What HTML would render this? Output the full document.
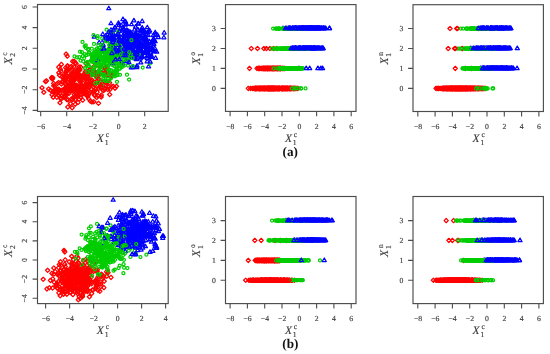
<!DOCTYPE html>
<html><head><meta charset="utf-8"><title>Figure</title>
<style>
html,body{margin:0;padding:0;background:#fff}
svg{display:block}
text{font-family:"Liberation Serif",serif;fill:#3c3c3c;stroke:#3c3c3c;stroke-width:.15px;text-rendering:geometricPrecision}
.t text{font-size:7.7px;text-anchor:middle}
.l{font-size:11.5px;font-style:italic}
.s{font-size:7.6px}
.c{font-size:13.2px;font-weight:bold;text-anchor:middle;fill:#111;stroke:none}
</style></head><body>
<svg width="550" height="354" viewBox="0 0 550 354">
<rect width="550" height="354" fill="#fff"/>
<g fill="none" stroke-linejoin="round" stroke-width="1.25">
<path stroke="#ff0000" d="M81.6 93.4l2.1-2.1 2.1 2.1-2.1 2.1zM91.3 86.9l2.1-2.1 2.1 2.1-2.1 2.1zM85.3 81.5l2.1-2.1 2.1 2.1-2.1 2.1zM60.1 90.1l2.1-2.1 2.1 2.1-2.1 2.1zM104 82.6l2.1-2.1 2.1 2.1-2.1 2.1zM107.6 94.5l2.1-2.1 2.1 2.1-2.1 2.1zM65 66.4l2.1-2.1 2.1 2.1-2.1 2.1zM92.2 74.7l2.1-2.1 2.1 2.1-2.1 2.1zM64.7 81.4l2.1-2.1 2.1 2.1-2.1 2.1zM71.8 66.7l2.1-2.1 2.1 2.1-2.1 2.1zM51.6 85.7l2.1-2.1 2.1 2.1-2.1 2.1zM75 72.4l2.1-2.1 2.1 2.1-2.1 2.1zM78.6 86.4l2.1-2.1 2.1 2.1-2.1 2.1zM84.3 95.4l2.1-2.1 2.1 2.1-2.1 2.1zM73.1 88.8l2.1-2.1 2.1 2.1-2.1 2.1zM56.6 67.1l2.1-2.1 2.1 2.1-2.1 2.1zM62.2 89.2l2.1-2.1 2.1 2.1-2.1 2.1zM82.2 93.1l2.1-2.1 2.1 2.1-2.1 2.1zM67.4 76.6l2.1-2.1 2.1 2.1-2.1 2.1zM51.5 83.4l2.1-2.1 2.1 2.1-2.1 2.1zM69.4 98.9l2.1-2.1 2.1 2.1-2.1 2.1zM49.9 94.8l2.1-2.1 2.1 2.1-2.1 2.1zM74.2 73l2.1-2.1 2.1 2.1-2.1 2.1zM74.2 93.1l2.1-2.1 2.1 2.1-2.1 2.1zM70.1 78.2l2.1-2.1 2.1 2.1-2.1 2.1zM61.5 97l2.1-2.1 2.1 2.1-2.1 2.1zM84.3 87.3l2.1-2.1 2.1 2.1-2.1 2.1zM95.6 95.7l2.1-2.1 2.1 2.1-2.1 2.1zM63.6 67.7l2.1-2.1 2.1 2.1-2.1 2.1zM63.9 93.7l2.1-2.1 2.1 2.1-2.1 2.1zM66.1 99.9l2.1-2.1 2.1 2.1-2.1 2.1zM95 81.4l2.1-2.1 2.1 2.1-2.1 2.1zM70.8 76.7l2.1-2.1 2.1 2.1-2.1 2.1zM75.4 89.9l2.1-2.1 2.1 2.1-2.1 2.1zM75.9 74.8l2.1-2.1 2.1 2.1-2.1 2.1zM90.8 71.3l2.1-2.1 2.1 2.1-2.1 2.1zM62.4 76l2.1-2.1 2.1 2.1-2.1 2.1zM80.5 76.8l2.1-2.1 2.1 2.1-2.1 2.1zM59.9 77l2.1-2.1 2.1 2.1-2.1 2.1zM88.2 101.1l2.1-2.1 2.1 2.1-2.1 2.1zM114.4 86.3l2.1-2.1 2.1 2.1-2.1 2.1zM75.1 91.3l2.1-2.1 2.1 2.1-2.1 2.1zM89 69.9l2.1-2.1 2.1 2.1-2.1 2.1zM64.1 85.2l2.1-2.1 2.1 2.1-2.1 2.1zM43.4 81.5l2.1-2.1 2.1 2.1-2.1 2.1zM72.4 96.9l2.1-2.1 2.1 2.1-2.1 2.1zM92.1 90.8l2.1-2.1 2.1 2.1-2.1 2.1zM82.9 76.2l2.1-2.1 2.1 2.1-2.1 2.1zM99.3 95.1l2.1-2.1 2.1 2.1-2.1 2.1zM99.1 97l2.1-2.1 2.1 2.1-2.1 2.1zM105.6 89.5l2.1-2.1 2.1 2.1-2.1 2.1zM85.6 96.4l2.1-2.1 2.1 2.1-2.1 2.1zM84.8 81.4l2.1-2.1 2.1 2.1-2.1 2.1zM83.6 74.4l2.1-2.1 2.1 2.1-2.1 2.1zM76.6 87.6l2.1-2.1 2.1 2.1-2.1 2.1zM73 99.6l2.1-2.1 2.1 2.1-2.1 2.1zM73.2 88.9l2.1-2.1 2.1 2.1-2.1 2.1zM67.9 89.1l2.1-2.1 2.1 2.1-2.1 2.1zM83.7 85.4l2.1-2.1 2.1 2.1-2.1 2.1zM65.1 69.1l2.1-2.1 2.1 2.1-2.1 2.1zM70.4 77.8l2.1-2.1 2.1 2.1-2.1 2.1zM83.3 74.7l2.1-2.1 2.1 2.1-2.1 2.1zM52.8 86.9l2.1-2.1 2.1 2.1-2.1 2.1zM94 65.6l2.1-2.1 2.1 2.1-2.1 2.1zM79.8 77.7l2.1-2.1 2.1 2.1-2.1 2.1zM69.7 89.3l2.1-2.1 2.1 2.1-2.1 2.1zM107.9 89.4l2.1-2.1 2.1 2.1-2.1 2.1zM75.5 87.5l2.1-2.1 2.1 2.1-2.1 2.1zM64.3 88.7l2.1-2.1 2.1 2.1-2.1 2.1zM76.9 75.7l2.1-2.1 2.1 2.1-2.1 2.1zM74 85.1l2.1-2.1 2.1 2.1-2.1 2.1zM71.6 74.1l2.1-2.1 2.1 2.1-2.1 2.1zM70.6 85.4l2.1-2.1 2.1 2.1-2.1 2.1zM55.7 92.2l2.1-2.1 2.1 2.1-2.1 2.1zM72.4 79l2.1-2.1 2.1 2.1-2.1 2.1zM62.5 78l2.1-2.1 2.1 2.1-2.1 2.1zM101.9 81.3l2.1-2.1 2.1 2.1-2.1 2.1zM80.3 85.9l2.1-2.1 2.1 2.1-2.1 2.1zM77.5 75.9l2.1-2.1 2.1 2.1-2.1 2.1zM74.1 90.2l2.1-2.1 2.1 2.1-2.1 2.1zM56 95l2.1-2.1 2.1 2.1-2.1 2.1zM84.4 73.2l2.1-2.1 2.1 2.1-2.1 2.1zM96.3 88.7l2.1-2.1 2.1 2.1-2.1 2.1zM81.4 90.1l2.1-2.1 2.1 2.1-2.1 2.1zM74.9 86.1l2.1-2.1 2.1 2.1-2.1 2.1zM89.6 71.5l2.1-2.1 2.1 2.1-2.1 2.1zM84.4 89.3l2.1-2.1 2.1 2.1-2.1 2.1z"/>
<path stroke="#ff0000" d="M97.9 74.2l2.1-2.1 2.1 2.1-2.1 2.1zM67.7 88l2.1-2.1 2.1 2.1-2.1 2.1zM104 81.9l2.1-2.1 2.1 2.1-2.1 2.1zM82.5 75l2.1-2.1 2.1 2.1-2.1 2.1zM91.1 72.2l2.1-2.1 2.1 2.1-2.1 2.1zM77.9 79.4l2.1-2.1 2.1 2.1-2.1 2.1zM51.9 92.8l2.1-2.1 2.1 2.1-2.1 2.1zM68.3 90.4l2.1-2.1 2.1 2.1-2.1 2.1zM64.5 71l2.1-2.1 2.1 2.1-2.1 2.1zM74.5 86.7l2.1-2.1 2.1 2.1-2.1 2.1zM50.9 91.4l2.1-2.1 2.1 2.1-2.1 2.1zM71.2 98l2.1-2.1 2.1 2.1-2.1 2.1zM79.2 78.5l2.1-2.1 2.1 2.1-2.1 2.1zM64.6 94.8l2.1-2.1 2.1 2.1-2.1 2.1zM110.4 74.6l2.1-2.1 2.1 2.1-2.1 2.1zM103.7 74l2.1-2.1 2.1 2.1-2.1 2.1zM66.1 79.4l2.1-2.1 2.1 2.1-2.1 2.1zM67.9 84.7l2.1-2.1 2.1 2.1-2.1 2.1zM77.4 69.3l2.1-2.1 2.1 2.1-2.1 2.1zM92.4 95.4l2.1-2.1 2.1 2.1-2.1 2.1zM41.7 92.3l2.1-2.1 2.1 2.1-2.1 2.1zM87.3 83.1l2.1-2.1 2.1 2.1-2.1 2.1zM69.8 70.2l2.1-2.1 2.1 2.1-2.1 2.1zM91.5 66.7l2.1-2.1 2.1 2.1-2.1 2.1zM76.9 75l2.1-2.1 2.1 2.1-2.1 2.1zM73 78l2.1-2.1 2.1 2.1-2.1 2.1zM78.7 67.1l2.1-2.1 2.1 2.1-2.1 2.1zM104.4 82.6l2.1-2.1 2.1 2.1-2.1 2.1zM100.5 89.8l2.1-2.1 2.1 2.1-2.1 2.1zM76.1 71.3l2.1-2.1 2.1 2.1-2.1 2.1zM56.3 90l2.1-2.1 2.1 2.1-2.1 2.1zM72.2 85.1l2.1-2.1 2.1 2.1-2.1 2.1zM75.9 102.5l2.1-2.1 2.1 2.1-2.1 2.1zM109.7 86.8l2.1-2.1 2.1 2.1-2.1 2.1zM101.7 82l2.1-2.1 2.1 2.1-2.1 2.1zM82.2 87.3l2.1-2.1 2.1 2.1-2.1 2.1zM77 99.2l2.1-2.1 2.1 2.1-2.1 2.1zM87.5 74.5l2.1-2.1 2.1 2.1-2.1 2.1zM90.7 92.7l2.1-2.1 2.1 2.1-2.1 2.1zM75.8 69l2.1-2.1 2.1 2.1-2.1 2.1zM64.8 86.4l2.1-2.1 2.1 2.1-2.1 2.1zM64 72.2l2.1-2.1 2.1 2.1-2.1 2.1zM57.4 93.1l2.1-2.1 2.1 2.1-2.1 2.1zM85.7 89.9l2.1-2.1 2.1 2.1-2.1 2.1zM79 84.5l2.1-2.1 2.1 2.1-2.1 2.1zM70.4 76.1l2.1-2.1 2.1 2.1-2.1 2.1zM95.2 77.3l2.1-2.1 2.1 2.1-2.1 2.1zM87 82.8l2.1-2.1 2.1 2.1-2.1 2.1z"/>
<path stroke="#00cd00" d="M105.5 63.5a1.5 1.5 0 1 0 3 0a1.5 1.5 0 1 0-3 0M103.2 55.6a1.5 1.5 0 1 0 3 0a1.5 1.5 0 1 0-3 0"/>
<path stroke="#0000ff" d="M119.5 46.5l2 3.5-4.1 0zM124.1 37.9l2 3.5-4.1 0zM127.6 44.8l2 3.5-4.1 0zM136.8 53l2 3.5-4.1 0zM130.2 37.1l2 3.5-4.1 0zM137.8 53.5l2 3.5-4.1 0zM126.7 39.9l2 3.5-4.1 0zM122.6 61.5l2 3.5-4.1 0zM156.7 49.6l2 3.5-4.1 0zM119 22.9l2 3.5-4.1 0zM145.3 49.5l2 3.5-4.1 0zM146.6 45.8l2 3.5-4.1 0zM131.9 55.4l2 3.5-4.1 0zM123.4 27.3l2 3.5-4.1 0zM140.9 55.2l2 3.5-4.1 0zM123.1 41.7l2 3.5-4.1 0zM152.7 38l2 3.5-4.1 0zM141.2 51.2l2 3.5-4.1 0zM123.4 48.9l2 3.5-4.1 0zM123.6 35.9l2 3.5-4.1 0zM139.2 39.6l2 3.5-4.1 0zM136.9 48.2l2 3.5-4.1 0zM130.4 52.9l2 3.5-4.1 0zM143.8 37.3l2 3.5-4.1 0zM109.5 33.2l2 3.5-4.1 0zM129.9 29.5l2 3.5-4.1 0zM150.9 50.4l2 3.5-4.1 0zM128.1 31.4l2 3.5-4.1 0zM132.5 44.6l2 3.5-4.1 0zM143.7 47.5l2 3.5-4.1 0zM153.4 33l2 3.5-4.1 0zM111 27.7l2 3.5-4.1 0zM133.9 36.6l2 3.5-4.1 0zM133.5 52.4l2 3.5-4.1 0zM94.3 34.6l2 3.5-4.1 0zM131 38.7l2 3.5-4.1 0zM138 27.5l2 3.5-4.1 0z"/>
<path stroke="#ff0000" d="M85.7 76.2l2.1-2.1 2.1 2.1-2.1 2.1zM59.3 64.4l2.1-2.1 2.1 2.1-2.1 2.1zM70.5 61.4l2.1-2.1 2.1 2.1-2.1 2.1zM102.8 89.3l2.1-2.1 2.1 2.1-2.1 2.1zM58.6 98l2.1-2.1 2.1 2.1-2.1 2.1zM72.9 87.2l2.1-2.1 2.1 2.1-2.1 2.1zM83.2 93l2.1-2.1 2.1 2.1-2.1 2.1zM48.4 90.2l2.1-2.1 2.1 2.1-2.1 2.1zM68 75.2l2.1-2.1 2.1 2.1-2.1 2.1zM89.4 79.9l2.1-2.1 2.1 2.1-2.1 2.1zM76.1 74.6l2.1-2.1 2.1 2.1-2.1 2.1zM74 63.4l2.1-2.1 2.1 2.1-2.1 2.1zM44.4 80.9l2.1-2.1 2.1 2.1-2.1 2.1zM61.6 90.7l2.1-2.1 2.1 2.1-2.1 2.1zM57.3 90.2l2.1-2.1 2.1 2.1-2.1 2.1zM73.1 96.1l2.1-2.1 2.1 2.1-2.1 2.1zM75.8 95.2l2.1-2.1 2.1 2.1-2.1 2.1zM54.6 90.4l2.1-2.1 2.1 2.1-2.1 2.1zM55.2 83.5l2.1-2.1 2.1 2.1-2.1 2.1zM56.9 89.3l2.1-2.1 2.1 2.1-2.1 2.1zM89.8 102l2.1-2.1 2.1 2.1-2.1 2.1zM75.2 90.2l2.1-2.1 2.1 2.1-2.1 2.1z"/>
<path stroke="#00cd00" d="M97.6 75.5a1.5 1.5 0 1 0 3 0a1.5 1.5 0 1 0-3 0M108 48.7a1.5 1.5 0 1 0 3 0a1.5 1.5 0 1 0-3 0M104.9 65.9a1.5 1.5 0 1 0 3 0a1.5 1.5 0 1 0-3 0M92 35.2a1.5 1.5 0 1 0 3 0a1.5 1.5 0 1 0-3 0M96.8 55.1a1.5 1.5 0 1 0 3 0a1.5 1.5 0 1 0-3 0M106.7 60.6a1.5 1.5 0 1 0 3 0a1.5 1.5 0 1 0-3 0M93.4 59.9a1.5 1.5 0 1 0 3 0a1.5 1.5 0 1 0-3 0M116.8 40.7a1.5 1.5 0 1 0 3 0a1.5 1.5 0 1 0-3 0M95.2 57.3a1.5 1.5 0 1 0 3 0a1.5 1.5 0 1 0-3 0M98.5 64.9a1.5 1.5 0 1 0 3 0a1.5 1.5 0 1 0-3 0M116.1 53.5a1.5 1.5 0 1 0 3 0a1.5 1.5 0 1 0-3 0M105.4 67.4a1.5 1.5 0 1 0 3 0a1.5 1.5 0 1 0-3 0M103.9 76.4a1.5 1.5 0 1 0 3 0a1.5 1.5 0 1 0-3 0M100.1 72.9a1.5 1.5 0 1 0 3 0a1.5 1.5 0 1 0-3 0M99.1 53a1.5 1.5 0 1 0 3 0a1.5 1.5 0 1 0-3 0M110.2 47a1.5 1.5 0 1 0 3 0a1.5 1.5 0 1 0-3 0M97.5 56.9a1.5 1.5 0 1 0 3 0a1.5 1.5 0 1 0-3 0M92.1 58.7a1.5 1.5 0 1 0 3 0a1.5 1.5 0 1 0-3 0M103.6 61.6a1.5 1.5 0 1 0 3 0a1.5 1.5 0 1 0-3 0M92.5 43.9a1.5 1.5 0 1 0 3 0a1.5 1.5 0 1 0-3 0M106.9 65.7a1.5 1.5 0 1 0 3 0a1.5 1.5 0 1 0-3 0M99.4 66.8a1.5 1.5 0 1 0 3 0a1.5 1.5 0 1 0-3 0M88.7 83.3a1.5 1.5 0 1 0 3 0a1.5 1.5 0 1 0-3 0M78.5 51.7a1.5 1.5 0 1 0 3 0a1.5 1.5 0 1 0-3 0M103.3 61.3a1.5 1.5 0 1 0 3 0a1.5 1.5 0 1 0-3 0M116 57.1a1.5 1.5 0 1 0 3 0a1.5 1.5 0 1 0-3 0M118 57.8a1.5 1.5 0 1 0 3 0a1.5 1.5 0 1 0-3 0M121.5 62.7a1.5 1.5 0 1 0 3 0a1.5 1.5 0 1 0-3 0M101.3 52.1a1.5 1.5 0 1 0 3 0a1.5 1.5 0 1 0-3 0M124.3 55.9a1.5 1.5 0 1 0 3 0a1.5 1.5 0 1 0-3 0M112.1 46.4a1.5 1.5 0 1 0 3 0a1.5 1.5 0 1 0-3 0M108.2 69.9a1.5 1.5 0 1 0 3 0a1.5 1.5 0 1 0-3 0M114.8 70.3a1.5 1.5 0 1 0 3 0a1.5 1.5 0 1 0-3 0M83.4 68a1.5 1.5 0 1 0 3 0a1.5 1.5 0 1 0-3 0"/>
<path stroke="#0000ff" d="M135.5 33.6l2 3.5-4.1 0zM112.7 53.3l2 3.5-4.1 0zM134.3 39.3l2 3.5-4.1 0zM144.9 29.5l2 3.5-4.1 0zM140.2 43.6l2 3.5-4.1 0zM152.1 39.9l2 3.5-4.1 0zM108.5 35l2 3.5-4.1 0zM163.9 35.3l2 3.5-4.1 0zM132.8 39.7l2 3.5-4.1 0zM136.4 57l2 3.5-4.1 0zM128.2 37.9l2 3.5-4.1 0zM149.7 43.1l2 3.5-4.1 0zM141.1 53.1l2 3.5-4.1 0zM139.5 41.8l2 3.5-4.1 0zM123.7 39.9l2 3.5-4.1 0zM135.6 24.6l2 3.5-4.1 0zM133.7 40.9l2 3.5-4.1 0zM131 30.6l2 3.5-4.1 0zM130.1 49l2 3.5-4.1 0zM128.5 45.1l2 3.5-4.1 0zM144.2 37.6l2 3.5-4.1 0zM143.3 43.7l2 3.5-4.1 0zM122 50.8l2 3.5-4.1 0zM124.5 50.9l2 3.5-4.1 0zM140.7 43.9l2 3.5-4.1 0zM123.3 36.2l2 3.5-4.1 0zM131.7 53.7l2 3.5-4.1 0zM115.3 40.7l2 3.5-4.1 0zM128 53.5l2 3.5-4.1 0zM141 44l2 3.5-4.1 0zM126.6 36.6l2 3.5-4.1 0z"/>
<path stroke="#ff0000" d="M57.4 75.3l2.1-2.1 2.1 2.1-2.1 2.1zM87.2 69.9l2.1-2.1 2.1 2.1-2.1 2.1zM72.6 79.9l2.1-2.1 2.1 2.1-2.1 2.1zM69.2 82.4l2.1-2.1 2.1 2.1-2.1 2.1zM69.8 79.4l2.1-2.1 2.1 2.1-2.1 2.1zM79.1 94.8l2.1-2.1 2.1 2.1-2.1 2.1zM96.4 82.7l2.1-2.1 2.1 2.1-2.1 2.1zM108.4 73.5l2.1-2.1 2.1 2.1-2.1 2.1zM73 62.9l2.1-2.1 2.1 2.1-2.1 2.1zM65.2 56.1l2.1-2.1 2.1 2.1-2.1 2.1zM99.7 72.5l2.1-2.1 2.1 2.1-2.1 2.1zM71.7 79.5l2.1-2.1 2.1 2.1-2.1 2.1zM68.1 67.1l2.1-2.1 2.1 2.1-2.1 2.1zM95.6 74.3l2.1-2.1 2.1 2.1-2.1 2.1zM85.9 95.6l2.1-2.1 2.1 2.1-2.1 2.1zM53.7 93.5l2.1-2.1 2.1 2.1-2.1 2.1zM112.9 88.2l2.1-2.1 2.1 2.1-2.1 2.1zM63.6 92.5l2.1-2.1 2.1 2.1-2.1 2.1zM59 99.1l2.1-2.1 2.1 2.1-2.1 2.1zM90.9 71.1l2.1-2.1 2.1 2.1-2.1 2.1zM78.4 77.4l2.1-2.1 2.1 2.1-2.1 2.1zM70.7 74.8l2.1-2.1 2.1 2.1-2.1 2.1zM107.5 82.8l2.1-2.1 2.1 2.1-2.1 2.1zM68.5 71l2.1-2.1 2.1 2.1-2.1 2.1zM72.1 61.2l2.1-2.1 2.1 2.1-2.1 2.1zM63.9 75l2.1-2.1 2.1 2.1-2.1 2.1zM49.5 77.6l2.1-2.1 2.1 2.1-2.1 2.1zM94.6 97.5l2.1-2.1 2.1 2.1-2.1 2.1zM80.6 100.1l2.1-2.1 2.1 2.1-2.1 2.1zM50.7 77.8l2.1-2.1 2.1 2.1-2.1 2.1zM64.8 99.6l2.1-2.1 2.1 2.1-2.1 2.1zM59.9 81.9l2.1-2.1 2.1 2.1-2.1 2.1zM86.2 84.7l2.1-2.1 2.1 2.1-2.1 2.1zM77.4 83.9l2.1-2.1 2.1 2.1-2.1 2.1z"/>
<path stroke="#00cd00" d="M98.6 55.5a1.5 1.5 0 1 0 3 0a1.5 1.5 0 1 0-3 0M87.2 62.4a1.5 1.5 0 1 0 3 0a1.5 1.5 0 1 0-3 0M118.3 68.8a1.5 1.5 0 1 0 3 0a1.5 1.5 0 1 0-3 0M107.6 57.9a1.5 1.5 0 1 0 3 0a1.5 1.5 0 1 0-3 0M98.4 55.8a1.5 1.5 0 1 0 3 0a1.5 1.5 0 1 0-3 0M102.7 60.1a1.5 1.5 0 1 0 3 0a1.5 1.5 0 1 0-3 0M107.3 54.4a1.5 1.5 0 1 0 3 0a1.5 1.5 0 1 0-3 0M114.6 63.1a1.5 1.5 0 1 0 3 0a1.5 1.5 0 1 0-3 0M101.1 85.5a1.5 1.5 0 1 0 3 0a1.5 1.5 0 1 0-3 0M97.3 56a1.5 1.5 0 1 0 3 0a1.5 1.5 0 1 0-3 0M92.4 71a1.5 1.5 0 1 0 3 0a1.5 1.5 0 1 0-3 0M109 60.4a1.5 1.5 0 1 0 3 0a1.5 1.5 0 1 0-3 0M112.3 49.6a1.5 1.5 0 1 0 3 0a1.5 1.5 0 1 0-3 0M83.3 54a1.5 1.5 0 1 0 3 0a1.5 1.5 0 1 0-3 0M106.4 49.8a1.5 1.5 0 1 0 3 0a1.5 1.5 0 1 0-3 0M96.4 56.1a1.5 1.5 0 1 0 3 0a1.5 1.5 0 1 0-3 0M119.9 67.4a1.5 1.5 0 1 0 3 0a1.5 1.5 0 1 0-3 0M90.9 58.9a1.5 1.5 0 1 0 3 0a1.5 1.5 0 1 0-3 0M97.2 52.8a1.5 1.5 0 1 0 3 0a1.5 1.5 0 1 0-3 0M116.3 47.7a1.5 1.5 0 1 0 3 0a1.5 1.5 0 1 0-3 0M89 71.7a1.5 1.5 0 1 0 3 0a1.5 1.5 0 1 0-3 0M106.3 66.3a1.5 1.5 0 1 0 3 0a1.5 1.5 0 1 0-3 0M95.1 56.6a1.5 1.5 0 1 0 3 0a1.5 1.5 0 1 0-3 0M98.9 58.4a1.5 1.5 0 1 0 3 0a1.5 1.5 0 1 0-3 0M100.9 60.1a1.5 1.5 0 1 0 3 0a1.5 1.5 0 1 0-3 0M109.1 58.8a1.5 1.5 0 1 0 3 0a1.5 1.5 0 1 0-3 0M102.5 62.3a1.5 1.5 0 1 0 3 0a1.5 1.5 0 1 0-3 0M102 46.4a1.5 1.5 0 1 0 3 0a1.5 1.5 0 1 0-3 0"/>
<path stroke="#0000ff" d="M120.5 40.4l2 3.5-4.1 0zM110.7 41.2l2 3.5-4.1 0zM147.3 25.2l2 3.5-4.1 0zM144.4 43.8l2 3.5-4.1 0zM151 54.9l2 3.5-4.1 0zM147.5 53.9l2 3.5-4.1 0zM127.7 45.9l2 3.5-4.1 0zM121.4 60.9l2 3.5-4.1 0zM104.6 48.5l2 3.5-4.1 0zM147.6 41.1l2 3.5-4.1 0zM134.2 55l2 3.5-4.1 0zM147.8 45.3l2 3.5-4.1 0zM147.2 46.4l2 3.5-4.1 0zM132.8 48.4l2 3.5-4.1 0zM155.6 55.8l2 3.5-4.1 0zM133.2 48.4l2 3.5-4.1 0zM133.2 38.2l2 3.5-4.1 0zM164.2 30.5l2 3.5-4.1 0zM106.4 38l2 3.5-4.1 0zM128.7 37.4l2 3.5-4.1 0zM134.5 56l2 3.5-4.1 0zM143.6 28.2l2 3.5-4.1 0zM134.9 42.3l2 3.5-4.1 0zM153.8 36.7l2 3.5-4.1 0zM116.6 52.1l2 3.5-4.1 0z"/>
<path stroke="#ff0000" d="M97.7 84l2.1-2.1 2.1 2.1-2.1 2.1zM93 94.9l2.1-2.1 2.1 2.1-2.1 2.1zM73.4 78.9l2.1-2.1 2.1 2.1-2.1 2.1zM53 89.6l2.1-2.1 2.1 2.1-2.1 2.1zM84 74.3l2.1-2.1 2.1 2.1-2.1 2.1zM77.2 77.9l2.1-2.1 2.1 2.1-2.1 2.1zM105.9 74.8l2.1-2.1 2.1 2.1-2.1 2.1zM68.2 84.1l2.1-2.1 2.1 2.1-2.1 2.1zM95.1 92.1l2.1-2.1 2.1 2.1-2.1 2.1zM68.5 75.4l2.1-2.1 2.1 2.1-2.1 2.1zM77.9 86.7l2.1-2.1 2.1 2.1-2.1 2.1zM69 86l2.1-2.1 2.1 2.1-2.1 2.1zM70.9 81.9l2.1-2.1 2.1 2.1-2.1 2.1zM88 92.5l2.1-2.1 2.1 2.1-2.1 2.1zM56.3 89.2l2.1-2.1 2.1 2.1-2.1 2.1zM70.3 85.1l2.1-2.1 2.1 2.1-2.1 2.1zM92.2 85.3l2.1-2.1 2.1 2.1-2.1 2.1zM87.1 87.1l2.1-2.1 2.1 2.1-2.1 2.1zM79.8 85.1l2.1-2.1 2.1 2.1-2.1 2.1zM67.2 91.1l2.1-2.1 2.1 2.1-2.1 2.1zM98.5 85.4l2.1-2.1 2.1 2.1-2.1 2.1zM84.2 87.7l2.1-2.1 2.1 2.1-2.1 2.1z"/>
<path stroke="#00cd00" d="M86.9 54.4a1.5 1.5 0 1 0 3 0a1.5 1.5 0 1 0-3 0M112.8 53.5a1.5 1.5 0 1 0 3 0a1.5 1.5 0 1 0-3 0M85.9 61.8a1.5 1.5 0 1 0 3 0a1.5 1.5 0 1 0-3 0M118.8 62.5a1.5 1.5 0 1 0 3 0a1.5 1.5 0 1 0-3 0M94 63.2a1.5 1.5 0 1 0 3 0a1.5 1.5 0 1 0-3 0M122.4 58.8a1.5 1.5 0 1 0 3 0a1.5 1.5 0 1 0-3 0M127.3 60.8a1.5 1.5 0 1 0 3 0a1.5 1.5 0 1 0-3 0M107.7 58.5a1.5 1.5 0 1 0 3 0a1.5 1.5 0 1 0-3 0M124.7 48.7a1.5 1.5 0 1 0 3 0a1.5 1.5 0 1 0-3 0M91.5 58a1.5 1.5 0 1 0 3 0a1.5 1.5 0 1 0-3 0M111.6 73.4a1.5 1.5 0 1 0 3 0a1.5 1.5 0 1 0-3 0M119.9 52.2a1.5 1.5 0 1 0 3 0a1.5 1.5 0 1 0-3 0M114.9 37.5a1.5 1.5 0 1 0 3 0a1.5 1.5 0 1 0-3 0M123.7 45.9a1.5 1.5 0 1 0 3 0a1.5 1.5 0 1 0-3 0M96.7 77.4a1.5 1.5 0 1 0 3 0a1.5 1.5 0 1 0-3 0M118 68.3a1.5 1.5 0 1 0 3 0a1.5 1.5 0 1 0-3 0M109.6 50.2a1.5 1.5 0 1 0 3 0a1.5 1.5 0 1 0-3 0M116.7 61.5a1.5 1.5 0 1 0 3 0a1.5 1.5 0 1 0-3 0M115 68.5a1.5 1.5 0 1 0 3 0a1.5 1.5 0 1 0-3 0M107.2 59.9a1.5 1.5 0 1 0 3 0a1.5 1.5 0 1 0-3 0M114.9 70.3a1.5 1.5 0 1 0 3 0a1.5 1.5 0 1 0-3 0M84.3 71.1a1.5 1.5 0 1 0 3 0a1.5 1.5 0 1 0-3 0M94.5 77.2a1.5 1.5 0 1 0 3 0a1.5 1.5 0 1 0-3 0M108.5 31.7a1.5 1.5 0 1 0 3 0a1.5 1.5 0 1 0-3 0M104.3 52.1a1.5 1.5 0 1 0 3 0a1.5 1.5 0 1 0-3 0M111.6 54.9a1.5 1.5 0 1 0 3 0a1.5 1.5 0 1 0-3 0M96.8 71.7a1.5 1.5 0 1 0 3 0a1.5 1.5 0 1 0-3 0M104.1 69.3a1.5 1.5 0 1 0 3 0a1.5 1.5 0 1 0-3 0M106.3 69.5a1.5 1.5 0 1 0 3 0a1.5 1.5 0 1 0-3 0M113.7 50.9a1.5 1.5 0 1 0 3 0a1.5 1.5 0 1 0-3 0M92.6 70.5a1.5 1.5 0 1 0 3 0a1.5 1.5 0 1 0-3 0M106.5 52.1a1.5 1.5 0 1 0 3 0a1.5 1.5 0 1 0-3 0M116.2 52.9a1.5 1.5 0 1 0 3 0a1.5 1.5 0 1 0-3 0M111 52.3a1.5 1.5 0 1 0 3 0a1.5 1.5 0 1 0-3 0M90.5 55.9a1.5 1.5 0 1 0 3 0a1.5 1.5 0 1 0-3 0"/>
<path stroke="#0000ff" d="M141.5 44l2 3.5-4.1 0zM146.7 49.2l2 3.5-4.1 0zM113.5 32l2 3.5-4.1 0zM119.3 38.1l2 3.5-4.1 0zM140.8 60.4l2 3.5-4.1 0zM123.6 51.2l2 3.5-4.1 0zM118.5 36.4l2 3.5-4.1 0zM134.5 27.5l2 3.5-4.1 0zM112.9 32.7l2 3.5-4.1 0zM149.1 29.6l2 3.5-4.1 0zM149.5 39.6l2 3.5-4.1 0zM137.8 27.5l2 3.5-4.1 0zM140.4 56.3l2 3.5-4.1 0zM134.5 53.9l2 3.5-4.1 0zM126.5 21.9l2 3.5-4.1 0zM152.4 39.4l2 3.5-4.1 0zM138.8 44.3l2 3.5-4.1 0zM125.6 48.2l2 3.5-4.1 0zM117.6 32.3l2 3.5-4.1 0zM143.3 40.9l2 3.5-4.1 0zM138.9 48.4l2 3.5-4.1 0zM117.7 37.2l2 3.5-4.1 0zM141.7 54.8l2 3.5-4.1 0zM140.8 28.2l2 3.5-4.1 0zM128.3 31.2l2 3.5-4.1 0zM130.2 44l2 3.5-4.1 0zM114.7 45.4l2 3.5-4.1 0zM147.2 41.4l2 3.5-4.1 0zM103.7 37.7l2 3.5-4.1 0zM133.9 18.4l2 3.5-4.1 0z"/>
<path stroke="#ff0000" d="M62.1 96.5l2.1-2.1 2.1 2.1-2.1 2.1zM91.9 91.4l2.1-2.1 2.1 2.1-2.1 2.1zM97.6 86.4l2.1-2.1 2.1 2.1-2.1 2.1zM94.9 80.9l2.1-2.1 2.1 2.1-2.1 2.1zM64 54.1l2.1-2.1 2.1 2.1-2.1 2.1zM72.6 86.3l2.1-2.1 2.1 2.1-2.1 2.1zM78 80.6l2.1-2.1 2.1 2.1-2.1 2.1zM52.5 90.8l2.1-2.1 2.1 2.1-2.1 2.1zM62.9 96.1l2.1-2.1 2.1 2.1-2.1 2.1zM75.9 96.3l2.1-2.1 2.1 2.1-2.1 2.1zM90.2 80.4l2.1-2.1 2.1 2.1-2.1 2.1zM93.3 74l2.1-2.1 2.1 2.1-2.1 2.1zM62 74.4l2.1-2.1 2.1 2.1-2.1 2.1zM81 83.4l2.1-2.1 2.1 2.1-2.1 2.1zM67.5 85.9l2.1-2.1 2.1 2.1-2.1 2.1zM81 89.8l2.1-2.1 2.1 2.1-2.1 2.1zM68.4 85.9l2.1-2.1 2.1 2.1-2.1 2.1zM86.6 98.7l2.1-2.1 2.1 2.1-2.1 2.1zM79.5 90.1l2.1-2.1 2.1 2.1-2.1 2.1zM95.5 63.3l2.1-2.1 2.1 2.1-2.1 2.1zM70.4 99.8l2.1-2.1 2.1 2.1-2.1 2.1zM50.3 79l2.1-2.1 2.1 2.1-2.1 2.1zM77.7 75.1l2.1-2.1 2.1 2.1-2.1 2.1zM83.2 71.7l2.1-2.1 2.1 2.1-2.1 2.1zM79.1 91.8l2.1-2.1 2.1 2.1-2.1 2.1zM69.2 81.9l2.1-2.1 2.1 2.1-2.1 2.1zM79.2 79.7l2.1-2.1 2.1 2.1-2.1 2.1zM68.5 84.7l2.1-2.1 2.1 2.1-2.1 2.1zM71 89.5l2.1-2.1 2.1 2.1-2.1 2.1zM66 86.8l2.1-2.1 2.1 2.1-2.1 2.1zM63.7 78.2l2.1-2.1 2.1 2.1-2.1 2.1zM96.4 78.9l2.1-2.1 2.1 2.1-2.1 2.1zM39.9 87.7l2.1-2.1 2.1 2.1-2.1 2.1zM49.9 78.8l2.1-2.1 2.1 2.1-2.1 2.1zM71.1 90.2l2.1-2.1 2.1 2.1-2.1 2.1z"/>
<path stroke="#00cd00" d="M106.9 56.8a1.5 1.5 0 1 0 3 0a1.5 1.5 0 1 0-3 0M115.4 51.7a1.5 1.5 0 1 0 3 0a1.5 1.5 0 1 0-3 0M81.3 56.2a1.5 1.5 0 1 0 3 0a1.5 1.5 0 1 0-3 0M109.5 59.3a1.5 1.5 0 1 0 3 0a1.5 1.5 0 1 0-3 0M121.1 66.6a1.5 1.5 0 1 0 3 0a1.5 1.5 0 1 0-3 0M100.7 38.2a1.5 1.5 0 1 0 3 0a1.5 1.5 0 1 0-3 0M85.9 64.6a1.5 1.5 0 1 0 3 0a1.5 1.5 0 1 0-3 0M125.5 74.7a1.5 1.5 0 1 0 3 0a1.5 1.5 0 1 0-3 0M91.1 54.2a1.5 1.5 0 1 0 3 0a1.5 1.5 0 1 0-3 0M94.8 74.4a1.5 1.5 0 1 0 3 0a1.5 1.5 0 1 0-3 0M93.8 50a1.5 1.5 0 1 0 3 0a1.5 1.5 0 1 0-3 0M126.5 65.6a1.5 1.5 0 1 0 3 0a1.5 1.5 0 1 0-3 0M99.4 51.1a1.5 1.5 0 1 0 3 0a1.5 1.5 0 1 0-3 0M97.7 51.5a1.5 1.5 0 1 0 3 0a1.5 1.5 0 1 0-3 0M108.1 54.3a1.5 1.5 0 1 0 3 0a1.5 1.5 0 1 0-3 0M129.7 45.7a1.5 1.5 0 1 0 3 0a1.5 1.5 0 1 0-3 0M109.9 49a1.5 1.5 0 1 0 3 0a1.5 1.5 0 1 0-3 0M107.9 81.1a1.5 1.5 0 1 0 3 0a1.5 1.5 0 1 0-3 0M120.7 37.4a1.5 1.5 0 1 0 3 0a1.5 1.5 0 1 0-3 0M115.4 65.5a1.5 1.5 0 1 0 3 0a1.5 1.5 0 1 0-3 0M106.4 78.9a1.5 1.5 0 1 0 3 0a1.5 1.5 0 1 0-3 0M104.1 70a1.5 1.5 0 1 0 3 0a1.5 1.5 0 1 0-3 0"/>
<path stroke="#0000ff" d="M131.7 38.2l2 3.5-4.1 0zM133.9 42.5l2 3.5-4.1 0zM128.2 41.7l2 3.5-4.1 0zM129 37.9l2 3.5-4.1 0zM101.8 46.8l2 3.5-4.1 0zM141.6 52.5l2 3.5-4.1 0zM115.2 25.4l2 3.5-4.1 0zM136.8 65.2l2 3.5-4.1 0zM108.3 36.8l2 3.5-4.1 0zM144.9 35.3l2 3.5-4.1 0zM118 32.8l2 3.5-4.1 0zM155.4 31.7l2 3.5-4.1 0zM123.1 25.5l2 3.5-4.1 0zM130.8 40.5l2 3.5-4.1 0zM148.6 46.7l2 3.5-4.1 0zM128.2 33.9l2 3.5-4.1 0zM115.3 56.9l2 3.5-4.1 0zM124.3 51.6l2 3.5-4.1 0zM146.4 32.5l2 3.5-4.1 0zM142.2 28.6l2 3.5-4.1 0zM118.5 20.9l2 3.5-4.1 0zM145.3 36.6l2 3.5-4.1 0zM128.3 43.7l2 3.5-4.1 0zM152 46.7l2 3.5-4.1 0zM129.5 43.4l2 3.5-4.1 0zM112.6 35.1l2 3.5-4.1 0zM140.4 42.6l2 3.5-4.1 0zM147.4 30l2 3.5-4.1 0zM118.5 48.9l2 3.5-4.1 0zM144.2 33.6l2 3.5-4.1 0z"/>
<path stroke="#ff0000" d="M67.3 88.1l2.1-2.1 2.1 2.1-2.1 2.1zM75.4 75.5l2.1-2.1 2.1 2.1-2.1 2.1zM83.9 63.9l2.1-2.1 2.1 2.1-2.1 2.1zM91 91.2l2.1-2.1 2.1 2.1-2.1 2.1zM86.3 78.2l2.1-2.1 2.1 2.1-2.1 2.1zM54.4 89.6l2.1-2.1 2.1 2.1-2.1 2.1zM55.4 90.2l2.1-2.1 2.1 2.1-2.1 2.1zM66.8 93.5l2.1-2.1 2.1 2.1-2.1 2.1zM73.1 104.2l2.1-2.1 2.1 2.1-2.1 2.1zM84.5 84.2l2.1-2.1 2.1 2.1-2.1 2.1zM99.1 87.4l2.1-2.1 2.1 2.1-2.1 2.1zM105.6 86.5l2.1-2.1 2.1 2.1-2.1 2.1zM87.6 85.3l2.1-2.1 2.1 2.1-2.1 2.1zM46.5 89l2.1-2.1 2.1 2.1-2.1 2.1zM58.2 69.3l2.1-2.1 2.1 2.1-2.1 2.1zM71.9 87.2l2.1-2.1 2.1 2.1-2.1 2.1zM70.1 90.6l2.1-2.1 2.1 2.1-2.1 2.1zM89.4 89.4l2.1-2.1 2.1 2.1-2.1 2.1zM60.9 82.1l2.1-2.1 2.1 2.1-2.1 2.1zM77.9 88.4l2.1-2.1 2.1 2.1-2.1 2.1zM56.5 82.6l2.1-2.1 2.1 2.1-2.1 2.1zM93.4 74.7l2.1-2.1 2.1 2.1-2.1 2.1zM74.2 70.8l2.1-2.1 2.1 2.1-2.1 2.1zM80.1 91.3l2.1-2.1 2.1 2.1-2.1 2.1z"/>
<path stroke="#00cd00" d="M114.4 70.6a1.5 1.5 0 1 0 3 0a1.5 1.5 0 1 0-3 0M101.9 58.7a1.5 1.5 0 1 0 3 0a1.5 1.5 0 1 0-3 0M95.2 65.5a1.5 1.5 0 1 0 3 0a1.5 1.5 0 1 0-3 0M125.6 61.1a1.5 1.5 0 1 0 3 0a1.5 1.5 0 1 0-3 0M103.6 69.7a1.5 1.5 0 1 0 3 0a1.5 1.5 0 1 0-3 0M123.3 41.8a1.5 1.5 0 1 0 3 0a1.5 1.5 0 1 0-3 0M113 54.1a1.5 1.5 0 1 0 3 0a1.5 1.5 0 1 0-3 0M96.2 36.2a1.5 1.5 0 1 0 3 0a1.5 1.5 0 1 0-3 0M121.4 61.6a1.5 1.5 0 1 0 3 0a1.5 1.5 0 1 0-3 0M109.2 46.3a1.5 1.5 0 1 0 3 0a1.5 1.5 0 1 0-3 0M105.1 29.7a1.5 1.5 0 1 0 3 0a1.5 1.5 0 1 0-3 0M98.3 47.6a1.5 1.5 0 1 0 3 0a1.5 1.5 0 1 0-3 0M101.9 66a1.5 1.5 0 1 0 3 0a1.5 1.5 0 1 0-3 0M103.4 50.7a1.5 1.5 0 1 0 3 0a1.5 1.5 0 1 0-3 0M109.1 75.7a1.5 1.5 0 1 0 3 0a1.5 1.5 0 1 0-3 0M102.7 59a1.5 1.5 0 1 0 3 0a1.5 1.5 0 1 0-3 0M111.8 39.4a1.5 1.5 0 1 0 3 0a1.5 1.5 0 1 0-3 0M95.9 52.3a1.5 1.5 0 1 0 3 0a1.5 1.5 0 1 0-3 0M89.1 71.6a1.5 1.5 0 1 0 3 0a1.5 1.5 0 1 0-3 0M90.3 60.5a1.5 1.5 0 1 0 3 0a1.5 1.5 0 1 0-3 0M113 61.1a1.5 1.5 0 1 0 3 0a1.5 1.5 0 1 0-3 0M87.7 52.3a1.5 1.5 0 1 0 3 0a1.5 1.5 0 1 0-3 0M92.5 57.2a1.5 1.5 0 1 0 3 0a1.5 1.5 0 1 0-3 0M105.4 67.7a1.5 1.5 0 1 0 3 0a1.5 1.5 0 1 0-3 0M104.6 57.8a1.5 1.5 0 1 0 3 0a1.5 1.5 0 1 0-3 0M96.8 56a1.5 1.5 0 1 0 3 0a1.5 1.5 0 1 0-3 0M107.2 49a1.5 1.5 0 1 0 3 0a1.5 1.5 0 1 0-3 0M84.3 45.3a1.5 1.5 0 1 0 3 0a1.5 1.5 0 1 0-3 0M96 56.2a1.5 1.5 0 1 0 3 0a1.5 1.5 0 1 0-3 0M109.7 78.1a1.5 1.5 0 1 0 3 0a1.5 1.5 0 1 0-3 0M112.2 71.7a1.5 1.5 0 1 0 3 0a1.5 1.5 0 1 0-3 0"/>
<path stroke="#0000ff" d="M154.1 38.1l2 3.5-4.1 0zM128.5 44.6l2 3.5-4.1 0zM154.6 49.1l2 3.5-4.1 0zM126.1 58.9l2 3.5-4.1 0zM148.2 33l2 3.5-4.1 0zM137 63.6l2 3.5-4.1 0zM108.7 29.9l2 3.5-4.1 0zM121.7 40.9l2 3.5-4.1 0zM136.6 35.9l2 3.5-4.1 0zM113.9 36.5l2 3.5-4.1 0zM124.8 44.7l2 3.5-4.1 0zM145.1 36.8l2 3.5-4.1 0zM140.1 43l2 3.5-4.1 0zM124.6 52.3l2 3.5-4.1 0zM127.6 49.6l2 3.5-4.1 0zM147.9 47.6l2 3.5-4.1 0zM113.3 46.1l2 3.5-4.1 0zM128.1 28.8l2 3.5-4.1 0zM151.5 53.6l2 3.5-4.1 0zM138.4 33.7l2 3.5-4.1 0zM120 41.8l2 3.5-4.1 0zM108.3 53.1l2 3.5-4.1 0zM131.5 22.2l2 3.5-4.1 0zM133.9 54.7l2 3.5-4.1 0zM124.3 31.1l2 3.5-4.1 0zM113.5 40l2 3.5-4.1 0zM148.6 64.3l2 3.5-4.1 0zM125.5 33.6l2 3.5-4.1 0zM135.7 52.4l2 3.5-4.1 0zM113.4 35.5l2 3.5-4.1 0zM154.8 46l2 3.5-4.1 0zM110.5 43.5l2 3.5-4.1 0z"/>
<path stroke="#ff0000" d="M72.1 94.6l2.1-2.1 2.1 2.1-2.1 2.1zM59.3 84l2.1-2.1 2.1 2.1-2.1 2.1zM94.1 88.9l2.1-2.1 2.1 2.1-2.1 2.1zM111.1 86.2l2.1-2.1 2.1 2.1-2.1 2.1zM103.8 85.9l2.1-2.1 2.1 2.1-2.1 2.1zM65.7 107l2.1-2.1 2.1 2.1-2.1 2.1zM75.7 90l2.1-2.1 2.1 2.1-2.1 2.1zM70.1 107.8l2.1-2.1 2.1 2.1-2.1 2.1zM69.8 81.2l2.1-2.1 2.1 2.1-2.1 2.1zM64.8 70.3l2.1-2.1 2.1 2.1-2.1 2.1zM88.6 81.2l2.1-2.1 2.1 2.1-2.1 2.1zM63.4 83.9l2.1-2.1 2.1 2.1-2.1 2.1zM82.9 87.2l2.1-2.1 2.1 2.1-2.1 2.1zM75.5 93.9l2.1-2.1 2.1 2.1-2.1 2.1zM86.4 84.8l2.1-2.1 2.1 2.1-2.1 2.1zM80.9 93.4l2.1-2.1 2.1 2.1-2.1 2.1zM77.4 89.1l2.1-2.1 2.1 2.1-2.1 2.1zM96.8 65.7l2.1-2.1 2.1 2.1-2.1 2.1zM65.5 65.8l2.1-2.1 2.1 2.1-2.1 2.1zM76.6 91l2.1-2.1 2.1 2.1-2.1 2.1zM82.9 85.2l2.1-2.1 2.1 2.1-2.1 2.1zM72.3 85.6l2.1-2.1 2.1 2.1-2.1 2.1zM83.2 77.9l2.1-2.1 2.1 2.1-2.1 2.1zM96.4 103.3l2.1-2.1 2.1 2.1-2.1 2.1zM63.8 79.4l2.1-2.1 2.1 2.1-2.1 2.1zM98.7 82.1l2.1-2.1 2.1 2.1-2.1 2.1zM102.6 67.8l2.1-2.1 2.1 2.1-2.1 2.1zM85.5 77.8l2.1-2.1 2.1 2.1-2.1 2.1zM79.4 76.4l2.1-2.1 2.1 2.1-2.1 2.1zM80.3 88.7l2.1-2.1 2.1 2.1-2.1 2.1zM89 73.6l2.1-2.1 2.1 2.1-2.1 2.1zM79.6 86.1l2.1-2.1 2.1 2.1-2.1 2.1zM56.7 72.7l2.1-2.1 2.1 2.1-2.1 2.1zM83.5 79.1l2.1-2.1 2.1 2.1-2.1 2.1zM62.6 88.4l2.1-2.1 2.1 2.1-2.1 2.1z"/>
<path stroke="#00cd00" d="M81 41.9a1.5 1.5 0 1 0 3 0a1.5 1.5 0 1 0-3 0M103.7 52.9a1.5 1.5 0 1 0 3 0a1.5 1.5 0 1 0-3 0M113.9 56.5a1.5 1.5 0 1 0 3 0a1.5 1.5 0 1 0-3 0M92.8 62.2a1.5 1.5 0 1 0 3 0a1.5 1.5 0 1 0-3 0M115.9 74.6a1.5 1.5 0 1 0 3 0a1.5 1.5 0 1 0-3 0M84.8 55.2a1.5 1.5 0 1 0 3 0a1.5 1.5 0 1 0-3 0M108.3 41.8a1.5 1.5 0 1 0 3 0a1.5 1.5 0 1 0-3 0M92.5 52.4a1.5 1.5 0 1 0 3 0a1.5 1.5 0 1 0-3 0M105.4 71.2a1.5 1.5 0 1 0 3 0a1.5 1.5 0 1 0-3 0M106 55.4a1.5 1.5 0 1 0 3 0a1.5 1.5 0 1 0-3 0M118.8 45.7a1.5 1.5 0 1 0 3 0a1.5 1.5 0 1 0-3 0M104.5 41.4a1.5 1.5 0 1 0 3 0a1.5 1.5 0 1 0-3 0M114.2 74.6a1.5 1.5 0 1 0 3 0a1.5 1.5 0 1 0-3 0M80.4 52a1.5 1.5 0 1 0 3 0a1.5 1.5 0 1 0-3 0M100.8 80.3a1.5 1.5 0 1 0 3 0a1.5 1.5 0 1 0-3 0M90.1 59.8a1.5 1.5 0 1 0 3 0a1.5 1.5 0 1 0-3 0M103.8 75a1.5 1.5 0 1 0 3 0a1.5 1.5 0 1 0-3 0M92.9 67.4a1.5 1.5 0 1 0 3 0a1.5 1.5 0 1 0-3 0M125.3 56.5a1.5 1.5 0 1 0 3 0a1.5 1.5 0 1 0-3 0M97.1 49.4a1.5 1.5 0 1 0 3 0a1.5 1.5 0 1 0-3 0M90.4 75.2a1.5 1.5 0 1 0 3 0a1.5 1.5 0 1 0-3 0M109.4 34.3a1.5 1.5 0 1 0 3 0a1.5 1.5 0 1 0-3 0M97.9 66.4a1.5 1.5 0 1 0 3 0a1.5 1.5 0 1 0-3 0M110.5 51.5a1.5 1.5 0 1 0 3 0a1.5 1.5 0 1 0-3 0"/>
<path stroke="#0000ff" d="M112 34.2l2 3.5-4.1 0zM109.3 51.1l2 3.5-4.1 0zM147.3 56.1l2 3.5-4.1 0zM120.4 26.2l2 3.5-4.1 0zM132.8 53.8l2 3.5-4.1 0zM124.2 48.1l2 3.5-4.1 0zM158.3 35.1l2 3.5-4.1 0zM134.6 34.8l2 3.5-4.1 0zM146 35.7l2 3.5-4.1 0zM148 41.4l2 3.5-4.1 0zM124.7 30.5l2 3.5-4.1 0zM142.3 28.5l2 3.5-4.1 0zM141.8 27.5l2 3.5-4.1 0zM148.1 44.3l2 3.5-4.1 0zM147.2 59.3l2 3.5-4.1 0zM108.8 6.2l2 3.5-4.1 0zM125.5 19.4l2 3.5-4.1 0zM135.3 32.4l2 3.5-4.1 0zM116.9 33l2 3.5-4.1 0zM131.6 36.6l2 3.5-4.1 0zM124.8 50l2 3.5-4.1 0zM157.5 32.8l2 3.5-4.1 0zM138.7 47.3l2 3.5-4.1 0zM151.9 47.5l2 3.5-4.1 0zM126.9 44.5l2 3.5-4.1 0zM144.9 50.8l2 3.5-4.1 0zM122.2 39l2 3.5-4.1 0zM146.8 46.5l2 3.5-4.1 0z"/>
<path stroke="#ff0000" d="M81.5 74.4l2.1-2.1 2.1 2.1-2.1 2.1zM58.9 71.1l2.1-2.1 2.1 2.1-2.1 2.1zM91.7 101.7l2.1-2.1 2.1 2.1-2.1 2.1zM91.5 83.7l2.1-2.1 2.1 2.1-2.1 2.1zM77.9 69.9l2.1-2.1 2.1 2.1-2.1 2.1zM84.5 79.3l2.1-2.1 2.1 2.1-2.1 2.1zM109.7 75.7l2.1-2.1 2.1 2.1-2.1 2.1zM101.4 90.6l2.1-2.1 2.1 2.1-2.1 2.1zM77.6 81l2.1-2.1 2.1 2.1-2.1 2.1zM103 72.7l2.1-2.1 2.1 2.1-2.1 2.1zM93.4 72.2l2.1-2.1 2.1 2.1-2.1 2.1zM54.7 97.3l2.1-2.1 2.1 2.1-2.1 2.1zM82.3 86.5l2.1-2.1 2.1 2.1-2.1 2.1zM78.5 97.1l2.1-2.1 2.1 2.1-2.1 2.1zM69.3 80.7l2.1-2.1 2.1 2.1-2.1 2.1zM60.1 95.9l2.1-2.1 2.1 2.1-2.1 2.1zM88.6 84l2.1-2.1 2.1 2.1-2.1 2.1zM51.1 97.2l2.1-2.1 2.1 2.1-2.1 2.1zM86.8 93.7l2.1-2.1 2.1 2.1-2.1 2.1zM61.2 78l2.1-2.1 2.1 2.1-2.1 2.1zM65 91.1l2.1-2.1 2.1 2.1-2.1 2.1zM62.5 97.1l2.1-2.1 2.1 2.1-2.1 2.1zM68.4 103.7l2.1-2.1 2.1 2.1-2.1 2.1zM99 72.7l2.1-2.1 2.1 2.1-2.1 2.1zM79.1 79.2l2.1-2.1 2.1 2.1-2.1 2.1zM69.4 66.6l2.1-2.1 2.1 2.1-2.1 2.1z"/>
<path stroke="#00cd00" d="M103.5 61.3a1.5 1.5 0 1 0 3 0a1.5 1.5 0 1 0-3 0M84.2 47.8a1.5 1.5 0 1 0 3 0a1.5 1.5 0 1 0-3 0M100 66.6a1.5 1.5 0 1 0 3 0a1.5 1.5 0 1 0-3 0M96 38a1.5 1.5 0 1 0 3 0a1.5 1.5 0 1 0-3 0M91.7 74.3a1.5 1.5 0 1 0 3 0a1.5 1.5 0 1 0-3 0M95.4 48.7a1.5 1.5 0 1 0 3 0a1.5 1.5 0 1 0-3 0M93.8 52.9a1.5 1.5 0 1 0 3 0a1.5 1.5 0 1 0-3 0M104 60a1.5 1.5 0 1 0 3 0a1.5 1.5 0 1 0-3 0M108.2 44.8a1.5 1.5 0 1 0 3 0a1.5 1.5 0 1 0-3 0M79 60.5a1.5 1.5 0 1 0 3 0a1.5 1.5 0 1 0-3 0M107.6 45a1.5 1.5 0 1 0 3 0a1.5 1.5 0 1 0-3 0M116 57.4a1.5 1.5 0 1 0 3 0a1.5 1.5 0 1 0-3 0M93.2 56a1.5 1.5 0 1 0 3 0a1.5 1.5 0 1 0-3 0M87.7 66.2a1.5 1.5 0 1 0 3 0a1.5 1.5 0 1 0-3 0M111.4 57.4a1.5 1.5 0 1 0 3 0a1.5 1.5 0 1 0-3 0M105.6 63.4a1.5 1.5 0 1 0 3 0a1.5 1.5 0 1 0-3 0M116.6 41.1a1.5 1.5 0 1 0 3 0a1.5 1.5 0 1 0-3 0M113.5 71.8a1.5 1.5 0 1 0 3 0a1.5 1.5 0 1 0-3 0M110.4 56.8a1.5 1.5 0 1 0 3 0a1.5 1.5 0 1 0-3 0M105 40.8a1.5 1.5 0 1 0 3 0a1.5 1.5 0 1 0-3 0M105.9 53.1a1.5 1.5 0 1 0 3 0a1.5 1.5 0 1 0-3 0M127.6 79.6a1.5 1.5 0 1 0 3 0a1.5 1.5 0 1 0-3 0M112.8 66.1a1.5 1.5 0 1 0 3 0a1.5 1.5 0 1 0-3 0M107.6 54.1a1.5 1.5 0 1 0 3 0a1.5 1.5 0 1 0-3 0M115.4 44.6a1.5 1.5 0 1 0 3 0a1.5 1.5 0 1 0-3 0M113.4 61a1.5 1.5 0 1 0 3 0a1.5 1.5 0 1 0-3 0M87 48.8a1.5 1.5 0 1 0 3 0a1.5 1.5 0 1 0-3 0M107.7 69.8a1.5 1.5 0 1 0 3 0a1.5 1.5 0 1 0-3 0M111.6 55.4a1.5 1.5 0 1 0 3 0a1.5 1.5 0 1 0-3 0M97.9 69.6a1.5 1.5 0 1 0 3 0a1.5 1.5 0 1 0-3 0M87.3 52.6a1.5 1.5 0 1 0 3 0a1.5 1.5 0 1 0-3 0M131 53.6a1.5 1.5 0 1 0 3 0a1.5 1.5 0 1 0-3 0"/>
<path stroke="#0000ff" d="M138.4 21.6l2 3.5-4.1 0zM113 37.4l2 3.5-4.1 0zM114 35.8l2 3.5-4.1 0zM130.3 49.3l2 3.5-4.1 0zM118.2 43.2l2 3.5-4.1 0zM134.8 38l2 3.5-4.1 0zM132.7 35.1l2 3.5-4.1 0zM139.7 44.5l2 3.5-4.1 0zM148.1 43.8l2 3.5-4.1 0zM126.8 27.8l2 3.5-4.1 0zM145.2 40.7l2 3.5-4.1 0zM135.8 31.9l2 3.5-4.1 0zM113.8 32.2l2 3.5-4.1 0zM112.7 35.5l2 3.5-4.1 0zM140.9 49.7l2 3.5-4.1 0zM129.5 44.1l2 3.5-4.1 0zM102.8 32l2 3.5-4.1 0zM121.1 23l2 3.5-4.1 0zM132 49.6l2 3.5-4.1 0zM126.2 41.3l2 3.5-4.1 0zM129.8 32.8l2 3.5-4.1 0zM114.8 25.3l2 3.5-4.1 0zM143.7 30.7l2 3.5-4.1 0zM132 48.6l2 3.5-4.1 0zM118.5 31.9l2 3.5-4.1 0zM133.9 43.1l2 3.5-4.1 0zM125.4 22.5l2 3.5-4.1 0zM138.9 36.9l2 3.5-4.1 0zM112.5 61.2l2 3.5-4.1 0z"/>
<path stroke="#ff0000" d="M64 92.6l2.1-2.1 2.1 2.1-2.1 2.1zM71.8 88.4l2.1-2.1 2.1 2.1-2.1 2.1zM62.9 80.6l2.1-2.1 2.1 2.1-2.1 2.1zM67.8 77.7l2.1-2.1 2.1 2.1-2.1 2.1zM72.4 72.2l2.1-2.1 2.1 2.1-2.1 2.1zM76.9 66.9l2.1-2.1 2.1 2.1-2.1 2.1zM87.2 70.6l2.1-2.1 2.1 2.1-2.1 2.1zM71.9 71.5l2.1-2.1 2.1 2.1-2.1 2.1zM57.9 102.8l2.1-2.1 2.1 2.1-2.1 2.1z"/>
<path stroke="#00cd00" d="M106.5 61.7a1.5 1.5 0 1 0 3 0a1.5 1.5 0 1 0-3 0M110.2 70.3a1.5 1.5 0 1 0 3 0a1.5 1.5 0 1 0-3 0M108.3 54.1a1.5 1.5 0 1 0 3 0a1.5 1.5 0 1 0-3 0M94.7 65.5a1.5 1.5 0 1 0 3 0a1.5 1.5 0 1 0-3 0M111.9 54.6a1.5 1.5 0 1 0 3 0a1.5 1.5 0 1 0-3 0M100.5 54.5a1.5 1.5 0 1 0 3 0a1.5 1.5 0 1 0-3 0M104 59.5a1.5 1.5 0 1 0 3 0a1.5 1.5 0 1 0-3 0M96.6 54.9a1.5 1.5 0 1 0 3 0a1.5 1.5 0 1 0-3 0M111.1 31.9a1.5 1.5 0 1 0 3 0a1.5 1.5 0 1 0-3 0M92 59.1a1.5 1.5 0 1 0 3 0a1.5 1.5 0 1 0-3 0M117 64.1a1.5 1.5 0 1 0 3 0a1.5 1.5 0 1 0-3 0M93.6 52.9a1.5 1.5 0 1 0 3 0a1.5 1.5 0 1 0-3 0M114.2 71.6a1.5 1.5 0 1 0 3 0a1.5 1.5 0 1 0-3 0M108 56.1a1.5 1.5 0 1 0 3 0a1.5 1.5 0 1 0-3 0M82.7 58a1.5 1.5 0 1 0 3 0a1.5 1.5 0 1 0-3 0M86.8 65.9a1.5 1.5 0 1 0 3 0a1.5 1.5 0 1 0-3 0M108.4 61.4a1.5 1.5 0 1 0 3 0a1.5 1.5 0 1 0-3 0M97.6 70.3a1.5 1.5 0 1 0 3 0a1.5 1.5 0 1 0-3 0M88.9 70.9a1.5 1.5 0 1 0 3 0a1.5 1.5 0 1 0-3 0M92.4 62.4a1.5 1.5 0 1 0 3 0a1.5 1.5 0 1 0-3 0M114.2 54.3a1.5 1.5 0 1 0 3 0a1.5 1.5 0 1 0-3 0M97.9 59.7a1.5 1.5 0 1 0 3 0a1.5 1.5 0 1 0-3 0M114.7 44a1.5 1.5 0 1 0 3 0a1.5 1.5 0 1 0-3 0M102.8 75.4a1.5 1.5 0 1 0 3 0a1.5 1.5 0 1 0-3 0M94 56.8a1.5 1.5 0 1 0 3 0a1.5 1.5 0 1 0-3 0M129.4 55a1.5 1.5 0 1 0 3 0a1.5 1.5 0 1 0-3 0M75.6 57.4a1.5 1.5 0 1 0 3 0a1.5 1.5 0 1 0-3 0M104.2 65.7a1.5 1.5 0 1 0 3 0a1.5 1.5 0 1 0-3 0M121.4 53.9a1.5 1.5 0 1 0 3 0a1.5 1.5 0 1 0-3 0M90.6 57.7a1.5 1.5 0 1 0 3 0a1.5 1.5 0 1 0-3 0M99 58.9a1.5 1.5 0 1 0 3 0a1.5 1.5 0 1 0-3 0M93.8 83.3a1.5 1.5 0 1 0 3 0a1.5 1.5 0 1 0-3 0M101.8 57.4a1.5 1.5 0 1 0 3 0a1.5 1.5 0 1 0-3 0M114.6 56a1.5 1.5 0 1 0 3 0a1.5 1.5 0 1 0-3 0M100.8 74.7a1.5 1.5 0 1 0 3 0a1.5 1.5 0 1 0-3 0M110.5 46.6a1.5 1.5 0 1 0 3 0a1.5 1.5 0 1 0-3 0M130 52.3a1.5 1.5 0 1 0 3 0a1.5 1.5 0 1 0-3 0M131.2 57.9a1.5 1.5 0 1 0 3 0a1.5 1.5 0 1 0-3 0"/>
<path stroke="#0000ff" d="M126.3 45.3l2 3.5-4.1 0zM143.8 30.6l2 3.5-4.1 0zM155.2 30.2l2 3.5-4.1 0zM139.9 41.7l2 3.5-4.1 0zM147.7 48.1l2 3.5-4.1 0zM152.4 45.8l2 3.5-4.1 0zM149.4 54.4l2 3.5-4.1 0zM136.6 44.2l2 3.5-4.1 0zM138.2 21.3l2 3.5-4.1 0zM142.8 54.6l2 3.5-4.1 0zM131.4 65.4l2 3.5-4.1 0zM118 50.3l2 3.5-4.1 0zM125.5 53.1l2 3.5-4.1 0zM119.3 37.7l2 3.5-4.1 0zM142.2 49.1l2 3.5-4.1 0zM134.6 41.7l2 3.5-4.1 0zM142.2 19l2 3.5-4.1 0zM121.7 28.3l2 3.5-4.1 0zM123.9 45.5l2 3.5-4.1 0zM113.6 27.7l2 3.5-4.1 0zM155.2 39.2l2 3.5-4.1 0zM97.9 58l2 3.5-4.1 0zM123.7 36.3l2 3.5-4.1 0zM135.5 35.2l2 3.5-4.1 0zM152.9 48.3l2 3.5-4.1 0zM140.5 46.7l2 3.5-4.1 0zM136.4 31.8l2 3.5-4.1 0zM141.2 29.4l2 3.5-4.1 0zM137.3 40.5l2 3.5-4.1 0zM130 31.9l2 3.5-4.1 0zM133 41.4l2 3.5-4.1 0zM141.1 34.7l2 3.5-4.1 0zM127.5 33.2l2 3.5-4.1 0zM142.2 25.6l2 3.5-4.1 0zM153.9 41.9l2 3.5-4.1 0zM127.2 45.4l2 3.5-4.1 0zM99.2 40.3l2 3.5-4.1 0zM135.3 47.3l2 3.5-4.1 0zM128.1 40.6l2 3.5-4.1 0zM110.8 30.6l2 3.5-4.1 0z"/>
<path stroke="#00cd00" d="M97.4 62.8a1.5 1.5 0 1 0 3 0a1.5 1.5 0 1 0-3 0M110 77.3a1.5 1.5 0 1 0 3 0a1.5 1.5 0 1 0-3 0M106.3 55.8a1.5 1.5 0 1 0 3 0a1.5 1.5 0 1 0-3 0M104.8 37.6a1.5 1.5 0 1 0 3 0a1.5 1.5 0 1 0-3 0M116.1 54.8a1.5 1.5 0 1 0 3 0a1.5 1.5 0 1 0-3 0M112.8 74.9a1.5 1.5 0 1 0 3 0a1.5 1.5 0 1 0-3 0M93.4 58.8a1.5 1.5 0 1 0 3 0a1.5 1.5 0 1 0-3 0M101.5 47.6a1.5 1.5 0 1 0 3 0a1.5 1.5 0 1 0-3 0M110.4 51.3a1.5 1.5 0 1 0 3 0a1.5 1.5 0 1 0-3 0M108.2 61.9a1.5 1.5 0 1 0 3 0a1.5 1.5 0 1 0-3 0M99.8 64.7a1.5 1.5 0 1 0 3 0a1.5 1.5 0 1 0-3 0M96.7 82.6a1.5 1.5 0 1 0 3 0a1.5 1.5 0 1 0-3 0M84.3 63.4a1.5 1.5 0 1 0 3 0a1.5 1.5 0 1 0-3 0M115.6 71.7a1.5 1.5 0 1 0 3 0a1.5 1.5 0 1 0-3 0M126.8 59.7a1.5 1.5 0 1 0 3 0a1.5 1.5 0 1 0-3 0M100 66.2a1.5 1.5 0 1 0 3 0a1.5 1.5 0 1 0-3 0M97.4 71.3a1.5 1.5 0 1 0 3 0a1.5 1.5 0 1 0-3 0M89.5 60.6a1.5 1.5 0 1 0 3 0a1.5 1.5 0 1 0-3 0M115.7 75.2a1.5 1.5 0 1 0 3 0a1.5 1.5 0 1 0-3 0M114.9 66.4a1.5 1.5 0 1 0 3 0a1.5 1.5 0 1 0-3 0M118.8 65.5a1.5 1.5 0 1 0 3 0a1.5 1.5 0 1 0-3 0M101.8 57.6a1.5 1.5 0 1 0 3 0a1.5 1.5 0 1 0-3 0M107.8 72.3a1.5 1.5 0 1 0 3 0a1.5 1.5 0 1 0-3 0M90.3 48.7a1.5 1.5 0 1 0 3 0a1.5 1.5 0 1 0-3 0M104.2 59.9a1.5 1.5 0 1 0 3 0a1.5 1.5 0 1 0-3 0M94 52.2a1.5 1.5 0 1 0 3 0a1.5 1.5 0 1 0-3 0M102.1 48.5a1.5 1.5 0 1 0 3 0a1.5 1.5 0 1 0-3 0M122.4 59.9a1.5 1.5 0 1 0 3 0a1.5 1.5 0 1 0-3 0M119.7 52.6a1.5 1.5 0 1 0 3 0a1.5 1.5 0 1 0-3 0M91.1 57.5a1.5 1.5 0 1 0 3 0a1.5 1.5 0 1 0-3 0M114.8 55.2a1.5 1.5 0 1 0 3 0a1.5 1.5 0 1 0-3 0M112 52.7a1.5 1.5 0 1 0 3 0a1.5 1.5 0 1 0-3 0M108 50.1a1.5 1.5 0 1 0 3 0a1.5 1.5 0 1 0-3 0M104.6 54.5a1.5 1.5 0 1 0 3 0a1.5 1.5 0 1 0-3 0M116.6 31.5a1.5 1.5 0 1 0 3 0a1.5 1.5 0 1 0-3 0M100.3 74.3a1.5 1.5 0 1 0 3 0a1.5 1.5 0 1 0-3 0M119.7 54.4a1.5 1.5 0 1 0 3 0a1.5 1.5 0 1 0-3 0M118.4 57.4a1.5 1.5 0 1 0 3 0a1.5 1.5 0 1 0-3 0M105.5 80.5a1.5 1.5 0 1 0 3 0a1.5 1.5 0 1 0-3 0M93.8 74.4a1.5 1.5 0 1 0 3 0a1.5 1.5 0 1 0-3 0"/>
<path stroke="#0000ff" d="M121.3 38.5l2 3.5-4.1 0zM148 48l2 3.5-4.1 0zM129.7 47.7l2 3.5-4.1 0zM149.2 39.1l2 3.5-4.1 0zM119.5 57l2 3.5-4.1 0zM139.1 44.1l2 3.5-4.1 0zM139.1 41l2 3.5-4.1 0zM126.7 39.5l2 3.5-4.1 0zM149.6 28.3l2 3.5-4.1 0zM125.2 41.9l2 3.5-4.1 0zM115 49.7l2 3.5-4.1 0zM134.3 35.4l2 3.5-4.1 0zM129.1 43.3l2 3.5-4.1 0zM132.4 51.3l2 3.5-4.1 0zM143.2 44.3l2 3.5-4.1 0zM133.1 48l2 3.5-4.1 0zM146.2 40.3l2 3.5-4.1 0zM152.7 40.7l2 3.5-4.1 0zM124.4 38.7l2 3.5-4.1 0zM109.6 32.5l2 3.5-4.1 0zM120.2 45.1l2 3.5-4.1 0zM128 36.9l2 3.5-4.1 0zM127.8 43.6l2 3.5-4.1 0zM130.6 46.8l2 3.5-4.1 0zM131.8 38l2 3.5-4.1 0zM133.6 36.6l2 3.5-4.1 0zM111 21.2l2 3.5-4.1 0zM125 38.5l2 3.5-4.1 0zM123.5 53.1l2 3.5-4.1 0zM134.5 38.7l2 3.5-4.1 0zM124.9 31.5l2 3.5-4.1 0zM143.6 39.7l2 3.5-4.1 0zM124.6 19.3l2 3.5-4.1 0zM136.7 39.2l2 3.5-4.1 0zM132.8 32.6l2 3.5-4.1 0zM103.3 42.7l2 3.5-4.1 0zM108.3 36.8l2 3.5-4.1 0zM133.2 65l2 3.5-4.1 0zM146.7 50.4l2 3.5-4.1 0zM120.3 50.7l2 3.5-4.1 0zM140.1 33.7l2 3.5-4.1 0zM120 45.7l2 3.5-4.1 0zM112.7 39.8l2 3.5-4.1 0zM103.9 46.4l2 3.5-4.1 0zM119.4 29l2 3.5-4.1 0zM124 26.9l2 3.5-4.1 0zM140.1 43.3l2 3.5-4.1 0z"/>
<path stroke="#00cd00" d="M91.9 70a1.5 1.5 0 1 0 3 0a1.5 1.5 0 1 0-3 0M141.2 67.6a1.5 1.5 0 1 0 3 0a1.5 1.5 0 1 0-3 0M97.9 63.9a1.5 1.5 0 1 0 3 0a1.5 1.5 0 1 0-3 0M112.3 57.2a1.5 1.5 0 1 0 3 0a1.5 1.5 0 1 0-3 0M98.3 59.9a1.5 1.5 0 1 0 3 0a1.5 1.5 0 1 0-3 0M110.9 65a1.5 1.5 0 1 0 3 0a1.5 1.5 0 1 0-3 0M73 56.4a1.5 1.5 0 1 0 3 0a1.5 1.5 0 1 0-3 0M107.6 73.8a1.5 1.5 0 1 0 3 0a1.5 1.5 0 1 0-3 0M113.8 61.8a1.5 1.5 0 1 0 3 0a1.5 1.5 0 1 0-3 0M110.9 52.9a1.5 1.5 0 1 0 3 0a1.5 1.5 0 1 0-3 0M100.3 57.7a1.5 1.5 0 1 0 3 0a1.5 1.5 0 1 0-3 0M109.4 51.9a1.5 1.5 0 1 0 3 0a1.5 1.5 0 1 0-3 0M99.4 69.3a1.5 1.5 0 1 0 3 0a1.5 1.5 0 1 0-3 0M83.8 68.1a1.5 1.5 0 1 0 3 0a1.5 1.5 0 1 0-3 0M123.2 65.4a1.5 1.5 0 1 0 3 0a1.5 1.5 0 1 0-3 0M96.5 55a1.5 1.5 0 1 0 3 0a1.5 1.5 0 1 0-3 0M91.7 67.7a1.5 1.5 0 1 0 3 0a1.5 1.5 0 1 0-3 0M112.6 59a1.5 1.5 0 1 0 3 0a1.5 1.5 0 1 0-3 0M115.5 81.8a1.5 1.5 0 1 0 3 0a1.5 1.5 0 1 0-3 0M113.5 76.3a1.5 1.5 0 1 0 3 0a1.5 1.5 0 1 0-3 0M148.4 63.5a1.5 1.5 0 1 0 3 0a1.5 1.5 0 1 0-3 0M96.4 64a1.5 1.5 0 1 0 3 0a1.5 1.5 0 1 0-3 0M99.5 57.5a1.5 1.5 0 1 0 3 0a1.5 1.5 0 1 0-3 0M119.1 54.3a1.5 1.5 0 1 0 3 0a1.5 1.5 0 1 0-3 0M137.3 54.2a1.5 1.5 0 1 0 3 0a1.5 1.5 0 1 0-3 0M100.2 44.5a1.5 1.5 0 1 0 3 0a1.5 1.5 0 1 0-3 0M86 72.2a1.5 1.5 0 1 0 3 0a1.5 1.5 0 1 0-3 0M104.2 55.9a1.5 1.5 0 1 0 3 0a1.5 1.5 0 1 0-3 0M92.2 56.8a1.5 1.5 0 1 0 3 0a1.5 1.5 0 1 0-3 0M81.8 61.4a1.5 1.5 0 1 0 3 0a1.5 1.5 0 1 0-3 0M118.5 74.8a1.5 1.5 0 1 0 3 0a1.5 1.5 0 1 0-3 0M92 57.6a1.5 1.5 0 1 0 3 0a1.5 1.5 0 1 0-3 0M95.3 59a1.5 1.5 0 1 0 3 0a1.5 1.5 0 1 0-3 0M91.8 53.7a1.5 1.5 0 1 0 3 0a1.5 1.5 0 1 0-3 0M103.5 60.1a1.5 1.5 0 1 0 3 0a1.5 1.5 0 1 0-3 0M106.9 58.3a1.5 1.5 0 1 0 3 0a1.5 1.5 0 1 0-3 0M102.4 74.7a1.5 1.5 0 1 0 3 0a1.5 1.5 0 1 0-3 0M129.2 55.4a1.5 1.5 0 1 0 3 0a1.5 1.5 0 1 0-3 0M129.9 40.2a1.5 1.5 0 1 0 3 0a1.5 1.5 0 1 0-3 0M131.4 66.1a1.5 1.5 0 1 0 3 0a1.5 1.5 0 1 0-3 0M127.8 52.2a1.5 1.5 0 1 0 3 0a1.5 1.5 0 1 0-3 0M121 48.6a1.5 1.5 0 1 0 3 0a1.5 1.5 0 1 0-3 0M97.8 64.5a1.5 1.5 0 1 0 3 0a1.5 1.5 0 1 0-3 0M104.2 81.1a1.5 1.5 0 1 0 3 0a1.5 1.5 0 1 0-3 0M90.9 61.9a1.5 1.5 0 1 0 3 0a1.5 1.5 0 1 0-3 0M101.7 78.6a1.5 1.5 0 1 0 3 0a1.5 1.5 0 1 0-3 0M108.3 56.1a1.5 1.5 0 1 0 3 0a1.5 1.5 0 1 0-3 0M96.7 71.9a1.5 1.5 0 1 0 3 0a1.5 1.5 0 1 0-3 0M109.2 55.3a1.5 1.5 0 1 0 3 0a1.5 1.5 0 1 0-3 0M83.2 46.2a1.5 1.5 0 1 0 3 0a1.5 1.5 0 1 0-3 0M86.5 49.5a1.5 1.5 0 1 0 3 0a1.5 1.5 0 1 0-3 0M77.8 57.2a1.5 1.5 0 1 0 3 0a1.5 1.5 0 1 0-3 0M107.6 56.8a1.5 1.5 0 1 0 3 0a1.5 1.5 0 1 0-3 0M100.7 61.8a1.5 1.5 0 1 0 3 0a1.5 1.5 0 1 0-3 0M103.9 61.3a1.5 1.5 0 1 0 3 0a1.5 1.5 0 1 0-3 0M96.9 45.2a1.5 1.5 0 1 0 3 0a1.5 1.5 0 1 0-3 0"/>
<path stroke="#0000ff" d="M124.2 46.6l2 3.5-4.1 0zM115.6 57.3l2 3.5-4.1 0zM138.1 32.9l2 3.5-4.1 0zM117.6 48.7l2 3.5-4.1 0zM111.9 51l2 3.5-4.1 0zM128.3 42.9l2 3.5-4.1 0zM140.8 44.7l2 3.5-4.1 0zM146 37.2l2 3.5-4.1 0zM141.3 48.5l2 3.5-4.1 0zM123 17l2 3.5-4.1 0zM112 36.1l2 3.5-4.1 0zM142 42.1l2 3.5-4.1 0zM136.7 49.9l2 3.5-4.1 0zM143.1 36.1l2 3.5-4.1 0zM119.2 38.8l2 3.5-4.1 0zM121.7 35.3l2 3.5-4.1 0zM106 35.6l2 3.5-4.1 0zM150.3 59.6l2 3.5-4.1 0zM109.9 37l2 3.5-4.1 0zM137.3 42.6l2 3.5-4.1 0zM136.8 51.9l2 3.5-4.1 0zM134.6 32.1l2 3.5-4.1 0zM126.7 28.4l2 3.5-4.1 0zM131.3 46.1l2 3.5-4.1 0zM105.7 33.5l2 3.5-4.1 0zM136.5 38.1l2 3.5-4.1 0zM129 60.2l2 3.5-4.1 0zM147.8 53.1l2 3.5-4.1 0zM137.1 44.1l2 3.5-4.1 0zM141.6 41.8l2 3.5-4.1 0z"/>
</g>
<rect x="37.5" y="4.5" width="130.7" height="106.9" fill="none" stroke="#4c4c4c" stroke-width="1.15"/>
<path d="M40.7 111.4v4.9M66.7 111.4v4.9M92.7 111.4v4.9M118.7 111.4v4.9M144.7 111.4v4.9M37.5 110.4h-4.9M37.5 89.7h-4.9M37.5 69h-4.9M37.5 48.3h-4.9M37.5 27.6h-4.9M37.5 7h-4.9" stroke="#4c4c4c" stroke-width="1.1" fill="none"/>
<g class="t">
<text x="40.9" y="129">−6</text>
<text x="66.9" y="129">−4</text>
<text x="92.9" y="129">−2</text>
<text x="118.7" y="129">0</text>
<text x="144.7" y="129">2</text>
<text transform="translate(26.5 110.4) rotate(-90)">−4</text>
<text transform="translate(26.5 89.7) rotate(-90)">−2</text>
<text transform="translate(26.5 69) rotate(-90)">0</text>
<text transform="translate(26.5 48.3) rotate(-90)">2</text>
<text transform="translate(26.5 27.6) rotate(-90)">4</text>
<text transform="translate(26.5 7) rotate(-90)">6</text>
</g>
<g transform="translate(96.8 141.8)"><text class="l" x="0" y="0">X</text><text class="s" x="7.9" y="3.3">1</text><text class="s" x="8.9" y="-4.9">c</text></g>
<g transform="translate(11.9 64.6) rotate(-90)"><text class="l" x="0" y="0">X</text><text class="s" x="7.9" y="3.3">2</text><text class="s" x="8.9" y="-4.9">c</text></g>
<g fill="none" stroke-linejoin="round" stroke-width="1.25">
<path stroke="#ff0000" d="M273.8 88.4l2.1-2.1 2.1 2.1-2.1 2.1zM275.5 68.4l2.1-2.1 2.1 2.1-2.1 2.1zM267.7 68.4l2.1-2.1 2.1 2.1-2.1 2.1zM274.3 88.4l2.1-2.1 2.1 2.1-2.1 2.1zM282.2 88.4l2.1-2.1 2.1 2.1-2.1 2.1zM258.8 68.4l2.1-2.1 2.1 2.1-2.1 2.1zM275 88.4l2.1-2.1 2.1 2.1-2.1 2.1zM265 68.4l2.1-2.1 2.1 2.1-2.1 2.1zM274.5 68.4l2.1-2.1 2.1 2.1-2.1 2.1zM282.6 68.4l2.1-2.1 2.1 2.1-2.1 2.1zM252.5 88.4l2.1-2.1 2.1 2.1-2.1 2.1zM293.1 88.4l2.1-2.1 2.1 2.1-2.1 2.1zM253.5 88.4l2.1-2.1 2.1 2.1-2.1 2.1zM276.7 68.4l2.1-2.1 2.1 2.1-2.1 2.1zM262 88.4l2.1-2.1 2.1 2.1-2.1 2.1zM279.1 88.4l2.1-2.1 2.1 2.1-2.1 2.1zM294.8 88.4l2.1-2.1 2.1 2.1-2.1 2.1zM267.5 88.4l2.1-2.1 2.1 2.1-2.1 2.1zM271.5 68.4l2.1-2.1 2.1 2.1-2.1 2.1zM269.2 68.4l2.1-2.1 2.1 2.1-2.1 2.1zM254.9 68.4l2.1-2.1 2.1 2.1-2.1 2.1zM262 88.4l2.1-2.1 2.1 2.1-2.1 2.1zM270.2 88.4l2.1-2.1 2.1 2.1-2.1 2.1zM252.8 88.4l2.1-2.1 2.1 2.1-2.1 2.1zM267.6 68.4l2.1-2.1 2.1 2.1-2.1 2.1zM281.1 88.4l2.1-2.1 2.1 2.1-2.1 2.1zM276.1 88.4l2.1-2.1 2.1 2.1-2.1 2.1zM270.8 88.4l2.1-2.1 2.1 2.1-2.1 2.1zM271.1 88.4l2.1-2.1 2.1 2.1-2.1 2.1zM276.5 88.4l2.1-2.1 2.1 2.1-2.1 2.1zM262.6 88.4l2.1-2.1 2.1 2.1-2.1 2.1zM277.7 68.4l2.1-2.1 2.1 2.1-2.1 2.1zM262.4 68.4l2.1-2.1 2.1 2.1-2.1 2.1zM266.7 88.4l2.1-2.1 2.1 2.1-2.1 2.1zM262.6 88.4l2.1-2.1 2.1 2.1-2.1 2.1zM271.5 88.4l2.1-2.1 2.1 2.1-2.1 2.1zM258.4 88.4l2.1-2.1 2.1 2.1-2.1 2.1zM275.4 88.4l2.1-2.1 2.1 2.1-2.1 2.1zM261.2 88.4l2.1-2.1 2.1 2.1-2.1 2.1zM261.2 88.4l2.1-2.1 2.1 2.1-2.1 2.1zM266.9 68.4l2.1-2.1 2.1 2.1-2.1 2.1zM267.6 88.4l2.1-2.1 2.1 2.1-2.1 2.1zM281.8 68.4l2.1-2.1 2.1 2.1-2.1 2.1zM254.5 88.4l2.1-2.1 2.1 2.1-2.1 2.1zM274.8 88.4l2.1-2.1 2.1 2.1-2.1 2.1zM273 88.4l2.1-2.1 2.1 2.1-2.1 2.1zM261.9 88.4l2.1-2.1 2.1 2.1-2.1 2.1zM282.9 88.4l2.1-2.1 2.1 2.1-2.1 2.1zM265.2 88.4l2.1-2.1 2.1 2.1-2.1 2.1zM250.5 88.4l2.1-2.1 2.1 2.1-2.1 2.1zM258.1 88.4l2.1-2.1 2.1 2.1-2.1 2.1zM288.8 88.4l2.1-2.1 2.1 2.1-2.1 2.1zM272.2 88.4l2.1-2.1 2.1 2.1-2.1 2.1zM292.6 88.4l2.1-2.1 2.1 2.1-2.1 2.1zM266.6 88.4l2.1-2.1 2.1 2.1-2.1 2.1zM257.8 88.4l2.1-2.1 2.1 2.1-2.1 2.1zM266.5 68.4l2.1-2.1 2.1 2.1-2.1 2.1zM265.1 88.4l2.1-2.1 2.1 2.1-2.1 2.1zM280.8 88.4l2.1-2.1 2.1 2.1-2.1 2.1zM278.5 68.4l2.1-2.1 2.1 2.1-2.1 2.1zM272.2 68.4l2.1-2.1 2.1 2.1-2.1 2.1zM264.1 88.4l2.1-2.1 2.1 2.1-2.1 2.1zM279.2 88.4l2.1-2.1 2.1 2.1-2.1 2.1zM265.8 68.4l2.1-2.1 2.1 2.1-2.1 2.1zM259.6 88.4l2.1-2.1 2.1 2.1-2.1 2.1zM251.8 88.4l2.1-2.1 2.1 2.1-2.1 2.1zM267.5 68.4l2.1-2.1 2.1 2.1-2.1 2.1zM268.3 68.4l2.1-2.1 2.1 2.1-2.1 2.1zM264.5 88.4l2.1-2.1 2.1 2.1-2.1 2.1zM257.1 88.4l2.1-2.1 2.1 2.1-2.1 2.1zM280.2 88.4l2.1-2.1 2.1 2.1-2.1 2.1zM262.2 68.4l2.1-2.1 2.1 2.1-2.1 2.1zM247.4 68.4l2.1-2.1 2.1 2.1-2.1 2.1zM278.2 68.4l2.1-2.1 2.1 2.1-2.1 2.1zM271.5 68.4l2.1-2.1 2.1 2.1-2.1 2.1zM269 88.4l2.1-2.1 2.1 2.1-2.1 2.1zM248.5 88.4l2.1-2.1 2.1 2.1-2.1 2.1zM269.4 88.4l2.1-2.1 2.1 2.1-2.1 2.1zM267.9 68.4l2.1-2.1 2.1 2.1-2.1 2.1zM268.2 68.4l2.1-2.1 2.1 2.1-2.1 2.1zM260.9 68.4l2.1-2.1 2.1 2.1-2.1 2.1zM279.1 88.4l2.1-2.1 2.1 2.1-2.1 2.1zM268.8 88.4l2.1-2.1 2.1 2.1-2.1 2.1zM277 88.4l2.1-2.1 2.1 2.1-2.1 2.1zM262.1 88.4l2.1-2.1 2.1 2.1-2.1 2.1zM270.1 88.4l2.1-2.1 2.1 2.1-2.1 2.1zM268.3 88.4l2.1-2.1 2.1 2.1-2.1 2.1z"/>
<path stroke="#ff0000" d="M268.8 88.4l2.1-2.1 2.1 2.1-2.1 2.1zM249.2 48.5l2.1-2.1 2.1 2.1-2.1 2.1zM266.1 88.4l2.1-2.1 2.1 2.1-2.1 2.1zM280.9 88.4l2.1-2.1 2.1 2.1-2.1 2.1zM264.9 68.4l2.1-2.1 2.1 2.1-2.1 2.1zM257.1 88.4l2.1-2.1 2.1 2.1-2.1 2.1zM262.7 88.4l2.1-2.1 2.1 2.1-2.1 2.1zM262.9 68.4l2.1-2.1 2.1 2.1-2.1 2.1zM268.2 88.4l2.1-2.1 2.1 2.1-2.1 2.1zM276.8 88.4l2.1-2.1 2.1 2.1-2.1 2.1zM259.5 68.4l2.1-2.1 2.1 2.1-2.1 2.1zM264.5 88.4l2.1-2.1 2.1 2.1-2.1 2.1zM281.8 68.4l2.1-2.1 2.1 2.1-2.1 2.1zM270.6 68.4l2.1-2.1 2.1 2.1-2.1 2.1zM283.2 88.4l2.1-2.1 2.1 2.1-2.1 2.1zM264.8 68.4l2.1-2.1 2.1 2.1-2.1 2.1zM267.4 88.4l2.1-2.1 2.1 2.1-2.1 2.1zM271.3 48.5l2.1-2.1 2.1 2.1-2.1 2.1zM291.1 88.4l2.1-2.1 2.1 2.1-2.1 2.1zM277.2 88.4l2.1-2.1 2.1 2.1-2.1 2.1zM273.2 88.4l2.1-2.1 2.1 2.1-2.1 2.1zM287.3 88.4l2.1-2.1 2.1 2.1-2.1 2.1zM259.5 68.4l2.1-2.1 2.1 2.1-2.1 2.1zM269.8 88.4l2.1-2.1 2.1 2.1-2.1 2.1zM258.8 88.4l2.1-2.1 2.1 2.1-2.1 2.1zM271.4 88.4l2.1-2.1 2.1 2.1-2.1 2.1zM271.1 68.4l2.1-2.1 2.1 2.1-2.1 2.1zM260.2 88.4l2.1-2.1 2.1 2.1-2.1 2.1zM266.4 88.4l2.1-2.1 2.1 2.1-2.1 2.1zM272.5 88.4l2.1-2.1 2.1 2.1-2.1 2.1zM288 88.4l2.1-2.1 2.1 2.1-2.1 2.1zM283.2 88.4l2.1-2.1 2.1 2.1-2.1 2.1zM270.8 88.4l2.1-2.1 2.1 2.1-2.1 2.1zM266.4 88.4l2.1-2.1 2.1 2.1-2.1 2.1zM268.5 68.4l2.1-2.1 2.1 2.1-2.1 2.1zM264.7 88.4l2.1-2.1 2.1 2.1-2.1 2.1zM276.4 88.4l2.1-2.1 2.1 2.1-2.1 2.1zM282.9 88.4l2.1-2.1 2.1 2.1-2.1 2.1zM277.1 68.4l2.1-2.1 2.1 2.1-2.1 2.1zM272.6 88.4l2.1-2.1 2.1 2.1-2.1 2.1zM269 88.4l2.1-2.1 2.1 2.1-2.1 2.1zM272.4 88.4l2.1-2.1 2.1 2.1-2.1 2.1zM262.1 88.4l2.1-2.1 2.1 2.1-2.1 2.1zM269.8 68.4l2.1-2.1 2.1 2.1-2.1 2.1zM286.5 88.4l2.1-2.1 2.1 2.1-2.1 2.1zM266.9 88.4l2.1-2.1 2.1 2.1-2.1 2.1zM255.4 48.5l2.1-2.1 2.1 2.1-2.1 2.1zM262.7 88.4l2.1-2.1 2.1 2.1-2.1 2.1zM280.1 88.4l2.1-2.1 2.1 2.1-2.1 2.1zM280.3 68.4l2.1-2.1 2.1 2.1-2.1 2.1zM266.6 88.4l2.1-2.1 2.1 2.1-2.1 2.1zM262.8 88.4l2.1-2.1 2.1 2.1-2.1 2.1zM273 88.4l2.1-2.1 2.1 2.1-2.1 2.1zM257.4 88.4l2.1-2.1 2.1 2.1-2.1 2.1zM264.9 88.4l2.1-2.1 2.1 2.1-2.1 2.1zM269.7 68.4l2.1-2.1 2.1 2.1-2.1 2.1zM275.7 88.4l2.1-2.1 2.1 2.1-2.1 2.1z"/>
<path stroke="#00cd00" d="M286.8 48.5a1.5 1.5 0 1 0 3 0a1.5 1.5 0 1 0-3 0M296.1 48.5a1.5 1.5 0 1 0 3 0a1.5 1.5 0 1 0-3 0M277.5 28.5a1.5 1.5 0 1 0 3 0a1.5 1.5 0 1 0-3 0M303.3 48.5a1.5 1.5 0 1 0 3 0a1.5 1.5 0 1 0-3 0M274.9 28.5a1.5 1.5 0 1 0 3 0a1.5 1.5 0 1 0-3 0M286.9 28.5a1.5 1.5 0 1 0 3 0a1.5 1.5 0 1 0-3 0M293.3 68.4a1.5 1.5 0 1 0 3 0a1.5 1.5 0 1 0-3 0M289.2 48.5a1.5 1.5 0 1 0 3 0a1.5 1.5 0 1 0-3 0M298.7 48.5a1.5 1.5 0 1 0 3 0a1.5 1.5 0 1 0-3 0M288.9 48.5a1.5 1.5 0 1 0 3 0a1.5 1.5 0 1 0-3 0M287.7 68.4a1.5 1.5 0 1 0 3 0a1.5 1.5 0 1 0-3 0M291.2 28.5a1.5 1.5 0 1 0 3 0a1.5 1.5 0 1 0-3 0M298.3 48.5a1.5 1.5 0 1 0 3 0a1.5 1.5 0 1 0-3 0M294.1 48.5a1.5 1.5 0 1 0 3 0a1.5 1.5 0 1 0-3 0M304.2 28.5a1.5 1.5 0 1 0 3 0a1.5 1.5 0 1 0-3 0M299.6 88.4a1.5 1.5 0 1 0 3 0a1.5 1.5 0 1 0-3 0M291.8 68.4a1.5 1.5 0 1 0 3 0a1.5 1.5 0 1 0-3 0M292.5 28.5a1.5 1.5 0 1 0 3 0a1.5 1.5 0 1 0-3 0M282.7 48.5a1.5 1.5 0 1 0 3 0a1.5 1.5 0 1 0-3 0M272.4 48.5a1.5 1.5 0 1 0 3 0a1.5 1.5 0 1 0-3 0M293.2 68.4a1.5 1.5 0 1 0 3 0a1.5 1.5 0 1 0-3 0M279.1 48.5a1.5 1.5 0 1 0 3 0a1.5 1.5 0 1 0-3 0M289.2 68.4a1.5 1.5 0 1 0 3 0a1.5 1.5 0 1 0-3 0M294.9 48.5a1.5 1.5 0 1 0 3 0a1.5 1.5 0 1 0-3 0M285 48.5a1.5 1.5 0 1 0 3 0a1.5 1.5 0 1 0-3 0M281.6 48.5a1.5 1.5 0 1 0 3 0a1.5 1.5 0 1 0-3 0M292.6 28.5a1.5 1.5 0 1 0 3 0a1.5 1.5 0 1 0-3 0M303.2 48.5a1.5 1.5 0 1 0 3 0a1.5 1.5 0 1 0-3 0M285.4 48.5a1.5 1.5 0 1 0 3 0a1.5 1.5 0 1 0-3 0M300.7 68.4a1.5 1.5 0 1 0 3 0a1.5 1.5 0 1 0-3 0"/>
<path stroke="#ff0000" d="M265.8 88.4l2.1-2.1 2.1 2.1-2.1 2.1zM263.6 68.4l2.1-2.1 2.1 2.1-2.1 2.1zM280 88.4l2.1-2.1 2.1 2.1-2.1 2.1zM270.1 88.4l2.1-2.1 2.1 2.1-2.1 2.1zM275.3 88.4l2.1-2.1 2.1 2.1-2.1 2.1zM270.8 68.4l2.1-2.1 2.1 2.1-2.1 2.1zM274.8 48.5l2.1-2.1 2.1 2.1-2.1 2.1zM279.4 88.4l2.1-2.1 2.1 2.1-2.1 2.1zM281.7 88.4l2.1-2.1 2.1 2.1-2.1 2.1zM267.9 88.4l2.1-2.1 2.1 2.1-2.1 2.1zM262.2 88.4l2.1-2.1 2.1 2.1-2.1 2.1zM281 88.4l2.1-2.1 2.1 2.1-2.1 2.1zM276.5 88.4l2.1-2.1 2.1 2.1-2.1 2.1zM260.8 88.4l2.1-2.1 2.1 2.1-2.1 2.1zM289.9 88.4l2.1-2.1 2.1 2.1-2.1 2.1zM280 88.4l2.1-2.1 2.1 2.1-2.1 2.1zM277.9 88.4l2.1-2.1 2.1 2.1-2.1 2.1zM273.5 68.4l2.1-2.1 2.1 2.1-2.1 2.1zM267.3 88.4l2.1-2.1 2.1 2.1-2.1 2.1zM275.8 88.4l2.1-2.1 2.1 2.1-2.1 2.1zM258.6 88.4l2.1-2.1 2.1 2.1-2.1 2.1zM285.6 88.4l2.1-2.1 2.1 2.1-2.1 2.1zM285.5 88.4l2.1-2.1 2.1 2.1-2.1 2.1zM292.6 88.4l2.1-2.1 2.1 2.1-2.1 2.1zM277.6 88.4l2.1-2.1 2.1 2.1-2.1 2.1zM272.9 88.4l2.1-2.1 2.1 2.1-2.1 2.1zM260.3 88.4l2.1-2.1 2.1 2.1-2.1 2.1zM290.1 88.4l2.1-2.1 2.1 2.1-2.1 2.1zM281 88.4l2.1-2.1 2.1 2.1-2.1 2.1zM271.9 68.4l2.1-2.1 2.1 2.1-2.1 2.1zM277.8 68.4l2.1-2.1 2.1 2.1-2.1 2.1zM254 88.4l2.1-2.1 2.1 2.1-2.1 2.1zM291.2 88.4l2.1-2.1 2.1 2.1-2.1 2.1zM269.8 88.4l2.1-2.1 2.1 2.1-2.1 2.1zM257.2 68.4l2.1-2.1 2.1 2.1-2.1 2.1zM252.8 88.4l2.1-2.1 2.1 2.1-2.1 2.1zM257.8 88.4l2.1-2.1 2.1 2.1-2.1 2.1zM253.1 88.4l2.1-2.1 2.1 2.1-2.1 2.1zM256.9 88.4l2.1-2.1 2.1 2.1-2.1 2.1zM287.9 88.4l2.1-2.1 2.1 2.1-2.1 2.1zM267.8 88.4l2.1-2.1 2.1 2.1-2.1 2.1zM295.7 88.4l2.1-2.1 2.1 2.1-2.1 2.1zM259.6 88.4l2.1-2.1 2.1 2.1-2.1 2.1zM263.6 68.4l2.1-2.1 2.1 2.1-2.1 2.1zM270.8 88.4l2.1-2.1 2.1 2.1-2.1 2.1z"/>
<path stroke="#00cd00" d="M300.4 68.4a1.5 1.5 0 1 0 3 0a1.5 1.5 0 1 0-3 0M284.2 48.5a1.5 1.5 0 1 0 3 0a1.5 1.5 0 1 0-3 0M280.3 68.4a1.5 1.5 0 1 0 3 0a1.5 1.5 0 1 0-3 0M286.5 68.4a1.5 1.5 0 1 0 3 0a1.5 1.5 0 1 0-3 0M286 68.4a1.5 1.5 0 1 0 3 0a1.5 1.5 0 1 0-3 0M279.4 68.4a1.5 1.5 0 1 0 3 0a1.5 1.5 0 1 0-3 0M290.7 68.4a1.5 1.5 0 1 0 3 0a1.5 1.5 0 1 0-3 0M280 48.5a1.5 1.5 0 1 0 3 0a1.5 1.5 0 1 0-3 0M281 48.5a1.5 1.5 0 1 0 3 0a1.5 1.5 0 1 0-3 0M284.4 28.5a1.5 1.5 0 1 0 3 0a1.5 1.5 0 1 0-3 0M301.8 28.5a1.5 1.5 0 1 0 3 0a1.5 1.5 0 1 0-3 0M298.9 68.4a1.5 1.5 0 1 0 3 0a1.5 1.5 0 1 0-3 0M301.3 68.4a1.5 1.5 0 1 0 3 0a1.5 1.5 0 1 0-3 0M285 68.4a1.5 1.5 0 1 0 3 0a1.5 1.5 0 1 0-3 0M282 28.5a1.5 1.5 0 1 0 3 0a1.5 1.5 0 1 0-3 0M284.9 48.5a1.5 1.5 0 1 0 3 0a1.5 1.5 0 1 0-3 0M290.6 68.4a1.5 1.5 0 1 0 3 0a1.5 1.5 0 1 0-3 0M288.9 48.5a1.5 1.5 0 1 0 3 0a1.5 1.5 0 1 0-3 0M306.3 48.5a1.5 1.5 0 1 0 3 0a1.5 1.5 0 1 0-3 0M286.8 48.5a1.5 1.5 0 1 0 3 0a1.5 1.5 0 1 0-3 0M290 28.5a1.5 1.5 0 1 0 3 0a1.5 1.5 0 1 0-3 0M275.3 28.5a1.5 1.5 0 1 0 3 0a1.5 1.5 0 1 0-3 0M291.9 28.5a1.5 1.5 0 1 0 3 0a1.5 1.5 0 1 0-3 0M292 48.5a1.5 1.5 0 1 0 3 0a1.5 1.5 0 1 0-3 0M304 88.4a1.5 1.5 0 1 0 3 0a1.5 1.5 0 1 0-3 0M284 48.5a1.5 1.5 0 1 0 3 0a1.5 1.5 0 1 0-3 0M283.6 68.4a1.5 1.5 0 1 0 3 0a1.5 1.5 0 1 0-3 0M290.5 68.4a1.5 1.5 0 1 0 3 0a1.5 1.5 0 1 0-3 0M311.2 48.5a1.5 1.5 0 1 0 3 0a1.5 1.5 0 1 0-3 0M297.4 48.5a1.5 1.5 0 1 0 3 0a1.5 1.5 0 1 0-3 0M281 68.4a1.5 1.5 0 1 0 3 0a1.5 1.5 0 1 0-3 0M293.2 28.5a1.5 1.5 0 1 0 3 0a1.5 1.5 0 1 0-3 0M289.1 48.5a1.5 1.5 0 1 0 3 0a1.5 1.5 0 1 0-3 0M284.9 68.4a1.5 1.5 0 1 0 3 0a1.5 1.5 0 1 0-3 0M305.8 48.5a1.5 1.5 0 1 0 3 0a1.5 1.5 0 1 0-3 0M275.9 48.5a1.5 1.5 0 1 0 3 0a1.5 1.5 0 1 0-3 0M281.4 68.4a1.5 1.5 0 1 0 3 0a1.5 1.5 0 1 0-3 0M304.8 48.5a1.5 1.5 0 1 0 3 0a1.5 1.5 0 1 0-3 0M297 48.5a1.5 1.5 0 1 0 3 0a1.5 1.5 0 1 0-3 0M275.2 68.4a1.5 1.5 0 1 0 3 0a1.5 1.5 0 1 0-3 0M280.1 48.5a1.5 1.5 0 1 0 3 0a1.5 1.5 0 1 0-3 0M289.6 48.5a1.5 1.5 0 1 0 3 0a1.5 1.5 0 1 0-3 0"/>
<path stroke="#ff0000" d="M286 88.4l2.1-2.1 2.1 2.1-2.1 2.1zM267.8 48.5l2.1-2.1 2.1 2.1-2.1 2.1zM263.3 68.4l2.1-2.1 2.1 2.1-2.1 2.1zM279.6 88.4l2.1-2.1 2.1 2.1-2.1 2.1zM272.7 68.4l2.1-2.1 2.1 2.1-2.1 2.1zM266 88.4l2.1-2.1 2.1 2.1-2.1 2.1zM264.8 68.4l2.1-2.1 2.1 2.1-2.1 2.1zM270.3 68.4l2.1-2.1 2.1 2.1-2.1 2.1zM280.6 68.4l2.1-2.1 2.1 2.1-2.1 2.1zM256.5 68.4l2.1-2.1 2.1 2.1-2.1 2.1zM269 88.4l2.1-2.1 2.1 2.1-2.1 2.1zM271.3 88.4l2.1-2.1 2.1 2.1-2.1 2.1zM266.1 68.4l2.1-2.1 2.1 2.1-2.1 2.1zM285.5 88.4l2.1-2.1 2.1 2.1-2.1 2.1zM257.3 88.4l2.1-2.1 2.1 2.1-2.1 2.1zM272.7 88.4l2.1-2.1 2.1 2.1-2.1 2.1zM262.3 68.4l2.1-2.1 2.1 2.1-2.1 2.1zM257.8 88.4l2.1-2.1 2.1 2.1-2.1 2.1zM265.1 88.4l2.1-2.1 2.1 2.1-2.1 2.1zM275.8 68.4l2.1-2.1 2.1 2.1-2.1 2.1zM273.9 88.4l2.1-2.1 2.1 2.1-2.1 2.1zM274.8 88.4l2.1-2.1 2.1 2.1-2.1 2.1zM267.4 88.4l2.1-2.1 2.1 2.1-2.1 2.1zM270.6 88.4l2.1-2.1 2.1 2.1-2.1 2.1zM266.2 88.4l2.1-2.1 2.1 2.1-2.1 2.1zM293.6 88.4l2.1-2.1 2.1 2.1-2.1 2.1zM262.7 68.4l2.1-2.1 2.1 2.1-2.1 2.1zM276.6 68.4l2.1-2.1 2.1 2.1-2.1 2.1zM261 68.4l2.1-2.1 2.1 2.1-2.1 2.1zM267 68.4l2.1-2.1 2.1 2.1-2.1 2.1zM256.3 88.4l2.1-2.1 2.1 2.1-2.1 2.1zM265.8 68.4l2.1-2.1 2.1 2.1-2.1 2.1zM268.2 88.4l2.1-2.1 2.1 2.1-2.1 2.1z"/>
<path stroke="#00cd00" d="M277 28.5a1.5 1.5 0 1 0 3 0a1.5 1.5 0 1 0-3 0M281 48.5a1.5 1.5 0 1 0 3 0a1.5 1.5 0 1 0-3 0M294.9 28.5a1.5 1.5 0 1 0 3 0a1.5 1.5 0 1 0-3 0M284.6 28.5a1.5 1.5 0 1 0 3 0a1.5 1.5 0 1 0-3 0M292 48.5a1.5 1.5 0 1 0 3 0a1.5 1.5 0 1 0-3 0M283.1 48.5a1.5 1.5 0 1 0 3 0a1.5 1.5 0 1 0-3 0M285.7 68.4a1.5 1.5 0 1 0 3 0a1.5 1.5 0 1 0-3 0M291.7 68.4a1.5 1.5 0 1 0 3 0a1.5 1.5 0 1 0-3 0M282.3 68.4a1.5 1.5 0 1 0 3 0a1.5 1.5 0 1 0-3 0M293.6 48.5a1.5 1.5 0 1 0 3 0a1.5 1.5 0 1 0-3 0M297.1 48.5a1.5 1.5 0 1 0 3 0a1.5 1.5 0 1 0-3 0M298.6 48.5a1.5 1.5 0 1 0 3 0a1.5 1.5 0 1 0-3 0M284.2 68.4a1.5 1.5 0 1 0 3 0a1.5 1.5 0 1 0-3 0M288.5 48.5a1.5 1.5 0 1 0 3 0a1.5 1.5 0 1 0-3 0M273.9 28.5a1.5 1.5 0 1 0 3 0a1.5 1.5 0 1 0-3 0M285.9 68.4a1.5 1.5 0 1 0 3 0a1.5 1.5 0 1 0-3 0M297.4 88.4a1.5 1.5 0 1 0 3 0a1.5 1.5 0 1 0-3 0M292.6 28.5a1.5 1.5 0 1 0 3 0a1.5 1.5 0 1 0-3 0M281.1 68.4a1.5 1.5 0 1 0 3 0a1.5 1.5 0 1 0-3 0M297.2 68.4a1.5 1.5 0 1 0 3 0a1.5 1.5 0 1 0-3 0M293 48.5a1.5 1.5 0 1 0 3 0a1.5 1.5 0 1 0-3 0M288.6 48.5a1.5 1.5 0 1 0 3 0a1.5 1.5 0 1 0-3 0M293.3 68.4a1.5 1.5 0 1 0 3 0a1.5 1.5 0 1 0-3 0M294 48.5a1.5 1.5 0 1 0 3 0a1.5 1.5 0 1 0-3 0M291.7 68.4a1.5 1.5 0 1 0 3 0a1.5 1.5 0 1 0-3 0M296.3 48.5a1.5 1.5 0 1 0 3 0a1.5 1.5 0 1 0-3 0M294.1 48.5a1.5 1.5 0 1 0 3 0a1.5 1.5 0 1 0-3 0M285.3 68.4a1.5 1.5 0 1 0 3 0a1.5 1.5 0 1 0-3 0M291.6 48.5a1.5 1.5 0 1 0 3 0a1.5 1.5 0 1 0-3 0M268.4 68.4a1.5 1.5 0 1 0 3 0a1.5 1.5 0 1 0-3 0M291.4 48.5a1.5 1.5 0 1 0 3 0a1.5 1.5 0 1 0-3 0M287.6 48.5a1.5 1.5 0 1 0 3 0a1.5 1.5 0 1 0-3 0M288.7 68.4a1.5 1.5 0 1 0 3 0a1.5 1.5 0 1 0-3 0"/>
<path stroke="#0000ff" d="M301.1 26.1l2 3.5-4.1 0zM313.8 26.1l2 3.5-4.1 0zM303 26.1l2 3.5-4.1 0zM325.7 26.1l2 3.5-4.1 0zM318.8 46.1l2 3.5-4.1 0zM310.5 46.1l2 3.5-4.1 0zM300.3 46.1l2 3.5-4.1 0zM321.1 46.1l2 3.5-4.1 0zM298.6 26.1l2 3.5-4.1 0zM316.4 26.1l2 3.5-4.1 0zM303.2 26.1l2 3.5-4.1 0zM302.8 46.1l2 3.5-4.1 0zM329.6 26.1l2 3.5-4.1 0zM318.8 46.1l2 3.5-4.1 0zM313.4 46.1l2 3.5-4.1 0zM309.8 46.1l2 3.5-4.1 0zM304.5 46.1l2 3.5-4.1 0zM321.5 26.1l2 3.5-4.1 0zM321.7 26.1l2 3.5-4.1 0zM303.9 46.1l2 3.5-4.1 0zM308.7 26.1l2 3.5-4.1 0z"/>
<path stroke="#ff0000" d="M277 88.4l2.1-2.1 2.1 2.1-2.1 2.1zM265.5 88.4l2.1-2.1 2.1 2.1-2.1 2.1zM267.3 68.4l2.1-2.1 2.1 2.1-2.1 2.1zM267.8 88.4l2.1-2.1 2.1 2.1-2.1 2.1zM288.7 88.4l2.1-2.1 2.1 2.1-2.1 2.1zM269.5 88.4l2.1-2.1 2.1 2.1-2.1 2.1zM260.5 68.4l2.1-2.1 2.1 2.1-2.1 2.1zM265.7 68.4l2.1-2.1 2.1 2.1-2.1 2.1zM283.8 88.4l2.1-2.1 2.1 2.1-2.1 2.1zM291.7 88.4l2.1-2.1 2.1 2.1-2.1 2.1zM273.2 88.4l2.1-2.1 2.1 2.1-2.1 2.1zM291.4 88.4l2.1-2.1 2.1 2.1-2.1 2.1zM272.3 88.4l2.1-2.1 2.1 2.1-2.1 2.1zM262.9 88.4l2.1-2.1 2.1 2.1-2.1 2.1zM254.1 88.4l2.1-2.1 2.1 2.1-2.1 2.1zM268.2 88.4l2.1-2.1 2.1 2.1-2.1 2.1zM289.1 88.4l2.1-2.1 2.1 2.1-2.1 2.1zM285.3 88.4l2.1-2.1 2.1 2.1-2.1 2.1zM275 68.4l2.1-2.1 2.1 2.1-2.1 2.1zM278.3 68.4l2.1-2.1 2.1 2.1-2.1 2.1zM261.5 68.4l2.1-2.1 2.1 2.1-2.1 2.1zM270 68.4l2.1-2.1 2.1 2.1-2.1 2.1zM280.5 88.4l2.1-2.1 2.1 2.1-2.1 2.1zM259.1 88.4l2.1-2.1 2.1 2.1-2.1 2.1zM253.4 88.4l2.1-2.1 2.1 2.1-2.1 2.1zM268.3 88.4l2.1-2.1 2.1 2.1-2.1 2.1zM270 88.4l2.1-2.1 2.1 2.1-2.1 2.1z"/>
<path stroke="#00cd00" d="M306.3 48.5a1.5 1.5 0 1 0 3 0a1.5 1.5 0 1 0-3 0M290 48.5a1.5 1.5 0 1 0 3 0a1.5 1.5 0 1 0-3 0M282.8 68.4a1.5 1.5 0 1 0 3 0a1.5 1.5 0 1 0-3 0M285.6 48.5a1.5 1.5 0 1 0 3 0a1.5 1.5 0 1 0-3 0M282.2 68.4a1.5 1.5 0 1 0 3 0a1.5 1.5 0 1 0-3 0M278.2 48.5a1.5 1.5 0 1 0 3 0a1.5 1.5 0 1 0-3 0M291.5 28.5a1.5 1.5 0 1 0 3 0a1.5 1.5 0 1 0-3 0M275.2 68.4a1.5 1.5 0 1 0 3 0a1.5 1.5 0 1 0-3 0M283.8 68.4a1.5 1.5 0 1 0 3 0a1.5 1.5 0 1 0-3 0M291.7 48.5a1.5 1.5 0 1 0 3 0a1.5 1.5 0 1 0-3 0M291.4 68.4a1.5 1.5 0 1 0 3 0a1.5 1.5 0 1 0-3 0M296.8 48.5a1.5 1.5 0 1 0 3 0a1.5 1.5 0 1 0-3 0M277.4 28.5a1.5 1.5 0 1 0 3 0a1.5 1.5 0 1 0-3 0M289.3 48.5a1.5 1.5 0 1 0 3 0a1.5 1.5 0 1 0-3 0M313.8 28.5a1.5 1.5 0 1 0 3 0a1.5 1.5 0 1 0-3 0M297.5 28.5a1.5 1.5 0 1 0 3 0a1.5 1.5 0 1 0-3 0M282.1 68.4a1.5 1.5 0 1 0 3 0a1.5 1.5 0 1 0-3 0M287.2 28.5a1.5 1.5 0 1 0 3 0a1.5 1.5 0 1 0-3 0M281.4 68.4a1.5 1.5 0 1 0 3 0a1.5 1.5 0 1 0-3 0M284.8 48.5a1.5 1.5 0 1 0 3 0a1.5 1.5 0 1 0-3 0M291.4 48.5a1.5 1.5 0 1 0 3 0a1.5 1.5 0 1 0-3 0M279.9 68.4a1.5 1.5 0 1 0 3 0a1.5 1.5 0 1 0-3 0M281.4 68.4a1.5 1.5 0 1 0 3 0a1.5 1.5 0 1 0-3 0M292.4 28.5a1.5 1.5 0 1 0 3 0a1.5 1.5 0 1 0-3 0M277.7 48.5a1.5 1.5 0 1 0 3 0a1.5 1.5 0 1 0-3 0M276.2 68.4a1.5 1.5 0 1 0 3 0a1.5 1.5 0 1 0-3 0M295 68.4a1.5 1.5 0 1 0 3 0a1.5 1.5 0 1 0-3 0M280.8 68.4a1.5 1.5 0 1 0 3 0a1.5 1.5 0 1 0-3 0M286.5 68.4a1.5 1.5 0 1 0 3 0a1.5 1.5 0 1 0-3 0M289.1 68.4a1.5 1.5 0 1 0 3 0a1.5 1.5 0 1 0-3 0M285.2 48.5a1.5 1.5 0 1 0 3 0a1.5 1.5 0 1 0-3 0"/>
<path stroke="#0000ff" d="M310.6 46.1l2 3.5-4.1 0zM306.2 26.1l2 3.5-4.1 0zM312.3 26.1l2 3.5-4.1 0zM314.2 46.1l2 3.5-4.1 0zM306.5 46.1l2 3.5-4.1 0zM298.9 66.1l2 3.5-4.1 0zM294 26.1l2 3.5-4.1 0zM311.3 46.1l2 3.5-4.1 0zM318.8 26.1l2 3.5-4.1 0zM290.9 26.1l2 3.5-4.1 0zM309.3 26.1l2 3.5-4.1 0zM310.6 26.1l2 3.5-4.1 0zM313.5 26.1l2 3.5-4.1 0zM313.5 26.1l2 3.5-4.1 0zM308.8 46.1l2 3.5-4.1 0zM317.7 26.1l2 3.5-4.1 0zM315.9 26.1l2 3.5-4.1 0zM313.5 26.1l2 3.5-4.1 0zM292.7 26.1l2 3.5-4.1 0zM303 26.1l2 3.5-4.1 0zM301.9 46.1l2 3.5-4.1 0zM320.8 66.1l2 3.5-4.1 0zM314.8 46.1l2 3.5-4.1 0zM313.3 46.1l2 3.5-4.1 0zM316.3 46.1l2 3.5-4.1 0zM301.5 46.1l2 3.5-4.1 0zM293.4 46.1l2 3.5-4.1 0zM318.3 26.1l2 3.5-4.1 0zM298.8 26.1l2 3.5-4.1 0z"/>
<path stroke="#ff0000" d="M274.4 68.4l2.1-2.1 2.1 2.1-2.1 2.1zM264.4 68.4l2.1-2.1 2.1 2.1-2.1 2.1zM283.8 88.4l2.1-2.1 2.1 2.1-2.1 2.1zM288.8 88.4l2.1-2.1 2.1 2.1-2.1 2.1zM283.7 88.4l2.1-2.1 2.1 2.1-2.1 2.1zM275.7 88.4l2.1-2.1 2.1 2.1-2.1 2.1zM287.1 88.4l2.1-2.1 2.1 2.1-2.1 2.1zM264.8 88.4l2.1-2.1 2.1 2.1-2.1 2.1zM277.5 88.4l2.1-2.1 2.1 2.1-2.1 2.1zM273.5 88.4l2.1-2.1 2.1 2.1-2.1 2.1zM261.5 68.4l2.1-2.1 2.1 2.1-2.1 2.1zM282.9 88.4l2.1-2.1 2.1 2.1-2.1 2.1zM275.2 88.4l2.1-2.1 2.1 2.1-2.1 2.1zM260.6 88.4l2.1-2.1 2.1 2.1-2.1 2.1zM284 88.4l2.1-2.1 2.1 2.1-2.1 2.1zM278.9 88.4l2.1-2.1 2.1 2.1-2.1 2.1zM262.1 88.4l2.1-2.1 2.1 2.1-2.1 2.1zM256 88.4l2.1-2.1 2.1 2.1-2.1 2.1zM275.2 68.4l2.1-2.1 2.1 2.1-2.1 2.1zM275 88.4l2.1-2.1 2.1 2.1-2.1 2.1zM266.1 88.4l2.1-2.1 2.1 2.1-2.1 2.1zM266.5 88.4l2.1-2.1 2.1 2.1-2.1 2.1zM274.3 68.4l2.1-2.1 2.1 2.1-2.1 2.1zM265.1 88.4l2.1-2.1 2.1 2.1-2.1 2.1zM257.4 68.4l2.1-2.1 2.1 2.1-2.1 2.1zM285.1 88.4l2.1-2.1 2.1 2.1-2.1 2.1zM273.9 68.4l2.1-2.1 2.1 2.1-2.1 2.1zM275 88.4l2.1-2.1 2.1 2.1-2.1 2.1zM275.7 68.4l2.1-2.1 2.1 2.1-2.1 2.1zM271.2 88.4l2.1-2.1 2.1 2.1-2.1 2.1zM278.8 68.4l2.1-2.1 2.1 2.1-2.1 2.1z"/>
<path stroke="#00cd00" d="M290.5 48.5a1.5 1.5 0 1 0 3 0a1.5 1.5 0 1 0-3 0M291.8 48.5a1.5 1.5 0 1 0 3 0a1.5 1.5 0 1 0-3 0M282.4 48.5a1.5 1.5 0 1 0 3 0a1.5 1.5 0 1 0-3 0M288.6 48.5a1.5 1.5 0 1 0 3 0a1.5 1.5 0 1 0-3 0M288.9 28.5a1.5 1.5 0 1 0 3 0a1.5 1.5 0 1 0-3 0M291.2 48.5a1.5 1.5 0 1 0 3 0a1.5 1.5 0 1 0-3 0M280.3 68.4a1.5 1.5 0 1 0 3 0a1.5 1.5 0 1 0-3 0M292.8 48.5a1.5 1.5 0 1 0 3 0a1.5 1.5 0 1 0-3 0M295.6 68.4a1.5 1.5 0 1 0 3 0a1.5 1.5 0 1 0-3 0M289 48.5a1.5 1.5 0 1 0 3 0a1.5 1.5 0 1 0-3 0M289.1 68.4a1.5 1.5 0 1 0 3 0a1.5 1.5 0 1 0-3 0M295 48.5a1.5 1.5 0 1 0 3 0a1.5 1.5 0 1 0-3 0M297 68.4a1.5 1.5 0 1 0 3 0a1.5 1.5 0 1 0-3 0M300.3 28.5a1.5 1.5 0 1 0 3 0a1.5 1.5 0 1 0-3 0M289.7 48.5a1.5 1.5 0 1 0 3 0a1.5 1.5 0 1 0-3 0M284.7 48.5a1.5 1.5 0 1 0 3 0a1.5 1.5 0 1 0-3 0M281.6 68.4a1.5 1.5 0 1 0 3 0a1.5 1.5 0 1 0-3 0M292.4 48.5a1.5 1.5 0 1 0 3 0a1.5 1.5 0 1 0-3 0M283.2 28.5a1.5 1.5 0 1 0 3 0a1.5 1.5 0 1 0-3 0M283.9 48.5a1.5 1.5 0 1 0 3 0a1.5 1.5 0 1 0-3 0M288.1 68.4a1.5 1.5 0 1 0 3 0a1.5 1.5 0 1 0-3 0M284.5 28.5a1.5 1.5 0 1 0 3 0a1.5 1.5 0 1 0-3 0M287 28.5a1.5 1.5 0 1 0 3 0a1.5 1.5 0 1 0-3 0M284.1 48.5a1.5 1.5 0 1 0 3 0a1.5 1.5 0 1 0-3 0M304.7 48.5a1.5 1.5 0 1 0 3 0a1.5 1.5 0 1 0-3 0M287.3 68.4a1.5 1.5 0 1 0 3 0a1.5 1.5 0 1 0-3 0M291.4 48.5a1.5 1.5 0 1 0 3 0a1.5 1.5 0 1 0-3 0"/>
<path stroke="#0000ff" d="M313.1 26.1l2 3.5-4.1 0zM309.7 66.1l2 3.5-4.1 0zM299.7 46.1l2 3.5-4.1 0zM320.3 26.1l2 3.5-4.1 0zM318.5 46.1l2 3.5-4.1 0zM311.1 26.1l2 3.5-4.1 0zM315 46.1l2 3.5-4.1 0zM309.9 26.1l2 3.5-4.1 0zM309.4 26.1l2 3.5-4.1 0zM322.9 46.1l2 3.5-4.1 0zM307.8 26.1l2 3.5-4.1 0zM309.2 26.1l2 3.5-4.1 0zM318.3 46.1l2 3.5-4.1 0zM317.6 46.1l2 3.5-4.1 0zM317 26.1l2 3.5-4.1 0zM314.6 46.1l2 3.5-4.1 0zM298.6 46.1l2 3.5-4.1 0zM297.2 26.1l2 3.5-4.1 0zM292.4 46.1l2 3.5-4.1 0zM308.9 26.1l2 3.5-4.1 0zM321.7 26.1l2 3.5-4.1 0zM321.9 26.1l2 3.5-4.1 0zM309.4 26.1l2 3.5-4.1 0zM297.9 46.1l2 3.5-4.1 0zM304.6 26.1l2 3.5-4.1 0zM323.3 26.1l2 3.5-4.1 0zM309.8 46.1l2 3.5-4.1 0zM302.6 26.1l2 3.5-4.1 0zM303.4 26.1l2 3.5-4.1 0z"/>
<path stroke="#ff0000" d="M265.7 68.4l2.1-2.1 2.1 2.1-2.1 2.1zM272.2 68.4l2.1-2.1 2.1 2.1-2.1 2.1zM285.7 88.4l2.1-2.1 2.1 2.1-2.1 2.1zM289.9 88.4l2.1-2.1 2.1 2.1-2.1 2.1zM272 88.4l2.1-2.1 2.1 2.1-2.1 2.1zM263.2 88.4l2.1-2.1 2.1 2.1-2.1 2.1zM263 68.4l2.1-2.1 2.1 2.1-2.1 2.1zM262.2 88.4l2.1-2.1 2.1 2.1-2.1 2.1zM264.3 48.5l2.1-2.1 2.1 2.1-2.1 2.1zM271.4 88.4l2.1-2.1 2.1 2.1-2.1 2.1zM271.1 68.4l2.1-2.1 2.1 2.1-2.1 2.1zM269.6 88.4l2.1-2.1 2.1 2.1-2.1 2.1zM280.2 88.4l2.1-2.1 2.1 2.1-2.1 2.1zM271.8 88.4l2.1-2.1 2.1 2.1-2.1 2.1zM256.7 68.4l2.1-2.1 2.1 2.1-2.1 2.1zM266.8 88.4l2.1-2.1 2.1 2.1-2.1 2.1zM284.6 88.4l2.1-2.1 2.1 2.1-2.1 2.1zM265.2 68.4l2.1-2.1 2.1 2.1-2.1 2.1zM266.3 88.4l2.1-2.1 2.1 2.1-2.1 2.1zM266.5 88.4l2.1-2.1 2.1 2.1-2.1 2.1zM261.2 88.4l2.1-2.1 2.1 2.1-2.1 2.1zM266.3 88.4l2.1-2.1 2.1 2.1-2.1 2.1zM272.3 68.4l2.1-2.1 2.1 2.1-2.1 2.1zM277.6 68.4l2.1-2.1 2.1 2.1-2.1 2.1zM269.9 68.4l2.1-2.1 2.1 2.1-2.1 2.1zM288.1 88.4l2.1-2.1 2.1 2.1-2.1 2.1zM275.8 88.4l2.1-2.1 2.1 2.1-2.1 2.1zM272.3 88.4l2.1-2.1 2.1 2.1-2.1 2.1z"/>
<path stroke="#00cd00" d="M302.5 28.5a1.5 1.5 0 1 0 3 0a1.5 1.5 0 1 0-3 0M290.1 68.4a1.5 1.5 0 1 0 3 0a1.5 1.5 0 1 0-3 0M279.1 48.5a1.5 1.5 0 1 0 3 0a1.5 1.5 0 1 0-3 0M318.5 48.5a1.5 1.5 0 1 0 3 0a1.5 1.5 0 1 0-3 0M286.3 48.5a1.5 1.5 0 1 0 3 0a1.5 1.5 0 1 0-3 0M302.1 48.5a1.5 1.5 0 1 0 3 0a1.5 1.5 0 1 0-3 0M280 68.4a1.5 1.5 0 1 0 3 0a1.5 1.5 0 1 0-3 0M286.5 68.4a1.5 1.5 0 1 0 3 0a1.5 1.5 0 1 0-3 0M296.3 68.4a1.5 1.5 0 1 0 3 0a1.5 1.5 0 1 0-3 0M282.9 28.5a1.5 1.5 0 1 0 3 0a1.5 1.5 0 1 0-3 0M280.5 68.4a1.5 1.5 0 1 0 3 0a1.5 1.5 0 1 0-3 0M287.6 68.4a1.5 1.5 0 1 0 3 0a1.5 1.5 0 1 0-3 0M281.3 68.4a1.5 1.5 0 1 0 3 0a1.5 1.5 0 1 0-3 0M295.6 68.4a1.5 1.5 0 1 0 3 0a1.5 1.5 0 1 0-3 0M271.6 28.5a1.5 1.5 0 1 0 3 0a1.5 1.5 0 1 0-3 0M295.8 48.5a1.5 1.5 0 1 0 3 0a1.5 1.5 0 1 0-3 0M296.6 68.4a1.5 1.5 0 1 0 3 0a1.5 1.5 0 1 0-3 0M290.8 68.4a1.5 1.5 0 1 0 3 0a1.5 1.5 0 1 0-3 0M289.5 28.5a1.5 1.5 0 1 0 3 0a1.5 1.5 0 1 0-3 0M289.2 68.4a1.5 1.5 0 1 0 3 0a1.5 1.5 0 1 0-3 0M284.2 68.4a1.5 1.5 0 1 0 3 0a1.5 1.5 0 1 0-3 0M295.8 48.5a1.5 1.5 0 1 0 3 0a1.5 1.5 0 1 0-3 0M296.6 48.5a1.5 1.5 0 1 0 3 0a1.5 1.5 0 1 0-3 0M292.3 88.4a1.5 1.5 0 1 0 3 0a1.5 1.5 0 1 0-3 0M307.3 48.5a1.5 1.5 0 1 0 3 0a1.5 1.5 0 1 0-3 0M306.1 48.5a1.5 1.5 0 1 0 3 0a1.5 1.5 0 1 0-3 0M281 68.4a1.5 1.5 0 1 0 3 0a1.5 1.5 0 1 0-3 0"/>
<path stroke="#0000ff" d="M300.2 46.1l2 3.5-4.1 0zM308.1 46.1l2 3.5-4.1 0zM304.7 46.1l2 3.5-4.1 0zM304.7 46.1l2 3.5-4.1 0zM315.8 26.1l2 3.5-4.1 0zM295.1 26.1l2 3.5-4.1 0zM313.9 46.1l2 3.5-4.1 0zM294.8 46.1l2 3.5-4.1 0zM312.9 26.1l2 3.5-4.1 0zM318.6 26.1l2 3.5-4.1 0zM307 26.1l2 3.5-4.1 0zM305.9 26.1l2 3.5-4.1 0zM300.4 26.1l2 3.5-4.1 0zM304.7 46.1l2 3.5-4.1 0zM301.3 26.1l2 3.5-4.1 0zM309.8 26.1l2 3.5-4.1 0zM303 26.1l2 3.5-4.1 0zM314.5 46.1l2 3.5-4.1 0zM312 46.1l2 3.5-4.1 0zM310.3 26.1l2 3.5-4.1 0zM303.8 26.1l2 3.5-4.1 0zM300.5 26.1l2 3.5-4.1 0zM305.7 46.1l2 3.5-4.1 0zM299.2 46.1l2 3.5-4.1 0zM311.7 26.1l2 3.5-4.1 0zM293.1 26.1l2 3.5-4.1 0zM283 26.1l2 3.5-4.1 0zM309.9 26.1l2 3.5-4.1 0zM296.1 46.1l2 3.5-4.1 0zM295.8 26.1l2 3.5-4.1 0zM314 46.1l2 3.5-4.1 0zM306.7 26.1l2 3.5-4.1 0z"/>
<path stroke="#ff0000" d="M254.7 88.4l2.1-2.1 2.1 2.1-2.1 2.1zM267.7 88.4l2.1-2.1 2.1 2.1-2.1 2.1zM261.1 88.4l2.1-2.1 2.1 2.1-2.1 2.1zM261.8 48.5l2.1-2.1 2.1 2.1-2.1 2.1zM255.8 88.4l2.1-2.1 2.1 2.1-2.1 2.1zM263.6 88.4l2.1-2.1 2.1 2.1-2.1 2.1zM259.1 88.4l2.1-2.1 2.1 2.1-2.1 2.1zM283.3 88.4l2.1-2.1 2.1 2.1-2.1 2.1zM277.7 88.4l2.1-2.1 2.1 2.1-2.1 2.1zM282.8 88.4l2.1-2.1 2.1 2.1-2.1 2.1zM265.2 88.4l2.1-2.1 2.1 2.1-2.1 2.1zM262.8 88.4l2.1-2.1 2.1 2.1-2.1 2.1zM270 88.4l2.1-2.1 2.1 2.1-2.1 2.1zM281.5 88.4l2.1-2.1 2.1 2.1-2.1 2.1zM284.5 88.4l2.1-2.1 2.1 2.1-2.1 2.1zM288.6 88.4l2.1-2.1 2.1 2.1-2.1 2.1zM277.3 88.4l2.1-2.1 2.1 2.1-2.1 2.1zM246.2 88.4l2.1-2.1 2.1 2.1-2.1 2.1zM253.6 88.4l2.1-2.1 2.1 2.1-2.1 2.1zM271.8 68.4l2.1-2.1 2.1 2.1-2.1 2.1zM284.7 88.4l2.1-2.1 2.1 2.1-2.1 2.1zM270.1 88.4l2.1-2.1 2.1 2.1-2.1 2.1zM287.4 88.4l2.1-2.1 2.1 2.1-2.1 2.1zM275.6 68.4l2.1-2.1 2.1 2.1-2.1 2.1zM253.9 88.4l2.1-2.1 2.1 2.1-2.1 2.1zM268.9 88.4l2.1-2.1 2.1 2.1-2.1 2.1zM271 88.4l2.1-2.1 2.1 2.1-2.1 2.1zM278.6 68.4l2.1-2.1 2.1 2.1-2.1 2.1z"/>
<path stroke="#00cd00" d="M285.7 28.5a1.5 1.5 0 1 0 3 0a1.5 1.5 0 1 0-3 0M278.1 68.4a1.5 1.5 0 1 0 3 0a1.5 1.5 0 1 0-3 0M289.9 48.5a1.5 1.5 0 1 0 3 0a1.5 1.5 0 1 0-3 0M286.4 68.4a1.5 1.5 0 1 0 3 0a1.5 1.5 0 1 0-3 0M275.6 48.5a1.5 1.5 0 1 0 3 0a1.5 1.5 0 1 0-3 0M284.9 28.5a1.5 1.5 0 1 0 3 0a1.5 1.5 0 1 0-3 0M282 28.5a1.5 1.5 0 1 0 3 0a1.5 1.5 0 1 0-3 0M282.4 48.5a1.5 1.5 0 1 0 3 0a1.5 1.5 0 1 0-3 0M284.7 48.5a1.5 1.5 0 1 0 3 0a1.5 1.5 0 1 0-3 0M295.4 48.5a1.5 1.5 0 1 0 3 0a1.5 1.5 0 1 0-3 0M294.8 68.4a1.5 1.5 0 1 0 3 0a1.5 1.5 0 1 0-3 0M296.6 68.4a1.5 1.5 0 1 0 3 0a1.5 1.5 0 1 0-3 0M270.1 48.5a1.5 1.5 0 1 0 3 0a1.5 1.5 0 1 0-3 0M299.4 28.5a1.5 1.5 0 1 0 3 0a1.5 1.5 0 1 0-3 0M301.8 28.5a1.5 1.5 0 1 0 3 0a1.5 1.5 0 1 0-3 0M291.8 28.5a1.5 1.5 0 1 0 3 0a1.5 1.5 0 1 0-3 0M292.6 68.4a1.5 1.5 0 1 0 3 0a1.5 1.5 0 1 0-3 0M296.2 48.5a1.5 1.5 0 1 0 3 0a1.5 1.5 0 1 0-3 0M284.3 48.5a1.5 1.5 0 1 0 3 0a1.5 1.5 0 1 0-3 0M294.7 28.5a1.5 1.5 0 1 0 3 0a1.5 1.5 0 1 0-3 0M288.8 68.4a1.5 1.5 0 1 0 3 0a1.5 1.5 0 1 0-3 0M293.3 68.4a1.5 1.5 0 1 0 3 0a1.5 1.5 0 1 0-3 0M277.6 68.4a1.5 1.5 0 1 0 3 0a1.5 1.5 0 1 0-3 0M302.8 28.5a1.5 1.5 0 1 0 3 0a1.5 1.5 0 1 0-3 0M283.2 68.4a1.5 1.5 0 1 0 3 0a1.5 1.5 0 1 0-3 0M292.8 68.4a1.5 1.5 0 1 0 3 0a1.5 1.5 0 1 0-3 0M279.9 68.4a1.5 1.5 0 1 0 3 0a1.5 1.5 0 1 0-3 0M285.2 68.4a1.5 1.5 0 1 0 3 0a1.5 1.5 0 1 0-3 0M288 48.5a1.5 1.5 0 1 0 3 0a1.5 1.5 0 1 0-3 0M294.1 48.5a1.5 1.5 0 1 0 3 0a1.5 1.5 0 1 0-3 0M284.7 48.5a1.5 1.5 0 1 0 3 0a1.5 1.5 0 1 0-3 0M281.2 28.5a1.5 1.5 0 1 0 3 0a1.5 1.5 0 1 0-3 0M287.5 48.5a1.5 1.5 0 1 0 3 0a1.5 1.5 0 1 0-3 0M280.9 48.5a1.5 1.5 0 1 0 3 0a1.5 1.5 0 1 0-3 0"/>
<path stroke="#0000ff" d="M307.9 26.1l2 3.5-4.1 0zM322 46.1l2 3.5-4.1 0zM288 26.1l2 3.5-4.1 0zM296.8 46.1l2 3.5-4.1 0zM318.3 26.1l2 3.5-4.1 0zM309.6 46.1l2 3.5-4.1 0zM296.6 26.1l2 3.5-4.1 0zM314.7 46.1l2 3.5-4.1 0zM301 26.1l2 3.5-4.1 0zM303.2 26.1l2 3.5-4.1 0zM289.3 26.1l2 3.5-4.1 0zM295.3 46.1l2 3.5-4.1 0zM295.8 26.1l2 3.5-4.1 0zM299.8 46.1l2 3.5-4.1 0zM301.3 26.1l2 3.5-4.1 0zM311.3 26.1l2 3.5-4.1 0zM307.9 46.1l2 3.5-4.1 0zM310.7 26.1l2 3.5-4.1 0zM310.1 26.1l2 3.5-4.1 0zM312 26.1l2 3.5-4.1 0zM316.9 26.1l2 3.5-4.1 0zM305.5 26.1l2 3.5-4.1 0zM296.7 46.1l2 3.5-4.1 0zM312.1 26.1l2 3.5-4.1 0zM305.6 26.1l2 3.5-4.1 0z"/>
<path stroke="#ff0000" d="M283.8 88.4l2.1-2.1 2.1 2.1-2.1 2.1zM268.2 68.4l2.1-2.1 2.1 2.1-2.1 2.1zM282.2 88.4l2.1-2.1 2.1 2.1-2.1 2.1zM273.5 68.4l2.1-2.1 2.1 2.1-2.1 2.1zM255.9 88.4l2.1-2.1 2.1 2.1-2.1 2.1zM280.5 88.4l2.1-2.1 2.1 2.1-2.1 2.1z"/>
<path stroke="#00cd00" d="M291.1 48.5a1.5 1.5 0 1 0 3 0a1.5 1.5 0 1 0-3 0M291.7 68.4a1.5 1.5 0 1 0 3 0a1.5 1.5 0 1 0-3 0M293.7 68.4a1.5 1.5 0 1 0 3 0a1.5 1.5 0 1 0-3 0M288.8 68.4a1.5 1.5 0 1 0 3 0a1.5 1.5 0 1 0-3 0M291.9 28.5a1.5 1.5 0 1 0 3 0a1.5 1.5 0 1 0-3 0M291.4 48.5a1.5 1.5 0 1 0 3 0a1.5 1.5 0 1 0-3 0M298.5 48.5a1.5 1.5 0 1 0 3 0a1.5 1.5 0 1 0-3 0M296.2 68.4a1.5 1.5 0 1 0 3 0a1.5 1.5 0 1 0-3 0M284.2 68.4a1.5 1.5 0 1 0 3 0a1.5 1.5 0 1 0-3 0M301.3 68.4a1.5 1.5 0 1 0 3 0a1.5 1.5 0 1 0-3 0M291.8 68.4a1.5 1.5 0 1 0 3 0a1.5 1.5 0 1 0-3 0M277 28.5a1.5 1.5 0 1 0 3 0a1.5 1.5 0 1 0-3 0M297.7 68.4a1.5 1.5 0 1 0 3 0a1.5 1.5 0 1 0-3 0M295.3 68.4a1.5 1.5 0 1 0 3 0a1.5 1.5 0 1 0-3 0M298.9 68.4a1.5 1.5 0 1 0 3 0a1.5 1.5 0 1 0-3 0M287.1 68.4a1.5 1.5 0 1 0 3 0a1.5 1.5 0 1 0-3 0M286.2 48.5a1.5 1.5 0 1 0 3 0a1.5 1.5 0 1 0-3 0M280.7 48.5a1.5 1.5 0 1 0 3 0a1.5 1.5 0 1 0-3 0M297 48.5a1.5 1.5 0 1 0 3 0a1.5 1.5 0 1 0-3 0M293.6 28.5a1.5 1.5 0 1 0 3 0a1.5 1.5 0 1 0-3 0M284.2 68.4a1.5 1.5 0 1 0 3 0a1.5 1.5 0 1 0-3 0M288 68.4a1.5 1.5 0 1 0 3 0a1.5 1.5 0 1 0-3 0M287.7 48.5a1.5 1.5 0 1 0 3 0a1.5 1.5 0 1 0-3 0M296 68.4a1.5 1.5 0 1 0 3 0a1.5 1.5 0 1 0-3 0M296.7 68.4a1.5 1.5 0 1 0 3 0a1.5 1.5 0 1 0-3 0M297.1 28.5a1.5 1.5 0 1 0 3 0a1.5 1.5 0 1 0-3 0M294.5 68.4a1.5 1.5 0 1 0 3 0a1.5 1.5 0 1 0-3 0M275.9 48.5a1.5 1.5 0 1 0 3 0a1.5 1.5 0 1 0-3 0M299.6 28.5a1.5 1.5 0 1 0 3 0a1.5 1.5 0 1 0-3 0M282.2 28.5a1.5 1.5 0 1 0 3 0a1.5 1.5 0 1 0-3 0M296.2 28.5a1.5 1.5 0 1 0 3 0a1.5 1.5 0 1 0-3 0M283.3 48.5a1.5 1.5 0 1 0 3 0a1.5 1.5 0 1 0-3 0M288.7 68.4a1.5 1.5 0 1 0 3 0a1.5 1.5 0 1 0-3 0M296.2 48.5a1.5 1.5 0 1 0 3 0a1.5 1.5 0 1 0-3 0M277.9 68.4a1.5 1.5 0 1 0 3 0a1.5 1.5 0 1 0-3 0M281.4 28.5a1.5 1.5 0 1 0 3 0a1.5 1.5 0 1 0-3 0M294.4 88.4a1.5 1.5 0 1 0 3 0a1.5 1.5 0 1 0-3 0M290.7 28.5a1.5 1.5 0 1 0 3 0a1.5 1.5 0 1 0-3 0M290.4 88.4a1.5 1.5 0 1 0 3 0a1.5 1.5 0 1 0-3 0M294.3 68.4a1.5 1.5 0 1 0 3 0a1.5 1.5 0 1 0-3 0M281.3 28.5a1.5 1.5 0 1 0 3 0a1.5 1.5 0 1 0-3 0M283.7 28.5a1.5 1.5 0 1 0 3 0a1.5 1.5 0 1 0-3 0M285.9 48.5a1.5 1.5 0 1 0 3 0a1.5 1.5 0 1 0-3 0M307 48.5a1.5 1.5 0 1 0 3 0a1.5 1.5 0 1 0-3 0M290.6 68.4a1.5 1.5 0 1 0 3 0a1.5 1.5 0 1 0-3 0M300.6 68.4a1.5 1.5 0 1 0 3 0a1.5 1.5 0 1 0-3 0M289.4 68.4a1.5 1.5 0 1 0 3 0a1.5 1.5 0 1 0-3 0M277 48.5a1.5 1.5 0 1 0 3 0a1.5 1.5 0 1 0-3 0"/>
<path stroke="#0000ff" d="M305.6 26.1l2 3.5-4.1 0zM305.8 26.1l2 3.5-4.1 0zM305.7 26.1l2 3.5-4.1 0zM305.7 46.1l2 3.5-4.1 0zM315.6 26.1l2 3.5-4.1 0zM318.3 26.1l2 3.5-4.1 0zM323.7 26.1l2 3.5-4.1 0zM306.1 46.1l2 3.5-4.1 0zM297 26.1l2 3.5-4.1 0zM314.1 46.1l2 3.5-4.1 0zM309.4 26.1l2 3.5-4.1 0zM309 26.1l2 3.5-4.1 0zM300.1 46.1l2 3.5-4.1 0zM319.2 46.1l2 3.5-4.1 0zM302.9 46.1l2 3.5-4.1 0zM311.3 26.1l2 3.5-4.1 0zM299.6 26.1l2 3.5-4.1 0zM299.5 46.1l2 3.5-4.1 0zM307 46.1l2 3.5-4.1 0zM295.8 26.1l2 3.5-4.1 0zM314.5 46.1l2 3.5-4.1 0zM312.6 26.1l2 3.5-4.1 0zM295.5 46.1l2 3.5-4.1 0zM312.4 46.1l2 3.5-4.1 0zM315.6 46.1l2 3.5-4.1 0zM314.9 26.1l2 3.5-4.1 0zM314.4 26.1l2 3.5-4.1 0zM308.7 26.1l2 3.5-4.1 0zM296 26.1l2 3.5-4.1 0zM316.7 26.1l2 3.5-4.1 0zM315.5 26.1l2 3.5-4.1 0zM319.9 26.1l2 3.5-4.1 0zM303.8 26.1l2 3.5-4.1 0z"/>
<path stroke="#00cd00" d="M289.1 28.5a1.5 1.5 0 1 0 3 0a1.5 1.5 0 1 0-3 0M297.1 28.5a1.5 1.5 0 1 0 3 0a1.5 1.5 0 1 0-3 0M295.5 48.5a1.5 1.5 0 1 0 3 0a1.5 1.5 0 1 0-3 0M303.4 28.5a1.5 1.5 0 1 0 3 0a1.5 1.5 0 1 0-3 0M298.3 68.4a1.5 1.5 0 1 0 3 0a1.5 1.5 0 1 0-3 0M280.4 48.5a1.5 1.5 0 1 0 3 0a1.5 1.5 0 1 0-3 0M281.8 48.5a1.5 1.5 0 1 0 3 0a1.5 1.5 0 1 0-3 0M296.7 68.4a1.5 1.5 0 1 0 3 0a1.5 1.5 0 1 0-3 0M289.4 28.5a1.5 1.5 0 1 0 3 0a1.5 1.5 0 1 0-3 0M295.8 48.5a1.5 1.5 0 1 0 3 0a1.5 1.5 0 1 0-3 0M296 48.5a1.5 1.5 0 1 0 3 0a1.5 1.5 0 1 0-3 0M286.9 48.5a1.5 1.5 0 1 0 3 0a1.5 1.5 0 1 0-3 0M291.4 48.5a1.5 1.5 0 1 0 3 0a1.5 1.5 0 1 0-3 0M288.5 68.4a1.5 1.5 0 1 0 3 0a1.5 1.5 0 1 0-3 0M284.5 68.4a1.5 1.5 0 1 0 3 0a1.5 1.5 0 1 0-3 0M287.6 68.4a1.5 1.5 0 1 0 3 0a1.5 1.5 0 1 0-3 0M293.1 28.5a1.5 1.5 0 1 0 3 0a1.5 1.5 0 1 0-3 0M294.3 48.5a1.5 1.5 0 1 0 3 0a1.5 1.5 0 1 0-3 0M279 28.5a1.5 1.5 0 1 0 3 0a1.5 1.5 0 1 0-3 0M273.3 48.5a1.5 1.5 0 1 0 3 0a1.5 1.5 0 1 0-3 0M277.8 28.5a1.5 1.5 0 1 0 3 0a1.5 1.5 0 1 0-3 0M296.2 68.4a1.5 1.5 0 1 0 3 0a1.5 1.5 0 1 0-3 0M290 68.4a1.5 1.5 0 1 0 3 0a1.5 1.5 0 1 0-3 0M290.9 48.5a1.5 1.5 0 1 0 3 0a1.5 1.5 0 1 0-3 0M299 48.5a1.5 1.5 0 1 0 3 0a1.5 1.5 0 1 0-3 0M288.2 68.4a1.5 1.5 0 1 0 3 0a1.5 1.5 0 1 0-3 0M294.5 68.4a1.5 1.5 0 1 0 3 0a1.5 1.5 0 1 0-3 0M291.5 48.5a1.5 1.5 0 1 0 3 0a1.5 1.5 0 1 0-3 0M283.1 68.4a1.5 1.5 0 1 0 3 0a1.5 1.5 0 1 0-3 0M283.7 68.4a1.5 1.5 0 1 0 3 0a1.5 1.5 0 1 0-3 0M286 68.4a1.5 1.5 0 1 0 3 0a1.5 1.5 0 1 0-3 0M293.7 28.5a1.5 1.5 0 1 0 3 0a1.5 1.5 0 1 0-3 0"/>
<path stroke="#0000ff" d="M292.6 26.1l2 3.5-4.1 0zM314.1 26.1l2 3.5-4.1 0zM296.2 26.1l2 3.5-4.1 0zM304.3 26.1l2 3.5-4.1 0zM321.4 26.1l2 3.5-4.1 0zM312.9 26.1l2 3.5-4.1 0zM309.8 46.1l2 3.5-4.1 0zM299.9 46.1l2 3.5-4.1 0zM298.1 26.1l2 3.5-4.1 0zM312.7 46.1l2 3.5-4.1 0zM303.4 26.1l2 3.5-4.1 0zM323.6 26.1l2 3.5-4.1 0zM322.7 26.1l2 3.5-4.1 0zM307.5 26.1l2 3.5-4.1 0zM299 46.1l2 3.5-4.1 0zM308 46.1l2 3.5-4.1 0zM298.6 46.1l2 3.5-4.1 0zM302.7 46.1l2 3.5-4.1 0zM302.6 46.1l2 3.5-4.1 0zM308.1 46.1l2 3.5-4.1 0zM288.7 26.1l2 3.5-4.1 0zM310 46.1l2 3.5-4.1 0zM302.4 26.1l2 3.5-4.1 0zM306.2 66.1l2 3.5-4.1 0zM314.3 46.1l2 3.5-4.1 0zM312.7 26.1l2 3.5-4.1 0zM323.6 26.1l2 3.5-4.1 0zM301.6 26.1l2 3.5-4.1 0zM302.2 26.1l2 3.5-4.1 0zM319.7 26.1l2 3.5-4.1 0zM305.9 26.1l2 3.5-4.1 0zM306.8 26.1l2 3.5-4.1 0zM303.3 26.1l2 3.5-4.1 0zM311.4 46.1l2 3.5-4.1 0zM294.2 26.1l2 3.5-4.1 0zM309.7 26.1l2 3.5-4.1 0zM315.7 26.1l2 3.5-4.1 0zM295.3 46.1l2 3.5-4.1 0zM304.9 26.1l2 3.5-4.1 0zM311.2 26.1l2 3.5-4.1 0zM304.6 26.1l2 3.5-4.1 0zM293.3 26.1l2 3.5-4.1 0zM301.3 26.1l2 3.5-4.1 0zM293.2 26.1l2 3.5-4.1 0zM311.6 26.1l2 3.5-4.1 0zM324.6 26.1l2 3.5-4.1 0zM294.2 26.1l2 3.5-4.1 0zM295.3 26.1l2 3.5-4.1 0zM292.4 46.1l2 3.5-4.1 0zM310.3 26.1l2 3.5-4.1 0zM318.2 26.1l2 3.5-4.1 0zM305.6 46.1l2 3.5-4.1 0zM315.9 26.1l2 3.5-4.1 0zM310.5 46.1l2 3.5-4.1 0zM317 26.1l2 3.5-4.1 0z"/>
<path stroke="#00cd00" d="M294.5 88.4a1.5 1.5 0 1 0 3 0a1.5 1.5 0 1 0-3 0M287.5 68.4a1.5 1.5 0 1 0 3 0a1.5 1.5 0 1 0-3 0M274.2 48.5a1.5 1.5 0 1 0 3 0a1.5 1.5 0 1 0-3 0M298.8 68.4a1.5 1.5 0 1 0 3 0a1.5 1.5 0 1 0-3 0M284 68.4a1.5 1.5 0 1 0 3 0a1.5 1.5 0 1 0-3 0M272 68.4a1.5 1.5 0 1 0 3 0a1.5 1.5 0 1 0-3 0M282.2 68.4a1.5 1.5 0 1 0 3 0a1.5 1.5 0 1 0-3 0M289.7 48.5a1.5 1.5 0 1 0 3 0a1.5 1.5 0 1 0-3 0M278.8 68.4a1.5 1.5 0 1 0 3 0a1.5 1.5 0 1 0-3 0M282.2 28.5a1.5 1.5 0 1 0 3 0a1.5 1.5 0 1 0-3 0M290.9 68.4a1.5 1.5 0 1 0 3 0a1.5 1.5 0 1 0-3 0M280.9 68.4a1.5 1.5 0 1 0 3 0a1.5 1.5 0 1 0-3 0M299.5 88.4a1.5 1.5 0 1 0 3 0a1.5 1.5 0 1 0-3 0M286.7 28.5a1.5 1.5 0 1 0 3 0a1.5 1.5 0 1 0-3 0M295.3 48.5a1.5 1.5 0 1 0 3 0a1.5 1.5 0 1 0-3 0M288.2 68.4a1.5 1.5 0 1 0 3 0a1.5 1.5 0 1 0-3 0M292.9 48.5a1.5 1.5 0 1 0 3 0a1.5 1.5 0 1 0-3 0M297.4 68.4a1.5 1.5 0 1 0 3 0a1.5 1.5 0 1 0-3 0M275.9 48.5a1.5 1.5 0 1 0 3 0a1.5 1.5 0 1 0-3 0M279.8 68.4a1.5 1.5 0 1 0 3 0a1.5 1.5 0 1 0-3 0M284.6 68.4a1.5 1.5 0 1 0 3 0a1.5 1.5 0 1 0-3 0M285.4 28.5a1.5 1.5 0 1 0 3 0a1.5 1.5 0 1 0-3 0M304.5 48.5a1.5 1.5 0 1 0 3 0a1.5 1.5 0 1 0-3 0M289.9 48.5a1.5 1.5 0 1 0 3 0a1.5 1.5 0 1 0-3 0M305.9 48.5a1.5 1.5 0 1 0 3 0a1.5 1.5 0 1 0-3 0M275.9 68.4a1.5 1.5 0 1 0 3 0a1.5 1.5 0 1 0-3 0M294.2 48.5a1.5 1.5 0 1 0 3 0a1.5 1.5 0 1 0-3 0M286.3 28.5a1.5 1.5 0 1 0 3 0a1.5 1.5 0 1 0-3 0M300.6 48.5a1.5 1.5 0 1 0 3 0a1.5 1.5 0 1 0-3 0M289 48.5a1.5 1.5 0 1 0 3 0a1.5 1.5 0 1 0-3 0M284.1 68.4a1.5 1.5 0 1 0 3 0a1.5 1.5 0 1 0-3 0M291 68.4a1.5 1.5 0 1 0 3 0a1.5 1.5 0 1 0-3 0M292.5 28.5a1.5 1.5 0 1 0 3 0a1.5 1.5 0 1 0-3 0M300.1 68.4a1.5 1.5 0 1 0 3 0a1.5 1.5 0 1 0-3 0M290.3 68.4a1.5 1.5 0 1 0 3 0a1.5 1.5 0 1 0-3 0M290.5 68.4a1.5 1.5 0 1 0 3 0a1.5 1.5 0 1 0-3 0M307.1 48.5a1.5 1.5 0 1 0 3 0a1.5 1.5 0 1 0-3 0M273.7 48.5a1.5 1.5 0 1 0 3 0a1.5 1.5 0 1 0-3 0"/>
<path stroke="#0000ff" d="M325.1 26.1l2 3.5-4.1 0zM292.5 26.1l2 3.5-4.1 0zM299.2 46.1l2 3.5-4.1 0zM285.5 26.1l2 3.5-4.1 0zM289.9 26.1l2 3.5-4.1 0zM311.3 46.1l2 3.5-4.1 0zM311.2 26.1l2 3.5-4.1 0zM305.3 46.1l2 3.5-4.1 0zM318.4 26.1l2 3.5-4.1 0zM308.7 46.1l2 3.5-4.1 0zM299.7 26.1l2 3.5-4.1 0zM300.9 26.1l2 3.5-4.1 0zM319.5 26.1l2 3.5-4.1 0zM315.3 26.1l2 3.5-4.1 0zM311.5 26.1l2 3.5-4.1 0zM317.4 26.1l2 3.5-4.1 0zM308.7 26.1l2 3.5-4.1 0zM306.5 26.1l2 3.5-4.1 0zM314 46.1l2 3.5-4.1 0zM303.6 26.1l2 3.5-4.1 0zM317.9 46.1l2 3.5-4.1 0zM302.6 26.1l2 3.5-4.1 0zM307.2 26.1l2 3.5-4.1 0zM295.3 26.1l2 3.5-4.1 0zM323.2 46.1l2 3.5-4.1 0zM295.5 46.1l2 3.5-4.1 0zM312.2 26.1l2 3.5-4.1 0zM309 26.1l2 3.5-4.1 0zM292.4 46.1l2 3.5-4.1 0zM316 46.1l2 3.5-4.1 0zM304.3 46.1l2 3.5-4.1 0zM307.5 46.1l2 3.5-4.1 0zM311.6 26.1l2 3.5-4.1 0zM303.1 46.1l2 3.5-4.1 0zM299.2 26.1l2 3.5-4.1 0zM306.6 46.1l2 3.5-4.1 0zM290.6 26.1l2 3.5-4.1 0zM318.8 26.1l2 3.5-4.1 0zM320.7 26.1l2 3.5-4.1 0zM313.6 46.1l2 3.5-4.1 0zM289.4 26.1l2 3.5-4.1 0zM311.3 26.1l2 3.5-4.1 0zM319.8 46.1l2 3.5-4.1 0zM329.4 26.1l2 3.5-4.1 0zM311.2 46.1l2 3.5-4.1 0zM295.9 26.1l2 3.5-4.1 0zM318.5 26.1l2 3.5-4.1 0zM286.3 26.1l2 3.5-4.1 0zM294 46.1l2 3.5-4.1 0z"/>
<path stroke="#0000ff" d="M299.2 26.1l2 3.5-4.1 0zM316.9 26.1l2 3.5-4.1 0zM314 26.1l2 3.5-4.1 0zM308 26.1l2 3.5-4.1 0zM316.3 26.1l2 3.5-4.1 0zM309.4 46.1l2 3.5-4.1 0zM302.4 26.1l2 3.5-4.1 0zM303.9 46.1l2 3.5-4.1 0zM318 26.1l2 3.5-4.1 0zM317.9 46.1l2 3.5-4.1 0zM311.1 46.1l2 3.5-4.1 0zM302.1 26.1l2 3.5-4.1 0zM305.2 26.1l2 3.5-4.1 0zM302.5 26.1l2 3.5-4.1 0zM302.4 26.1l2 3.5-4.1 0zM302.3 46.1l2 3.5-4.1 0zM303.8 26.1l2 3.5-4.1 0zM300.5 46.1l2 3.5-4.1 0zM308.1 26.1l2 3.5-4.1 0zM313.7 46.1l2 3.5-4.1 0zM317.9 66.1l2 3.5-4.1 0zM312.9 46.1l2 3.5-4.1 0zM318.7 26.1l2 3.5-4.1 0zM308.4 46.1l2 3.5-4.1 0zM309.4 26.1l2 3.5-4.1 0zM308.6 26.1l2 3.5-4.1 0zM316.7 46.1l2 3.5-4.1 0zM312.4 26.1l2 3.5-4.1 0zM294.8 46.1l2 3.5-4.1 0zM305.6 26.1l2 3.5-4.1 0zM295.7 46.1l2 3.5-4.1 0zM316 26.1l2 3.5-4.1 0zM319.2 26.1l2 3.5-4.1 0zM322.6 66.1l2 3.5-4.1 0zM297 46.1l2 3.5-4.1 0zM306.9 26.1l2 3.5-4.1 0zM318.7 46.1l2 3.5-4.1 0zM302.6 46.1l2 3.5-4.1 0zM317.5 46.1l2 3.5-4.1 0zM319 26.1l2 3.5-4.1 0zM313.7 26.1l2 3.5-4.1 0zM304.5 46.1l2 3.5-4.1 0zM307.4 46.1l2 3.5-4.1 0zM307.8 26.1l2 3.5-4.1 0zM307.7 26.1l2 3.5-4.1 0zM303.1 26.1l2 3.5-4.1 0zM305.6 46.1l2 3.5-4.1 0zM309.1 46.1l2 3.5-4.1 0zM319.9 46.1l2 3.5-4.1 0zM305.6 26.1l2 3.5-4.1 0zM299.8 26.1l2 3.5-4.1 0zM308.9 46.1l2 3.5-4.1 0zM303 46.1l2 3.5-4.1 0zM314.4 26.1l2 3.5-4.1 0zM289.1 26.1l2 3.5-4.1 0zM306.7 26.1l2 3.5-4.1 0zM291.1 46.1l2 3.5-4.1 0zM321.4 46.1l2 3.5-4.1 0zM319.6 26.1l2 3.5-4.1 0zM315 46.1l2 3.5-4.1 0zM304.4 26.1l2 3.5-4.1 0zM306.9 46.1l2 3.5-4.1 0zM308.5 26.1l2 3.5-4.1 0zM314.1 26.1l2 3.5-4.1 0zM309.9 26.1l2 3.5-4.1 0zM305.3 26.1l2 3.5-4.1 0zM316 26.1l2 3.5-4.1 0zM322.4 46.1l2 3.5-4.1 0zM303.4 26.1l2 3.5-4.1 0zM312.7 26.1l2 3.5-4.1 0zM316.7 26.1l2 3.5-4.1 0zM323.8 26.1l2 3.5-4.1 0zM322 46.1l2 3.5-4.1 0zM305.5 26.1l2 3.5-4.1 0zM305.2 46.1l2 3.5-4.1 0zM314.3 46.1l2 3.5-4.1 0zM314.2 46.1l2 3.5-4.1 0zM294.8 26.1l2 3.5-4.1 0zM293.8 46.1l2 3.5-4.1 0zM318.7 46.1l2 3.5-4.1 0zM297 46.1l2 3.5-4.1 0zM307.1 46.1l2 3.5-4.1 0zM303.5 46.1l2 3.5-4.1 0zM314.9 46.1l2 3.5-4.1 0zM314.9 26.1l2 3.5-4.1 0zM305.1 26.1l2 3.5-4.1 0z"/>
</g>
<rect x="225.5" y="4.6" width="130.5" height="106.8" fill="none" stroke="#4c4c4c" stroke-width="1.15"/>
<path d="M230.1 111.4v4.9M247.4 111.4v4.9M264.7 111.4v4.9M282 111.4v4.9M299.3 111.4v4.9M316.6 111.4v4.9M333.9 111.4v4.9M351.2 111.4v4.9M225.5 88.4h-4.9M225.5 68.4h-4.9M225.5 48.5h-4.9M225.5 28.5h-4.9" stroke="#4c4c4c" stroke-width="1.1" fill="none"/>
<g class="t">
<text x="230.3" y="129">−8</text>
<text x="247.6" y="129">−6</text>
<text x="264.9" y="129">−4</text>
<text x="282.2" y="129">−2</text>
<text x="299.3" y="129">0</text>
<text x="316.6" y="129">2</text>
<text x="333.9" y="129">4</text>
<text x="351.2" y="129">6</text>
<text x="214" y="91.1">0</text>
<text x="214" y="71.1">1</text>
<text x="214" y="51.2">2</text>
<text x="214" y="31.2">3</text>
</g>
<g transform="translate(284.9 141.8)"><text class="l" x="0" y="0">X</text><text class="s" x="7.9" y="3.3">1</text><text class="s" x="8.9" y="-4.9">c</text></g>
<g transform="translate(200 64.6) rotate(-90)"><text class="l" x="0" y="0">X</text><text class="s" x="7.9" y="3.3">1</text><text class="s" x="8.9" y="-4.9">o</text></g>
<g fill="none" stroke-linejoin="round" stroke-width="1.25">
<path stroke="#ff0000" d="M461.5 88.4l2.1-2.1 2.1 2.1-2.1 2.1zM463.2 68.4l2.1-2.1 2.1 2.1-2.1 2.1zM455.4 88.4l2.1-2.1 2.1 2.1-2.1 2.1zM462 88.4l2.1-2.1 2.1 2.1-2.1 2.1zM469.9 88.4l2.1-2.1 2.1 2.1-2.1 2.1zM446.5 88.4l2.1-2.1 2.1 2.1-2.1 2.1zM462.7 88.4l2.1-2.1 2.1 2.1-2.1 2.1zM452.7 88.4l2.1-2.1 2.1 2.1-2.1 2.1zM462.2 88.4l2.1-2.1 2.1 2.1-2.1 2.1zM470.3 88.4l2.1-2.1 2.1 2.1-2.1 2.1zM440.2 88.4l2.1-2.1 2.1 2.1-2.1 2.1zM480.8 88.4l2.1-2.1 2.1 2.1-2.1 2.1zM441.2 88.4l2.1-2.1 2.1 2.1-2.1 2.1zM464.4 88.4l2.1-2.1 2.1 2.1-2.1 2.1zM449.7 88.4l2.1-2.1 2.1 2.1-2.1 2.1zM466.8 88.4l2.1-2.1 2.1 2.1-2.1 2.1zM482.5 88.4l2.1-2.1 2.1 2.1-2.1 2.1zM455.2 88.4l2.1-2.1 2.1 2.1-2.1 2.1zM459.2 88.4l2.1-2.1 2.1 2.1-2.1 2.1zM456.9 88.4l2.1-2.1 2.1 2.1-2.1 2.1zM442.6 88.4l2.1-2.1 2.1 2.1-2.1 2.1zM449.7 88.4l2.1-2.1 2.1 2.1-2.1 2.1zM457.9 88.4l2.1-2.1 2.1 2.1-2.1 2.1zM440.5 88.4l2.1-2.1 2.1 2.1-2.1 2.1zM455.3 88.4l2.1-2.1 2.1 2.1-2.1 2.1zM468.8 88.4l2.1-2.1 2.1 2.1-2.1 2.1zM463.8 88.4l2.1-2.1 2.1 2.1-2.1 2.1zM458.5 88.4l2.1-2.1 2.1 2.1-2.1 2.1zM458.8 88.4l2.1-2.1 2.1 2.1-2.1 2.1zM464.2 88.4l2.1-2.1 2.1 2.1-2.1 2.1zM450.3 88.4l2.1-2.1 2.1 2.1-2.1 2.1zM465.4 88.4l2.1-2.1 2.1 2.1-2.1 2.1zM450.1 88.4l2.1-2.1 2.1 2.1-2.1 2.1zM454.4 88.4l2.1-2.1 2.1 2.1-2.1 2.1zM450.3 88.4l2.1-2.1 2.1 2.1-2.1 2.1zM459.2 88.4l2.1-2.1 2.1 2.1-2.1 2.1zM446.1 48.5l2.1-2.1 2.1 2.1-2.1 2.1zM463.1 88.4l2.1-2.1 2.1 2.1-2.1 2.1zM448.9 88.4l2.1-2.1 2.1 2.1-2.1 2.1zM448.9 88.4l2.1-2.1 2.1 2.1-2.1 2.1zM454.6 28.5l2.1-2.1 2.1 2.1-2.1 2.1zM455.3 88.4l2.1-2.1 2.1 2.1-2.1 2.1zM469.5 88.4l2.1-2.1 2.1 2.1-2.1 2.1zM442.2 88.4l2.1-2.1 2.1 2.1-2.1 2.1zM462.5 88.4l2.1-2.1 2.1 2.1-2.1 2.1zM460.7 88.4l2.1-2.1 2.1 2.1-2.1 2.1zM449.6 88.4l2.1-2.1 2.1 2.1-2.1 2.1zM470.6 88.4l2.1-2.1 2.1 2.1-2.1 2.1zM452.9 88.4l2.1-2.1 2.1 2.1-2.1 2.1zM438.2 88.4l2.1-2.1 2.1 2.1-2.1 2.1zM445.8 88.4l2.1-2.1 2.1 2.1-2.1 2.1zM476.5 88.4l2.1-2.1 2.1 2.1-2.1 2.1zM459.9 88.4l2.1-2.1 2.1 2.1-2.1 2.1zM480.3 88.4l2.1-2.1 2.1 2.1-2.1 2.1zM454.3 88.4l2.1-2.1 2.1 2.1-2.1 2.1zM445.5 88.4l2.1-2.1 2.1 2.1-2.1 2.1zM454.2 88.4l2.1-2.1 2.1 2.1-2.1 2.1zM452.8 88.4l2.1-2.1 2.1 2.1-2.1 2.1zM468.5 88.4l2.1-2.1 2.1 2.1-2.1 2.1zM466.2 88.4l2.1-2.1 2.1 2.1-2.1 2.1zM459.9 88.4l2.1-2.1 2.1 2.1-2.1 2.1zM451.8 88.4l2.1-2.1 2.1 2.1-2.1 2.1zM466.9 88.4l2.1-2.1 2.1 2.1-2.1 2.1zM453.5 88.4l2.1-2.1 2.1 2.1-2.1 2.1zM447.3 88.4l2.1-2.1 2.1 2.1-2.1 2.1zM439.5 88.4l2.1-2.1 2.1 2.1-2.1 2.1zM455.2 88.4l2.1-2.1 2.1 2.1-2.1 2.1zM456 88.4l2.1-2.1 2.1 2.1-2.1 2.1zM452.2 88.4l2.1-2.1 2.1 2.1-2.1 2.1zM444.8 88.4l2.1-2.1 2.1 2.1-2.1 2.1zM467.9 88.4l2.1-2.1 2.1 2.1-2.1 2.1zM449.9 88.4l2.1-2.1 2.1 2.1-2.1 2.1zM435.1 88.4l2.1-2.1 2.1 2.1-2.1 2.1zM465.9 88.4l2.1-2.1 2.1 2.1-2.1 2.1zM459.2 88.4l2.1-2.1 2.1 2.1-2.1 2.1zM456.7 88.4l2.1-2.1 2.1 2.1-2.1 2.1zM436.2 88.4l2.1-2.1 2.1 2.1-2.1 2.1zM457.1 88.4l2.1-2.1 2.1 2.1-2.1 2.1zM455.6 88.4l2.1-2.1 2.1 2.1-2.1 2.1zM455.9 88.4l2.1-2.1 2.1 2.1-2.1 2.1zM448.6 88.4l2.1-2.1 2.1 2.1-2.1 2.1zM466.8 88.4l2.1-2.1 2.1 2.1-2.1 2.1zM456.5 88.4l2.1-2.1 2.1 2.1-2.1 2.1zM464.7 88.4l2.1-2.1 2.1 2.1-2.1 2.1zM449.8 88.4l2.1-2.1 2.1 2.1-2.1 2.1zM457.8 88.4l2.1-2.1 2.1 2.1-2.1 2.1zM456 88.4l2.1-2.1 2.1 2.1-2.1 2.1z"/>
<path stroke="#ff0000" d="M456.5 88.4l2.1-2.1 2.1 2.1-2.1 2.1zM436.9 88.4l2.1-2.1 2.1 2.1-2.1 2.1zM453.8 88.4l2.1-2.1 2.1 2.1-2.1 2.1zM468.6 88.4l2.1-2.1 2.1 2.1-2.1 2.1zM452.6 88.4l2.1-2.1 2.1 2.1-2.1 2.1zM444.8 88.4l2.1-2.1 2.1 2.1-2.1 2.1zM450.4 88.4l2.1-2.1 2.1 2.1-2.1 2.1zM450.6 88.4l2.1-2.1 2.1 2.1-2.1 2.1zM455.9 88.4l2.1-2.1 2.1 2.1-2.1 2.1zM464.5 88.4l2.1-2.1 2.1 2.1-2.1 2.1zM447.2 88.4l2.1-2.1 2.1 2.1-2.1 2.1zM452.2 88.4l2.1-2.1 2.1 2.1-2.1 2.1zM469.5 88.4l2.1-2.1 2.1 2.1-2.1 2.1zM458.3 88.4l2.1-2.1 2.1 2.1-2.1 2.1zM470.9 88.4l2.1-2.1 2.1 2.1-2.1 2.1zM452.5 88.4l2.1-2.1 2.1 2.1-2.1 2.1zM455.1 88.4l2.1-2.1 2.1 2.1-2.1 2.1zM459 88.4l2.1-2.1 2.1 2.1-2.1 2.1zM478.8 88.4l2.1-2.1 2.1 2.1-2.1 2.1zM464.9 88.4l2.1-2.1 2.1 2.1-2.1 2.1zM460.9 88.4l2.1-2.1 2.1 2.1-2.1 2.1zM475 88.4l2.1-2.1 2.1 2.1-2.1 2.1zM447.2 88.4l2.1-2.1 2.1 2.1-2.1 2.1zM457.5 88.4l2.1-2.1 2.1 2.1-2.1 2.1zM446.5 88.4l2.1-2.1 2.1 2.1-2.1 2.1zM459.1 88.4l2.1-2.1 2.1 2.1-2.1 2.1zM458.8 88.4l2.1-2.1 2.1 2.1-2.1 2.1zM447.9 28.5l2.1-2.1 2.1 2.1-2.1 2.1zM454.1 88.4l2.1-2.1 2.1 2.1-2.1 2.1zM460.2 88.4l2.1-2.1 2.1 2.1-2.1 2.1zM475.7 88.4l2.1-2.1 2.1 2.1-2.1 2.1zM470.9 88.4l2.1-2.1 2.1 2.1-2.1 2.1zM458.5 88.4l2.1-2.1 2.1 2.1-2.1 2.1zM454.1 88.4l2.1-2.1 2.1 2.1-2.1 2.1zM456.2 88.4l2.1-2.1 2.1 2.1-2.1 2.1zM452.4 88.4l2.1-2.1 2.1 2.1-2.1 2.1zM464.1 88.4l2.1-2.1 2.1 2.1-2.1 2.1zM470.6 88.4l2.1-2.1 2.1 2.1-2.1 2.1zM464.8 88.4l2.1-2.1 2.1 2.1-2.1 2.1zM460.3 48.5l2.1-2.1 2.1 2.1-2.1 2.1zM456.7 88.4l2.1-2.1 2.1 2.1-2.1 2.1zM460.1 88.4l2.1-2.1 2.1 2.1-2.1 2.1zM449.8 88.4l2.1-2.1 2.1 2.1-2.1 2.1zM457.5 88.4l2.1-2.1 2.1 2.1-2.1 2.1zM474.2 88.4l2.1-2.1 2.1 2.1-2.1 2.1zM454.6 88.4l2.1-2.1 2.1 2.1-2.1 2.1zM443.1 88.4l2.1-2.1 2.1 2.1-2.1 2.1zM450.4 88.4l2.1-2.1 2.1 2.1-2.1 2.1zM467.8 88.4l2.1-2.1 2.1 2.1-2.1 2.1zM468 88.4l2.1-2.1 2.1 2.1-2.1 2.1zM454.3 88.4l2.1-2.1 2.1 2.1-2.1 2.1zM450.5 88.4l2.1-2.1 2.1 2.1-2.1 2.1zM460.7 88.4l2.1-2.1 2.1 2.1-2.1 2.1zM445.1 88.4l2.1-2.1 2.1 2.1-2.1 2.1zM452.6 88.4l2.1-2.1 2.1 2.1-2.1 2.1zM457.4 88.4l2.1-2.1 2.1 2.1-2.1 2.1zM463.4 88.4l2.1-2.1 2.1 2.1-2.1 2.1z"/>
<path stroke="#00cd00" d="M474.5 88.4a1.5 1.5 0 1 0 3 0a1.5 1.5 0 1 0-3 0M483.8 68.4a1.5 1.5 0 1 0 3 0a1.5 1.5 0 1 0-3 0M465.2 48.5a1.5 1.5 0 1 0 3 0a1.5 1.5 0 1 0-3 0M491 88.4a1.5 1.5 0 1 0 3 0a1.5 1.5 0 1 0-3 0M462.6 68.4a1.5 1.5 0 1 0 3 0a1.5 1.5 0 1 0-3 0M474.6 28.5a1.5 1.5 0 1 0 3 0a1.5 1.5 0 1 0-3 0M481 68.4a1.5 1.5 0 1 0 3 0a1.5 1.5 0 1 0-3 0M476.9 48.5a1.5 1.5 0 1 0 3 0a1.5 1.5 0 1 0-3 0M486.4 48.5a1.5 1.5 0 1 0 3 0a1.5 1.5 0 1 0-3 0M476.6 28.5a1.5 1.5 0 1 0 3 0a1.5 1.5 0 1 0-3 0M475.4 68.4a1.5 1.5 0 1 0 3 0a1.5 1.5 0 1 0-3 0M478.9 48.5a1.5 1.5 0 1 0 3 0a1.5 1.5 0 1 0-3 0M486 48.5a1.5 1.5 0 1 0 3 0a1.5 1.5 0 1 0-3 0M481.8 28.5a1.5 1.5 0 1 0 3 0a1.5 1.5 0 1 0-3 0M491.9 28.5a1.5 1.5 0 1 0 3 0a1.5 1.5 0 1 0-3 0M487.3 48.5a1.5 1.5 0 1 0 3 0a1.5 1.5 0 1 0-3 0M479.5 28.5a1.5 1.5 0 1 0 3 0a1.5 1.5 0 1 0-3 0M480.2 48.5a1.5 1.5 0 1 0 3 0a1.5 1.5 0 1 0-3 0M470.4 28.5a1.5 1.5 0 1 0 3 0a1.5 1.5 0 1 0-3 0M460.1 48.5a1.5 1.5 0 1 0 3 0a1.5 1.5 0 1 0-3 0M480.9 28.5a1.5 1.5 0 1 0 3 0a1.5 1.5 0 1 0-3 0M466.8 48.5a1.5 1.5 0 1 0 3 0a1.5 1.5 0 1 0-3 0M476.9 48.5a1.5 1.5 0 1 0 3 0a1.5 1.5 0 1 0-3 0M482.6 48.5a1.5 1.5 0 1 0 3 0a1.5 1.5 0 1 0-3 0M472.7 48.5a1.5 1.5 0 1 0 3 0a1.5 1.5 0 1 0-3 0M469.3 68.4a1.5 1.5 0 1 0 3 0a1.5 1.5 0 1 0-3 0M480.3 68.4a1.5 1.5 0 1 0 3 0a1.5 1.5 0 1 0-3 0M490.9 28.5a1.5 1.5 0 1 0 3 0a1.5 1.5 0 1 0-3 0M473.1 28.5a1.5 1.5 0 1 0 3 0a1.5 1.5 0 1 0-3 0M488.4 68.4a1.5 1.5 0 1 0 3 0a1.5 1.5 0 1 0-3 0"/>
<path stroke="#ff0000" d="M453.5 88.4l2.1-2.1 2.1 2.1-2.1 2.1zM451.3 88.4l2.1-2.1 2.1 2.1-2.1 2.1zM467.7 88.4l2.1-2.1 2.1 2.1-2.1 2.1zM457.8 88.4l2.1-2.1 2.1 2.1-2.1 2.1zM463 88.4l2.1-2.1 2.1 2.1-2.1 2.1zM458.5 88.4l2.1-2.1 2.1 2.1-2.1 2.1zM462.5 88.4l2.1-2.1 2.1 2.1-2.1 2.1zM467.1 88.4l2.1-2.1 2.1 2.1-2.1 2.1zM469.4 68.4l2.1-2.1 2.1 2.1-2.1 2.1zM455.6 88.4l2.1-2.1 2.1 2.1-2.1 2.1zM449.9 88.4l2.1-2.1 2.1 2.1-2.1 2.1zM468.7 88.4l2.1-2.1 2.1 2.1-2.1 2.1zM464.2 88.4l2.1-2.1 2.1 2.1-2.1 2.1zM448.5 88.4l2.1-2.1 2.1 2.1-2.1 2.1zM477.6 88.4l2.1-2.1 2.1 2.1-2.1 2.1zM467.7 88.4l2.1-2.1 2.1 2.1-2.1 2.1zM465.6 88.4l2.1-2.1 2.1 2.1-2.1 2.1zM461.2 88.4l2.1-2.1 2.1 2.1-2.1 2.1zM455 88.4l2.1-2.1 2.1 2.1-2.1 2.1zM463.5 88.4l2.1-2.1 2.1 2.1-2.1 2.1zM446.3 88.4l2.1-2.1 2.1 2.1-2.1 2.1zM473.3 88.4l2.1-2.1 2.1 2.1-2.1 2.1zM473.2 88.4l2.1-2.1 2.1 2.1-2.1 2.1zM480.3 88.4l2.1-2.1 2.1 2.1-2.1 2.1zM465.3 88.4l2.1-2.1 2.1 2.1-2.1 2.1zM460.6 88.4l2.1-2.1 2.1 2.1-2.1 2.1zM448 88.4l2.1-2.1 2.1 2.1-2.1 2.1zM477.8 88.4l2.1-2.1 2.1 2.1-2.1 2.1zM468.7 88.4l2.1-2.1 2.1 2.1-2.1 2.1zM459.6 88.4l2.1-2.1 2.1 2.1-2.1 2.1zM465.5 88.4l2.1-2.1 2.1 2.1-2.1 2.1zM441.7 88.4l2.1-2.1 2.1 2.1-2.1 2.1zM478.9 88.4l2.1-2.1 2.1 2.1-2.1 2.1zM457.5 88.4l2.1-2.1 2.1 2.1-2.1 2.1zM444.9 88.4l2.1-2.1 2.1 2.1-2.1 2.1zM440.5 88.4l2.1-2.1 2.1 2.1-2.1 2.1zM445.5 88.4l2.1-2.1 2.1 2.1-2.1 2.1zM440.8 88.4l2.1-2.1 2.1 2.1-2.1 2.1zM444.6 88.4l2.1-2.1 2.1 2.1-2.1 2.1zM475.6 88.4l2.1-2.1 2.1 2.1-2.1 2.1zM455.5 88.4l2.1-2.1 2.1 2.1-2.1 2.1zM483.4 88.4l2.1-2.1 2.1 2.1-2.1 2.1zM447.3 88.4l2.1-2.1 2.1 2.1-2.1 2.1zM451.3 88.4l2.1-2.1 2.1 2.1-2.1 2.1zM458.5 88.4l2.1-2.1 2.1 2.1-2.1 2.1z"/>
<path stroke="#00cd00" d="M488.1 28.5a1.5 1.5 0 1 0 3 0a1.5 1.5 0 1 0-3 0M471.9 48.5a1.5 1.5 0 1 0 3 0a1.5 1.5 0 1 0-3 0M468 48.5a1.5 1.5 0 1 0 3 0a1.5 1.5 0 1 0-3 0M474.2 88.4a1.5 1.5 0 1 0 3 0a1.5 1.5 0 1 0-3 0M473.7 28.5a1.5 1.5 0 1 0 3 0a1.5 1.5 0 1 0-3 0M467.1 48.5a1.5 1.5 0 1 0 3 0a1.5 1.5 0 1 0-3 0M478.4 48.5a1.5 1.5 0 1 0 3 0a1.5 1.5 0 1 0-3 0M467.7 48.5a1.5 1.5 0 1 0 3 0a1.5 1.5 0 1 0-3 0M468.7 48.5a1.5 1.5 0 1 0 3 0a1.5 1.5 0 1 0-3 0M472.1 28.5a1.5 1.5 0 1 0 3 0a1.5 1.5 0 1 0-3 0M489.5 28.5a1.5 1.5 0 1 0 3 0a1.5 1.5 0 1 0-3 0M486.6 48.5a1.5 1.5 0 1 0 3 0a1.5 1.5 0 1 0-3 0M489 28.5a1.5 1.5 0 1 0 3 0a1.5 1.5 0 1 0-3 0M472.7 28.5a1.5 1.5 0 1 0 3 0a1.5 1.5 0 1 0-3 0M469.7 48.5a1.5 1.5 0 1 0 3 0a1.5 1.5 0 1 0-3 0M472.6 48.5a1.5 1.5 0 1 0 3 0a1.5 1.5 0 1 0-3 0M478.3 48.5a1.5 1.5 0 1 0 3 0a1.5 1.5 0 1 0-3 0M476.6 48.5a1.5 1.5 0 1 0 3 0a1.5 1.5 0 1 0-3 0M494 28.5a1.5 1.5 0 1 0 3 0a1.5 1.5 0 1 0-3 0M474.5 48.5a1.5 1.5 0 1 0 3 0a1.5 1.5 0 1 0-3 0M477.7 88.4a1.5 1.5 0 1 0 3 0a1.5 1.5 0 1 0-3 0M463 48.5a1.5 1.5 0 1 0 3 0a1.5 1.5 0 1 0-3 0M479.6 88.4a1.5 1.5 0 1 0 3 0a1.5 1.5 0 1 0-3 0M479.7 88.4a1.5 1.5 0 1 0 3 0a1.5 1.5 0 1 0-3 0M491.7 88.4a1.5 1.5 0 1 0 3 0a1.5 1.5 0 1 0-3 0M471.7 28.5a1.5 1.5 0 1 0 3 0a1.5 1.5 0 1 0-3 0M471.3 28.5a1.5 1.5 0 1 0 3 0a1.5 1.5 0 1 0-3 0M478.2 68.4a1.5 1.5 0 1 0 3 0a1.5 1.5 0 1 0-3 0M498.9 28.5a1.5 1.5 0 1 0 3 0a1.5 1.5 0 1 0-3 0M485.1 48.5a1.5 1.5 0 1 0 3 0a1.5 1.5 0 1 0-3 0M468.7 48.5a1.5 1.5 0 1 0 3 0a1.5 1.5 0 1 0-3 0M480.9 68.4a1.5 1.5 0 1 0 3 0a1.5 1.5 0 1 0-3 0M476.8 68.4a1.5 1.5 0 1 0 3 0a1.5 1.5 0 1 0-3 0M472.6 68.4a1.5 1.5 0 1 0 3 0a1.5 1.5 0 1 0-3 0M493.5 28.5a1.5 1.5 0 1 0 3 0a1.5 1.5 0 1 0-3 0M463.6 48.5a1.5 1.5 0 1 0 3 0a1.5 1.5 0 1 0-3 0M469.1 48.5a1.5 1.5 0 1 0 3 0a1.5 1.5 0 1 0-3 0M492.5 48.5a1.5 1.5 0 1 0 3 0a1.5 1.5 0 1 0-3 0M484.7 68.4a1.5 1.5 0 1 0 3 0a1.5 1.5 0 1 0-3 0M462.9 68.4a1.5 1.5 0 1 0 3 0a1.5 1.5 0 1 0-3 0M467.8 48.5a1.5 1.5 0 1 0 3 0a1.5 1.5 0 1 0-3 0M477.3 28.5a1.5 1.5 0 1 0 3 0a1.5 1.5 0 1 0-3 0"/>
<path stroke="#ff0000" d="M473.7 88.4l2.1-2.1 2.1 2.1-2.1 2.1zM455.5 28.5l2.1-2.1 2.1 2.1-2.1 2.1zM451 88.4l2.1-2.1 2.1 2.1-2.1 2.1zM467.3 88.4l2.1-2.1 2.1 2.1-2.1 2.1zM460.4 88.4l2.1-2.1 2.1 2.1-2.1 2.1zM453.7 88.4l2.1-2.1 2.1 2.1-2.1 2.1zM452.5 88.4l2.1-2.1 2.1 2.1-2.1 2.1zM458 88.4l2.1-2.1 2.1 2.1-2.1 2.1zM468.3 88.4l2.1-2.1 2.1 2.1-2.1 2.1zM444.2 88.4l2.1-2.1 2.1 2.1-2.1 2.1zM456.7 88.4l2.1-2.1 2.1 2.1-2.1 2.1zM459 88.4l2.1-2.1 2.1 2.1-2.1 2.1zM453.8 88.4l2.1-2.1 2.1 2.1-2.1 2.1zM473.2 88.4l2.1-2.1 2.1 2.1-2.1 2.1zM445 88.4l2.1-2.1 2.1 2.1-2.1 2.1zM460.4 88.4l2.1-2.1 2.1 2.1-2.1 2.1zM450 88.4l2.1-2.1 2.1 2.1-2.1 2.1zM445.5 88.4l2.1-2.1 2.1 2.1-2.1 2.1zM452.8 88.4l2.1-2.1 2.1 2.1-2.1 2.1zM463.5 88.4l2.1-2.1 2.1 2.1-2.1 2.1zM461.6 88.4l2.1-2.1 2.1 2.1-2.1 2.1zM462.5 88.4l2.1-2.1 2.1 2.1-2.1 2.1zM455.1 88.4l2.1-2.1 2.1 2.1-2.1 2.1zM458.3 88.4l2.1-2.1 2.1 2.1-2.1 2.1zM453.9 88.4l2.1-2.1 2.1 2.1-2.1 2.1zM481.3 88.4l2.1-2.1 2.1 2.1-2.1 2.1zM450.4 88.4l2.1-2.1 2.1 2.1-2.1 2.1zM464.3 88.4l2.1-2.1 2.1 2.1-2.1 2.1zM448.7 88.4l2.1-2.1 2.1 2.1-2.1 2.1zM454.7 88.4l2.1-2.1 2.1 2.1-2.1 2.1zM444 88.4l2.1-2.1 2.1 2.1-2.1 2.1zM453.5 88.4l2.1-2.1 2.1 2.1-2.1 2.1zM455.9 88.4l2.1-2.1 2.1 2.1-2.1 2.1z"/>
<path stroke="#00cd00" d="M464.7 28.5a1.5 1.5 0 1 0 3 0a1.5 1.5 0 1 0-3 0M468.7 28.5a1.5 1.5 0 1 0 3 0a1.5 1.5 0 1 0-3 0M482.6 48.5a1.5 1.5 0 1 0 3 0a1.5 1.5 0 1 0-3 0M472.3 28.5a1.5 1.5 0 1 0 3 0a1.5 1.5 0 1 0-3 0M479.7 68.4a1.5 1.5 0 1 0 3 0a1.5 1.5 0 1 0-3 0M470.8 48.5a1.5 1.5 0 1 0 3 0a1.5 1.5 0 1 0-3 0M473.4 68.4a1.5 1.5 0 1 0 3 0a1.5 1.5 0 1 0-3 0M479.4 28.5a1.5 1.5 0 1 0 3 0a1.5 1.5 0 1 0-3 0M470 48.5a1.5 1.5 0 1 0 3 0a1.5 1.5 0 1 0-3 0M481.3 48.5a1.5 1.5 0 1 0 3 0a1.5 1.5 0 1 0-3 0M484.8 88.4a1.5 1.5 0 1 0 3 0a1.5 1.5 0 1 0-3 0M486.3 28.5a1.5 1.5 0 1 0 3 0a1.5 1.5 0 1 0-3 0M471.9 48.5a1.5 1.5 0 1 0 3 0a1.5 1.5 0 1 0-3 0M476.2 28.5a1.5 1.5 0 1 0 3 0a1.5 1.5 0 1 0-3 0M461.6 28.5a1.5 1.5 0 1 0 3 0a1.5 1.5 0 1 0-3 0M473.6 68.4a1.5 1.5 0 1 0 3 0a1.5 1.5 0 1 0-3 0M485.1 48.5a1.5 1.5 0 1 0 3 0a1.5 1.5 0 1 0-3 0M480.3 28.5a1.5 1.5 0 1 0 3 0a1.5 1.5 0 1 0-3 0M468.8 68.4a1.5 1.5 0 1 0 3 0a1.5 1.5 0 1 0-3 0M484.9 68.4a1.5 1.5 0 1 0 3 0a1.5 1.5 0 1 0-3 0M480.7 88.4a1.5 1.5 0 1 0 3 0a1.5 1.5 0 1 0-3 0M476.3 68.4a1.5 1.5 0 1 0 3 0a1.5 1.5 0 1 0-3 0M481 48.5a1.5 1.5 0 1 0 3 0a1.5 1.5 0 1 0-3 0M481.7 68.4a1.5 1.5 0 1 0 3 0a1.5 1.5 0 1 0-3 0M479.4 68.4a1.5 1.5 0 1 0 3 0a1.5 1.5 0 1 0-3 0M484 48.5a1.5 1.5 0 1 0 3 0a1.5 1.5 0 1 0-3 0M481.8 28.5a1.5 1.5 0 1 0 3 0a1.5 1.5 0 1 0-3 0M473 68.4a1.5 1.5 0 1 0 3 0a1.5 1.5 0 1 0-3 0M479.3 68.4a1.5 1.5 0 1 0 3 0a1.5 1.5 0 1 0-3 0M456.1 48.5a1.5 1.5 0 1 0 3 0a1.5 1.5 0 1 0-3 0M479.1 28.5a1.5 1.5 0 1 0 3 0a1.5 1.5 0 1 0-3 0M475.3 28.5a1.5 1.5 0 1 0 3 0a1.5 1.5 0 1 0-3 0M476.4 28.5a1.5 1.5 0 1 0 3 0a1.5 1.5 0 1 0-3 0"/>
<path stroke="#0000ff" d="M488.8 66.1l2 3.5-4.1 0zM501.5 26.1l2 3.5-4.1 0zM490.7 46.1l2 3.5-4.1 0zM513.4 66.1l2 3.5-4.1 0zM506.5 26.1l2 3.5-4.1 0zM498.2 46.1l2 3.5-4.1 0zM488 66.1l2 3.5-4.1 0zM508.8 26.1l2 3.5-4.1 0zM486.3 26.1l2 3.5-4.1 0zM504.1 66.1l2 3.5-4.1 0zM490.9 66.1l2 3.5-4.1 0zM490.5 26.1l2 3.5-4.1 0zM517.3 46.1l2 3.5-4.1 0zM506.5 66.1l2 3.5-4.1 0zM501.1 26.1l2 3.5-4.1 0zM497.5 26.1l2 3.5-4.1 0zM492.2 26.1l2 3.5-4.1 0zM509.2 46.1l2 3.5-4.1 0zM509.4 66.1l2 3.5-4.1 0zM491.6 26.1l2 3.5-4.1 0zM496.4 46.1l2 3.5-4.1 0z"/>
<path stroke="#ff0000" d="M464.7 88.4l2.1-2.1 2.1 2.1-2.1 2.1zM453.2 68.4l2.1-2.1 2.1 2.1-2.1 2.1zM455 88.4l2.1-2.1 2.1 2.1-2.1 2.1zM455.5 88.4l2.1-2.1 2.1 2.1-2.1 2.1zM476.4 88.4l2.1-2.1 2.1 2.1-2.1 2.1zM457.2 88.4l2.1-2.1 2.1 2.1-2.1 2.1zM448.2 88.4l2.1-2.1 2.1 2.1-2.1 2.1zM453.4 48.5l2.1-2.1 2.1 2.1-2.1 2.1zM471.5 88.4l2.1-2.1 2.1 2.1-2.1 2.1zM479.4 88.4l2.1-2.1 2.1 2.1-2.1 2.1zM460.9 88.4l2.1-2.1 2.1 2.1-2.1 2.1zM479.1 88.4l2.1-2.1 2.1 2.1-2.1 2.1zM460 88.4l2.1-2.1 2.1 2.1-2.1 2.1zM450.6 88.4l2.1-2.1 2.1 2.1-2.1 2.1zM441.8 88.4l2.1-2.1 2.1 2.1-2.1 2.1zM455.9 88.4l2.1-2.1 2.1 2.1-2.1 2.1zM476.8 88.4l2.1-2.1 2.1 2.1-2.1 2.1zM473 88.4l2.1-2.1 2.1 2.1-2.1 2.1zM462.7 88.4l2.1-2.1 2.1 2.1-2.1 2.1zM466 88.4l2.1-2.1 2.1 2.1-2.1 2.1zM449.2 88.4l2.1-2.1 2.1 2.1-2.1 2.1zM457.7 88.4l2.1-2.1 2.1 2.1-2.1 2.1zM468.2 88.4l2.1-2.1 2.1 2.1-2.1 2.1zM446.8 88.4l2.1-2.1 2.1 2.1-2.1 2.1zM441.1 88.4l2.1-2.1 2.1 2.1-2.1 2.1zM456 88.4l2.1-2.1 2.1 2.1-2.1 2.1zM457.7 88.4l2.1-2.1 2.1 2.1-2.1 2.1z"/>
<path stroke="#00cd00" d="M494 28.5a1.5 1.5 0 1 0 3 0a1.5 1.5 0 1 0-3 0M477.7 28.5a1.5 1.5 0 1 0 3 0a1.5 1.5 0 1 0-3 0M470.5 48.5a1.5 1.5 0 1 0 3 0a1.5 1.5 0 1 0-3 0M473.3 68.4a1.5 1.5 0 1 0 3 0a1.5 1.5 0 1 0-3 0M469.9 48.5a1.5 1.5 0 1 0 3 0a1.5 1.5 0 1 0-3 0M465.9 28.5a1.5 1.5 0 1 0 3 0a1.5 1.5 0 1 0-3 0M479.2 48.5a1.5 1.5 0 1 0 3 0a1.5 1.5 0 1 0-3 0M462.9 48.5a1.5 1.5 0 1 0 3 0a1.5 1.5 0 1 0-3 0M471.5 28.5a1.5 1.5 0 1 0 3 0a1.5 1.5 0 1 0-3 0M479.4 68.4a1.5 1.5 0 1 0 3 0a1.5 1.5 0 1 0-3 0M479.1 88.4a1.5 1.5 0 1 0 3 0a1.5 1.5 0 1 0-3 0M484.5 88.4a1.5 1.5 0 1 0 3 0a1.5 1.5 0 1 0-3 0M465.1 48.5a1.5 1.5 0 1 0 3 0a1.5 1.5 0 1 0-3 0M477 68.4a1.5 1.5 0 1 0 3 0a1.5 1.5 0 1 0-3 0M501.5 28.5a1.5 1.5 0 1 0 3 0a1.5 1.5 0 1 0-3 0M485.2 68.4a1.5 1.5 0 1 0 3 0a1.5 1.5 0 1 0-3 0M469.8 68.4a1.5 1.5 0 1 0 3 0a1.5 1.5 0 1 0-3 0M474.9 48.5a1.5 1.5 0 1 0 3 0a1.5 1.5 0 1 0-3 0M469.1 68.4a1.5 1.5 0 1 0 3 0a1.5 1.5 0 1 0-3 0M472.5 28.5a1.5 1.5 0 1 0 3 0a1.5 1.5 0 1 0-3 0M479.1 88.4a1.5 1.5 0 1 0 3 0a1.5 1.5 0 1 0-3 0M467.6 68.4a1.5 1.5 0 1 0 3 0a1.5 1.5 0 1 0-3 0M469.1 68.4a1.5 1.5 0 1 0 3 0a1.5 1.5 0 1 0-3 0M480.1 68.4a1.5 1.5 0 1 0 3 0a1.5 1.5 0 1 0-3 0M465.4 68.4a1.5 1.5 0 1 0 3 0a1.5 1.5 0 1 0-3 0M463.9 68.4a1.5 1.5 0 1 0 3 0a1.5 1.5 0 1 0-3 0M482.7 28.5a1.5 1.5 0 1 0 3 0a1.5 1.5 0 1 0-3 0M468.5 68.4a1.5 1.5 0 1 0 3 0a1.5 1.5 0 1 0-3 0M474.2 88.4a1.5 1.5 0 1 0 3 0a1.5 1.5 0 1 0-3 0M476.8 48.5a1.5 1.5 0 1 0 3 0a1.5 1.5 0 1 0-3 0M472.9 48.5a1.5 1.5 0 1 0 3 0a1.5 1.5 0 1 0-3 0"/>
<path stroke="#0000ff" d="M498.3 46.1l2 3.5-4.1 0zM493.9 66.1l2 3.5-4.1 0zM500 26.1l2 3.5-4.1 0zM501.9 66.1l2 3.5-4.1 0zM494.2 46.1l2 3.5-4.1 0zM486.6 46.1l2 3.5-4.1 0zM481.7 46.1l2 3.5-4.1 0zM499 66.1l2 3.5-4.1 0zM506.5 66.1l2 3.5-4.1 0zM478.6 46.1l2 3.5-4.1 0zM497 26.1l2 3.5-4.1 0zM498.3 46.1l2 3.5-4.1 0zM501.2 26.1l2 3.5-4.1 0zM501.2 46.1l2 3.5-4.1 0zM496.5 26.1l2 3.5-4.1 0zM505.4 46.1l2 3.5-4.1 0zM503.6 26.1l2 3.5-4.1 0zM501.2 66.1l2 3.5-4.1 0zM480.4 66.1l2 3.5-4.1 0zM490.7 26.1l2 3.5-4.1 0zM489.6 66.1l2 3.5-4.1 0zM508.5 66.1l2 3.5-4.1 0zM502.5 66.1l2 3.5-4.1 0zM501 26.1l2 3.5-4.1 0zM504 26.1l2 3.5-4.1 0zM489.2 46.1l2 3.5-4.1 0zM481.1 66.1l2 3.5-4.1 0zM506 46.1l2 3.5-4.1 0zM486.5 66.1l2 3.5-4.1 0z"/>
<path stroke="#ff0000" d="M462.1 88.4l2.1-2.1 2.1 2.1-2.1 2.1zM452.1 88.4l2.1-2.1 2.1 2.1-2.1 2.1zM471.5 88.4l2.1-2.1 2.1 2.1-2.1 2.1zM476.5 88.4l2.1-2.1 2.1 2.1-2.1 2.1zM471.4 88.4l2.1-2.1 2.1 2.1-2.1 2.1zM463.4 88.4l2.1-2.1 2.1 2.1-2.1 2.1zM474.8 88.4l2.1-2.1 2.1 2.1-2.1 2.1zM452.5 48.5l2.1-2.1 2.1 2.1-2.1 2.1zM465.2 88.4l2.1-2.1 2.1 2.1-2.1 2.1zM461.2 88.4l2.1-2.1 2.1 2.1-2.1 2.1zM449.2 88.4l2.1-2.1 2.1 2.1-2.1 2.1zM470.6 88.4l2.1-2.1 2.1 2.1-2.1 2.1zM462.9 88.4l2.1-2.1 2.1 2.1-2.1 2.1zM448.3 88.4l2.1-2.1 2.1 2.1-2.1 2.1zM471.7 88.4l2.1-2.1 2.1 2.1-2.1 2.1zM466.6 88.4l2.1-2.1 2.1 2.1-2.1 2.1zM449.8 88.4l2.1-2.1 2.1 2.1-2.1 2.1zM443.7 88.4l2.1-2.1 2.1 2.1-2.1 2.1zM462.9 88.4l2.1-2.1 2.1 2.1-2.1 2.1zM462.7 88.4l2.1-2.1 2.1 2.1-2.1 2.1zM453.8 88.4l2.1-2.1 2.1 2.1-2.1 2.1zM454.2 88.4l2.1-2.1 2.1 2.1-2.1 2.1zM462 88.4l2.1-2.1 2.1 2.1-2.1 2.1zM452.8 88.4l2.1-2.1 2.1 2.1-2.1 2.1zM445.1 88.4l2.1-2.1 2.1 2.1-2.1 2.1zM472.8 88.4l2.1-2.1 2.1 2.1-2.1 2.1zM461.6 88.4l2.1-2.1 2.1 2.1-2.1 2.1zM462.7 88.4l2.1-2.1 2.1 2.1-2.1 2.1zM463.4 88.4l2.1-2.1 2.1 2.1-2.1 2.1zM458.9 88.4l2.1-2.1 2.1 2.1-2.1 2.1zM466.5 88.4l2.1-2.1 2.1 2.1-2.1 2.1z"/>
<path stroke="#00cd00" d="M478.2 48.5a1.5 1.5 0 1 0 3 0a1.5 1.5 0 1 0-3 0M479.5 48.5a1.5 1.5 0 1 0 3 0a1.5 1.5 0 1 0-3 0M470.1 48.5a1.5 1.5 0 1 0 3 0a1.5 1.5 0 1 0-3 0M476.3 88.4a1.5 1.5 0 1 0 3 0a1.5 1.5 0 1 0-3 0M476.6 68.4a1.5 1.5 0 1 0 3 0a1.5 1.5 0 1 0-3 0M478.9 68.4a1.5 1.5 0 1 0 3 0a1.5 1.5 0 1 0-3 0M468 68.4a1.5 1.5 0 1 0 3 0a1.5 1.5 0 1 0-3 0M480.5 68.4a1.5 1.5 0 1 0 3 0a1.5 1.5 0 1 0-3 0M483.3 88.4a1.5 1.5 0 1 0 3 0a1.5 1.5 0 1 0-3 0M476.7 48.5a1.5 1.5 0 1 0 3 0a1.5 1.5 0 1 0-3 0M476.8 48.5a1.5 1.5 0 1 0 3 0a1.5 1.5 0 1 0-3 0M482.7 68.4a1.5 1.5 0 1 0 3 0a1.5 1.5 0 1 0-3 0M484.7 88.4a1.5 1.5 0 1 0 3 0a1.5 1.5 0 1 0-3 0M488 28.5a1.5 1.5 0 1 0 3 0a1.5 1.5 0 1 0-3 0M477.4 48.5a1.5 1.5 0 1 0 3 0a1.5 1.5 0 1 0-3 0M472.4 48.5a1.5 1.5 0 1 0 3 0a1.5 1.5 0 1 0-3 0M469.3 28.5a1.5 1.5 0 1 0 3 0a1.5 1.5 0 1 0-3 0M480.1 68.4a1.5 1.5 0 1 0 3 0a1.5 1.5 0 1 0-3 0M470.9 68.4a1.5 1.5 0 1 0 3 0a1.5 1.5 0 1 0-3 0M471.6 48.5a1.5 1.5 0 1 0 3 0a1.5 1.5 0 1 0-3 0M475.8 48.5a1.5 1.5 0 1 0 3 0a1.5 1.5 0 1 0-3 0M472.2 28.5a1.5 1.5 0 1 0 3 0a1.5 1.5 0 1 0-3 0M474.7 48.5a1.5 1.5 0 1 0 3 0a1.5 1.5 0 1 0-3 0M471.8 48.5a1.5 1.5 0 1 0 3 0a1.5 1.5 0 1 0-3 0M492.4 28.5a1.5 1.5 0 1 0 3 0a1.5 1.5 0 1 0-3 0M475 48.5a1.5 1.5 0 1 0 3 0a1.5 1.5 0 1 0-3 0M479.1 48.5a1.5 1.5 0 1 0 3 0a1.5 1.5 0 1 0-3 0"/>
<path stroke="#0000ff" d="M500.8 46.1l2 3.5-4.1 0zM497.4 26.1l2 3.5-4.1 0zM487.4 66.1l2 3.5-4.1 0zM508 26.1l2 3.5-4.1 0zM506.2 26.1l2 3.5-4.1 0zM498.8 46.1l2 3.5-4.1 0zM502.7 66.1l2 3.5-4.1 0zM497.6 46.1l2 3.5-4.1 0zM497.1 46.1l2 3.5-4.1 0zM510.6 26.1l2 3.5-4.1 0zM495.5 66.1l2 3.5-4.1 0zM496.9 66.1l2 3.5-4.1 0zM506 66.1l2 3.5-4.1 0zM505.3 26.1l2 3.5-4.1 0zM504.7 46.1l2 3.5-4.1 0zM502.3 66.1l2 3.5-4.1 0zM486.3 26.1l2 3.5-4.1 0zM484.9 46.1l2 3.5-4.1 0zM480.1 26.1l2 3.5-4.1 0zM496.6 66.1l2 3.5-4.1 0zM509.4 46.1l2 3.5-4.1 0zM509.6 26.1l2 3.5-4.1 0zM497.1 26.1l2 3.5-4.1 0zM485.6 66.1l2 3.5-4.1 0zM492.3 66.1l2 3.5-4.1 0zM511 66.1l2 3.5-4.1 0zM497.5 26.1l2 3.5-4.1 0zM490.3 46.1l2 3.5-4.1 0zM491.1 66.1l2 3.5-4.1 0z"/>
<path stroke="#ff0000" d="M453.4 88.4l2.1-2.1 2.1 2.1-2.1 2.1zM459.9 48.5l2.1-2.1 2.1 2.1-2.1 2.1zM473.4 88.4l2.1-2.1 2.1 2.1-2.1 2.1zM477.6 88.4l2.1-2.1 2.1 2.1-2.1 2.1zM459.7 88.4l2.1-2.1 2.1 2.1-2.1 2.1zM450.9 88.4l2.1-2.1 2.1 2.1-2.1 2.1zM450.7 88.4l2.1-2.1 2.1 2.1-2.1 2.1zM449.9 88.4l2.1-2.1 2.1 2.1-2.1 2.1zM452 88.4l2.1-2.1 2.1 2.1-2.1 2.1zM459.1 88.4l2.1-2.1 2.1 2.1-2.1 2.1zM458.8 88.4l2.1-2.1 2.1 2.1-2.1 2.1zM457.3 88.4l2.1-2.1 2.1 2.1-2.1 2.1zM467.9 88.4l2.1-2.1 2.1 2.1-2.1 2.1zM459.5 88.4l2.1-2.1 2.1 2.1-2.1 2.1zM444.4 88.4l2.1-2.1 2.1 2.1-2.1 2.1zM454.5 88.4l2.1-2.1 2.1 2.1-2.1 2.1zM472.3 88.4l2.1-2.1 2.1 2.1-2.1 2.1zM452.9 88.4l2.1-2.1 2.1 2.1-2.1 2.1zM454 88.4l2.1-2.1 2.1 2.1-2.1 2.1zM454.2 88.4l2.1-2.1 2.1 2.1-2.1 2.1zM448.9 88.4l2.1-2.1 2.1 2.1-2.1 2.1zM454 88.4l2.1-2.1 2.1 2.1-2.1 2.1zM460 88.4l2.1-2.1 2.1 2.1-2.1 2.1zM465.3 88.4l2.1-2.1 2.1 2.1-2.1 2.1zM457.6 88.4l2.1-2.1 2.1 2.1-2.1 2.1zM475.8 88.4l2.1-2.1 2.1 2.1-2.1 2.1zM463.5 88.4l2.1-2.1 2.1 2.1-2.1 2.1zM460 88.4l2.1-2.1 2.1 2.1-2.1 2.1z"/>
<path stroke="#00cd00" d="M490.2 68.4a1.5 1.5 0 1 0 3 0a1.5 1.5 0 1 0-3 0M477.8 28.5a1.5 1.5 0 1 0 3 0a1.5 1.5 0 1 0-3 0M466.8 68.4a1.5 1.5 0 1 0 3 0a1.5 1.5 0 1 0-3 0M506.2 28.5a1.5 1.5 0 1 0 3 0a1.5 1.5 0 1 0-3 0M474 48.5a1.5 1.5 0 1 0 3 0a1.5 1.5 0 1 0-3 0M489.8 48.5a1.5 1.5 0 1 0 3 0a1.5 1.5 0 1 0-3 0M467.7 28.5a1.5 1.5 0 1 0 3 0a1.5 1.5 0 1 0-3 0M474.2 48.5a1.5 1.5 0 1 0 3 0a1.5 1.5 0 1 0-3 0M484 68.4a1.5 1.5 0 1 0 3 0a1.5 1.5 0 1 0-3 0M470.6 48.5a1.5 1.5 0 1 0 3 0a1.5 1.5 0 1 0-3 0M468.2 68.4a1.5 1.5 0 1 0 3 0a1.5 1.5 0 1 0-3 0M475.3 68.4a1.5 1.5 0 1 0 3 0a1.5 1.5 0 1 0-3 0M469 28.5a1.5 1.5 0 1 0 3 0a1.5 1.5 0 1 0-3 0M483.3 28.5a1.5 1.5 0 1 0 3 0a1.5 1.5 0 1 0-3 0M459.3 28.5a1.5 1.5 0 1 0 3 0a1.5 1.5 0 1 0-3 0M483.5 68.4a1.5 1.5 0 1 0 3 0a1.5 1.5 0 1 0-3 0M484.3 28.5a1.5 1.5 0 1 0 3 0a1.5 1.5 0 1 0-3 0M478.5 28.5a1.5 1.5 0 1 0 3 0a1.5 1.5 0 1 0-3 0M477.2 68.4a1.5 1.5 0 1 0 3 0a1.5 1.5 0 1 0-3 0M476.9 28.5a1.5 1.5 0 1 0 3 0a1.5 1.5 0 1 0-3 0M471.9 28.5a1.5 1.5 0 1 0 3 0a1.5 1.5 0 1 0-3 0M483.5 48.5a1.5 1.5 0 1 0 3 0a1.5 1.5 0 1 0-3 0M484.3 48.5a1.5 1.5 0 1 0 3 0a1.5 1.5 0 1 0-3 0M480 48.5a1.5 1.5 0 1 0 3 0a1.5 1.5 0 1 0-3 0M495 28.5a1.5 1.5 0 1 0 3 0a1.5 1.5 0 1 0-3 0M493.8 28.5a1.5 1.5 0 1 0 3 0a1.5 1.5 0 1 0-3 0M468.7 68.4a1.5 1.5 0 1 0 3 0a1.5 1.5 0 1 0-3 0"/>
<path stroke="#0000ff" d="M487.9 26.1l2 3.5-4.1 0zM495.8 26.1l2 3.5-4.1 0zM492.4 66.1l2 3.5-4.1 0zM492.4 46.1l2 3.5-4.1 0zM503.5 46.1l2 3.5-4.1 0zM482.8 46.1l2 3.5-4.1 0zM501.6 26.1l2 3.5-4.1 0zM482.5 46.1l2 3.5-4.1 0zM500.6 66.1l2 3.5-4.1 0zM506.3 66.1l2 3.5-4.1 0zM494.7 66.1l2 3.5-4.1 0zM493.6 46.1l2 3.5-4.1 0zM488.1 46.1l2 3.5-4.1 0zM492.4 66.1l2 3.5-4.1 0zM489 66.1l2 3.5-4.1 0zM497.5 66.1l2 3.5-4.1 0zM490.7 26.1l2 3.5-4.1 0zM502.2 66.1l2 3.5-4.1 0zM499.7 46.1l2 3.5-4.1 0zM498 66.1l2 3.5-4.1 0zM491.5 26.1l2 3.5-4.1 0zM488.2 66.1l2 3.5-4.1 0zM493.4 66.1l2 3.5-4.1 0zM486.9 26.1l2 3.5-4.1 0zM499.4 26.1l2 3.5-4.1 0zM480.8 46.1l2 3.5-4.1 0zM470.7 46.1l2 3.5-4.1 0zM497.6 26.1l2 3.5-4.1 0zM483.8 26.1l2 3.5-4.1 0zM483.5 66.1l2 3.5-4.1 0zM501.7 26.1l2 3.5-4.1 0zM494.4 66.1l2 3.5-4.1 0z"/>
<path stroke="#ff0000" d="M442.4 88.4l2.1-2.1 2.1 2.1-2.1 2.1zM455.4 88.4l2.1-2.1 2.1 2.1-2.1 2.1zM448.8 88.4l2.1-2.1 2.1 2.1-2.1 2.1zM449.5 88.4l2.1-2.1 2.1 2.1-2.1 2.1zM443.5 88.4l2.1-2.1 2.1 2.1-2.1 2.1zM451.3 88.4l2.1-2.1 2.1 2.1-2.1 2.1zM446.8 88.4l2.1-2.1 2.1 2.1-2.1 2.1zM471 88.4l2.1-2.1 2.1 2.1-2.1 2.1zM465.4 88.4l2.1-2.1 2.1 2.1-2.1 2.1zM470.5 88.4l2.1-2.1 2.1 2.1-2.1 2.1zM452.9 88.4l2.1-2.1 2.1 2.1-2.1 2.1zM450.5 88.4l2.1-2.1 2.1 2.1-2.1 2.1zM457.7 88.4l2.1-2.1 2.1 2.1-2.1 2.1zM469.2 88.4l2.1-2.1 2.1 2.1-2.1 2.1zM472.2 88.4l2.1-2.1 2.1 2.1-2.1 2.1zM476.3 28.5l2.1-2.1 2.1 2.1-2.1 2.1zM465 88.4l2.1-2.1 2.1 2.1-2.1 2.1zM433.9 88.4l2.1-2.1 2.1 2.1-2.1 2.1zM441.3 88.4l2.1-2.1 2.1 2.1-2.1 2.1zM459.5 88.4l2.1-2.1 2.1 2.1-2.1 2.1zM472.4 88.4l2.1-2.1 2.1 2.1-2.1 2.1zM457.8 88.4l2.1-2.1 2.1 2.1-2.1 2.1zM475.1 88.4l2.1-2.1 2.1 2.1-2.1 2.1zM463.3 88.4l2.1-2.1 2.1 2.1-2.1 2.1zM441.6 88.4l2.1-2.1 2.1 2.1-2.1 2.1zM456.6 88.4l2.1-2.1 2.1 2.1-2.1 2.1zM458.7 88.4l2.1-2.1 2.1 2.1-2.1 2.1zM466.3 88.4l2.1-2.1 2.1 2.1-2.1 2.1z"/>
<path stroke="#00cd00" d="M473.4 48.5a1.5 1.5 0 1 0 3 0a1.5 1.5 0 1 0-3 0M465.8 28.5a1.5 1.5 0 1 0 3 0a1.5 1.5 0 1 0-3 0M477.6 28.5a1.5 1.5 0 1 0 3 0a1.5 1.5 0 1 0-3 0M474.1 68.4a1.5 1.5 0 1 0 3 0a1.5 1.5 0 1 0-3 0M463.3 68.4a1.5 1.5 0 1 0 3 0a1.5 1.5 0 1 0-3 0M472.6 28.5a1.5 1.5 0 1 0 3 0a1.5 1.5 0 1 0-3 0M469.7 28.5a1.5 1.5 0 1 0 3 0a1.5 1.5 0 1 0-3 0M470.1 28.5a1.5 1.5 0 1 0 3 0a1.5 1.5 0 1 0-3 0M472.4 28.5a1.5 1.5 0 1 0 3 0a1.5 1.5 0 1 0-3 0M483.1 68.4a1.5 1.5 0 1 0 3 0a1.5 1.5 0 1 0-3 0M482.5 68.4a1.5 1.5 0 1 0 3 0a1.5 1.5 0 1 0-3 0M484.3 88.4a1.5 1.5 0 1 0 3 0a1.5 1.5 0 1 0-3 0M457.8 48.5a1.5 1.5 0 1 0 3 0a1.5 1.5 0 1 0-3 0M487.1 28.5a1.5 1.5 0 1 0 3 0a1.5 1.5 0 1 0-3 0M489.5 68.4a1.5 1.5 0 1 0 3 0a1.5 1.5 0 1 0-3 0M479.5 68.4a1.5 1.5 0 1 0 3 0a1.5 1.5 0 1 0-3 0M480.3 28.5a1.5 1.5 0 1 0 3 0a1.5 1.5 0 1 0-3 0M483.9 48.5a1.5 1.5 0 1 0 3 0a1.5 1.5 0 1 0-3 0M472 48.5a1.5 1.5 0 1 0 3 0a1.5 1.5 0 1 0-3 0M482.4 68.4a1.5 1.5 0 1 0 3 0a1.5 1.5 0 1 0-3 0M476.5 68.4a1.5 1.5 0 1 0 3 0a1.5 1.5 0 1 0-3 0M481 28.5a1.5 1.5 0 1 0 3 0a1.5 1.5 0 1 0-3 0M465.3 48.5a1.5 1.5 0 1 0 3 0a1.5 1.5 0 1 0-3 0M490.5 68.4a1.5 1.5 0 1 0 3 0a1.5 1.5 0 1 0-3 0M470.9 28.5a1.5 1.5 0 1 0 3 0a1.5 1.5 0 1 0-3 0M480.5 48.5a1.5 1.5 0 1 0 3 0a1.5 1.5 0 1 0-3 0M467.6 48.5a1.5 1.5 0 1 0 3 0a1.5 1.5 0 1 0-3 0M472.9 48.5a1.5 1.5 0 1 0 3 0a1.5 1.5 0 1 0-3 0M475.7 88.4a1.5 1.5 0 1 0 3 0a1.5 1.5 0 1 0-3 0M481.8 48.5a1.5 1.5 0 1 0 3 0a1.5 1.5 0 1 0-3 0M472.4 28.5a1.5 1.5 0 1 0 3 0a1.5 1.5 0 1 0-3 0M468.9 68.4a1.5 1.5 0 1 0 3 0a1.5 1.5 0 1 0-3 0M475.2 48.5a1.5 1.5 0 1 0 3 0a1.5 1.5 0 1 0-3 0M468.6 48.5a1.5 1.5 0 1 0 3 0a1.5 1.5 0 1 0-3 0"/>
<path stroke="#0000ff" d="M495.6 46.1l2 3.5-4.1 0zM509.7 26.1l2 3.5-4.1 0zM475.7 46.1l2 3.5-4.1 0zM484.5 66.1l2 3.5-4.1 0zM506 66.1l2 3.5-4.1 0zM497.3 26.1l2 3.5-4.1 0zM484.3 26.1l2 3.5-4.1 0zM502.4 26.1l2 3.5-4.1 0zM488.7 26.1l2 3.5-4.1 0zM490.9 26.1l2 3.5-4.1 0zM477 46.1l2 3.5-4.1 0zM483 26.1l2 3.5-4.1 0zM483.5 66.1l2 3.5-4.1 0zM487.5 26.1l2 3.5-4.1 0zM489 46.1l2 3.5-4.1 0zM499 66.1l2 3.5-4.1 0zM495.6 26.1l2 3.5-4.1 0zM498.4 46.1l2 3.5-4.1 0zM497.8 46.1l2 3.5-4.1 0zM499.7 26.1l2 3.5-4.1 0zM504.6 46.1l2 3.5-4.1 0zM493.2 66.1l2 3.5-4.1 0zM484.4 66.1l2 3.5-4.1 0zM499.8 46.1l2 3.5-4.1 0zM493.3 46.1l2 3.5-4.1 0z"/>
<path stroke="#ff0000" d="M471.5 88.4l2.1-2.1 2.1 2.1-2.1 2.1zM455.9 88.4l2.1-2.1 2.1 2.1-2.1 2.1zM469.9 88.4l2.1-2.1 2.1 2.1-2.1 2.1zM461.2 88.4l2.1-2.1 2.1 2.1-2.1 2.1zM443.6 88.4l2.1-2.1 2.1 2.1-2.1 2.1zM468.2 88.4l2.1-2.1 2.1 2.1-2.1 2.1z"/>
<path stroke="#00cd00" d="M478.8 68.4a1.5 1.5 0 1 0 3 0a1.5 1.5 0 1 0-3 0M479.4 48.5a1.5 1.5 0 1 0 3 0a1.5 1.5 0 1 0-3 0M481.4 68.4a1.5 1.5 0 1 0 3 0a1.5 1.5 0 1 0-3 0M476.5 48.5a1.5 1.5 0 1 0 3 0a1.5 1.5 0 1 0-3 0M479.6 68.4a1.5 1.5 0 1 0 3 0a1.5 1.5 0 1 0-3 0M479.1 68.4a1.5 1.5 0 1 0 3 0a1.5 1.5 0 1 0-3 0M486.2 88.4a1.5 1.5 0 1 0 3 0a1.5 1.5 0 1 0-3 0M483.9 28.5a1.5 1.5 0 1 0 3 0a1.5 1.5 0 1 0-3 0M471.9 28.5a1.5 1.5 0 1 0 3 0a1.5 1.5 0 1 0-3 0M489 68.4a1.5 1.5 0 1 0 3 0a1.5 1.5 0 1 0-3 0M479.5 68.4a1.5 1.5 0 1 0 3 0a1.5 1.5 0 1 0-3 0M464.7 28.5a1.5 1.5 0 1 0 3 0a1.5 1.5 0 1 0-3 0M485.4 28.5a1.5 1.5 0 1 0 3 0a1.5 1.5 0 1 0-3 0M483 28.5a1.5 1.5 0 1 0 3 0a1.5 1.5 0 1 0-3 0M486.6 28.5a1.5 1.5 0 1 0 3 0a1.5 1.5 0 1 0-3 0M474.8 48.5a1.5 1.5 0 1 0 3 0a1.5 1.5 0 1 0-3 0M473.9 68.4a1.5 1.5 0 1 0 3 0a1.5 1.5 0 1 0-3 0M468.4 68.4a1.5 1.5 0 1 0 3 0a1.5 1.5 0 1 0-3 0M484.7 68.4a1.5 1.5 0 1 0 3 0a1.5 1.5 0 1 0-3 0M481.3 48.5a1.5 1.5 0 1 0 3 0a1.5 1.5 0 1 0-3 0M471.9 28.5a1.5 1.5 0 1 0 3 0a1.5 1.5 0 1 0-3 0M475.7 48.5a1.5 1.5 0 1 0 3 0a1.5 1.5 0 1 0-3 0M475.4 68.4a1.5 1.5 0 1 0 3 0a1.5 1.5 0 1 0-3 0M483.7 68.4a1.5 1.5 0 1 0 3 0a1.5 1.5 0 1 0-3 0M484.4 28.5a1.5 1.5 0 1 0 3 0a1.5 1.5 0 1 0-3 0M484.8 28.5a1.5 1.5 0 1 0 3 0a1.5 1.5 0 1 0-3 0M482.2 28.5a1.5 1.5 0 1 0 3 0a1.5 1.5 0 1 0-3 0M463.6 48.5a1.5 1.5 0 1 0 3 0a1.5 1.5 0 1 0-3 0M487.3 68.4a1.5 1.5 0 1 0 3 0a1.5 1.5 0 1 0-3 0M469.9 28.5a1.5 1.5 0 1 0 3 0a1.5 1.5 0 1 0-3 0M483.9 28.5a1.5 1.5 0 1 0 3 0a1.5 1.5 0 1 0-3 0M471 68.4a1.5 1.5 0 1 0 3 0a1.5 1.5 0 1 0-3 0M476.4 68.4a1.5 1.5 0 1 0 3 0a1.5 1.5 0 1 0-3 0M483.9 68.4a1.5 1.5 0 1 0 3 0a1.5 1.5 0 1 0-3 0M465.6 48.5a1.5 1.5 0 1 0 3 0a1.5 1.5 0 1 0-3 0M469.1 68.4a1.5 1.5 0 1 0 3 0a1.5 1.5 0 1 0-3 0M482.1 88.4a1.5 1.5 0 1 0 3 0a1.5 1.5 0 1 0-3 0M478.4 28.5a1.5 1.5 0 1 0 3 0a1.5 1.5 0 1 0-3 0M478.1 28.5a1.5 1.5 0 1 0 3 0a1.5 1.5 0 1 0-3 0M482 48.5a1.5 1.5 0 1 0 3 0a1.5 1.5 0 1 0-3 0M469 28.5a1.5 1.5 0 1 0 3 0a1.5 1.5 0 1 0-3 0M471.4 28.5a1.5 1.5 0 1 0 3 0a1.5 1.5 0 1 0-3 0M473.6 48.5a1.5 1.5 0 1 0 3 0a1.5 1.5 0 1 0-3 0M494.7 28.5a1.5 1.5 0 1 0 3 0a1.5 1.5 0 1 0-3 0M478.3 48.5a1.5 1.5 0 1 0 3 0a1.5 1.5 0 1 0-3 0M488.3 68.4a1.5 1.5 0 1 0 3 0a1.5 1.5 0 1 0-3 0M477.1 28.5a1.5 1.5 0 1 0 3 0a1.5 1.5 0 1 0-3 0M464.7 68.4a1.5 1.5 0 1 0 3 0a1.5 1.5 0 1 0-3 0"/>
<path stroke="#0000ff" d="M493.3 46.1l2 3.5-4.1 0zM493.5 46.1l2 3.5-4.1 0zM493.4 26.1l2 3.5-4.1 0zM493.4 26.1l2 3.5-4.1 0zM503.3 66.1l2 3.5-4.1 0zM506 66.1l2 3.5-4.1 0zM511.4 66.1l2 3.5-4.1 0zM493.8 26.1l2 3.5-4.1 0zM484.7 46.1l2 3.5-4.1 0zM501.8 66.1l2 3.5-4.1 0zM497.1 66.1l2 3.5-4.1 0zM496.7 26.1l2 3.5-4.1 0zM487.8 66.1l2 3.5-4.1 0zM506.9 66.1l2 3.5-4.1 0zM490.6 26.1l2 3.5-4.1 0zM499 26.1l2 3.5-4.1 0zM487.3 66.1l2 3.5-4.1 0zM487.2 66.1l2 3.5-4.1 0zM494.7 46.1l2 3.5-4.1 0zM483.5 46.1l2 3.5-4.1 0zM502.2 66.1l2 3.5-4.1 0zM500.3 66.1l2 3.5-4.1 0zM483.2 26.1l2 3.5-4.1 0zM500.1 46.1l2 3.5-4.1 0zM503.3 66.1l2 3.5-4.1 0zM502.6 66.1l2 3.5-4.1 0zM502.1 26.1l2 3.5-4.1 0zM496.4 26.1l2 3.5-4.1 0zM483.7 66.1l2 3.5-4.1 0zM504.4 66.1l2 3.5-4.1 0zM503.2 66.1l2 3.5-4.1 0zM507.6 66.1l2 3.5-4.1 0zM491.5 26.1l2 3.5-4.1 0z"/>
<path stroke="#00cd00" d="M476.8 48.5a1.5 1.5 0 1 0 3 0a1.5 1.5 0 1 0-3 0M484.8 88.4a1.5 1.5 0 1 0 3 0a1.5 1.5 0 1 0-3 0M483.2 48.5a1.5 1.5 0 1 0 3 0a1.5 1.5 0 1 0-3 0M491.1 68.4a1.5 1.5 0 1 0 3 0a1.5 1.5 0 1 0-3 0M486 48.5a1.5 1.5 0 1 0 3 0a1.5 1.5 0 1 0-3 0M468.1 48.5a1.5 1.5 0 1 0 3 0a1.5 1.5 0 1 0-3 0M469.5 68.4a1.5 1.5 0 1 0 3 0a1.5 1.5 0 1 0-3 0M484.4 68.4a1.5 1.5 0 1 0 3 0a1.5 1.5 0 1 0-3 0M477.1 28.5a1.5 1.5 0 1 0 3 0a1.5 1.5 0 1 0-3 0M483.5 48.5a1.5 1.5 0 1 0 3 0a1.5 1.5 0 1 0-3 0M483.7 48.5a1.5 1.5 0 1 0 3 0a1.5 1.5 0 1 0-3 0M474.6 88.4a1.5 1.5 0 1 0 3 0a1.5 1.5 0 1 0-3 0M479.1 28.5a1.5 1.5 0 1 0 3 0a1.5 1.5 0 1 0-3 0M476.2 28.5a1.5 1.5 0 1 0 3 0a1.5 1.5 0 1 0-3 0M472.2 68.4a1.5 1.5 0 1 0 3 0a1.5 1.5 0 1 0-3 0M475.3 68.4a1.5 1.5 0 1 0 3 0a1.5 1.5 0 1 0-3 0M480.8 48.5a1.5 1.5 0 1 0 3 0a1.5 1.5 0 1 0-3 0M482 48.5a1.5 1.5 0 1 0 3 0a1.5 1.5 0 1 0-3 0M466.7 68.4a1.5 1.5 0 1 0 3 0a1.5 1.5 0 1 0-3 0M461 68.4a1.5 1.5 0 1 0 3 0a1.5 1.5 0 1 0-3 0M465.5 48.5a1.5 1.5 0 1 0 3 0a1.5 1.5 0 1 0-3 0M483.9 28.5a1.5 1.5 0 1 0 3 0a1.5 1.5 0 1 0-3 0M477.7 28.5a1.5 1.5 0 1 0 3 0a1.5 1.5 0 1 0-3 0M478.6 28.5a1.5 1.5 0 1 0 3 0a1.5 1.5 0 1 0-3 0M486.7 68.4a1.5 1.5 0 1 0 3 0a1.5 1.5 0 1 0-3 0M475.9 48.5a1.5 1.5 0 1 0 3 0a1.5 1.5 0 1 0-3 0M482.2 28.5a1.5 1.5 0 1 0 3 0a1.5 1.5 0 1 0-3 0M479.2 28.5a1.5 1.5 0 1 0 3 0a1.5 1.5 0 1 0-3 0M470.8 48.5a1.5 1.5 0 1 0 3 0a1.5 1.5 0 1 0-3 0M471.4 48.5a1.5 1.5 0 1 0 3 0a1.5 1.5 0 1 0-3 0M473.7 68.4a1.5 1.5 0 1 0 3 0a1.5 1.5 0 1 0-3 0M481.4 68.4a1.5 1.5 0 1 0 3 0a1.5 1.5 0 1 0-3 0"/>
<path stroke="#0000ff" d="M480.3 46.1l2 3.5-4.1 0zM501.8 66.1l2 3.5-4.1 0zM483.9 46.1l2 3.5-4.1 0zM492 66.1l2 3.5-4.1 0zM509.1 66.1l2 3.5-4.1 0zM500.6 66.1l2 3.5-4.1 0zM497.5 46.1l2 3.5-4.1 0zM487.6 46.1l2 3.5-4.1 0zM485.8 46.1l2 3.5-4.1 0zM500.4 46.1l2 3.5-4.1 0zM491.1 66.1l2 3.5-4.1 0zM511.3 66.1l2 3.5-4.1 0zM510.4 66.1l2 3.5-4.1 0zM495.2 66.1l2 3.5-4.1 0zM486.7 46.1l2 3.5-4.1 0zM495.7 26.1l2 3.5-4.1 0zM486.3 26.1l2 3.5-4.1 0zM490.4 46.1l2 3.5-4.1 0zM490.3 46.1l2 3.5-4.1 0zM495.8 66.1l2 3.5-4.1 0zM476.4 46.1l2 3.5-4.1 0zM497.7 66.1l2 3.5-4.1 0zM490.1 26.1l2 3.5-4.1 0zM493.9 26.1l2 3.5-4.1 0zM502 46.1l2 3.5-4.1 0zM500.4 26.1l2 3.5-4.1 0zM511.3 66.1l2 3.5-4.1 0zM489.3 66.1l2 3.5-4.1 0zM489.9 66.1l2 3.5-4.1 0zM507.4 46.1l2 3.5-4.1 0zM493.6 66.1l2 3.5-4.1 0zM494.5 26.1l2 3.5-4.1 0zM491 46.1l2 3.5-4.1 0zM499.1 46.1l2 3.5-4.1 0zM481.9 46.1l2 3.5-4.1 0zM497.4 66.1l2 3.5-4.1 0zM503.4 26.1l2 3.5-4.1 0zM483 26.1l2 3.5-4.1 0zM492.6 26.1l2 3.5-4.1 0zM498.9 46.1l2 3.5-4.1 0zM492.3 26.1l2 3.5-4.1 0zM481 26.1l2 3.5-4.1 0zM489 46.1l2 3.5-4.1 0zM480.9 46.1l2 3.5-4.1 0zM499.3 66.1l2 3.5-4.1 0zM512.3 66.1l2 3.5-4.1 0zM481.9 26.1l2 3.5-4.1 0zM483 66.1l2 3.5-4.1 0zM480.1 26.1l2 3.5-4.1 0zM498 66.1l2 3.5-4.1 0zM505.9 46.1l2 3.5-4.1 0zM493.3 46.1l2 3.5-4.1 0zM503.6 46.1l2 3.5-4.1 0zM498.2 46.1l2 3.5-4.1 0zM504.7 46.1l2 3.5-4.1 0z"/>
<path stroke="#00cd00" d="M482.2 28.5a1.5 1.5 0 1 0 3 0a1.5 1.5 0 1 0-3 0M475.2 28.5a1.5 1.5 0 1 0 3 0a1.5 1.5 0 1 0-3 0M461.9 68.4a1.5 1.5 0 1 0 3 0a1.5 1.5 0 1 0-3 0M486.5 48.5a1.5 1.5 0 1 0 3 0a1.5 1.5 0 1 0-3 0M471.7 48.5a1.5 1.5 0 1 0 3 0a1.5 1.5 0 1 0-3 0M459.7 48.5a1.5 1.5 0 1 0 3 0a1.5 1.5 0 1 0-3 0M469.9 68.4a1.5 1.5 0 1 0 3 0a1.5 1.5 0 1 0-3 0M477.4 68.4a1.5 1.5 0 1 0 3 0a1.5 1.5 0 1 0-3 0M466.5 68.4a1.5 1.5 0 1 0 3 0a1.5 1.5 0 1 0-3 0M469.9 28.5a1.5 1.5 0 1 0 3 0a1.5 1.5 0 1 0-3 0M478.6 48.5a1.5 1.5 0 1 0 3 0a1.5 1.5 0 1 0-3 0M468.6 68.4a1.5 1.5 0 1 0 3 0a1.5 1.5 0 1 0-3 0M487.2 28.5a1.5 1.5 0 1 0 3 0a1.5 1.5 0 1 0-3 0M474.4 68.4a1.5 1.5 0 1 0 3 0a1.5 1.5 0 1 0-3 0M483 28.5a1.5 1.5 0 1 0 3 0a1.5 1.5 0 1 0-3 0M475.9 28.5a1.5 1.5 0 1 0 3 0a1.5 1.5 0 1 0-3 0M480.6 28.5a1.5 1.5 0 1 0 3 0a1.5 1.5 0 1 0-3 0M485.1 48.5a1.5 1.5 0 1 0 3 0a1.5 1.5 0 1 0-3 0M463.6 68.4a1.5 1.5 0 1 0 3 0a1.5 1.5 0 1 0-3 0M467.5 68.4a1.5 1.5 0 1 0 3 0a1.5 1.5 0 1 0-3 0M472.3 68.4a1.5 1.5 0 1 0 3 0a1.5 1.5 0 1 0-3 0M473.1 48.5a1.5 1.5 0 1 0 3 0a1.5 1.5 0 1 0-3 0M492.2 48.5a1.5 1.5 0 1 0 3 0a1.5 1.5 0 1 0-3 0M477.6 68.4a1.5 1.5 0 1 0 3 0a1.5 1.5 0 1 0-3 0M493.6 48.5a1.5 1.5 0 1 0 3 0a1.5 1.5 0 1 0-3 0M463.6 68.4a1.5 1.5 0 1 0 3 0a1.5 1.5 0 1 0-3 0M481.9 48.5a1.5 1.5 0 1 0 3 0a1.5 1.5 0 1 0-3 0M474 68.4a1.5 1.5 0 1 0 3 0a1.5 1.5 0 1 0-3 0M488.3 48.5a1.5 1.5 0 1 0 3 0a1.5 1.5 0 1 0-3 0M476.7 28.5a1.5 1.5 0 1 0 3 0a1.5 1.5 0 1 0-3 0M471.8 68.4a1.5 1.5 0 1 0 3 0a1.5 1.5 0 1 0-3 0M478.7 68.4a1.5 1.5 0 1 0 3 0a1.5 1.5 0 1 0-3 0M480.2 68.4a1.5 1.5 0 1 0 3 0a1.5 1.5 0 1 0-3 0M487.8 48.5a1.5 1.5 0 1 0 3 0a1.5 1.5 0 1 0-3 0M478 88.4a1.5 1.5 0 1 0 3 0a1.5 1.5 0 1 0-3 0M478.2 48.5a1.5 1.5 0 1 0 3 0a1.5 1.5 0 1 0-3 0M494.8 28.5a1.5 1.5 0 1 0 3 0a1.5 1.5 0 1 0-3 0M461.4 68.4a1.5 1.5 0 1 0 3 0a1.5 1.5 0 1 0-3 0"/>
<path stroke="#0000ff" d="M512.8 66.1l2 3.5-4.1 0zM480.2 46.1l2 3.5-4.1 0zM486.9 66.1l2 3.5-4.1 0zM473.2 46.1l2 3.5-4.1 0zM477.6 46.1l2 3.5-4.1 0zM499 66.1l2 3.5-4.1 0zM498.9 46.1l2 3.5-4.1 0zM493 66.1l2 3.5-4.1 0zM506.1 26.1l2 3.5-4.1 0zM496.4 46.1l2 3.5-4.1 0zM487.4 46.1l2 3.5-4.1 0zM488.6 46.1l2 3.5-4.1 0zM507.2 26.1l2 3.5-4.1 0zM503 46.1l2 3.5-4.1 0zM499.2 26.1l2 3.5-4.1 0zM505.1 46.1l2 3.5-4.1 0zM496.4 66.1l2 3.5-4.1 0zM494.2 66.1l2 3.5-4.1 0zM501.7 26.1l2 3.5-4.1 0zM491.3 26.1l2 3.5-4.1 0zM505.6 26.1l2 3.5-4.1 0zM490.3 46.1l2 3.5-4.1 0zM494.9 66.1l2 3.5-4.1 0zM483 66.1l2 3.5-4.1 0zM510.9 26.1l2 3.5-4.1 0zM483.2 26.1l2 3.5-4.1 0zM499.9 46.1l2 3.5-4.1 0zM496.7 46.1l2 3.5-4.1 0zM480.1 46.1l2 3.5-4.1 0zM503.7 66.1l2 3.5-4.1 0zM492 66.1l2 3.5-4.1 0zM495.2 46.1l2 3.5-4.1 0zM499.3 66.1l2 3.5-4.1 0zM490.8 46.1l2 3.5-4.1 0zM486.9 66.1l2 3.5-4.1 0zM494.3 66.1l2 3.5-4.1 0zM478.3 26.1l2 3.5-4.1 0zM506.5 26.1l2 3.5-4.1 0zM508.4 46.1l2 3.5-4.1 0zM501.3 66.1l2 3.5-4.1 0zM477.1 46.1l2 3.5-4.1 0zM499 66.1l2 3.5-4.1 0zM507.5 66.1l2 3.5-4.1 0zM517.1 66.1l2 3.5-4.1 0zM498.9 66.1l2 3.5-4.1 0zM483.6 26.1l2 3.5-4.1 0zM506.2 26.1l2 3.5-4.1 0zM474 46.1l2 3.5-4.1 0zM481.7 26.1l2 3.5-4.1 0z"/>
<path stroke="#0000ff" d="M486.9 26.1l2 3.5-4.1 0zM504.6 66.1l2 3.5-4.1 0zM501.7 26.1l2 3.5-4.1 0zM495.7 66.1l2 3.5-4.1 0zM504 66.1l2 3.5-4.1 0zM497.1 66.1l2 3.5-4.1 0zM490.1 66.1l2 3.5-4.1 0zM491.6 26.1l2 3.5-4.1 0zM505.7 66.1l2 3.5-4.1 0zM505.6 46.1l2 3.5-4.1 0zM498.8 26.1l2 3.5-4.1 0zM489.8 66.1l2 3.5-4.1 0zM492.9 46.1l2 3.5-4.1 0zM490.2 66.1l2 3.5-4.1 0zM490.1 46.1l2 3.5-4.1 0zM490 46.1l2 3.5-4.1 0zM491.5 66.1l2 3.5-4.1 0zM488.2 26.1l2 3.5-4.1 0zM495.8 46.1l2 3.5-4.1 0zM501.4 26.1l2 3.5-4.1 0zM505.6 66.1l2 3.5-4.1 0zM500.6 26.1l2 3.5-4.1 0zM506.4 46.1l2 3.5-4.1 0zM496.1 46.1l2 3.5-4.1 0zM497.1 26.1l2 3.5-4.1 0zM496.3 46.1l2 3.5-4.1 0zM504.4 66.1l2 3.5-4.1 0zM500.1 66.1l2 3.5-4.1 0zM482.5 66.1l2 3.5-4.1 0zM493.3 66.1l2 3.5-4.1 0zM483.4 46.1l2 3.5-4.1 0zM503.7 26.1l2 3.5-4.1 0zM506.9 46.1l2 3.5-4.1 0zM510.3 46.1l2 3.5-4.1 0zM484.7 66.1l2 3.5-4.1 0zM494.6 66.1l2 3.5-4.1 0zM506.4 46.1l2 3.5-4.1 0zM490.3 66.1l2 3.5-4.1 0zM505.2 26.1l2 3.5-4.1 0zM506.7 26.1l2 3.5-4.1 0zM501.4 66.1l2 3.5-4.1 0zM492.2 26.1l2 3.5-4.1 0zM495.1 46.1l2 3.5-4.1 0zM495.5 26.1l2 3.5-4.1 0zM495.4 46.1l2 3.5-4.1 0zM490.8 66.1l2 3.5-4.1 0zM493.3 46.1l2 3.5-4.1 0zM496.8 26.1l2 3.5-4.1 0zM507.6 66.1l2 3.5-4.1 0zM493.3 66.1l2 3.5-4.1 0zM487.5 66.1l2 3.5-4.1 0zM496.6 66.1l2 3.5-4.1 0zM490.7 46.1l2 3.5-4.1 0zM502.1 46.1l2 3.5-4.1 0zM476.8 46.1l2 3.5-4.1 0zM494.4 46.1l2 3.5-4.1 0zM478.8 46.1l2 3.5-4.1 0zM509.1 46.1l2 3.5-4.1 0zM507.3 26.1l2 3.5-4.1 0zM502.7 66.1l2 3.5-4.1 0zM492.1 66.1l2 3.5-4.1 0zM494.6 26.1l2 3.5-4.1 0zM496.2 46.1l2 3.5-4.1 0zM501.8 66.1l2 3.5-4.1 0zM497.6 66.1l2 3.5-4.1 0zM493 66.1l2 3.5-4.1 0zM503.7 46.1l2 3.5-4.1 0zM510.1 46.1l2 3.5-4.1 0zM491.1 26.1l2 3.5-4.1 0zM500.4 46.1l2 3.5-4.1 0zM504.4 26.1l2 3.5-4.1 0zM511.5 66.1l2 3.5-4.1 0zM509.7 26.1l2 3.5-4.1 0zM493.2 46.1l2 3.5-4.1 0zM492.9 66.1l2 3.5-4.1 0zM502 26.1l2 3.5-4.1 0zM501.9 26.1l2 3.5-4.1 0zM482.5 26.1l2 3.5-4.1 0zM481.5 46.1l2 3.5-4.1 0zM506.4 66.1l2 3.5-4.1 0zM484.7 26.1l2 3.5-4.1 0zM494.8 26.1l2 3.5-4.1 0zM491.2 46.1l2 3.5-4.1 0zM502.6 26.1l2 3.5-4.1 0zM502.6 66.1l2 3.5-4.1 0zM492.8 66.1l2 3.5-4.1 0z"/>
</g>
<rect x="413" y="4.7" width="130.4" height="106.8" fill="none" stroke="#4c4c4c" stroke-width="1.15"/>
<path d="M417.8 111.5v4.9M435.1 111.5v4.9M452.4 111.5v4.9M469.7 111.5v4.9M487 111.5v4.9M504.3 111.5v4.9M521.6 111.5v4.9M538.9 111.5v4.9M413 88.4h-4.9M413 68.4h-4.9M413 48.5h-4.9M413 28.5h-4.9" stroke="#4c4c4c" stroke-width="1.1" fill="none"/>
<g class="t">
<text x="418" y="129">−8</text>
<text x="435.3" y="129">−6</text>
<text x="452.6" y="129">−4</text>
<text x="469.9" y="129">−2</text>
<text x="487" y="129">0</text>
<text x="504.3" y="129">2</text>
<text x="521.6" y="129">4</text>
<text x="538.9" y="129">6</text>
<text x="401.5" y="91.1">0</text>
<text x="401.5" y="71.1">1</text>
<text x="401.5" y="51.2">2</text>
<text x="401.5" y="31.2">3</text>
</g>
<g transform="translate(472.5 141.8)"><text class="l" x="0" y="0">X</text><text class="s" x="7.9" y="3.3">1</text><text class="s" x="8.9" y="-4.9">c</text></g>
<g transform="translate(387.8 64.6) rotate(-90)"><text class="l" x="0" y="0">X</text><text class="s" x="7.9" y="3.3">1</text><text class="s" x="8.9" y="-4.9">n</text></g>
<g fill="none" stroke-linejoin="round" stroke-width="1.25">
<path stroke="#ff0000" d="M72.6 279.3l2.1-2.1 2.1 2.1-2.1 2.1zM74.2 277.9l2.1-2.1 2.1 2.1-2.1 2.1zM69.7 263.3l2.1-2.1 2.1 2.1-2.1 2.1zM79 280.9l2.1-2.1 2.1 2.1-2.1 2.1zM85.1 273.8l2.1-2.1 2.1 2.1-2.1 2.1zM79 271.2l2.1-2.1 2.1 2.1-2.1 2.1zM63.7 288.8l2.1-2.1 2.1 2.1-2.1 2.1zM65 284.6l2.1-2.1 2.1 2.1-2.1 2.1zM74.4 269.4l2.1-2.1 2.1 2.1-2.1 2.1zM84.3 289.1l2.1-2.1 2.1 2.1-2.1 2.1zM83.5 259.5l2.1-2.1 2.1 2.1-2.1 2.1zM95 271.5l2.1-2.1 2.1 2.1-2.1 2.1zM69.6 273.6l2.1-2.1 2.1 2.1-2.1 2.1zM69.2 273.2l2.1-2.1 2.1 2.1-2.1 2.1zM68.2 292.5l2.1-2.1 2.1 2.1-2.1 2.1zM80.7 277.7l2.1-2.1 2.1 2.1-2.1 2.1zM90 264.6l2.1-2.1 2.1 2.1-2.1 2.1zM77.2 285.4l2.1-2.1 2.1 2.1-2.1 2.1zM93.8 288.4l2.1-2.1 2.1 2.1-2.1 2.1zM87.8 260.1l2.1-2.1 2.1 2.1-2.1 2.1zM41.1 279.3l2.1-2.1 2.1 2.1-2.1 2.1zM65.7 272.2l2.1-2.1 2.1 2.1-2.1 2.1zM45.5 270.3l2.1-2.1 2.1 2.1-2.1 2.1zM69.8 268.5l2.1-2.1 2.1 2.1-2.1 2.1zM70.2 271.8l2.1-2.1 2.1 2.1-2.1 2.1zM76.4 276.6l2.1-2.1 2.1 2.1-2.1 2.1zM73.5 289l2.1-2.1 2.1 2.1-2.1 2.1zM69.8 275l2.1-2.1 2.1 2.1-2.1 2.1zM79.5 278.8l2.1-2.1 2.1 2.1-2.1 2.1zM72 263.9l2.1-2.1 2.1 2.1-2.1 2.1zM102.1 281.3l2.1-2.1 2.1 2.1-2.1 2.1zM82.7 286.1l2.1-2.1 2.1 2.1-2.1 2.1zM82.4 284.8l2.1-2.1 2.1 2.1-2.1 2.1zM55.3 288.1l2.1-2.1 2.1 2.1-2.1 2.1zM90.2 290l2.1-2.1 2.1 2.1-2.1 2.1zM76 258.1l2.1-2.1 2.1 2.1-2.1 2.1zM80.3 296.7l2.1-2.1 2.1 2.1-2.1 2.1zM104.5 276.3l2.1-2.1 2.1 2.1-2.1 2.1zM72.3 280.7l2.1-2.1 2.1 2.1-2.1 2.1zM81.8 280.6l2.1-2.1 2.1 2.1-2.1 2.1zM94.6 285.5l2.1-2.1 2.1 2.1-2.1 2.1zM80.9 280.1l2.1-2.1 2.1 2.1-2.1 2.1zM69.5 280.8l2.1-2.1 2.1 2.1-2.1 2.1zM53.8 285.6l2.1-2.1 2.1 2.1-2.1 2.1zM62.1 280.5l2.1-2.1 2.1 2.1-2.1 2.1zM99.3 274.2l2.1-2.1 2.1 2.1-2.1 2.1zM76.2 299.8l2.1-2.1 2.1 2.1-2.1 2.1zM59.9 274.7l2.1-2.1 2.1 2.1-2.1 2.1zM86 284.3l2.1-2.1 2.1 2.1-2.1 2.1zM70.8 271.5l2.1-2.1 2.1 2.1-2.1 2.1zM62.3 269.1l2.1-2.1 2.1 2.1-2.1 2.1zM53.1 271.5l2.1-2.1 2.1 2.1-2.1 2.1zM80.1 290.7l2.1-2.1 2.1 2.1-2.1 2.1zM82.8 288.6l2.1-2.1 2.1 2.1-2.1 2.1zM65.5 279l2.1-2.1 2.1 2.1-2.1 2.1zM62.7 282.7l2.1-2.1 2.1 2.1-2.1 2.1zM93.6 281.7l2.1-2.1 2.1 2.1-2.1 2.1zM66 287.3l2.1-2.1 2.1 2.1-2.1 2.1zM63.1 273.8l2.1-2.1 2.1 2.1-2.1 2.1zM77.2 274.9l2.1-2.1 2.1 2.1-2.1 2.1zM85.4 290.7l2.1-2.1 2.1 2.1-2.1 2.1zM85.4 291.6l2.1-2.1 2.1 2.1-2.1 2.1zM69.5 285l2.1-2.1 2.1 2.1-2.1 2.1zM87.9 267.6l2.1-2.1 2.1 2.1-2.1 2.1zM77.1 278.3l2.1-2.1 2.1 2.1-2.1 2.1zM85.8 290.1l2.1-2.1 2.1 2.1-2.1 2.1zM63.1 259.9l2.1-2.1 2.1 2.1-2.1 2.1zM70.5 271.6l2.1-2.1 2.1 2.1-2.1 2.1zM76.5 271.6l2.1-2.1 2.1 2.1-2.1 2.1zM68.7 270.5l2.1-2.1 2.1 2.1-2.1 2.1zM76.8 288.5l2.1-2.1 2.1 2.1-2.1 2.1zM82.3 281.2l2.1-2.1 2.1 2.1-2.1 2.1zM76.2 273.6l2.1-2.1 2.1 2.1-2.1 2.1zM58.1 295.8l2.1-2.1 2.1 2.1-2.1 2.1zM84 273l2.1-2.1 2.1 2.1-2.1 2.1zM77.6 289.5l2.1-2.1 2.1 2.1-2.1 2.1zM95.3 269.8l2.1-2.1 2.1 2.1-2.1 2.1zM80.2 295.8l2.1-2.1 2.1 2.1-2.1 2.1zM62.6 264.3l2.1-2.1 2.1 2.1-2.1 2.1zM77.1 271l2.1-2.1 2.1 2.1-2.1 2.1zM68.7 276.8l2.1-2.1 2.1 2.1-2.1 2.1zM68.9 274.9l2.1-2.1 2.1 2.1-2.1 2.1zM54.3 284.5l2.1-2.1 2.1 2.1-2.1 2.1zM84.3 269.9l2.1-2.1 2.1 2.1-2.1 2.1zM59.8 274.3l2.1-2.1 2.1 2.1-2.1 2.1zM86.9 282l2.1-2.1 2.1 2.1-2.1 2.1zM70.4 281.1l2.1-2.1 2.1 2.1-2.1 2.1z"/>
<path stroke="#ff0000" d="M83.8 286.8l2.1-2.1 2.1 2.1-2.1 2.1zM58.3 271.2l2.1-2.1 2.1 2.1-2.1 2.1zM69 286.6l2.1-2.1 2.1 2.1-2.1 2.1zM85.6 272.7l2.1-2.1 2.1 2.1-2.1 2.1zM63.3 292.1l2.1-2.1 2.1 2.1-2.1 2.1zM72.1 274.9l2.1-2.1 2.1 2.1-2.1 2.1zM69 285l2.1-2.1 2.1 2.1-2.1 2.1zM85 283.4l2.1-2.1 2.1 2.1-2.1 2.1zM94 286.6l2.1-2.1 2.1 2.1-2.1 2.1zM67.1 288.3l2.1-2.1 2.1 2.1-2.1 2.1zM82.9 276.9l2.1-2.1 2.1 2.1-2.1 2.1zM69.8 282.5l2.1-2.1 2.1 2.1-2.1 2.1zM71.2 281.3l2.1-2.1 2.1 2.1-2.1 2.1zM74.8 287.7l2.1-2.1 2.1 2.1-2.1 2.1zM76.9 271.2l2.1-2.1 2.1 2.1-2.1 2.1zM81.6 279.7l2.1-2.1 2.1 2.1-2.1 2.1zM100 262.1l2.1-2.1 2.1 2.1-2.1 2.1zM94.7 261.3l2.1-2.1 2.1 2.1-2.1 2.1zM87.3 296.8l2.1-2.1 2.1 2.1-2.1 2.1zM84.6 278.5l2.1-2.1 2.1 2.1-2.1 2.1zM56.5 267.8l2.1-2.1 2.1 2.1-2.1 2.1zM80.8 277.1l2.1-2.1 2.1 2.1-2.1 2.1zM78.9 283.5l2.1-2.1 2.1 2.1-2.1 2.1zM67.1 271.4l2.1-2.1 2.1 2.1-2.1 2.1zM68.2 283l2.1-2.1 2.1 2.1-2.1 2.1zM44.8 288.9l2.1-2.1 2.1 2.1-2.1 2.1zM71.9 289.1l2.1-2.1 2.1 2.1-2.1 2.1zM81.6 292.7l2.1-2.1 2.1 2.1-2.1 2.1zM63 274l2.1-2.1 2.1 2.1-2.1 2.1zM86.2 277.6l2.1-2.1 2.1 2.1-2.1 2.1zM57.2 275.8l2.1-2.1 2.1 2.1-2.1 2.1zM83.4 289.4l2.1-2.1 2.1 2.1-2.1 2.1zM64.4 280.9l2.1-2.1 2.1 2.1-2.1 2.1zM72.9 276.2l2.1-2.1 2.1 2.1-2.1 2.1zM63.3 285l2.1-2.1 2.1 2.1-2.1 2.1zM73.5 271.4l2.1-2.1 2.1 2.1-2.1 2.1zM67.2 261.9l2.1-2.1 2.1 2.1-2.1 2.1zM64 272l2.1-2.1 2.1 2.1-2.1 2.1zM57.4 287.1l2.1-2.1 2.1 2.1-2.1 2.1zM82.1 285.6l2.1-2.1 2.1 2.1-2.1 2.1z"/>
<path stroke="#00cd00" d="M99.5 244.5a1.5 1.5 0 1 0 3 0a1.5 1.5 0 1 0-3 0M95.5 223.9a1.5 1.5 0 1 0 3 0a1.5 1.5 0 1 0-3 0M123.3 246.9a1.5 1.5 0 1 0 3 0a1.5 1.5 0 1 0-3 0M117.7 235.3a1.5 1.5 0 1 0 3 0a1.5 1.5 0 1 0-3 0"/>
<path stroke="#0000ff" d="M140.3 227l2 3.5-4.1 0zM145.6 233.1l2 3.5-4.1 0zM123.6 245.5l2 3.5-4.1 0zM144.1 221.6l2 3.5-4.1 0zM133.7 234.9l2 3.5-4.1 0zM126.8 227.1l2 3.5-4.1 0zM130.1 220.1l2 3.5-4.1 0zM149 234.3l2 3.5-4.1 0zM126.8 245l2 3.5-4.1 0zM151.2 231.1l2 3.5-4.1 0zM128.6 237.4l2 3.5-4.1 0zM122.2 222.3l2 3.5-4.1 0zM134.4 232l2 3.5-4.1 0zM135.9 236.3l2 3.5-4.1 0zM133.9 221.7l2 3.5-4.1 0zM125.9 212.6l2 3.5-4.1 0zM142.5 228.7l2 3.5-4.1 0zM156.7 244.7l2 3.5-4.1 0zM130.2 239.2l2 3.5-4.1 0zM133.6 222.2l2 3.5-4.1 0zM112.5 226.5l2 3.5-4.1 0zM118.4 233.6l2 3.5-4.1 0zM123.3 227.9l2 3.5-4.1 0zM146.4 219.5l2 3.5-4.1 0zM111.2 237l2 3.5-4.1 0zM143.6 225.9l2 3.5-4.1 0zM129.4 230l2 3.5-4.1 0zM132.9 222.6l2 3.5-4.1 0zM144.7 232.2l2 3.5-4.1 0zM126.2 218.9l2 3.5-4.1 0zM131.4 236.1l2 3.5-4.1 0zM129.2 233.8l2 3.5-4.1 0zM147.4 221.5l2 3.5-4.1 0zM122 245l2 3.5-4.1 0zM142.7 219.7l2 3.5-4.1 0zM103.3 225.5l2 3.5-4.1 0zM128.8 228.3l2 3.5-4.1 0zM127.9 235.2l2 3.5-4.1 0zM131.9 226.6l2 3.5-4.1 0zM147.2 225.5l2 3.5-4.1 0zM134.9 209.1l2 3.5-4.1 0zM127.7 231.7l2 3.5-4.1 0zM114.1 240.3l2 3.5-4.1 0z"/>
<path stroke="#ff0000" d="M75.5 273.5l2.1-2.1 2.1 2.1-2.1 2.1zM56.6 281.3l2.1-2.1 2.1 2.1-2.1 2.1zM58.2 278.9l2.1-2.1 2.1 2.1-2.1 2.1zM99.6 274.6l2.1-2.1 2.1 2.1-2.1 2.1zM60.4 290.2l2.1-2.1 2.1 2.1-2.1 2.1zM75.8 272l2.1-2.1 2.1 2.1-2.1 2.1zM81 283.2l2.1-2.1 2.1 2.1-2.1 2.1zM64.5 286.2l2.1-2.1 2.1 2.1-2.1 2.1zM76 286.2l2.1-2.1 2.1 2.1-2.1 2.1zM68 286.3l2.1-2.1 2.1 2.1-2.1 2.1zM87.6 268.3l2.1-2.1 2.1 2.1-2.1 2.1zM108.9 277.4l2.1-2.1 2.1 2.1-2.1 2.1zM101.8 287.6l2.1-2.1 2.1 2.1-2.1 2.1zM61.3 269.9l2.1-2.1 2.1 2.1-2.1 2.1zM51.6 274.1l2.1-2.1 2.1 2.1-2.1 2.1zM93.6 280.6l2.1-2.1 2.1 2.1-2.1 2.1zM94.6 284.1l2.1-2.1 2.1 2.1-2.1 2.1zM67.5 282.6l2.1-2.1 2.1 2.1-2.1 2.1zM69.7 286.8l2.1-2.1 2.1 2.1-2.1 2.1zM88.6 272l2.1-2.1 2.1 2.1-2.1 2.1zM56.2 273.3l2.1-2.1 2.1 2.1-2.1 2.1zM67.1 283.3l2.1-2.1 2.1 2.1-2.1 2.1zM97.7 291.3l2.1-2.1 2.1 2.1-2.1 2.1zM70.4 275.9l2.1-2.1 2.1 2.1-2.1 2.1zM69.9 290.1l2.1-2.1 2.1 2.1-2.1 2.1zM89.5 258.9l2.1-2.1 2.1 2.1-2.1 2.1zM51.7 268l2.1-2.1 2.1 2.1-2.1 2.1zM98.7 284.1l2.1-2.1 2.1 2.1-2.1 2.1zM65.6 274l2.1-2.1 2.1 2.1-2.1 2.1z"/>
<path stroke="#00cd00" d="M110 236.2a1.5 1.5 0 1 0 3 0a1.5 1.5 0 1 0-3 0M107 245.4a1.5 1.5 0 1 0 3 0a1.5 1.5 0 1 0-3 0M93.6 233.3a1.5 1.5 0 1 0 3 0a1.5 1.5 0 1 0-3 0M101.2 259.6a1.5 1.5 0 1 0 3 0a1.5 1.5 0 1 0-3 0M89 249.9a1.5 1.5 0 1 0 3 0a1.5 1.5 0 1 0-3 0M100.1 247.3a1.5 1.5 0 1 0 3 0a1.5 1.5 0 1 0-3 0M104.4 253.3a1.5 1.5 0 1 0 3 0a1.5 1.5 0 1 0-3 0M115.8 235.3a1.5 1.5 0 1 0 3 0a1.5 1.5 0 1 0-3 0M138.9 257.1a1.5 1.5 0 1 0 3 0a1.5 1.5 0 1 0-3 0M101.5 240.6a1.5 1.5 0 1 0 3 0a1.5 1.5 0 1 0-3 0M120.2 249a1.5 1.5 0 1 0 3 0a1.5 1.5 0 1 0-3 0M97.9 252.7a1.5 1.5 0 1 0 3 0a1.5 1.5 0 1 0-3 0M101.9 252.8a1.5 1.5 0 1 0 3 0a1.5 1.5 0 1 0-3 0M103.8 265.8a1.5 1.5 0 1 0 3 0a1.5 1.5 0 1 0-3 0M91.8 249a1.5 1.5 0 1 0 3 0a1.5 1.5 0 1 0-3 0M121.1 235.8a1.5 1.5 0 1 0 3 0a1.5 1.5 0 1 0-3 0M104.5 243.2a1.5 1.5 0 1 0 3 0a1.5 1.5 0 1 0-3 0M105.8 273.5a1.5 1.5 0 1 0 3 0a1.5 1.5 0 1 0-3 0M89.8 253.9a1.5 1.5 0 1 0 3 0a1.5 1.5 0 1 0-3 0M105.7 245.4a1.5 1.5 0 1 0 3 0a1.5 1.5 0 1 0-3 0M105.3 228.7a1.5 1.5 0 1 0 3 0a1.5 1.5 0 1 0-3 0M121.9 236.6a1.5 1.5 0 1 0 3 0a1.5 1.5 0 1 0-3 0M103.9 243.6a1.5 1.5 0 1 0 3 0a1.5 1.5 0 1 0-3 0M95.5 243.6a1.5 1.5 0 1 0 3 0a1.5 1.5 0 1 0-3 0M98.6 244.8a1.5 1.5 0 1 0 3 0a1.5 1.5 0 1 0-3 0"/>
<path stroke="#0000ff" d="M148.2 234.1l2 3.5-4.1 0zM150 237.3l2 3.5-4.1 0zM128.4 241.3l2 3.5-4.1 0zM129.4 232.1l2 3.5-4.1 0zM153.3 233l2 3.5-4.1 0zM110.2 215.8l2 3.5-4.1 0zM135.2 251.8l2 3.5-4.1 0zM139.5 227l2 3.5-4.1 0zM135.4 232.1l2 3.5-4.1 0zM153.6 223.9l2 3.5-4.1 0zM137.8 225.5l2 3.5-4.1 0zM99.1 224.2l2 3.5-4.1 0zM140.6 225.9l2 3.5-4.1 0zM118 233l2 3.5-4.1 0zM133.7 228.4l2 3.5-4.1 0zM152.2 234.8l2 3.5-4.1 0zM118.2 228.6l2 3.5-4.1 0zM149.9 231.5l2 3.5-4.1 0zM111.1 234.6l2 3.5-4.1 0zM141.9 209.7l2 3.5-4.1 0zM126.5 217.6l2 3.5-4.1 0zM134.2 224.1l2 3.5-4.1 0zM126.7 234.4l2 3.5-4.1 0zM139.2 224.8l2 3.5-4.1 0zM140 226.1l2 3.5-4.1 0zM133 229.4l2 3.5-4.1 0zM137.3 234.4l2 3.5-4.1 0zM120.3 245.8l2 3.5-4.1 0zM142.9 242.9l2 3.5-4.1 0zM128.6 227.1l2 3.5-4.1 0zM130.6 230l2 3.5-4.1 0zM120 230.4l2 3.5-4.1 0zM140.5 239l2 3.5-4.1 0z"/>
<path stroke="#ff0000" d="M59.5 281.8l2.1-2.1 2.1 2.1-2.1 2.1zM61.5 294.2l2.1-2.1 2.1 2.1-2.1 2.1zM78.2 269.2l2.1-2.1 2.1 2.1-2.1 2.1zM76.2 275l2.1-2.1 2.1 2.1-2.1 2.1zM81.8 279.5l2.1-2.1 2.1 2.1-2.1 2.1zM84.2 281.9l2.1-2.1 2.1 2.1-2.1 2.1zM64.2 274.6l2.1-2.1 2.1 2.1-2.1 2.1zM75 270.7l2.1-2.1 2.1 2.1-2.1 2.1zM87.1 272.7l2.1-2.1 2.1 2.1-2.1 2.1zM82.9 282.5l2.1-2.1 2.1 2.1-2.1 2.1zM76.5 282.9l2.1-2.1 2.1 2.1-2.1 2.1zM66.6 272.9l2.1-2.1 2.1 2.1-2.1 2.1zM74.3 280.9l2.1-2.1 2.1 2.1-2.1 2.1zM78.2 298.3l2.1-2.1 2.1 2.1-2.1 2.1zM59 281.1l2.1-2.1 2.1 2.1-2.1 2.1zM64.4 279.7l2.1-2.1 2.1 2.1-2.1 2.1zM73.8 271.9l2.1-2.1 2.1 2.1-2.1 2.1zM77.5 276l2.1-2.1 2.1 2.1-2.1 2.1zM74.7 277.7l2.1-2.1 2.1 2.1-2.1 2.1zM97.2 277.3l2.1-2.1 2.1 2.1-2.1 2.1zM61.9 250.4l2.1-2.1 2.1 2.1-2.1 2.1zM72 285l2.1-2.1 2.1 2.1-2.1 2.1zM77 279l2.1-2.1 2.1 2.1-2.1 2.1zM58.6 265.4l2.1-2.1 2.1 2.1-2.1 2.1zM93 280.9l2.1-2.1 2.1 2.1-2.1 2.1zM60.5 281.6l2.1-2.1 2.1 2.1-2.1 2.1zM62.3 282.3l2.1-2.1 2.1 2.1-2.1 2.1zM74.6 275.9l2.1-2.1 2.1 2.1-2.1 2.1zM85.6 280.7l2.1-2.1 2.1 2.1-2.1 2.1zM73.9 268.1l2.1-2.1 2.1 2.1-2.1 2.1z"/>
<path stroke="#00cd00" d="M107.5 248.8a1.5 1.5 0 1 0 3 0a1.5 1.5 0 1 0-3 0M104.8 235.2a1.5 1.5 0 1 0 3 0a1.5 1.5 0 1 0-3 0M94 239.9a1.5 1.5 0 1 0 3 0a1.5 1.5 0 1 0-3 0M96.7 255.1a1.5 1.5 0 1 0 3 0a1.5 1.5 0 1 0-3 0M98.5 235.2a1.5 1.5 0 1 0 3 0a1.5 1.5 0 1 0-3 0M98.8 256.9a1.5 1.5 0 1 0 3 0a1.5 1.5 0 1 0-3 0M99.5 276.7a1.5 1.5 0 1 0 3 0a1.5 1.5 0 1 0-3 0M101.1 254.5a1.5 1.5 0 1 0 3 0a1.5 1.5 0 1 0-3 0M120.5 258.6a1.5 1.5 0 1 0 3 0a1.5 1.5 0 1 0-3 0M75.6 251.9a1.5 1.5 0 1 0 3 0a1.5 1.5 0 1 0-3 0M101.7 265.9a1.5 1.5 0 1 0 3 0a1.5 1.5 0 1 0-3 0M106.8 257.9a1.5 1.5 0 1 0 3 0a1.5 1.5 0 1 0-3 0M86.5 250.5a1.5 1.5 0 1 0 3 0a1.5 1.5 0 1 0-3 0M96 256.2a1.5 1.5 0 1 0 3 0a1.5 1.5 0 1 0-3 0M112.6 255.8a1.5 1.5 0 1 0 3 0a1.5 1.5 0 1 0-3 0M114.2 242.6a1.5 1.5 0 1 0 3 0a1.5 1.5 0 1 0-3 0M99.2 233.7a1.5 1.5 0 1 0 3 0a1.5 1.5 0 1 0-3 0M96.4 274.1a1.5 1.5 0 1 0 3 0a1.5 1.5 0 1 0-3 0M95.1 262.5a1.5 1.5 0 1 0 3 0a1.5 1.5 0 1 0-3 0M118.1 234.7a1.5 1.5 0 1 0 3 0a1.5 1.5 0 1 0-3 0M106.3 256.9a1.5 1.5 0 1 0 3 0a1.5 1.5 0 1 0-3 0M99.8 267.2a1.5 1.5 0 1 0 3 0a1.5 1.5 0 1 0-3 0M128.3 246.7a1.5 1.5 0 1 0 3 0a1.5 1.5 0 1 0-3 0M91.8 246.5a1.5 1.5 0 1 0 3 0a1.5 1.5 0 1 0-3 0M115.2 240.6a1.5 1.5 0 1 0 3 0a1.5 1.5 0 1 0-3 0M104.5 262.2a1.5 1.5 0 1 0 3 0a1.5 1.5 0 1 0-3 0M108.7 245.7a1.5 1.5 0 1 0 3 0a1.5 1.5 0 1 0-3 0M122.6 267.7a1.5 1.5 0 1 0 3 0a1.5 1.5 0 1 0-3 0M102.6 246.8a1.5 1.5 0 1 0 3 0a1.5 1.5 0 1 0-3 0M95.6 251.3a1.5 1.5 0 1 0 3 0a1.5 1.5 0 1 0-3 0M109.4 235.6a1.5 1.5 0 1 0 3 0a1.5 1.5 0 1 0-3 0M113 253.8a1.5 1.5 0 1 0 3 0a1.5 1.5 0 1 0-3 0M88 232.8a1.5 1.5 0 1 0 3 0a1.5 1.5 0 1 0-3 0M128.9 256.9a1.5 1.5 0 1 0 3 0a1.5 1.5 0 1 0-3 0M115.8 249.5a1.5 1.5 0 1 0 3 0a1.5 1.5 0 1 0-3 0M134.3 253.4a1.5 1.5 0 1 0 3 0a1.5 1.5 0 1 0-3 0"/>
<path stroke="#0000ff" d="M135.4 223.5l2 3.5-4.1 0zM135.9 240.8l2 3.5-4.1 0zM122.2 225.2l2 3.5-4.1 0zM145.2 221.1l2 3.5-4.1 0zM124.7 225.7l2 3.5-4.1 0zM124.2 219.7l2 3.5-4.1 0zM155.1 241.5l2 3.5-4.1 0zM129.4 234.9l2 3.5-4.1 0zM132.1 234.1l2 3.5-4.1 0zM117.8 234.2l2 3.5-4.1 0zM138.9 230.7l2 3.5-4.1 0zM120.4 231.1l2 3.5-4.1 0zM148.3 233l2 3.5-4.1 0zM133.1 221.2l2 3.5-4.1 0zM144.1 225.2l2 3.5-4.1 0zM124.2 241.9l2 3.5-4.1 0zM128.8 237l2 3.5-4.1 0zM132.9 228.4l2 3.5-4.1 0zM147.2 222.9l2 3.5-4.1 0zM107.7 233.9l2 3.5-4.1 0zM144.7 231.9l2 3.5-4.1 0z"/>
<path stroke="#ff0000" d="M64.9 270.3l2.1-2.1 2.1 2.1-2.1 2.1zM59.9 286l2.1-2.1 2.1 2.1-2.1 2.1zM73.3 288.5l2.1-2.1 2.1 2.1-2.1 2.1zM72.6 291.3l2.1-2.1 2.1 2.1-2.1 2.1zM49.8 273.4l2.1-2.1 2.1 2.1-2.1 2.1zM65.8 271.4l2.1-2.1 2.1 2.1-2.1 2.1zM75 282.9l2.1-2.1 2.1 2.1-2.1 2.1zM68.3 291.8l2.1-2.1 2.1 2.1-2.1 2.1zM68.1 279.8l2.1-2.1 2.1 2.1-2.1 2.1zM67.1 288l2.1-2.1 2.1 2.1-2.1 2.1zM84.2 271.4l2.1-2.1 2.1 2.1-2.1 2.1zM63.2 266.6l2.1-2.1 2.1 2.1-2.1 2.1zM82.3 286.8l2.1-2.1 2.1 2.1-2.1 2.1zM74.4 281.8l2.1-2.1 2.1 2.1-2.1 2.1zM70.8 294.6l2.1-2.1 2.1 2.1-2.1 2.1zM85.9 270.9l2.1-2.1 2.1 2.1-2.1 2.1zM84.8 282.7l2.1-2.1 2.1 2.1-2.1 2.1zM81.6 269.9l2.1-2.1 2.1 2.1-2.1 2.1zM69.9 265l2.1-2.1 2.1 2.1-2.1 2.1zM64.1 290.8l2.1-2.1 2.1 2.1-2.1 2.1zM94.4 285.8l2.1-2.1 2.1 2.1-2.1 2.1zM47.3 287.7l2.1-2.1 2.1 2.1-2.1 2.1zM77.9 287.9l2.1-2.1 2.1 2.1-2.1 2.1zM60.7 288.8l2.1-2.1 2.1 2.1-2.1 2.1zM65.5 276.5l2.1-2.1 2.1 2.1-2.1 2.1zM74 284l2.1-2.1 2.1 2.1-2.1 2.1zM60.8 292l2.1-2.1 2.1 2.1-2.1 2.1zM81.1 270.7l2.1-2.1 2.1 2.1-2.1 2.1z"/>
<path stroke="#00cd00" d="M93.6 264.6a1.5 1.5 0 1 0 3 0a1.5 1.5 0 1 0-3 0M93.5 250.5a1.5 1.5 0 1 0 3 0a1.5 1.5 0 1 0-3 0M99 250.1a1.5 1.5 0 1 0 3 0a1.5 1.5 0 1 0-3 0M94.4 258.4a1.5 1.5 0 1 0 3 0a1.5 1.5 0 1 0-3 0M106.4 270.2a1.5 1.5 0 1 0 3 0a1.5 1.5 0 1 0-3 0M118.8 239.3a1.5 1.5 0 1 0 3 0a1.5 1.5 0 1 0-3 0M103.7 254.9a1.5 1.5 0 1 0 3 0a1.5 1.5 0 1 0-3 0M116.6 256.8a1.5 1.5 0 1 0 3 0a1.5 1.5 0 1 0-3 0M107.9 246.7a1.5 1.5 0 1 0 3 0a1.5 1.5 0 1 0-3 0M106.8 238.2a1.5 1.5 0 1 0 3 0a1.5 1.5 0 1 0-3 0M101 267.5a1.5 1.5 0 1 0 3 0a1.5 1.5 0 1 0-3 0M106 237.8a1.5 1.5 0 1 0 3 0a1.5 1.5 0 1 0-3 0M97.6 230.7a1.5 1.5 0 1 0 3 0a1.5 1.5 0 1 0-3 0M103 258.3a1.5 1.5 0 1 0 3 0a1.5 1.5 0 1 0-3 0M112 270.7a1.5 1.5 0 1 0 3 0a1.5 1.5 0 1 0-3 0M113.3 269.5a1.5 1.5 0 1 0 3 0a1.5 1.5 0 1 0-3 0M82.7 265.9a1.5 1.5 0 1 0 3 0a1.5 1.5 0 1 0-3 0M89.8 258.2a1.5 1.5 0 1 0 3 0a1.5 1.5 0 1 0-3 0M97 255.4a1.5 1.5 0 1 0 3 0a1.5 1.5 0 1 0-3 0M93.7 251.7a1.5 1.5 0 1 0 3 0a1.5 1.5 0 1 0-3 0M89.4 244.3a1.5 1.5 0 1 0 3 0a1.5 1.5 0 1 0-3 0M110.7 256.9a1.5 1.5 0 1 0 3 0a1.5 1.5 0 1 0-3 0M106.7 261.1a1.5 1.5 0 1 0 3 0a1.5 1.5 0 1 0-3 0M99.4 231.3a1.5 1.5 0 1 0 3 0a1.5 1.5 0 1 0-3 0M100.5 246.1a1.5 1.5 0 1 0 3 0a1.5 1.5 0 1 0-3 0M94.4 251.6a1.5 1.5 0 1 0 3 0a1.5 1.5 0 1 0-3 0M93.8 263.8a1.5 1.5 0 1 0 3 0a1.5 1.5 0 1 0-3 0M117.8 258.1a1.5 1.5 0 1 0 3 0a1.5 1.5 0 1 0-3 0"/>
<path stroke="#0000ff" d="M137.5 225.1l2 3.5-4.1 0zM138.1 223.2l2 3.5-4.1 0zM122.4 217.6l2 3.5-4.1 0zM133.2 217.4l2 3.5-4.1 0zM156.2 225.9l2 3.5-4.1 0zM127.9 232.7l2 3.5-4.1 0zM128.8 233.3l2 3.5-4.1 0zM128.6 231.8l2 3.5-4.1 0zM139.1 244.9l2 3.5-4.1 0zM121.1 225.4l2 3.5-4.1 0zM145.2 224l2 3.5-4.1 0zM113.2 226.9l2 3.5-4.1 0zM123 215.5l2 3.5-4.1 0zM143.9 219.9l2 3.5-4.1 0zM134.4 237.3l2 3.5-4.1 0zM119.2 231.7l2 3.5-4.1 0zM146.3 223.2l2 3.5-4.1 0zM120.6 241.1l2 3.5-4.1 0zM138.2 234.7l2 3.5-4.1 0zM136.2 234.1l2 3.5-4.1 0zM113.2 197.7l2 3.5-4.1 0zM138.6 225l2 3.5-4.1 0zM113.5 225.5l2 3.5-4.1 0zM147.2 229.2l2 3.5-4.1 0zM132.3 234.8l2 3.5-4.1 0zM151.4 224.4l2 3.5-4.1 0zM151.4 239.7l2 3.5-4.1 0zM130 228.5l2 3.5-4.1 0zM122.3 227.7l2 3.5-4.1 0zM138.7 216.9l2 3.5-4.1 0zM143.9 229l2 3.5-4.1 0z"/>
<path stroke="#ff0000" d="M62 277.7l2.1-2.1 2.1 2.1-2.1 2.1zM83.5 273l2.1-2.1 2.1 2.1-2.1 2.1zM84.8 278.1l2.1-2.1 2.1 2.1-2.1 2.1zM68 268.6l2.1-2.1 2.1 2.1-2.1 2.1zM58.2 289.6l2.1-2.1 2.1 2.1-2.1 2.1zM80.6 272.9l2.1-2.1 2.1 2.1-2.1 2.1zM68.4 278.2l2.1-2.1 2.1 2.1-2.1 2.1zM88.7 282l2.1-2.1 2.1 2.1-2.1 2.1zM65.1 275.4l2.1-2.1 2.1 2.1-2.1 2.1zM69.6 256.3l2.1-2.1 2.1 2.1-2.1 2.1zM75.1 268.5l2.1-2.1 2.1 2.1-2.1 2.1zM82 274.1l2.1-2.1 2.1 2.1-2.1 2.1zM91.2 268.5l2.1-2.1 2.1 2.1-2.1 2.1zM77.8 271.2l2.1-2.1 2.1 2.1-2.1 2.1zM95.9 290.2l2.1-2.1 2.1 2.1-2.1 2.1zM86.8 280.9l2.1-2.1 2.1 2.1-2.1 2.1zM98.4 281.9l2.1-2.1 2.1 2.1-2.1 2.1zM91.1 289.9l2.1-2.1 2.1 2.1-2.1 2.1zM75.9 262.4l2.1-2.1 2.1 2.1-2.1 2.1zM85 273.1l2.1-2.1 2.1 2.1-2.1 2.1zM77.1 296.6l2.1-2.1 2.1 2.1-2.1 2.1zM106 272.6l2.1-2.1 2.1 2.1-2.1 2.1zM97.6 275.7l2.1-2.1 2.1 2.1-2.1 2.1zM79.7 285.6l2.1-2.1 2.1 2.1-2.1 2.1zM70 288.4l2.1-2.1 2.1 2.1-2.1 2.1zM72.2 282.2l2.1-2.1 2.1 2.1-2.1 2.1z"/>
<path stroke="#00cd00" d="M122.1 264.2a1.5 1.5 0 1 0 3 0a1.5 1.5 0 1 0-3 0M99.7 251.9a1.5 1.5 0 1 0 3 0a1.5 1.5 0 1 0-3 0M114.9 242.8a1.5 1.5 0 1 0 3 0a1.5 1.5 0 1 0-3 0M118.2 265.7a1.5 1.5 0 1 0 3 0a1.5 1.5 0 1 0-3 0M89.4 266.4a1.5 1.5 0 1 0 3 0a1.5 1.5 0 1 0-3 0M111.4 231.2a1.5 1.5 0 1 0 3 0a1.5 1.5 0 1 0-3 0M104.6 252.9a1.5 1.5 0 1 0 3 0a1.5 1.5 0 1 0-3 0M89.3 226.4a1.5 1.5 0 1 0 3 0a1.5 1.5 0 1 0-3 0M106 266.8a1.5 1.5 0 1 0 3 0a1.5 1.5 0 1 0-3 0M109.7 250.7a1.5 1.5 0 1 0 3 0a1.5 1.5 0 1 0-3 0M98.9 275.1a1.5 1.5 0 1 0 3 0a1.5 1.5 0 1 0-3 0M86.3 240a1.5 1.5 0 1 0 3 0a1.5 1.5 0 1 0-3 0M96.4 244.4a1.5 1.5 0 1 0 3 0a1.5 1.5 0 1 0-3 0M93.4 254.9a1.5 1.5 0 1 0 3 0a1.5 1.5 0 1 0-3 0M108.8 255a1.5 1.5 0 1 0 3 0a1.5 1.5 0 1 0-3 0M90.8 242.5a1.5 1.5 0 1 0 3 0a1.5 1.5 0 1 0-3 0M118.9 258.9a1.5 1.5 0 1 0 3 0a1.5 1.5 0 1 0-3 0M112.9 250.7a1.5 1.5 0 1 0 3 0a1.5 1.5 0 1 0-3 0M107.8 258.7a1.5 1.5 0 1 0 3 0a1.5 1.5 0 1 0-3 0M113 249.5a1.5 1.5 0 1 0 3 0a1.5 1.5 0 1 0-3 0M133.3 250.7a1.5 1.5 0 1 0 3 0a1.5 1.5 0 1 0-3 0M91.9 243.8a1.5 1.5 0 1 0 3 0a1.5 1.5 0 1 0-3 0"/>
<path stroke="#0000ff" d="M133.8 226.2l2 3.5-4.1 0zM124.3 244.1l2 3.5-4.1 0zM123.2 240.3l2 3.5-4.1 0zM141.1 247.5l2 3.5-4.1 0zM139 224.2l2 3.5-4.1 0zM140.5 234.1l2 3.5-4.1 0zM144.9 218.9l2 3.5-4.1 0zM143.8 238.7l2 3.5-4.1 0zM147.8 223.7l2 3.5-4.1 0zM132.2 251.9l2 3.5-4.1 0zM135.8 252.1l2 3.5-4.1 0zM119.9 241.3l2 3.5-4.1 0zM134.6 244.4l2 3.5-4.1 0zM121.8 224.5l2 3.5-4.1 0zM132.8 226.5l2 3.5-4.1 0zM135.3 241.9l2 3.5-4.1 0zM127.4 244.2l2 3.5-4.1 0zM139.1 241.2l2 3.5-4.1 0zM101.5 229.9l2 3.5-4.1 0zM125.5 222.2l2 3.5-4.1 0zM133.4 229.7l2 3.5-4.1 0zM152.3 230.2l2 3.5-4.1 0zM138.6 234.9l2 3.5-4.1 0zM140.8 237.4l2 3.5-4.1 0zM123.7 232.8l2 3.5-4.1 0zM113.3 225.5l2 3.5-4.1 0zM147.5 229.7l2 3.5-4.1 0zM131 234.5l2 3.5-4.1 0zM156.5 245.9l2 3.5-4.1 0zM137.7 233.7l2 3.5-4.1 0zM128.9 230.9l2 3.5-4.1 0zM127.6 240.2l2 3.5-4.1 0zM155.8 224.3l2 3.5-4.1 0zM129.4 221.8l2 3.5-4.1 0zM121.1 222.6l2 3.5-4.1 0zM118.9 214.9l2 3.5-4.1 0zM130.3 240.8l2 3.5-4.1 0zM130.3 227.7l2 3.5-4.1 0zM135.7 232.8l2 3.5-4.1 0z"/>
<path stroke="#ff0000" d="M81.3 282.4l2.1-2.1 2.1 2.1-2.1 2.1zM77.8 279.1l2.1-2.1 2.1 2.1-2.1 2.1zM56.7 292.9l2.1-2.1 2.1 2.1-2.1 2.1zM68.3 284.4l2.1-2.1 2.1 2.1-2.1 2.1zM79.4 266.1l2.1-2.1 2.1 2.1-2.1 2.1zM89.1 277l2.1-2.1 2.1 2.1-2.1 2.1zM104.4 271.9l2.1-2.1 2.1 2.1-2.1 2.1zM70 288l2.1-2.1 2.1 2.1-2.1 2.1zM71.3 259.7l2.1-2.1 2.1 2.1-2.1 2.1zM79.8 294.9l2.1-2.1 2.1 2.1-2.1 2.1zM63.5 272.6l2.1-2.1 2.1 2.1-2.1 2.1zM78.2 271.9l2.1-2.1 2.1 2.1-2.1 2.1zM61.8 272.8l2.1-2.1 2.1 2.1-2.1 2.1zM77.8 280.6l2.1-2.1 2.1 2.1-2.1 2.1zM81.7 265.3l2.1-2.1 2.1 2.1-2.1 2.1zM75 275.9l2.1-2.1 2.1 2.1-2.1 2.1zM64.5 285.4l2.1-2.1 2.1 2.1-2.1 2.1zM101.1 277.9l2.1-2.1 2.1 2.1-2.1 2.1zM84.9 268.8l2.1-2.1 2.1 2.1-2.1 2.1zM84.7 277.4l2.1-2.1 2.1 2.1-2.1 2.1zM81.5 283.4l2.1-2.1 2.1 2.1-2.1 2.1zM57.2 264.5l2.1-2.1 2.1 2.1-2.1 2.1zM78.9 288l2.1-2.1 2.1 2.1-2.1 2.1zM69.6 280.9l2.1-2.1 2.1 2.1-2.1 2.1zM67.1 275.2l2.1-2.1 2.1 2.1-2.1 2.1zM74 276.4l2.1-2.1 2.1 2.1-2.1 2.1zM58.3 270.2l2.1-2.1 2.1 2.1-2.1 2.1zM95.7 277.3l2.1-2.1 2.1 2.1-2.1 2.1zM64 288.6l2.1-2.1 2.1 2.1-2.1 2.1zM81.2 278.5l2.1-2.1 2.1 2.1-2.1 2.1z"/>
<path stroke="#00cd00" d="M102.3 238.5a1.5 1.5 0 1 0 3 0a1.5 1.5 0 1 0-3 0M95.5 244.3a1.5 1.5 0 1 0 3 0a1.5 1.5 0 1 0-3 0M109 225.3a1.5 1.5 0 1 0 3 0a1.5 1.5 0 1 0-3 0M111.2 260.6a1.5 1.5 0 1 0 3 0a1.5 1.5 0 1 0-3 0M107.6 247.3a1.5 1.5 0 1 0 3 0a1.5 1.5 0 1 0-3 0M90.1 244.5a1.5 1.5 0 1 0 3 0a1.5 1.5 0 1 0-3 0M117.1 244.8a1.5 1.5 0 1 0 3 0a1.5 1.5 0 1 0-3 0M89.8 261.9a1.5 1.5 0 1 0 3 0a1.5 1.5 0 1 0-3 0M103.8 253.9a1.5 1.5 0 1 0 3 0a1.5 1.5 0 1 0-3 0M96.6 233.5a1.5 1.5 0 1 0 3 0a1.5 1.5 0 1 0-3 0M107 241.1a1.5 1.5 0 1 0 3 0a1.5 1.5 0 1 0-3 0M104.1 244.3a1.5 1.5 0 1 0 3 0a1.5 1.5 0 1 0-3 0M95.3 253.3a1.5 1.5 0 1 0 3 0a1.5 1.5 0 1 0-3 0M101.7 247.3a1.5 1.5 0 1 0 3 0a1.5 1.5 0 1 0-3 0M100.7 258a1.5 1.5 0 1 0 3 0a1.5 1.5 0 1 0-3 0M91 257.6a1.5 1.5 0 1 0 3 0a1.5 1.5 0 1 0-3 0M91.6 236.7a1.5 1.5 0 1 0 3 0a1.5 1.5 0 1 0-3 0M111.4 260.5a1.5 1.5 0 1 0 3 0a1.5 1.5 0 1 0-3 0M109.8 252.7a1.5 1.5 0 1 0 3 0a1.5 1.5 0 1 0-3 0M90.6 249.3a1.5 1.5 0 1 0 3 0a1.5 1.5 0 1 0-3 0M121.7 254.9a1.5 1.5 0 1 0 3 0a1.5 1.5 0 1 0-3 0M95.1 231.9a1.5 1.5 0 1 0 3 0a1.5 1.5 0 1 0-3 0M80.2 264.8a1.5 1.5 0 1 0 3 0a1.5 1.5 0 1 0-3 0M104 258.4a1.5 1.5 0 1 0 3 0a1.5 1.5 0 1 0-3 0"/>
<path stroke="#0000ff" d="M124.2 227l2 3.5-4.1 0zM121.8 242.1l2 3.5-4.1 0zM158.5 229l2 3.5-4.1 0zM118.5 217.8l2 3.5-4.1 0zM125.4 226.3l2 3.5-4.1 0zM140.1 230l2 3.5-4.1 0zM137.4 239.6l2 3.5-4.1 0zM135.8 230.8l2 3.5-4.1 0zM154.8 224.8l2 3.5-4.1 0zM135.9 226.4l2 3.5-4.1 0zM142 223.3l2 3.5-4.1 0zM141.4 224.9l2 3.5-4.1 0zM124.9 222.6l2 3.5-4.1 0zM124.6 222l2 3.5-4.1 0zM133.5 229.3l2 3.5-4.1 0zM110.7 227.8l2 3.5-4.1 0zM134.6 236.4l2 3.5-4.1 0zM150.1 225.5l2 3.5-4.1 0zM131.7 224.3l2 3.5-4.1 0zM132.4 227.6l2 3.5-4.1 0zM124.5 230.9l2 3.5-4.1 0zM122 239.7l2 3.5-4.1 0zM136.2 213.6l2 3.5-4.1 0zM138 233.5l2 3.5-4.1 0zM140.5 226.9l2 3.5-4.1 0zM124.6 230.1l2 3.5-4.1 0zM132 233.2l2 3.5-4.1 0zM159.5 226.9l2 3.5-4.1 0zM132.7 208.3l2 3.5-4.1 0zM130.8 208.5l2 3.5-4.1 0zM140.9 227.4l2 3.5-4.1 0zM136.6 230.7l2 3.5-4.1 0zM142.5 213.4l2 3.5-4.1 0z"/>
<path stroke="#ff0000" d="M67.7 288.9l2.1-2.1 2.1 2.1-2.1 2.1zM76.7 263.3l2.1-2.1 2.1 2.1-2.1 2.1zM54.8 283.5l2.1-2.1 2.1 2.1-2.1 2.1zM70.2 273.1l2.1-2.1 2.1 2.1-2.1 2.1zM79.2 284.7l2.1-2.1 2.1 2.1-2.1 2.1zM89.5 283.7l2.1-2.1 2.1 2.1-2.1 2.1zM91.4 271.4l2.1-2.1 2.1 2.1-2.1 2.1zM70 270.5l2.1-2.1 2.1 2.1-2.1 2.1zM89.3 281.7l2.1-2.1 2.1 2.1-2.1 2.1zM95.2 281.3l2.1-2.1 2.1 2.1-2.1 2.1zM78.5 281.3l2.1-2.1 2.1 2.1-2.1 2.1zM81 273.2l2.1-2.1 2.1 2.1-2.1 2.1zM52 282.1l2.1-2.1 2.1 2.1-2.1 2.1zM48.3 280.4l2.1-2.1 2.1 2.1-2.1 2.1zM55.1 287.9l2.1-2.1 2.1 2.1-2.1 2.1zM72.9 276.2l2.1-2.1 2.1 2.1-2.1 2.1zM87.6 279.3l2.1-2.1 2.1 2.1-2.1 2.1zM74.8 290.6l2.1-2.1 2.1 2.1-2.1 2.1zM84.2 271.8l2.1-2.1 2.1 2.1-2.1 2.1zM80.5 268.6l2.1-2.1 2.1 2.1-2.1 2.1zM70.3 277.9l2.1-2.1 2.1 2.1-2.1 2.1zM84.7 265.3l2.1-2.1 2.1 2.1-2.1 2.1zM75.6 293.7l2.1-2.1 2.1 2.1-2.1 2.1zM68.7 288.3l2.1-2.1 2.1 2.1-2.1 2.1zM60.6 273.5l2.1-2.1 2.1 2.1-2.1 2.1zM89.6 293.5l2.1-2.1 2.1 2.1-2.1 2.1zM63.8 271.9l2.1-2.1 2.1 2.1-2.1 2.1zM74.8 267.1l2.1-2.1 2.1 2.1-2.1 2.1z"/>
<path stroke="#00cd00" d="M100.3 256.2a1.5 1.5 0 1 0 3 0a1.5 1.5 0 1 0-3 0M128.1 244a1.5 1.5 0 1 0 3 0a1.5 1.5 0 1 0-3 0M106.5 238.1a1.5 1.5 0 1 0 3 0a1.5 1.5 0 1 0-3 0M104.9 243.4a1.5 1.5 0 1 0 3 0a1.5 1.5 0 1 0-3 0M99.6 259.1a1.5 1.5 0 1 0 3 0a1.5 1.5 0 1 0-3 0M113.4 253.4a1.5 1.5 0 1 0 3 0a1.5 1.5 0 1 0-3 0M106.4 246.7a1.5 1.5 0 1 0 3 0a1.5 1.5 0 1 0-3 0M96.9 244.5a1.5 1.5 0 1 0 3 0a1.5 1.5 0 1 0-3 0M100.5 251.6a1.5 1.5 0 1 0 3 0a1.5 1.5 0 1 0-3 0M129.1 248.6a1.5 1.5 0 1 0 3 0a1.5 1.5 0 1 0-3 0M92.6 242.9a1.5 1.5 0 1 0 3 0a1.5 1.5 0 1 0-3 0M100.6 248.5a1.5 1.5 0 1 0 3 0a1.5 1.5 0 1 0-3 0M103 258.4a1.5 1.5 0 1 0 3 0a1.5 1.5 0 1 0-3 0M121.4 252.1a1.5 1.5 0 1 0 3 0a1.5 1.5 0 1 0-3 0M87.4 248.8a1.5 1.5 0 1 0 3 0a1.5 1.5 0 1 0-3 0M118.6 250.9a1.5 1.5 0 1 0 3 0a1.5 1.5 0 1 0-3 0M111.6 249.9a1.5 1.5 0 1 0 3 0a1.5 1.5 0 1 0-3 0M87.4 252a1.5 1.5 0 1 0 3 0a1.5 1.5 0 1 0-3 0M109.3 262a1.5 1.5 0 1 0 3 0a1.5 1.5 0 1 0-3 0M90.5 258.1a1.5 1.5 0 1 0 3 0a1.5 1.5 0 1 0-3 0M105 261.1a1.5 1.5 0 1 0 3 0a1.5 1.5 0 1 0-3 0"/>
<path stroke="#0000ff" d="M144.9 234.5l2 3.5-4.1 0zM145.5 244.2l2 3.5-4.1 0zM102.7 244.6l2 3.5-4.1 0zM128.5 234l2 3.5-4.1 0zM138.1 233.5l2 3.5-4.1 0zM151 234.3l2 3.5-4.1 0zM137.9 224.6l2 3.5-4.1 0zM143.8 230.6l2 3.5-4.1 0zM152.8 248.9l2 3.5-4.1 0zM116.6 226.1l2 3.5-4.1 0zM129.4 214.2l2 3.5-4.1 0zM141.2 223.6l2 3.5-4.1 0zM111 234.2l2 3.5-4.1 0zM124.2 228.8l2 3.5-4.1 0zM138.8 240.9l2 3.5-4.1 0zM150 249.9l2 3.5-4.1 0zM120.7 235.3l2 3.5-4.1 0zM129.5 238.4l2 3.5-4.1 0zM131 233.9l2 3.5-4.1 0zM125.3 249.1l2 3.5-4.1 0zM119.2 240.5l2 3.5-4.1 0zM156.8 223.4l2 3.5-4.1 0zM129.5 244.8l2 3.5-4.1 0zM137.8 237.8l2 3.5-4.1 0zM137.4 214.3l2 3.5-4.1 0zM129.2 232.5l2 3.5-4.1 0zM149.7 224.3l2 3.5-4.1 0zM119.4 238.5l2 3.5-4.1 0zM153.5 213.8l2 3.5-4.1 0zM131.7 219.8l2 3.5-4.1 0zM131.7 230.9l2 3.5-4.1 0zM117 239.8l2 3.5-4.1 0zM162.8 235.8l2 3.5-4.1 0zM124.1 230.1l2 3.5-4.1 0zM118.4 223.3l2 3.5-4.1 0zM149.6 210.8l2 3.5-4.1 0zM155.3 236.5l2 3.5-4.1 0z"/>
<path stroke="#ff0000" d="M80.6 284.7l2.1-2.1 2.1 2.1-2.1 2.1zM75.9 272.9l2.1-2.1 2.1 2.1-2.1 2.1zM101.5 276.2l2.1-2.1 2.1 2.1-2.1 2.1zM62.7 251.9l2.1-2.1 2.1 2.1-2.1 2.1zM86.1 268.8l2.1-2.1 2.1 2.1-2.1 2.1zM73.8 266.8l2.1-2.1 2.1 2.1-2.1 2.1zM63.4 277.9l2.1-2.1 2.1 2.1-2.1 2.1zM65 275l2.1-2.1 2.1 2.1-2.1 2.1zM76.2 275l2.1-2.1 2.1 2.1-2.1 2.1zM70.4 285.8l2.1-2.1 2.1 2.1-2.1 2.1zM75.2 283.2l2.1-2.1 2.1 2.1-2.1 2.1zM60.8 274.3l2.1-2.1 2.1 2.1-2.1 2.1zM58.4 261.8l2.1-2.1 2.1 2.1-2.1 2.1zM81 290.3l2.1-2.1 2.1 2.1-2.1 2.1zM62.8 282.4l2.1-2.1 2.1 2.1-2.1 2.1zM77.2 274.6l2.1-2.1 2.1 2.1-2.1 2.1zM72.3 282.4l2.1-2.1 2.1 2.1-2.1 2.1zM67.2 272.6l2.1-2.1 2.1 2.1-2.1 2.1zM64.7 294.3l2.1-2.1 2.1 2.1-2.1 2.1zM93.3 270.8l2.1-2.1 2.1 2.1-2.1 2.1zM74.8 256.2l2.1-2.1 2.1 2.1-2.1 2.1zM66.9 275.1l2.1-2.1 2.1 2.1-2.1 2.1zM65.5 276.1l2.1-2.1 2.1 2.1-2.1 2.1zM91.6 262.6l2.1-2.1 2.1 2.1-2.1 2.1zM80.8 291.7l2.1-2.1 2.1 2.1-2.1 2.1zM75.7 291.7l2.1-2.1 2.1 2.1-2.1 2.1zM81.4 260.8l2.1-2.1 2.1 2.1-2.1 2.1zM61.4 277.9l2.1-2.1 2.1 2.1-2.1 2.1zM98.7 286.6l2.1-2.1 2.1 2.1-2.1 2.1zM81.4 275.4l2.1-2.1 2.1 2.1-2.1 2.1zM68.4 270.5l2.1-2.1 2.1 2.1-2.1 2.1zM87.2 275.9l2.1-2.1 2.1 2.1-2.1 2.1zM66.1 280.1l2.1-2.1 2.1 2.1-2.1 2.1zM67.3 277.1l2.1-2.1 2.1 2.1-2.1 2.1zM80.4 287.9l2.1-2.1 2.1 2.1-2.1 2.1zM55.6 274.8l2.1-2.1 2.1 2.1-2.1 2.1z"/>
<path stroke="#00cd00" d="M103 264.8a1.5 1.5 0 1 0 3 0a1.5 1.5 0 1 0-3 0M86.2 257a1.5 1.5 0 1 0 3 0a1.5 1.5 0 1 0-3 0M112.4 232.2a1.5 1.5 0 1 0 3 0a1.5 1.5 0 1 0-3 0M105.7 254.7a1.5 1.5 0 1 0 3 0a1.5 1.5 0 1 0-3 0M103.5 257.3a1.5 1.5 0 1 0 3 0a1.5 1.5 0 1 0-3 0M99.6 246.7a1.5 1.5 0 1 0 3 0a1.5 1.5 0 1 0-3 0M103.5 235.8a1.5 1.5 0 1 0 3 0a1.5 1.5 0 1 0-3 0M87.5 228.3a1.5 1.5 0 1 0 3 0a1.5 1.5 0 1 0-3 0M95.5 253.5a1.5 1.5 0 1 0 3 0a1.5 1.5 0 1 0-3 0M102.3 260.1a1.5 1.5 0 1 0 3 0a1.5 1.5 0 1 0-3 0M117.1 268a1.5 1.5 0 1 0 3 0a1.5 1.5 0 1 0-3 0M116.3 244.7a1.5 1.5 0 1 0 3 0a1.5 1.5 0 1 0-3 0M105.1 258.6a1.5 1.5 0 1 0 3 0a1.5 1.5 0 1 0-3 0M99.5 249.4a1.5 1.5 0 1 0 3 0a1.5 1.5 0 1 0-3 0M88.8 241.8a1.5 1.5 0 1 0 3 0a1.5 1.5 0 1 0-3 0M106.5 270.4a1.5 1.5 0 1 0 3 0a1.5 1.5 0 1 0-3 0M117.7 252.2a1.5 1.5 0 1 0 3 0a1.5 1.5 0 1 0-3 0M107.5 259.7a1.5 1.5 0 1 0 3 0a1.5 1.5 0 1 0-3 0M102.3 238.9a1.5 1.5 0 1 0 3 0a1.5 1.5 0 1 0-3 0M116.3 237.2a1.5 1.5 0 1 0 3 0a1.5 1.5 0 1 0-3 0M144.9 254.7a1.5 1.5 0 1 0 3 0a1.5 1.5 0 1 0-3 0M111.2 257.6a1.5 1.5 0 1 0 3 0a1.5 1.5 0 1 0-3 0M99.1 251.2a1.5 1.5 0 1 0 3 0a1.5 1.5 0 1 0-3 0M99.3 253.3a1.5 1.5 0 1 0 3 0a1.5 1.5 0 1 0-3 0M123.1 233.6a1.5 1.5 0 1 0 3 0a1.5 1.5 0 1 0-3 0M93.1 248.1a1.5 1.5 0 1 0 3 0a1.5 1.5 0 1 0-3 0M98.6 242.1a1.5 1.5 0 1 0 3 0a1.5 1.5 0 1 0-3 0"/>
<path stroke="#0000ff" d="M112.2 227.7l2 3.5-4.1 0zM143.5 211.9l2 3.5-4.1 0zM125 228.3l2 3.5-4.1 0zM131.7 226.9l2 3.5-4.1 0zM122.4 213.4l2 3.5-4.1 0zM131.2 230.4l2 3.5-4.1 0zM128.4 232.9l2 3.5-4.1 0zM116.6 214.9l2 3.5-4.1 0zM155.2 242.4l2 3.5-4.1 0zM132.8 224.7l2 3.5-4.1 0zM140.3 221.5l2 3.5-4.1 0zM127.3 231.2l2 3.5-4.1 0zM146.3 233.5l2 3.5-4.1 0zM139.2 233.3l2 3.5-4.1 0zM131.5 226.1l2 3.5-4.1 0zM128.3 222.2l2 3.5-4.1 0zM137.5 221.1l2 3.5-4.1 0zM123.3 231.9l2 3.5-4.1 0zM125.1 235.7l2 3.5-4.1 0zM135.7 228.6l2 3.5-4.1 0zM137.7 248l2 3.5-4.1 0zM137.7 229l2 3.5-4.1 0zM149.8 231.5l2 3.5-4.1 0z"/>
<path stroke="#ff0000" d="M67.8 289l2.1-2.1 2.1 2.1-2.1 2.1zM50.7 278.9l2.1-2.1 2.1 2.1-2.1 2.1zM85.2 260.7l2.1-2.1 2.1 2.1-2.1 2.1zM85.9 285.7l2.1-2.1 2.1 2.1-2.1 2.1zM71.4 263.6l2.1-2.1 2.1 2.1-2.1 2.1zM70.1 267.7l2.1-2.1 2.1 2.1-2.1 2.1zM50.5 288l2.1-2.1 2.1 2.1-2.1 2.1zM59.5 277.6l2.1-2.1 2.1 2.1-2.1 2.1z"/>
<path stroke="#00cd00" d="M93.7 262.8a1.5 1.5 0 1 0 3 0a1.5 1.5 0 1 0-3 0M104.4 264.6a1.5 1.5 0 1 0 3 0a1.5 1.5 0 1 0-3 0M73.4 251.8a1.5 1.5 0 1 0 3 0a1.5 1.5 0 1 0-3 0M109.1 253.1a1.5 1.5 0 1 0 3 0a1.5 1.5 0 1 0-3 0M105.4 237.5a1.5 1.5 0 1 0 3 0a1.5 1.5 0 1 0-3 0M100.6 265.8a1.5 1.5 0 1 0 3 0a1.5 1.5 0 1 0-3 0M99.9 251.3a1.5 1.5 0 1 0 3 0a1.5 1.5 0 1 0-3 0M92.5 249.4a1.5 1.5 0 1 0 3 0a1.5 1.5 0 1 0-3 0M107 236.1a1.5 1.5 0 1 0 3 0a1.5 1.5 0 1 0-3 0M93.4 238.7a1.5 1.5 0 1 0 3 0a1.5 1.5 0 1 0-3 0M103.7 260.2a1.5 1.5 0 1 0 3 0a1.5 1.5 0 1 0-3 0M109.1 255.1a1.5 1.5 0 1 0 3 0a1.5 1.5 0 1 0-3 0M102.5 250.3a1.5 1.5 0 1 0 3 0a1.5 1.5 0 1 0-3 0M118.1 252.7a1.5 1.5 0 1 0 3 0a1.5 1.5 0 1 0-3 0M97.7 243.3a1.5 1.5 0 1 0 3 0a1.5 1.5 0 1 0-3 0M86.3 246a1.5 1.5 0 1 0 3 0a1.5 1.5 0 1 0-3 0M124.5 245.4a1.5 1.5 0 1 0 3 0a1.5 1.5 0 1 0-3 0M122.2 245.4a1.5 1.5 0 1 0 3 0a1.5 1.5 0 1 0-3 0M99.5 256.6a1.5 1.5 0 1 0 3 0a1.5 1.5 0 1 0-3 0M106.5 246.5a1.5 1.5 0 1 0 3 0a1.5 1.5 0 1 0-3 0M93 260.6a1.5 1.5 0 1 0 3 0a1.5 1.5 0 1 0-3 0M117.8 239.4a1.5 1.5 0 1 0 3 0a1.5 1.5 0 1 0-3 0M110.8 246.5a1.5 1.5 0 1 0 3 0a1.5 1.5 0 1 0-3 0M113.5 259.7a1.5 1.5 0 1 0 3 0a1.5 1.5 0 1 0-3 0M117.2 239.2a1.5 1.5 0 1 0 3 0a1.5 1.5 0 1 0-3 0M97.3 254.6a1.5 1.5 0 1 0 3 0a1.5 1.5 0 1 0-3 0M99.9 248.2a1.5 1.5 0 1 0 3 0a1.5 1.5 0 1 0-3 0M87.9 260.3a1.5 1.5 0 1 0 3 0a1.5 1.5 0 1 0-3 0M105.5 245.2a1.5 1.5 0 1 0 3 0a1.5 1.5 0 1 0-3 0M105.7 236.3a1.5 1.5 0 1 0 3 0a1.5 1.5 0 1 0-3 0M104.6 228.7a1.5 1.5 0 1 0 3 0a1.5 1.5 0 1 0-3 0M94.1 246.9a1.5 1.5 0 1 0 3 0a1.5 1.5 0 1 0-3 0M101.2 262.3a1.5 1.5 0 1 0 3 0a1.5 1.5 0 1 0-3 0M103.4 246.3a1.5 1.5 0 1 0 3 0a1.5 1.5 0 1 0-3 0M117.4 250.3a1.5 1.5 0 1 0 3 0a1.5 1.5 0 1 0-3 0M95.9 249.8a1.5 1.5 0 1 0 3 0a1.5 1.5 0 1 0-3 0M87.6 258.6a1.5 1.5 0 1 0 3 0a1.5 1.5 0 1 0-3 0M83.9 238.7a1.5 1.5 0 1 0 3 0a1.5 1.5 0 1 0-3 0M127.4 250.5a1.5 1.5 0 1 0 3 0a1.5 1.5 0 1 0-3 0M116.9 235a1.5 1.5 0 1 0 3 0a1.5 1.5 0 1 0-3 0M88.7 243a1.5 1.5 0 1 0 3 0a1.5 1.5 0 1 0-3 0M105.5 268.5a1.5 1.5 0 1 0 3 0a1.5 1.5 0 1 0-3 0M108.5 251a1.5 1.5 0 1 0 3 0a1.5 1.5 0 1 0-3 0M114.9 255.6a1.5 1.5 0 1 0 3 0a1.5 1.5 0 1 0-3 0"/>
<path stroke="#0000ff" d="M133.3 219.8l2 3.5-4.1 0zM145.6 225.6l2 3.5-4.1 0zM135.6 239.6l2 3.5-4.1 0zM133.6 234.9l2 3.5-4.1 0zM122.4 229.2l2 3.5-4.1 0zM136.9 217.7l2 3.5-4.1 0zM122.1 217.1l2 3.5-4.1 0zM131 210l2 3.5-4.1 0zM143.9 226.7l2 3.5-4.1 0zM133 216.8l2 3.5-4.1 0zM107.6 220.8l2 3.5-4.1 0zM114.9 224.5l2 3.5-4.1 0zM154.2 235.8l2 3.5-4.1 0zM132.6 223.9l2 3.5-4.1 0zM118.4 228.8l2 3.5-4.1 0zM128.9 227.5l2 3.5-4.1 0zM148.3 219.5l2 3.5-4.1 0zM134.9 240l2 3.5-4.1 0zM124.7 234.8l2 3.5-4.1 0zM138.5 226.5l2 3.5-4.1 0zM142.1 227.3l2 3.5-4.1 0zM136.3 225.8l2 3.5-4.1 0zM150.5 225.2l2 3.5-4.1 0zM142 240.4l2 3.5-4.1 0zM134.4 239.2l2 3.5-4.1 0zM142.7 245.7l2 3.5-4.1 0zM145.8 231.3l2 3.5-4.1 0zM137.9 243.5l2 3.5-4.1 0zM129.7 227.4l2 3.5-4.1 0zM127.6 232.8l2 3.5-4.1 0zM136.3 222.9l2 3.5-4.1 0zM149.9 226.6l2 3.5-4.1 0zM137.6 233.3l2 3.5-4.1 0zM155.3 244.4l2 3.5-4.1 0z"/>
<path stroke="#00cd00" d="M89 245.3a1.5 1.5 0 1 0 3 0a1.5 1.5 0 1 0-3 0M83.3 248.5a1.5 1.5 0 1 0 3 0a1.5 1.5 0 1 0-3 0M80 249.9a1.5 1.5 0 1 0 3 0a1.5 1.5 0 1 0-3 0M97.2 246.2a1.5 1.5 0 1 0 3 0a1.5 1.5 0 1 0-3 0M108.3 255.2a1.5 1.5 0 1 0 3 0a1.5 1.5 0 1 0-3 0M88.7 250.8a1.5 1.5 0 1 0 3 0a1.5 1.5 0 1 0-3 0M74.1 258.6a1.5 1.5 0 1 0 3 0a1.5 1.5 0 1 0-3 0M78.2 248.3a1.5 1.5 0 1 0 3 0a1.5 1.5 0 1 0-3 0M100.1 257.6a1.5 1.5 0 1 0 3 0a1.5 1.5 0 1 0-3 0M112.3 251.2a1.5 1.5 0 1 0 3 0a1.5 1.5 0 1 0-3 0M98.7 254.7a1.5 1.5 0 1 0 3 0a1.5 1.5 0 1 0-3 0M108 255.9a1.5 1.5 0 1 0 3 0a1.5 1.5 0 1 0-3 0M99 260.4a1.5 1.5 0 1 0 3 0a1.5 1.5 0 1 0-3 0M112.5 247.1a1.5 1.5 0 1 0 3 0a1.5 1.5 0 1 0-3 0M99.4 256.7a1.5 1.5 0 1 0 3 0a1.5 1.5 0 1 0-3 0M103.6 256.8a1.5 1.5 0 1 0 3 0a1.5 1.5 0 1 0-3 0M89.3 232.8a1.5 1.5 0 1 0 3 0a1.5 1.5 0 1 0-3 0M114.9 238.9a1.5 1.5 0 1 0 3 0a1.5 1.5 0 1 0-3 0M95.7 237.4a1.5 1.5 0 1 0 3 0a1.5 1.5 0 1 0-3 0M110.7 250.1a1.5 1.5 0 1 0 3 0a1.5 1.5 0 1 0-3 0M112.2 257.1a1.5 1.5 0 1 0 3 0a1.5 1.5 0 1 0-3 0M103.6 242.5a1.5 1.5 0 1 0 3 0a1.5 1.5 0 1 0-3 0M118.1 256.9a1.5 1.5 0 1 0 3 0a1.5 1.5 0 1 0-3 0M122.4 259.8a1.5 1.5 0 1 0 3 0a1.5 1.5 0 1 0-3 0M106.6 249.1a1.5 1.5 0 1 0 3 0a1.5 1.5 0 1 0-3 0M94.1 258.4a1.5 1.5 0 1 0 3 0a1.5 1.5 0 1 0-3 0M121.3 252.8a1.5 1.5 0 1 0 3 0a1.5 1.5 0 1 0-3 0M104.6 246.4a1.5 1.5 0 1 0 3 0a1.5 1.5 0 1 0-3 0M110.7 243.8a1.5 1.5 0 1 0 3 0a1.5 1.5 0 1 0-3 0M90.6 275.7a1.5 1.5 0 1 0 3 0a1.5 1.5 0 1 0-3 0M105.8 252.4a1.5 1.5 0 1 0 3 0a1.5 1.5 0 1 0-3 0M93.7 244.9a1.5 1.5 0 1 0 3 0a1.5 1.5 0 1 0-3 0M107.5 259.3a1.5 1.5 0 1 0 3 0a1.5 1.5 0 1 0-3 0M84.5 237a1.5 1.5 0 1 0 3 0a1.5 1.5 0 1 0-3 0M123.3 236.6a1.5 1.5 0 1 0 3 0a1.5 1.5 0 1 0-3 0M89.1 256.3a1.5 1.5 0 1 0 3 0a1.5 1.5 0 1 0-3 0M113 256.1a1.5 1.5 0 1 0 3 0a1.5 1.5 0 1 0-3 0M102.4 233.1a1.5 1.5 0 1 0 3 0a1.5 1.5 0 1 0-3 0M102.1 259.5a1.5 1.5 0 1 0 3 0a1.5 1.5 0 1 0-3 0M99.2 259a1.5 1.5 0 1 0 3 0a1.5 1.5 0 1 0-3 0M102.3 250.3a1.5 1.5 0 1 0 3 0a1.5 1.5 0 1 0-3 0M105 242.3a1.5 1.5 0 1 0 3 0a1.5 1.5 0 1 0-3 0M93.5 253.2a1.5 1.5 0 1 0 3 0a1.5 1.5 0 1 0-3 0M97.6 250.5a1.5 1.5 0 1 0 3 0a1.5 1.5 0 1 0-3 0M97.7 266.6a1.5 1.5 0 1 0 3 0a1.5 1.5 0 1 0-3 0"/>
<path stroke="#0000ff" d="M119.5 210.3l2 3.5-4.1 0zM137.4 229.1l2 3.5-4.1 0zM153.8 225.6l2 3.5-4.1 0zM129 212.5l2 3.5-4.1 0zM150.4 237l2 3.5-4.1 0zM136.4 219.9l2 3.5-4.1 0zM145.7 238l2 3.5-4.1 0zM119.5 236.3l2 3.5-4.1 0zM114.7 233.1l2 3.5-4.1 0zM163.4 233.9l2 3.5-4.1 0zM154.4 231.1l2 3.5-4.1 0zM134.4 217.7l2 3.5-4.1 0zM149 226.1l2 3.5-4.1 0zM122.6 212.5l2 3.5-4.1 0zM155.9 214.4l2 3.5-4.1 0zM118.7 242.9l2 3.5-4.1 0zM140 223.5l2 3.5-4.1 0zM158.3 221.3l2 3.5-4.1 0zM142.3 224.5l2 3.5-4.1 0zM133.2 228.5l2 3.5-4.1 0zM131.8 243.6l2 3.5-4.1 0zM115.3 236.8l2 3.5-4.1 0zM130.1 240.5l2 3.5-4.1 0zM129.6 224.5l2 3.5-4.1 0zM156 227.9l2 3.5-4.1 0zM162.6 233.9l2 3.5-4.1 0zM145.9 231.7l2 3.5-4.1 0zM142.6 242.4l2 3.5-4.1 0zM121.2 221.9l2 3.5-4.1 0zM133.5 230.5l2 3.5-4.1 0zM118.9 230.9l2 3.5-4.1 0zM114.6 237.3l2 3.5-4.1 0zM124.7 213.4l2 3.5-4.1 0zM130.8 232.4l2 3.5-4.1 0zM130.5 234.5l2 3.5-4.1 0zM120.8 239l2 3.5-4.1 0zM140.9 231.4l2 3.5-4.1 0zM104.2 236.1l2 3.5-4.1 0zM132.8 230.9l2 3.5-4.1 0zM135.6 245.3l2 3.5-4.1 0zM141.3 234.7l2 3.5-4.1 0z"/>
<path stroke="#00cd00" d="M90.8 264.9a1.5 1.5 0 1 0 3 0a1.5 1.5 0 1 0-3 0M109.3 261.9a1.5 1.5 0 1 0 3 0a1.5 1.5 0 1 0-3 0M111.8 250.8a1.5 1.5 0 1 0 3 0a1.5 1.5 0 1 0-3 0M112.5 255.3a1.5 1.5 0 1 0 3 0a1.5 1.5 0 1 0-3 0M122.1 228.9a1.5 1.5 0 1 0 3 0a1.5 1.5 0 1 0-3 0M123.3 245a1.5 1.5 0 1 0 3 0a1.5 1.5 0 1 0-3 0M93.5 269.3a1.5 1.5 0 1 0 3 0a1.5 1.5 0 1 0-3 0M80.1 234.5a1.5 1.5 0 1 0 3 0a1.5 1.5 0 1 0-3 0M88.1 248.8a1.5 1.5 0 1 0 3 0a1.5 1.5 0 1 0-3 0M95.2 246.6a1.5 1.5 0 1 0 3 0a1.5 1.5 0 1 0-3 0M108.5 247.8a1.5 1.5 0 1 0 3 0a1.5 1.5 0 1 0-3 0M112.3 258a1.5 1.5 0 1 0 3 0a1.5 1.5 0 1 0-3 0M96 250.7a1.5 1.5 0 1 0 3 0a1.5 1.5 0 1 0-3 0M102.2 256.6a1.5 1.5 0 1 0 3 0a1.5 1.5 0 1 0-3 0M93.3 266.3a1.5 1.5 0 1 0 3 0a1.5 1.5 0 1 0-3 0M89.6 245.6a1.5 1.5 0 1 0 3 0a1.5 1.5 0 1 0-3 0M100.5 251.3a1.5 1.5 0 1 0 3 0a1.5 1.5 0 1 0-3 0M89.3 257.5a1.5 1.5 0 1 0 3 0a1.5 1.5 0 1 0-3 0M97.7 261.8a1.5 1.5 0 1 0 3 0a1.5 1.5 0 1 0-3 0M100.4 263.1a1.5 1.5 0 1 0 3 0a1.5 1.5 0 1 0-3 0M125.9 268a1.5 1.5 0 1 0 3 0a1.5 1.5 0 1 0-3 0M120.9 246.2a1.5 1.5 0 1 0 3 0a1.5 1.5 0 1 0-3 0M114.2 243.3a1.5 1.5 0 1 0 3 0a1.5 1.5 0 1 0-3 0M108.2 262.6a1.5 1.5 0 1 0 3 0a1.5 1.5 0 1 0-3 0M83.7 249.6a1.5 1.5 0 1 0 3 0a1.5 1.5 0 1 0-3 0M92 261.5a1.5 1.5 0 1 0 3 0a1.5 1.5 0 1 0-3 0M113.5 256.3a1.5 1.5 0 1 0 3 0a1.5 1.5 0 1 0-3 0M101.5 259.1a1.5 1.5 0 1 0 3 0a1.5 1.5 0 1 0-3 0M91.8 249.7a1.5 1.5 0 1 0 3 0a1.5 1.5 0 1 0-3 0M99.9 266.2a1.5 1.5 0 1 0 3 0a1.5 1.5 0 1 0-3 0M93.2 240.9a1.5 1.5 0 1 0 3 0a1.5 1.5 0 1 0-3 0M97.3 274.7a1.5 1.5 0 1 0 3 0a1.5 1.5 0 1 0-3 0M100.8 254.6a1.5 1.5 0 1 0 3 0a1.5 1.5 0 1 0-3 0M118.1 238.4a1.5 1.5 0 1 0 3 0a1.5 1.5 0 1 0-3 0M117.1 253.2a1.5 1.5 0 1 0 3 0a1.5 1.5 0 1 0-3 0M93.5 257.4a1.5 1.5 0 1 0 3 0a1.5 1.5 0 1 0-3 0M87.4 237.2a1.5 1.5 0 1 0 3 0a1.5 1.5 0 1 0-3 0M88.4 263.4a1.5 1.5 0 1 0 3 0a1.5 1.5 0 1 0-3 0M123.4 253.5a1.5 1.5 0 1 0 3 0a1.5 1.5 0 1 0-3 0M99.8 238.4a1.5 1.5 0 1 0 3 0a1.5 1.5 0 1 0-3 0M101.5 247a1.5 1.5 0 1 0 3 0a1.5 1.5 0 1 0-3 0M86.7 247.9a1.5 1.5 0 1 0 3 0a1.5 1.5 0 1 0-3 0M76 253.6a1.5 1.5 0 1 0 3 0a1.5 1.5 0 1 0-3 0M134.7 244a1.5 1.5 0 1 0 3 0a1.5 1.5 0 1 0-3 0M101.5 257.3a1.5 1.5 0 1 0 3 0a1.5 1.5 0 1 0-3 0M97.6 251.8a1.5 1.5 0 1 0 3 0a1.5 1.5 0 1 0-3 0M117.9 252.3a1.5 1.5 0 1 0 3 0a1.5 1.5 0 1 0-3 0M92.6 246a1.5 1.5 0 1 0 3 0a1.5 1.5 0 1 0-3 0M114.9 251.6a1.5 1.5 0 1 0 3 0a1.5 1.5 0 1 0-3 0M104.5 243.4a1.5 1.5 0 1 0 3 0a1.5 1.5 0 1 0-3 0M98.2 261a1.5 1.5 0 1 0 3 0a1.5 1.5 0 1 0-3 0M84.7 247.3a1.5 1.5 0 1 0 3 0a1.5 1.5 0 1 0-3 0M116.8 256a1.5 1.5 0 1 0 3 0a1.5 1.5 0 1 0-3 0M81.6 259.8a1.5 1.5 0 1 0 3 0a1.5 1.5 0 1 0-3 0M91 239.5a1.5 1.5 0 1 0 3 0a1.5 1.5 0 1 0-3 0M121.9 273.2a1.5 1.5 0 1 0 3 0a1.5 1.5 0 1 0-3 0M84.8 235.2a1.5 1.5 0 1 0 3 0a1.5 1.5 0 1 0-3 0M95.3 250a1.5 1.5 0 1 0 3 0a1.5 1.5 0 1 0-3 0M98.6 255.8a1.5 1.5 0 1 0 3 0a1.5 1.5 0 1 0-3 0M112 261.6a1.5 1.5 0 1 0 3 0a1.5 1.5 0 1 0-3 0M84.3 251a1.5 1.5 0 1 0 3 0a1.5 1.5 0 1 0-3 0M85.7 246.5a1.5 1.5 0 1 0 3 0a1.5 1.5 0 1 0-3 0M115.4 243a1.5 1.5 0 1 0 3 0a1.5 1.5 0 1 0-3 0M98.6 260.3a1.5 1.5 0 1 0 3 0a1.5 1.5 0 1 0-3 0M104.9 244.2a1.5 1.5 0 1 0 3 0a1.5 1.5 0 1 0-3 0M101.1 263.6a1.5 1.5 0 1 0 3 0a1.5 1.5 0 1 0-3 0"/>
<path stroke="#0000ff" d="M121.2 235.7l2 3.5-4.1 0zM152.7 219.5l2 3.5-4.1 0zM141.2 226.2l2 3.5-4.1 0zM130.4 235.3l2 3.5-4.1 0zM142.1 239l2 3.5-4.1 0zM128 230.4l2 3.5-4.1 0zM129.2 220.4l2 3.5-4.1 0zM134.4 233.6l2 3.5-4.1 0zM134.7 252.4l2 3.5-4.1 0zM146.1 234.1l2 3.5-4.1 0zM137.1 230.9l2 3.5-4.1 0zM126.1 237.4l2 3.5-4.1 0zM131 211.9l2 3.5-4.1 0zM143 213.7l2 3.5-4.1 0zM128.7 221.4l2 3.5-4.1 0zM148.4 232.5l2 3.5-4.1 0zM129.3 232.1l2 3.5-4.1 0zM135.8 233.1l2 3.5-4.1 0zM102 225.1l2 3.5-4.1 0zM156.5 218.6l2 3.5-4.1 0z"/>
</g>
<rect x="37.5" y="196.5" width="130.7" height="107.1" fill="none" stroke="#4c4c4c" stroke-width="1.15"/>
<path d="M45.6 303.6v4.9M69.6 303.6v4.9M93.6 303.6v4.9M117.6 303.6v4.9M141.6 303.6v4.9M165.6 303.6v4.9M37.5 298.3h-4.9M37.5 279.1h-4.9M37.5 260h-4.9M37.5 240.9h-4.9M37.5 221.7h-4.9M37.5 202.6h-4.9" stroke="#4c4c4c" stroke-width="1.1" fill="none"/>
<g class="t">
<text x="45.8" y="320.8">−6</text>
<text x="69.8" y="320.8">−4</text>
<text x="93.8" y="320.8">−2</text>
<text x="117.6" y="320.8">0</text>
<text x="141.6" y="320.8">2</text>
<text x="165.6" y="320.8">4</text>
<text transform="translate(26.5 298.3) rotate(-90)">−4</text>
<text transform="translate(26.5 279.1) rotate(-90)">−2</text>
<text transform="translate(26.5 260) rotate(-90)">0</text>
<text transform="translate(26.5 240.9) rotate(-90)">2</text>
<text transform="translate(26.5 221.7) rotate(-90)">4</text>
<text transform="translate(26.5 202.6) rotate(-90)">6</text>
</g>
<g transform="translate(96.8 333.6)"><text class="l" x="0" y="0">X</text><text class="s" x="7.9" y="3.3">1</text><text class="s" x="8.9" y="-4.9">c</text></g>
<g transform="translate(11.9 256.9) rotate(-90)"><text class="l" x="0" y="0">X</text><text class="s" x="7.9" y="3.3">2</text><text class="s" x="8.9" y="-4.9">c</text></g>
<g fill="none" stroke-linejoin="round" stroke-width="1.25">
<path stroke="#ff0000" d="M264.7 260.4l2.1-2.1 2.1 2.1-2.1 2.1zM264.2 260.4l2.1-2.1 2.1 2.1-2.1 2.1zM271.8 280.2l2.1-2.1 2.1 2.1-2.1 2.1zM268.1 280.2l2.1-2.1 2.1 2.1-2.1 2.1zM264 260.4l2.1-2.1 2.1 2.1-2.1 2.1zM275.3 260.4l2.1-2.1 2.1 2.1-2.1 2.1zM272.9 280.2l2.1-2.1 2.1 2.1-2.1 2.1zM274.7 260.4l2.1-2.1 2.1 2.1-2.1 2.1zM257.8 280.2l2.1-2.1 2.1 2.1-2.1 2.1zM268.9 280.2l2.1-2.1 2.1 2.1-2.1 2.1zM277.1 260.4l2.1-2.1 2.1 2.1-2.1 2.1zM259.2 260.4l2.1-2.1 2.1 2.1-2.1 2.1zM261.6 280.2l2.1-2.1 2.1 2.1-2.1 2.1zM285.1 280.2l2.1-2.1 2.1 2.1-2.1 2.1zM263.5 260.4l2.1-2.1 2.1 2.1-2.1 2.1zM261.3 260.4l2.1-2.1 2.1 2.1-2.1 2.1zM269.3 280.2l2.1-2.1 2.1 2.1-2.1 2.1zM259.9 280.2l2.1-2.1 2.1 2.1-2.1 2.1zM264.4 280.2l2.1-2.1 2.1 2.1-2.1 2.1zM266 280.2l2.1-2.1 2.1 2.1-2.1 2.1zM257.7 280.2l2.1-2.1 2.1 2.1-2.1 2.1zM260.8 260.4l2.1-2.1 2.1 2.1-2.1 2.1zM268 260.4l2.1-2.1 2.1 2.1-2.1 2.1zM253.4 280.2l2.1-2.1 2.1 2.1-2.1 2.1zM258.5 260.4l2.1-2.1 2.1 2.1-2.1 2.1zM263.5 260.4l2.1-2.1 2.1 2.1-2.1 2.1zM268.4 280.2l2.1-2.1 2.1 2.1-2.1 2.1zM257.1 260.4l2.1-2.1 2.1 2.1-2.1 2.1zM264.1 280.2l2.1-2.1 2.1 2.1-2.1 2.1zM260.5 260.4l2.1-2.1 2.1 2.1-2.1 2.1zM254.7 260.4l2.1-2.1 2.1 2.1-2.1 2.1zM284.9 280.2l2.1-2.1 2.1 2.1-2.1 2.1zM270.3 260.4l2.1-2.1 2.1 2.1-2.1 2.1zM271.8 280.2l2.1-2.1 2.1 2.1-2.1 2.1zM253.1 260.4l2.1-2.1 2.1 2.1-2.1 2.1zM256.9 260.4l2.1-2.1 2.1 2.1-2.1 2.1zM256.2 260.4l2.1-2.1 2.1 2.1-2.1 2.1zM258.5 280.2l2.1-2.1 2.1 2.1-2.1 2.1zM273.3 260.4l2.1-2.1 2.1 2.1-2.1 2.1zM260.2 280.2l2.1-2.1 2.1 2.1-2.1 2.1zM267.3 260.4l2.1-2.1 2.1 2.1-2.1 2.1zM267.9 280.2l2.1-2.1 2.1 2.1-2.1 2.1zM272 260.4l2.1-2.1 2.1 2.1-2.1 2.1zM268.8 260.4l2.1-2.1 2.1 2.1-2.1 2.1zM267.6 280.2l2.1-2.1 2.1 2.1-2.1 2.1zM285.6 280.2l2.1-2.1 2.1 2.1-2.1 2.1zM257.1 260.4l2.1-2.1 2.1 2.1-2.1 2.1zM271.7 260.4l2.1-2.1 2.1 2.1-2.1 2.1zM267.4 280.2l2.1-2.1 2.1 2.1-2.1 2.1zM270.3 280.2l2.1-2.1 2.1 2.1-2.1 2.1zM260.1 280.2l2.1-2.1 2.1 2.1-2.1 2.1zM267.5 260.4l2.1-2.1 2.1 2.1-2.1 2.1zM272.6 260.4l2.1-2.1 2.1 2.1-2.1 2.1zM266.3 260.4l2.1-2.1 2.1 2.1-2.1 2.1zM277.2 280.2l2.1-2.1 2.1 2.1-2.1 2.1zM266.5 280.2l2.1-2.1 2.1 2.1-2.1 2.1zM263.2 280.2l2.1-2.1 2.1 2.1-2.1 2.1zM258.3 280.2l2.1-2.1 2.1 2.1-2.1 2.1zM270 260.4l2.1-2.1 2.1 2.1-2.1 2.1zM274.1 260.4l2.1-2.1 2.1 2.1-2.1 2.1zM264.1 280.2l2.1-2.1 2.1 2.1-2.1 2.1zM268.9 280.2l2.1-2.1 2.1 2.1-2.1 2.1zM260.1 280.2l2.1-2.1 2.1 2.1-2.1 2.1zM275 280.2l2.1-2.1 2.1 2.1-2.1 2.1zM257.4 260.4l2.1-2.1 2.1 2.1-2.1 2.1zM264.1 260.4l2.1-2.1 2.1 2.1-2.1 2.1zM275.8 280.2l2.1-2.1 2.1 2.1-2.1 2.1zM281.6 280.2l2.1-2.1 2.1 2.1-2.1 2.1zM249.8 280.2l2.1-2.1 2.1 2.1-2.1 2.1zM276 260.4l2.1-2.1 2.1 2.1-2.1 2.1zM271.3 260.4l2.1-2.1 2.1 2.1-2.1 2.1zM270 280.2l2.1-2.1 2.1 2.1-2.1 2.1zM272.3 260.4l2.1-2.1 2.1 2.1-2.1 2.1zM258.7 280.2l2.1-2.1 2.1 2.1-2.1 2.1zM268.4 280.2l2.1-2.1 2.1 2.1-2.1 2.1zM262.4 260.4l2.1-2.1 2.1 2.1-2.1 2.1zM272.4 280.2l2.1-2.1 2.1 2.1-2.1 2.1zM269.1 280.2l2.1-2.1 2.1 2.1-2.1 2.1zM292.4 280.2l2.1-2.1 2.1 2.1-2.1 2.1zM267.9 280.2l2.1-2.1 2.1 2.1-2.1 2.1zM272.1 260.4l2.1-2.1 2.1 2.1-2.1 2.1zM262.4 280.2l2.1-2.1 2.1 2.1-2.1 2.1zM278.4 280.2l2.1-2.1 2.1 2.1-2.1 2.1zM281.4 280.2l2.1-2.1 2.1 2.1-2.1 2.1zM263.6 260.4l2.1-2.1 2.1 2.1-2.1 2.1zM265 260.4l2.1-2.1 2.1 2.1-2.1 2.1zM260.4 260.4l2.1-2.1 2.1 2.1-2.1 2.1z"/>
<path stroke="#ff0000" d="M279.6 280.2l2.1-2.1 2.1 2.1-2.1 2.1zM275.5 280.2l2.1-2.1 2.1 2.1-2.1 2.1zM266.9 260.4l2.1-2.1 2.1 2.1-2.1 2.1zM270.5 280.2l2.1-2.1 2.1 2.1-2.1 2.1zM267.2 280.2l2.1-2.1 2.1 2.1-2.1 2.1zM273.7 280.2l2.1-2.1 2.1 2.1-2.1 2.1zM262.3 260.4l2.1-2.1 2.1 2.1-2.1 2.1zM269.5 280.2l2.1-2.1 2.1 2.1-2.1 2.1zM287.5 280.2l2.1-2.1 2.1 2.1-2.1 2.1zM266.8 280.2l2.1-2.1 2.1 2.1-2.1 2.1zM268.7 280.2l2.1-2.1 2.1 2.1-2.1 2.1zM271.4 280.2l2.1-2.1 2.1 2.1-2.1 2.1zM272.7 280.2l2.1-2.1 2.1 2.1-2.1 2.1zM262.8 260.4l2.1-2.1 2.1 2.1-2.1 2.1zM276.6 280.2l2.1-2.1 2.1 2.1-2.1 2.1zM259.5 280.2l2.1-2.1 2.1 2.1-2.1 2.1zM276.1 260.4l2.1-2.1 2.1 2.1-2.1 2.1zM289.2 280.2l2.1-2.1 2.1 2.1-2.1 2.1zM275.8 280.2l2.1-2.1 2.1 2.1-2.1 2.1zM266.1 260.4l2.1-2.1 2.1 2.1-2.1 2.1zM271.9 280.2l2.1-2.1 2.1 2.1-2.1 2.1zM272.1 260.4l2.1-2.1 2.1 2.1-2.1 2.1zM268.1 280.2l2.1-2.1 2.1 2.1-2.1 2.1zM262.6 280.2l2.1-2.1 2.1 2.1-2.1 2.1zM281.7 280.2l2.1-2.1 2.1 2.1-2.1 2.1zM253.8 280.2l2.1-2.1 2.1 2.1-2.1 2.1zM270 280.2l2.1-2.1 2.1 2.1-2.1 2.1zM274.4 280.2l2.1-2.1 2.1 2.1-2.1 2.1zM261.5 260.4l2.1-2.1 2.1 2.1-2.1 2.1zM267.6 280.2l2.1-2.1 2.1 2.1-2.1 2.1zM275 260.4l2.1-2.1 2.1 2.1-2.1 2.1zM267.2 280.2l2.1-2.1 2.1 2.1-2.1 2.1zM273.7 280.2l2.1-2.1 2.1 2.1-2.1 2.1zM275.5 280.2l2.1-2.1 2.1 2.1-2.1 2.1zM286 280.2l2.1-2.1 2.1 2.1-2.1 2.1zM269.5 280.2l2.1-2.1 2.1 2.1-2.1 2.1zM269.1 280.2l2.1-2.1 2.1 2.1-2.1 2.1zM285.7 280.2l2.1-2.1 2.1 2.1-2.1 2.1zM272.7 280.2l2.1-2.1 2.1 2.1-2.1 2.1zM273.1 260.4l2.1-2.1 2.1 2.1-2.1 2.1zM270.8 260.4l2.1-2.1 2.1 2.1-2.1 2.1zM287.3 280.2l2.1-2.1 2.1 2.1-2.1 2.1zM264.6 280.2l2.1-2.1 2.1 2.1-2.1 2.1zM260.1 280.2l2.1-2.1 2.1 2.1-2.1 2.1zM259.9 280.2l2.1-2.1 2.1 2.1-2.1 2.1z"/>
<path stroke="#00cd00" d="M289.8 240.4a1.5 1.5 0 1 0 3 0a1.5 1.5 0 1 0-3 0M301.8 220.6a1.5 1.5 0 1 0 3 0a1.5 1.5 0 1 0-3 0M282.8 260.4a1.5 1.5 0 1 0 3 0a1.5 1.5 0 1 0-3 0M297 240.4a1.5 1.5 0 1 0 3 0a1.5 1.5 0 1 0-3 0M291 240.4a1.5 1.5 0 1 0 3 0a1.5 1.5 0 1 0-3 0M270.5 220.6a1.5 1.5 0 1 0 3 0a1.5 1.5 0 1 0-3 0M299 240.4a1.5 1.5 0 1 0 3 0a1.5 1.5 0 1 0-3 0M298.5 240.4a1.5 1.5 0 1 0 3 0a1.5 1.5 0 1 0-3 0M292.3 220.6a1.5 1.5 0 1 0 3 0a1.5 1.5 0 1 0-3 0M299.3 240.4a1.5 1.5 0 1 0 3 0a1.5 1.5 0 1 0-3 0M298.5 260.4a1.5 1.5 0 1 0 3 0a1.5 1.5 0 1 0-3 0M285.2 240.4a1.5 1.5 0 1 0 3 0a1.5 1.5 0 1 0-3 0M292.7 260.4a1.5 1.5 0 1 0 3 0a1.5 1.5 0 1 0-3 0M290.8 240.4a1.5 1.5 0 1 0 3 0a1.5 1.5 0 1 0-3 0M290.8 240.4a1.5 1.5 0 1 0 3 0a1.5 1.5 0 1 0-3 0M285.7 240.4a1.5 1.5 0 1 0 3 0a1.5 1.5 0 1 0-3 0M284.5 260.4a1.5 1.5 0 1 0 3 0a1.5 1.5 0 1 0-3 0M281.6 260.4a1.5 1.5 0 1 0 3 0a1.5 1.5 0 1 0-3 0M287 240.4a1.5 1.5 0 1 0 3 0a1.5 1.5 0 1 0-3 0M280.3 260.4a1.5 1.5 0 1 0 3 0a1.5 1.5 0 1 0-3 0M297.6 260.4a1.5 1.5 0 1 0 3 0a1.5 1.5 0 1 0-3 0M287.2 240.4a1.5 1.5 0 1 0 3 0a1.5 1.5 0 1 0-3 0M283.2 260.4a1.5 1.5 0 1 0 3 0a1.5 1.5 0 1 0-3 0M295.2 260.4a1.5 1.5 0 1 0 3 0a1.5 1.5 0 1 0-3 0M277.2 220.6a1.5 1.5 0 1 0 3 0a1.5 1.5 0 1 0-3 0M291.3 280.2a1.5 1.5 0 1 0 3 0a1.5 1.5 0 1 0-3 0M307 260.4a1.5 1.5 0 1 0 3 0a1.5 1.5 0 1 0-3 0M289.4 240.4a1.5 1.5 0 1 0 3 0a1.5 1.5 0 1 0-3 0M290.3 240.4a1.5 1.5 0 1 0 3 0a1.5 1.5 0 1 0-3 0M284.5 240.4a1.5 1.5 0 1 0 3 0a1.5 1.5 0 1 0-3 0M273.7 220.6a1.5 1.5 0 1 0 3 0a1.5 1.5 0 1 0-3 0M289.4 260.4a1.5 1.5 0 1 0 3 0a1.5 1.5 0 1 0-3 0M303.8 260.4a1.5 1.5 0 1 0 3 0a1.5 1.5 0 1 0-3 0M284.4 240.4a1.5 1.5 0 1 0 3 0a1.5 1.5 0 1 0-3 0M310.2 240.4a1.5 1.5 0 1 0 3 0a1.5 1.5 0 1 0-3 0M282.9 260.4a1.5 1.5 0 1 0 3 0a1.5 1.5 0 1 0-3 0M281.5 240.4a1.5 1.5 0 1 0 3 0a1.5 1.5 0 1 0-3 0M283.1 240.4a1.5 1.5 0 1 0 3 0a1.5 1.5 0 1 0-3 0M281.6 260.4a1.5 1.5 0 1 0 3 0a1.5 1.5 0 1 0-3 0M298.5 280.2a1.5 1.5 0 1 0 3 0a1.5 1.5 0 1 0-3 0M276.5 240.4a1.5 1.5 0 1 0 3 0a1.5 1.5 0 1 0-3 0M276.6 260.4a1.5 1.5 0 1 0 3 0a1.5 1.5 0 1 0-3 0"/>
<path stroke="#ff0000" d="M254.4 260.4l2.1-2.1 2.1 2.1-2.1 2.1zM243.6 280.2l2.1-2.1 2.1 2.1-2.1 2.1zM260.6 260.4l2.1-2.1 2.1 2.1-2.1 2.1zM262.3 260.4l2.1-2.1 2.1 2.1-2.1 2.1zM267.9 280.2l2.1-2.1 2.1 2.1-2.1 2.1zM284 280.2l2.1-2.1 2.1 2.1-2.1 2.1zM285.1 280.2l2.1-2.1 2.1 2.1-2.1 2.1zM250.4 280.2l2.1-2.1 2.1 2.1-2.1 2.1zM276.8 260.4l2.1-2.1 2.1 2.1-2.1 2.1zM275.6 280.2l2.1-2.1 2.1 2.1-2.1 2.1zM279.8 280.2l2.1-2.1 2.1 2.1-2.1 2.1zM262.4 280.2l2.1-2.1 2.1 2.1-2.1 2.1zM260.5 260.4l2.1-2.1 2.1 2.1-2.1 2.1zM248 280.2l2.1-2.1 2.1 2.1-2.1 2.1zM259.1 280.2l2.1-2.1 2.1 2.1-2.1 2.1zM274.5 280.2l2.1-2.1 2.1 2.1-2.1 2.1zM289.3 280.2l2.1-2.1 2.1 2.1-2.1 2.1zM263 260.4l2.1-2.1 2.1 2.1-2.1 2.1zM264.2 280.2l2.1-2.1 2.1 2.1-2.1 2.1zM257 260.4l2.1-2.1 2.1 2.1-2.1 2.1zM263 280.2l2.1-2.1 2.1 2.1-2.1 2.1zM254 280.2l2.1-2.1 2.1 2.1-2.1 2.1zM264.6 260.4l2.1-2.1 2.1 2.1-2.1 2.1zM272.4 280.2l2.1-2.1 2.1 2.1-2.1 2.1zM275.2 280.2l2.1-2.1 2.1 2.1-2.1 2.1zM264.4 260.4l2.1-2.1 2.1 2.1-2.1 2.1zM255.9 260.4l2.1-2.1 2.1 2.1-2.1 2.1zM263.2 260.4l2.1-2.1 2.1 2.1-2.1 2.1zM251.4 280.2l2.1-2.1 2.1 2.1-2.1 2.1zM274.6 280.2l2.1-2.1 2.1 2.1-2.1 2.1zM284.3 240.4l2.1-2.1 2.1 2.1-2.1 2.1zM263.2 260.4l2.1-2.1 2.1 2.1-2.1 2.1zM258.2 280.2l2.1-2.1 2.1 2.1-2.1 2.1zM278.5 280.2l2.1-2.1 2.1 2.1-2.1 2.1zM264.7 260.4l2.1-2.1 2.1 2.1-2.1 2.1zM281.2 280.2l2.1-2.1 2.1 2.1-2.1 2.1zM255.8 280.2l2.1-2.1 2.1 2.1-2.1 2.1zM277.3 260.4l2.1-2.1 2.1 2.1-2.1 2.1zM281 280.2l2.1-2.1 2.1 2.1-2.1 2.1zM252.7 240.4l2.1-2.1 2.1 2.1-2.1 2.1zM268 280.2l2.1-2.1 2.1 2.1-2.1 2.1zM258.1 280.2l2.1-2.1 2.1 2.1-2.1 2.1z"/>
<path stroke="#00cd00" d="M292 240.4a1.5 1.5 0 1 0 3 0a1.5 1.5 0 1 0-3 0M271.8 240.4a1.5 1.5 0 1 0 3 0a1.5 1.5 0 1 0-3 0M301.9 240.4a1.5 1.5 0 1 0 3 0a1.5 1.5 0 1 0-3 0M286.6 260.4a1.5 1.5 0 1 0 3 0a1.5 1.5 0 1 0-3 0M283.3 240.4a1.5 1.5 0 1 0 3 0a1.5 1.5 0 1 0-3 0M288 240.4a1.5 1.5 0 1 0 3 0a1.5 1.5 0 1 0-3 0M285.2 260.4a1.5 1.5 0 1 0 3 0a1.5 1.5 0 1 0-3 0M287.3 240.4a1.5 1.5 0 1 0 3 0a1.5 1.5 0 1 0-3 0M302.4 260.4a1.5 1.5 0 1 0 3 0a1.5 1.5 0 1 0-3 0M279.7 240.4a1.5 1.5 0 1 0 3 0a1.5 1.5 0 1 0-3 0M294.8 260.4a1.5 1.5 0 1 0 3 0a1.5 1.5 0 1 0-3 0M281.6 240.4a1.5 1.5 0 1 0 3 0a1.5 1.5 0 1 0-3 0M291.1 260.4a1.5 1.5 0 1 0 3 0a1.5 1.5 0 1 0-3 0M277.5 260.4a1.5 1.5 0 1 0 3 0a1.5 1.5 0 1 0-3 0M278.6 220.6a1.5 1.5 0 1 0 3 0a1.5 1.5 0 1 0-3 0M287.9 260.4a1.5 1.5 0 1 0 3 0a1.5 1.5 0 1 0-3 0M288.8 260.4a1.5 1.5 0 1 0 3 0a1.5 1.5 0 1 0-3 0M286 260.4a1.5 1.5 0 1 0 3 0a1.5 1.5 0 1 0-3 0M298.7 260.4a1.5 1.5 0 1 0 3 0a1.5 1.5 0 1 0-3 0M285.3 240.4a1.5 1.5 0 1 0 3 0a1.5 1.5 0 1 0-3 0M306 240.4a1.5 1.5 0 1 0 3 0a1.5 1.5 0 1 0-3 0M297.6 260.4a1.5 1.5 0 1 0 3 0a1.5 1.5 0 1 0-3 0M298.9 240.4a1.5 1.5 0 1 0 3 0a1.5 1.5 0 1 0-3 0M275.2 240.4a1.5 1.5 0 1 0 3 0a1.5 1.5 0 1 0-3 0M299.1 220.6a1.5 1.5 0 1 0 3 0a1.5 1.5 0 1 0-3 0M281.7 220.6a1.5 1.5 0 1 0 3 0a1.5 1.5 0 1 0-3 0M302.2 240.4a1.5 1.5 0 1 0 3 0a1.5 1.5 0 1 0-3 0M299 240.4a1.5 1.5 0 1 0 3 0a1.5 1.5 0 1 0-3 0M293.9 260.4a1.5 1.5 0 1 0 3 0a1.5 1.5 0 1 0-3 0M283 260.4a1.5 1.5 0 1 0 3 0a1.5 1.5 0 1 0-3 0M290.9 260.4a1.5 1.5 0 1 0 3 0a1.5 1.5 0 1 0-3 0M301.6 220.6a1.5 1.5 0 1 0 3 0a1.5 1.5 0 1 0-3 0M294.4 260.4a1.5 1.5 0 1 0 3 0a1.5 1.5 0 1 0-3 0M318.5 260.4a1.5 1.5 0 1 0 3 0a1.5 1.5 0 1 0-3 0M276.3 220.6a1.5 1.5 0 1 0 3 0a1.5 1.5 0 1 0-3 0M277.1 260.4a1.5 1.5 0 1 0 3 0a1.5 1.5 0 1 0-3 0M285.2 260.4a1.5 1.5 0 1 0 3 0a1.5 1.5 0 1 0-3 0M278.5 240.4a1.5 1.5 0 1 0 3 0a1.5 1.5 0 1 0-3 0M285.2 260.4a1.5 1.5 0 1 0 3 0a1.5 1.5 0 1 0-3 0M282.7 240.4a1.5 1.5 0 1 0 3 0a1.5 1.5 0 1 0-3 0M290 240.4a1.5 1.5 0 1 0 3 0a1.5 1.5 0 1 0-3 0M289.5 240.4a1.5 1.5 0 1 0 3 0a1.5 1.5 0 1 0-3 0M281.3 260.4a1.5 1.5 0 1 0 3 0a1.5 1.5 0 1 0-3 0M286.4 240.4a1.5 1.5 0 1 0 3 0a1.5 1.5 0 1 0-3 0M310.9 240.4a1.5 1.5 0 1 0 3 0a1.5 1.5 0 1 0-3 0"/>
<path stroke="#ff0000" d="M251.2 280.2l2.1-2.1 2.1 2.1-2.1 2.1zM275.2 280.2l2.1-2.1 2.1 2.1-2.1 2.1zM275.6 260.4l2.1-2.1 2.1 2.1-2.1 2.1zM282.4 280.2l2.1-2.1 2.1 2.1-2.1 2.1zM255.2 260.4l2.1-2.1 2.1 2.1-2.1 2.1zM270.3 260.4l2.1-2.1 2.1 2.1-2.1 2.1zM269.5 280.2l2.1-2.1 2.1 2.1-2.1 2.1zM263.1 280.2l2.1-2.1 2.1 2.1-2.1 2.1zM272.3 260.4l2.1-2.1 2.1 2.1-2.1 2.1zM269.6 280.2l2.1-2.1 2.1 2.1-2.1 2.1zM259.1 240.4l2.1-2.1 2.1 2.1-2.1 2.1zM262.3 280.2l2.1-2.1 2.1 2.1-2.1 2.1zM274.7 260.4l2.1-2.1 2.1 2.1-2.1 2.1zM268.7 280.2l2.1-2.1 2.1 2.1-2.1 2.1zM267.8 280.2l2.1-2.1 2.1 2.1-2.1 2.1zM262.3 280.2l2.1-2.1 2.1 2.1-2.1 2.1zM252.2 280.2l2.1-2.1 2.1 2.1-2.1 2.1zM264.4 280.2l2.1-2.1 2.1 2.1-2.1 2.1zM264.2 280.2l2.1-2.1 2.1 2.1-2.1 2.1zM261.9 280.2l2.1-2.1 2.1 2.1-2.1 2.1zM266 280.2l2.1-2.1 2.1 2.1-2.1 2.1zM278.5 280.2l2.1-2.1 2.1 2.1-2.1 2.1zM257.6 260.4l2.1-2.1 2.1 2.1-2.1 2.1zM282.2 280.2l2.1-2.1 2.1 2.1-2.1 2.1zM268 260.4l2.1-2.1 2.1 2.1-2.1 2.1z"/>
<path stroke="#00cd00" d="M296.4 260.4a1.5 1.5 0 1 0 3 0a1.5 1.5 0 1 0-3 0M285.5 260.4a1.5 1.5 0 1 0 3 0a1.5 1.5 0 1 0-3 0M293.2 240.4a1.5 1.5 0 1 0 3 0a1.5 1.5 0 1 0-3 0M286.3 220.6a1.5 1.5 0 1 0 3 0a1.5 1.5 0 1 0-3 0M285.8 220.6a1.5 1.5 0 1 0 3 0a1.5 1.5 0 1 0-3 0M293.9 240.4a1.5 1.5 0 1 0 3 0a1.5 1.5 0 1 0-3 0M290.3 260.4a1.5 1.5 0 1 0 3 0a1.5 1.5 0 1 0-3 0M289.7 260.4a1.5 1.5 0 1 0 3 0a1.5 1.5 0 1 0-3 0M296 240.4a1.5 1.5 0 1 0 3 0a1.5 1.5 0 1 0-3 0M287.5 260.4a1.5 1.5 0 1 0 3 0a1.5 1.5 0 1 0-3 0M307.2 260.4a1.5 1.5 0 1 0 3 0a1.5 1.5 0 1 0-3 0M297.1 240.4a1.5 1.5 0 1 0 3 0a1.5 1.5 0 1 0-3 0M283.6 240.4a1.5 1.5 0 1 0 3 0a1.5 1.5 0 1 0-3 0M277.8 260.4a1.5 1.5 0 1 0 3 0a1.5 1.5 0 1 0-3 0M288.3 240.4a1.5 1.5 0 1 0 3 0a1.5 1.5 0 1 0-3 0M276.2 220.6a1.5 1.5 0 1 0 3 0a1.5 1.5 0 1 0-3 0M283.8 240.4a1.5 1.5 0 1 0 3 0a1.5 1.5 0 1 0-3 0M287.4 220.6a1.5 1.5 0 1 0 3 0a1.5 1.5 0 1 0-3 0M290.2 240.4a1.5 1.5 0 1 0 3 0a1.5 1.5 0 1 0-3 0M290.4 220.6a1.5 1.5 0 1 0 3 0a1.5 1.5 0 1 0-3 0M292.2 220.6a1.5 1.5 0 1 0 3 0a1.5 1.5 0 1 0-3 0M289.5 280.2a1.5 1.5 0 1 0 3 0a1.5 1.5 0 1 0-3 0M289.7 260.4a1.5 1.5 0 1 0 3 0a1.5 1.5 0 1 0-3 0M299.8 280.2a1.5 1.5 0 1 0 3 0a1.5 1.5 0 1 0-3 0M295.8 280.2a1.5 1.5 0 1 0 3 0a1.5 1.5 0 1 0-3 0M299.6 240.4a1.5 1.5 0 1 0 3 0a1.5 1.5 0 1 0-3 0"/>
<path stroke="#0000ff" d="M309 238.1l2 3.5-4.1 0zM325.4 218.2l2 3.5-4.1 0zM301 218.2l2 3.5-4.1 0zM307.4 218.2l2 3.5-4.1 0zM309.5 218.2l2 3.5-4.1 0zM303.2 218.2l2 3.5-4.1 0zM303.4 238.1l2 3.5-4.1 0zM318.8 218.2l2 3.5-4.1 0zM304.7 218.2l2 3.5-4.1 0zM315.8 218.2l2 3.5-4.1 0zM313.5 238.1l2 3.5-4.1 0zM317.6 238.1l2 3.5-4.1 0zM286 218.2l2 3.5-4.1 0zM295.4 218.2l2 3.5-4.1 0zM312.3 218.2l2 3.5-4.1 0zM309 218.2l2 3.5-4.1 0zM294.3 238.1l2 3.5-4.1 0zM308.4 218.2l2 3.5-4.1 0zM306.5 218.2l2 3.5-4.1 0zM312.5 238.1l2 3.5-4.1 0zM325.8 218.2l2 3.5-4.1 0zM308.6 218.2l2 3.5-4.1 0zM307.7 238.1l2 3.5-4.1 0zM316.1 218.2l2 3.5-4.1 0zM314.5 218.2l2 3.5-4.1 0zM313.9 218.2l2 3.5-4.1 0zM322.7 218.2l2 3.5-4.1 0zM313.6 218.2l2 3.5-4.1 0zM324.3 258l2 3.5-4.1 0zM296.2 218.2l2 3.5-4.1 0zM305.5 218.2l2 3.5-4.1 0zM309.5 218.2l2 3.5-4.1 0zM302.7 218.2l2 3.5-4.1 0zM301.2 218.2l2 3.5-4.1 0zM321.3 218.2l2 3.5-4.1 0zM315.7 218.2l2 3.5-4.1 0z"/>
<path stroke="#ff0000" d="M259.4 260.4l2.1-2.1 2.1 2.1-2.1 2.1zM261.3 280.2l2.1-2.1 2.1 2.1-2.1 2.1zM263.8 280.2l2.1-2.1 2.1 2.1-2.1 2.1zM272.3 260.4l2.1-2.1 2.1 2.1-2.1 2.1zM263.1 260.4l2.1-2.1 2.1 2.1-2.1 2.1zM283.1 280.2l2.1-2.1 2.1 2.1-2.1 2.1zM255.3 260.4l2.1-2.1 2.1 2.1-2.1 2.1zM265.8 260.4l2.1-2.1 2.1 2.1-2.1 2.1zM267.1 260.4l2.1-2.1 2.1 2.1-2.1 2.1zM277.1 260.4l2.1-2.1 2.1 2.1-2.1 2.1zM261.1 260.4l2.1-2.1 2.1 2.1-2.1 2.1zM268.6 260.4l2.1-2.1 2.1 2.1-2.1 2.1zM269.4 260.4l2.1-2.1 2.1 2.1-2.1 2.1zM272.8 280.2l2.1-2.1 2.1 2.1-2.1 2.1zM274.7 280.2l2.1-2.1 2.1 2.1-2.1 2.1zM265.9 260.4l2.1-2.1 2.1 2.1-2.1 2.1zM281.4 280.2l2.1-2.1 2.1 2.1-2.1 2.1zM290.4 280.2l2.1-2.1 2.1 2.1-2.1 2.1zM276.7 280.2l2.1-2.1 2.1 2.1-2.1 2.1zM265.3 280.2l2.1-2.1 2.1 2.1-2.1 2.1zM259.6 260.4l2.1-2.1 2.1 2.1-2.1 2.1zM263.7 280.2l2.1-2.1 2.1 2.1-2.1 2.1zM254.8 280.2l2.1-2.1 2.1 2.1-2.1 2.1zM256 260.4l2.1-2.1 2.1 2.1-2.1 2.1zM277.8 260.4l2.1-2.1 2.1 2.1-2.1 2.1zM280 280.2l2.1-2.1 2.1 2.1-2.1 2.1zM262.9 260.4l2.1-2.1 2.1 2.1-2.1 2.1zM264.1 280.2l2.1-2.1 2.1 2.1-2.1 2.1zM264.4 260.4l2.1-2.1 2.1 2.1-2.1 2.1zM255.9 280.2l2.1-2.1 2.1 2.1-2.1 2.1zM260.8 280.2l2.1-2.1 2.1 2.1-2.1 2.1zM255.9 280.2l2.1-2.1 2.1 2.1-2.1 2.1zM258.7 280.2l2.1-2.1 2.1 2.1-2.1 2.1zM271.4 260.4l2.1-2.1 2.1 2.1-2.1 2.1zM282 280.2l2.1-2.1 2.1 2.1-2.1 2.1zM274 260.4l2.1-2.1 2.1 2.1-2.1 2.1zM259.1 260.4l2.1-2.1 2.1 2.1-2.1 2.1zM265.3 280.2l2.1-2.1 2.1 2.1-2.1 2.1zM258.9 260.4l2.1-2.1 2.1 2.1-2.1 2.1zM278.2 240.4l2.1-2.1 2.1 2.1-2.1 2.1zM276 280.2l2.1-2.1 2.1 2.1-2.1 2.1z"/>
<path stroke="#00cd00" d="M280.3 260.4a1.5 1.5 0 1 0 3 0a1.5 1.5 0 1 0-3 0M277.6 260.4a1.5 1.5 0 1 0 3 0a1.5 1.5 0 1 0-3 0M292.7 240.4a1.5 1.5 0 1 0 3 0a1.5 1.5 0 1 0-3 0M288.7 260.4a1.5 1.5 0 1 0 3 0a1.5 1.5 0 1 0-3 0M295.2 240.4a1.5 1.5 0 1 0 3 0a1.5 1.5 0 1 0-3 0M283 260.4a1.5 1.5 0 1 0 3 0a1.5 1.5 0 1 0-3 0M288.7 220.6a1.5 1.5 0 1 0 3 0a1.5 1.5 0 1 0-3 0M298 220.6a1.5 1.5 0 1 0 3 0a1.5 1.5 0 1 0-3 0M279.1 240.4a1.5 1.5 0 1 0 3 0a1.5 1.5 0 1 0-3 0M283 220.6a1.5 1.5 0 1 0 3 0a1.5 1.5 0 1 0-3 0M290.8 280.2a1.5 1.5 0 1 0 3 0a1.5 1.5 0 1 0-3 0M301.6 260.4a1.5 1.5 0 1 0 3 0a1.5 1.5 0 1 0-3 0M304.8 260.4a1.5 1.5 0 1 0 3 0a1.5 1.5 0 1 0-3 0M288.8 240.4a1.5 1.5 0 1 0 3 0a1.5 1.5 0 1 0-3 0M277.5 240.4a1.5 1.5 0 1 0 3 0a1.5 1.5 0 1 0-3 0M302 260.4a1.5 1.5 0 1 0 3 0a1.5 1.5 0 1 0-3 0M289 240.4a1.5 1.5 0 1 0 3 0a1.5 1.5 0 1 0-3 0M282.9 240.4a1.5 1.5 0 1 0 3 0a1.5 1.5 0 1 0-3 0M282.2 260.4a1.5 1.5 0 1 0 3 0a1.5 1.5 0 1 0-3 0M268.6 240.4a1.5 1.5 0 1 0 3 0a1.5 1.5 0 1 0-3 0M289.4 260.4a1.5 1.5 0 1 0 3 0a1.5 1.5 0 1 0-3 0M287.8 220.6a1.5 1.5 0 1 0 3 0a1.5 1.5 0 1 0-3 0M275.2 220.6a1.5 1.5 0 1 0 3 0a1.5 1.5 0 1 0-3 0M303 260.4a1.5 1.5 0 1 0 3 0a1.5 1.5 0 1 0-3 0M286.5 240.4a1.5 1.5 0 1 0 3 0a1.5 1.5 0 1 0-3 0"/>
<path stroke="#0000ff" d="M325.2 238.1l2 3.5-4.1 0zM312.4 238.1l2 3.5-4.1 0zM314.4 218.2l2 3.5-4.1 0zM314.9 218.2l2 3.5-4.1 0zM300.6 218.2l2 3.5-4.1 0zM296.4 218.2l2 3.5-4.1 0zM315.8 238.1l2 3.5-4.1 0zM310.8 218.2l2 3.5-4.1 0zM302.7 238.1l2 3.5-4.1 0zM321.4 218.2l2 3.5-4.1 0zM307.3 238.1l2 3.5-4.1 0zM310.3 238.1l2 3.5-4.1 0zM303.7 218.2l2 3.5-4.1 0zM314.8 238.1l2 3.5-4.1 0zM306.5 238.1l2 3.5-4.1 0zM331.9 218.2l2 3.5-4.1 0zM304.9 218.2l2 3.5-4.1 0zM314.6 218.2l2 3.5-4.1 0zM316.3 238.1l2 3.5-4.1 0zM312.2 218.2l2 3.5-4.1 0zM310.5 238.1l2 3.5-4.1 0z"/>
<path stroke="#ff0000" d="M269.8 280.2l2.1-2.1 2.1 2.1-2.1 2.1zM259.5 280.2l2.1-2.1 2.1 2.1-2.1 2.1zM261.2 280.2l2.1-2.1 2.1 2.1-2.1 2.1zM256.8 280.2l2.1-2.1 2.1 2.1-2.1 2.1zM251.2 280.2l2.1-2.1 2.1 2.1-2.1 2.1zM268.7 280.2l2.1-2.1 2.1 2.1-2.1 2.1zM263.1 260.4l2.1-2.1 2.1 2.1-2.1 2.1zM272.6 280.2l2.1-2.1 2.1 2.1-2.1 2.1zM279.6 280.2l2.1-2.1 2.1 2.1-2.1 2.1zM272.9 240.4l2.1-2.1 2.1 2.1-2.1 2.1zM259.7 280.2l2.1-2.1 2.1 2.1-2.1 2.1zM270.9 280.2l2.1-2.1 2.1 2.1-2.1 2.1zM256.4 280.2l2.1-2.1 2.1 2.1-2.1 2.1zM261.1 260.4l2.1-2.1 2.1 2.1-2.1 2.1zM260.4 280.2l2.1-2.1 2.1 2.1-2.1 2.1zM275.4 260.4l2.1-2.1 2.1 2.1-2.1 2.1zM269.9 260.4l2.1-2.1 2.1 2.1-2.1 2.1zM282.6 280.2l2.1-2.1 2.1 2.1-2.1 2.1zM253.6 260.4l2.1-2.1 2.1 2.1-2.1 2.1zM271.2 280.2l2.1-2.1 2.1 2.1-2.1 2.1zM268.5 280.2l2.1-2.1 2.1 2.1-2.1 2.1zM266.5 260.4l2.1-2.1 2.1 2.1-2.1 2.1zM276.5 280.2l2.1-2.1 2.1 2.1-2.1 2.1zM275.1 280.2l2.1-2.1 2.1 2.1-2.1 2.1zM258.8 280.2l2.1-2.1 2.1 2.1-2.1 2.1zM274.6 280.2l2.1-2.1 2.1 2.1-2.1 2.1zM264.5 260.4l2.1-2.1 2.1 2.1-2.1 2.1zM269.3 260.4l2.1-2.1 2.1 2.1-2.1 2.1zM272.2 280.2l2.1-2.1 2.1 2.1-2.1 2.1zM278.3 280.2l2.1-2.1 2.1 2.1-2.1 2.1zM267.7 280.2l2.1-2.1 2.1 2.1-2.1 2.1zM248.7 280.2l2.1-2.1 2.1 2.1-2.1 2.1z"/>
<path stroke="#00cd00" d="M295.6 280.2a1.5 1.5 0 1 0 3 0a1.5 1.5 0 1 0-3 0M286.3 260.4a1.5 1.5 0 1 0 3 0a1.5 1.5 0 1 0-3 0M274.2 260.4a1.5 1.5 0 1 0 3 0a1.5 1.5 0 1 0-3 0M278.4 240.4a1.5 1.5 0 1 0 3 0a1.5 1.5 0 1 0-3 0M286.8 240.4a1.5 1.5 0 1 0 3 0a1.5 1.5 0 1 0-3 0M281.7 240.4a1.5 1.5 0 1 0 3 0a1.5 1.5 0 1 0-3 0M295.5 260.4a1.5 1.5 0 1 0 3 0a1.5 1.5 0 1 0-3 0M281.3 260.4a1.5 1.5 0 1 0 3 0a1.5 1.5 0 1 0-3 0M288.8 240.4a1.5 1.5 0 1 0 3 0a1.5 1.5 0 1 0-3 0M283.8 240.4a1.5 1.5 0 1 0 3 0a1.5 1.5 0 1 0-3 0M271.9 240.4a1.5 1.5 0 1 0 3 0a1.5 1.5 0 1 0-3 0M285.5 240.4a1.5 1.5 0 1 0 3 0a1.5 1.5 0 1 0-3 0M293.4 260.4a1.5 1.5 0 1 0 3 0a1.5 1.5 0 1 0-3 0M291 260.4a1.5 1.5 0 1 0 3 0a1.5 1.5 0 1 0-3 0M283.9 240.4a1.5 1.5 0 1 0 3 0a1.5 1.5 0 1 0-3 0M299.3 260.4a1.5 1.5 0 1 0 3 0a1.5 1.5 0 1 0-3 0M295.1 240.4a1.5 1.5 0 1 0 3 0a1.5 1.5 0 1 0-3 0M284.9 240.4a1.5 1.5 0 1 0 3 0a1.5 1.5 0 1 0-3 0M286 260.4a1.5 1.5 0 1 0 3 0a1.5 1.5 0 1 0-3 0M296.9 260.4a1.5 1.5 0 1 0 3 0a1.5 1.5 0 1 0-3 0M277.1 220.6a1.5 1.5 0 1 0 3 0a1.5 1.5 0 1 0-3 0M284 220.6a1.5 1.5 0 1 0 3 0a1.5 1.5 0 1 0-3 0M291.6 260.4a1.5 1.5 0 1 0 3 0a1.5 1.5 0 1 0-3 0M287 260.4a1.5 1.5 0 1 0 3 0a1.5 1.5 0 1 0-3 0M299.3 260.4a1.5 1.5 0 1 0 3 0a1.5 1.5 0 1 0-3 0M291.9 280.2a1.5 1.5 0 1 0 3 0a1.5 1.5 0 1 0-3 0M274.4 240.4a1.5 1.5 0 1 0 3 0a1.5 1.5 0 1 0-3 0"/>
<path stroke="#0000ff" d="M315.8 218.2l2 3.5-4.1 0zM311.4 238.1l2 3.5-4.1 0zM310.8 238.1l2 3.5-4.1 0zM313.6 238.1l2 3.5-4.1 0zM304.1 218.2l2 3.5-4.1 0zM304.4 238.1l2 3.5-4.1 0zM325 218.2l2 3.5-4.1 0zM314.7 238.1l2 3.5-4.1 0zM314.6 218.2l2 3.5-4.1 0zM303.6 238.1l2 3.5-4.1 0zM288.1 218.2l2 3.5-4.1 0zM312 218.2l2 3.5-4.1 0zM316.3 238.1l2 3.5-4.1 0zM304.6 218.2l2 3.5-4.1 0zM307.4 218.2l2 3.5-4.1 0zM312.8 218.2l2 3.5-4.1 0zM323.6 238.1l2 3.5-4.1 0zM312.8 238.1l2 3.5-4.1 0zM320.6 238.1l2 3.5-4.1 0zM320 238.1l2 3.5-4.1 0zM294.7 218.2l2 3.5-4.1 0zM304.4 218.2l2 3.5-4.1 0zM297.2 238.1l2 3.5-4.1 0zM297.3 218.2l2 3.5-4.1 0zM294.5 238.1l2 3.5-4.1 0zM300.4 218.2l2 3.5-4.1 0zM316 238.1l2 3.5-4.1 0zM311.4 218.2l2 3.5-4.1 0z"/>
<path stroke="#ff0000" d="M269.6 260.4l2.1-2.1 2.1 2.1-2.1 2.1zM270.1 280.2l2.1-2.1 2.1 2.1-2.1 2.1zM282.1 280.2l2.1-2.1 2.1 2.1-2.1 2.1zM273.3 280.2l2.1-2.1 2.1 2.1-2.1 2.1zM286.8 280.2l2.1-2.1 2.1 2.1-2.1 2.1zM273.3 280.2l2.1-2.1 2.1 2.1-2.1 2.1zM255.2 280.2l2.1-2.1 2.1 2.1-2.1 2.1zM250.5 280.2l2.1-2.1 2.1 2.1-2.1 2.1zM263.7 280.2l2.1-2.1 2.1 2.1-2.1 2.1zM267.3 280.2l2.1-2.1 2.1 2.1-2.1 2.1zM268.9 280.2l2.1-2.1 2.1 2.1-2.1 2.1zM287.1 280.2l2.1-2.1 2.1 2.1-2.1 2.1zM263 260.4l2.1-2.1 2.1 2.1-2.1 2.1zM275.9 260.4l2.1-2.1 2.1 2.1-2.1 2.1zM264.3 280.2l2.1-2.1 2.1 2.1-2.1 2.1zM272.3 280.2l2.1-2.1 2.1 2.1-2.1 2.1zM264.8 260.4l2.1-2.1 2.1 2.1-2.1 2.1zM264.3 280.2l2.1-2.1 2.1 2.1-2.1 2.1zM273.5 280.2l2.1-2.1 2.1 2.1-2.1 2.1zM265 280.2l2.1-2.1 2.1 2.1-2.1 2.1zM255.9 260.4l2.1-2.1 2.1 2.1-2.1 2.1zM269.5 280.2l2.1-2.1 2.1 2.1-2.1 2.1zM284.4 280.2l2.1-2.1 2.1 2.1-2.1 2.1zM262.2 260.4l2.1-2.1 2.1 2.1-2.1 2.1zM271 280.2l2.1-2.1 2.1 2.1-2.1 2.1zM272.2 260.4l2.1-2.1 2.1 2.1-2.1 2.1zM270.9 280.2l2.1-2.1 2.1 2.1-2.1 2.1zM246.8 280.2l2.1-2.1 2.1 2.1-2.1 2.1z"/>
<path stroke="#00cd00" d="M280.1 260.4a1.5 1.5 0 1 0 3 0a1.5 1.5 0 1 0-3 0M282.1 260.4a1.5 1.5 0 1 0 3 0a1.5 1.5 0 1 0-3 0M292.9 260.4a1.5 1.5 0 1 0 3 0a1.5 1.5 0 1 0-3 0M292.3 240.4a1.5 1.5 0 1 0 3 0a1.5 1.5 0 1 0-3 0M279.4 240.4a1.5 1.5 0 1 0 3 0a1.5 1.5 0 1 0-3 0M292.9 240.4a1.5 1.5 0 1 0 3 0a1.5 1.5 0 1 0-3 0M284.2 260.4a1.5 1.5 0 1 0 3 0a1.5 1.5 0 1 0-3 0M285.7 240.4a1.5 1.5 0 1 0 3 0a1.5 1.5 0 1 0-3 0M300.8 280.2a1.5 1.5 0 1 0 3 0a1.5 1.5 0 1 0-3 0M285.6 260.4a1.5 1.5 0 1 0 3 0a1.5 1.5 0 1 0-3 0M287 260.4a1.5 1.5 0 1 0 3 0a1.5 1.5 0 1 0-3 0M281.5 260.4a1.5 1.5 0 1 0 3 0a1.5 1.5 0 1 0-3 0M287.7 240.4a1.5 1.5 0 1 0 3 0a1.5 1.5 0 1 0-3 0M311.2 220.6a1.5 1.5 0 1 0 3 0a1.5 1.5 0 1 0-3 0M285.9 260.4a1.5 1.5 0 1 0 3 0a1.5 1.5 0 1 0-3 0M283.6 240.4a1.5 1.5 0 1 0 3 0a1.5 1.5 0 1 0-3 0M289.3 240.4a1.5 1.5 0 1 0 3 0a1.5 1.5 0 1 0-3 0M296.4 240.4a1.5 1.5 0 1 0 3 0a1.5 1.5 0 1 0-3 0M284.6 240.4a1.5 1.5 0 1 0 3 0a1.5 1.5 0 1 0-3 0M288.7 240.4a1.5 1.5 0 1 0 3 0a1.5 1.5 0 1 0-3 0M299.2 260.4a1.5 1.5 0 1 0 3 0a1.5 1.5 0 1 0-3 0M288.1 260.4a1.5 1.5 0 1 0 3 0a1.5 1.5 0 1 0-3 0M287.4 240.4a1.5 1.5 0 1 0 3 0a1.5 1.5 0 1 0-3 0M278.3 260.4a1.5 1.5 0 1 0 3 0a1.5 1.5 0 1 0-3 0M295.5 260.4a1.5 1.5 0 1 0 3 0a1.5 1.5 0 1 0-3 0M278.3 240.4a1.5 1.5 0 1 0 3 0a1.5 1.5 0 1 0-3 0M291.6 260.4a1.5 1.5 0 1 0 3 0a1.5 1.5 0 1 0-3 0M289.1 240.4a1.5 1.5 0 1 0 3 0a1.5 1.5 0 1 0-3 0M289.8 220.6a1.5 1.5 0 1 0 3 0a1.5 1.5 0 1 0-3 0M287.9 260.4a1.5 1.5 0 1 0 3 0a1.5 1.5 0 1 0-3 0M303 240.4a1.5 1.5 0 1 0 3 0a1.5 1.5 0 1 0-3 0"/>
<path stroke="#0000ff" d="M310.4 218.2l2 3.5-4.1 0zM319.7 218.2l2 3.5-4.1 0zM319 238.1l2 3.5-4.1 0zM313.6 218.2l2 3.5-4.1 0zM318.2 238.1l2 3.5-4.1 0zM304.1 238.1l2 3.5-4.1 0zM308 218.2l2 3.5-4.1 0zM307.6 238.1l2 3.5-4.1 0zM311.6 218.2l2 3.5-4.1 0zM307.9 218.2l2 3.5-4.1 0zM327 218.2l2 3.5-4.1 0zM322.6 218.2l2 3.5-4.1 0zM318.4 238.1l2 3.5-4.1 0zM320.6 238.1l2 3.5-4.1 0zM304.3 238.1l2 3.5-4.1 0zM305.4 238.1l2 3.5-4.1 0zM312.3 238.1l2 3.5-4.1 0zM308.8 218.2l2 3.5-4.1 0zM318.3 218.2l2 3.5-4.1 0zM311.3 238.1l2 3.5-4.1 0zM305.7 218.2l2 3.5-4.1 0zM300.2 238.1l2 3.5-4.1 0zM310.2 238.1l2 3.5-4.1 0zM312.2 218.2l2 3.5-4.1 0zM302.6 238.1l2 3.5-4.1 0zM324.2 238.1l2 3.5-4.1 0zM301.9 218.2l2 3.5-4.1 0zM314.1 238.1l2 3.5-4.1 0z"/>
<path stroke="#ff0000" d="M246.2 260.4l2.1-2.1 2.1 2.1-2.1 2.1zM275 280.2l2.1-2.1 2.1 2.1-2.1 2.1zM273.1 280.2l2.1-2.1 2.1 2.1-2.1 2.1zM257.8 260.4l2.1-2.1 2.1 2.1-2.1 2.1zM264.6 260.4l2.1-2.1 2.1 2.1-2.1 2.1zM264.7 260.4l2.1-2.1 2.1 2.1-2.1 2.1zM264.3 280.2l2.1-2.1 2.1 2.1-2.1 2.1zM276.9 260.4l2.1-2.1 2.1 2.1-2.1 2.1zM260.9 280.2l2.1-2.1 2.1 2.1-2.1 2.1zM272.8 280.2l2.1-2.1 2.1 2.1-2.1 2.1zM274.1 260.4l2.1-2.1 2.1 2.1-2.1 2.1zM277.9 280.2l2.1-2.1 2.1 2.1-2.1 2.1zM254.7 260.4l2.1-2.1 2.1 2.1-2.1 2.1zM261.1 260.4l2.1-2.1 2.1 2.1-2.1 2.1zM279 280.2l2.1-2.1 2.1 2.1-2.1 2.1zM259.6 260.4l2.1-2.1 2.1 2.1-2.1 2.1zM257.6 260.4l2.1-2.1 2.1 2.1-2.1 2.1zM270.8 260.4l2.1-2.1 2.1 2.1-2.1 2.1zM282.6 280.2l2.1-2.1 2.1 2.1-2.1 2.1zM275.1 280.2l2.1-2.1 2.1 2.1-2.1 2.1zM262.3 280.2l2.1-2.1 2.1 2.1-2.1 2.1zM265.8 260.4l2.1-2.1 2.1 2.1-2.1 2.1zM266 280.2l2.1-2.1 2.1 2.1-2.1 2.1zM269.6 280.2l2.1-2.1 2.1 2.1-2.1 2.1zM272.6 260.4l2.1-2.1 2.1 2.1-2.1 2.1zM260.8 260.4l2.1-2.1 2.1 2.1-2.1 2.1zM265.4 280.2l2.1-2.1 2.1 2.1-2.1 2.1zM275.2 280.2l2.1-2.1 2.1 2.1-2.1 2.1z"/>
<path stroke="#00cd00" d="M294.4 240.4a1.5 1.5 0 1 0 3 0a1.5 1.5 0 1 0-3 0M285.5 240.4a1.5 1.5 0 1 0 3 0a1.5 1.5 0 1 0-3 0M275 240.4a1.5 1.5 0 1 0 3 0a1.5 1.5 0 1 0-3 0M295.9 260.4a1.5 1.5 0 1 0 3 0a1.5 1.5 0 1 0-3 0M294.5 240.4a1.5 1.5 0 1 0 3 0a1.5 1.5 0 1 0-3 0M279.3 240.4a1.5 1.5 0 1 0 3 0a1.5 1.5 0 1 0-3 0M292.5 240.4a1.5 1.5 0 1 0 3 0a1.5 1.5 0 1 0-3 0M271.8 240.4a1.5 1.5 0 1 0 3 0a1.5 1.5 0 1 0-3 0M290.5 260.4a1.5 1.5 0 1 0 3 0a1.5 1.5 0 1 0-3 0M286.1 240.4a1.5 1.5 0 1 0 3 0a1.5 1.5 0 1 0-3 0M298.3 240.4a1.5 1.5 0 1 0 3 0a1.5 1.5 0 1 0-3 0M278 260.4a1.5 1.5 0 1 0 3 0a1.5 1.5 0 1 0-3 0M301 240.4a1.5 1.5 0 1 0 3 0a1.5 1.5 0 1 0-3 0M281.5 220.6a1.5 1.5 0 1 0 3 0a1.5 1.5 0 1 0-3 0M285.3 240.4a1.5 1.5 0 1 0 3 0a1.5 1.5 0 1 0-3 0M293.9 240.4a1.5 1.5 0 1 0 3 0a1.5 1.5 0 1 0-3 0M289.4 260.4a1.5 1.5 0 1 0 3 0a1.5 1.5 0 1 0-3 0M290.1 240.4a1.5 1.5 0 1 0 3 0a1.5 1.5 0 1 0-3 0M294.2 260.4a1.5 1.5 0 1 0 3 0a1.5 1.5 0 1 0-3 0M279.5 240.4a1.5 1.5 0 1 0 3 0a1.5 1.5 0 1 0-3 0M289 260.4a1.5 1.5 0 1 0 3 0a1.5 1.5 0 1 0-3 0M278.4 260.4a1.5 1.5 0 1 0 3 0a1.5 1.5 0 1 0-3 0M295 240.4a1.5 1.5 0 1 0 3 0a1.5 1.5 0 1 0-3 0M294.3 240.4a1.5 1.5 0 1 0 3 0a1.5 1.5 0 1 0-3 0"/>
<path stroke="#0000ff" d="M313 238.1l2 3.5-4.1 0zM310.7 218.2l2 3.5-4.1 0zM301.8 218.2l2 3.5-4.1 0zM317.2 238.1l2 3.5-4.1 0zM302.9 218.2l2 3.5-4.1 0zM306.8 238.1l2 3.5-4.1 0zM332.3 218.2l2 3.5-4.1 0zM312.1 238.1l2 3.5-4.1 0zM309.4 218.2l2 3.5-4.1 0zM308.8 238.1l2 3.5-4.1 0zM315.1 238.1l2 3.5-4.1 0zM323.7 218.2l2 3.5-4.1 0zM320.7 218.2l2 3.5-4.1 0zM312 238.1l2 3.5-4.1 0zM315.5 218.2l2 3.5-4.1 0zM308.6 238.1l2 3.5-4.1 0zM307.4 238.1l2 3.5-4.1 0zM317.4 218.2l2 3.5-4.1 0zM296.8 218.2l2 3.5-4.1 0zM292.2 218.2l2 3.5-4.1 0zM305.9 218.2l2 3.5-4.1 0zM295.6 218.2l2 3.5-4.1 0zM318.9 218.2l2 3.5-4.1 0zM313.3 218.2l2 3.5-4.1 0zM307.1 218.2l2 3.5-4.1 0zM304 218.2l2 3.5-4.1 0zM309.4 218.2l2 3.5-4.1 0zM300.4 238.1l2 3.5-4.1 0zM310.4 238.1l2 3.5-4.1 0zM313.7 218.2l2 3.5-4.1 0zM305.3 218.2l2 3.5-4.1 0zM311.7 238.1l2 3.5-4.1 0zM317.3 218.2l2 3.5-4.1 0zM310.8 238.1l2 3.5-4.1 0z"/>
<path stroke="#ff0000" d="M282.9 280.2l2.1-2.1 2.1 2.1-2.1 2.1zM263.5 280.2l2.1-2.1 2.1 2.1-2.1 2.1zM266.9 280.2l2.1-2.1 2.1 2.1-2.1 2.1zM267.9 260.4l2.1-2.1 2.1 2.1-2.1 2.1zM266.3 280.2l2.1-2.1 2.1 2.1-2.1 2.1zM259.4 280.2l2.1-2.1 2.1 2.1-2.1 2.1zM269 280.2l2.1-2.1 2.1 2.1-2.1 2.1zM282.2 280.2l2.1-2.1 2.1 2.1-2.1 2.1zM278.8 280.2l2.1-2.1 2.1 2.1-2.1 2.1zM259.6 260.4l2.1-2.1 2.1 2.1-2.1 2.1zM273.6 260.4l2.1-2.1 2.1 2.1-2.1 2.1zM272 280.2l2.1-2.1 2.1 2.1-2.1 2.1zM272.7 260.4l2.1-2.1 2.1 2.1-2.1 2.1zM268.8 280.2l2.1-2.1 2.1 2.1-2.1 2.1z"/>
<path stroke="#00cd00" d="M291.6 260.4a1.5 1.5 0 1 0 3 0a1.5 1.5 0 1 0-3 0M267.5 240.4a1.5 1.5 0 1 0 3 0a1.5 1.5 0 1 0-3 0M284.6 240.4a1.5 1.5 0 1 0 3 0a1.5 1.5 0 1 0-3 0M289.5 260.4a1.5 1.5 0 1 0 3 0a1.5 1.5 0 1 0-3 0M290.3 260.4a1.5 1.5 0 1 0 3 0a1.5 1.5 0 1 0-3 0M286.6 260.4a1.5 1.5 0 1 0 3 0a1.5 1.5 0 1 0-3 0M281.3 240.4a1.5 1.5 0 1 0 3 0a1.5 1.5 0 1 0-3 0M279.4 240.4a1.5 1.5 0 1 0 3 0a1.5 1.5 0 1 0-3 0M278.8 260.4a1.5 1.5 0 1 0 3 0a1.5 1.5 0 1 0-3 0M277.2 220.6a1.5 1.5 0 1 0 3 0a1.5 1.5 0 1 0-3 0M280.4 240.4a1.5 1.5 0 1 0 3 0a1.5 1.5 0 1 0-3 0M299.2 240.4a1.5 1.5 0 1 0 3 0a1.5 1.5 0 1 0-3 0M290.5 240.4a1.5 1.5 0 1 0 3 0a1.5 1.5 0 1 0-3 0M301.3 280.2a1.5 1.5 0 1 0 3 0a1.5 1.5 0 1 0-3 0M288.8 240.4a1.5 1.5 0 1 0 3 0a1.5 1.5 0 1 0-3 0M291.2 240.4a1.5 1.5 0 1 0 3 0a1.5 1.5 0 1 0-3 0M280.9 240.4a1.5 1.5 0 1 0 3 0a1.5 1.5 0 1 0-3 0M285.8 260.4a1.5 1.5 0 1 0 3 0a1.5 1.5 0 1 0-3 0M302.1 240.4a1.5 1.5 0 1 0 3 0a1.5 1.5 0 1 0-3 0M278.8 260.4a1.5 1.5 0 1 0 3 0a1.5 1.5 0 1 0-3 0M279.5 260.4a1.5 1.5 0 1 0 3 0a1.5 1.5 0 1 0-3 0M295.8 240.4a1.5 1.5 0 1 0 3 0a1.5 1.5 0 1 0-3 0M302.2 220.6a1.5 1.5 0 1 0 3 0a1.5 1.5 0 1 0-3 0M289.8 260.4a1.5 1.5 0 1 0 3 0a1.5 1.5 0 1 0-3 0M294 240.4a1.5 1.5 0 1 0 3 0a1.5 1.5 0 1 0-3 0M285.9 260.4a1.5 1.5 0 1 0 3 0a1.5 1.5 0 1 0-3 0M290.7 260.4a1.5 1.5 0 1 0 3 0a1.5 1.5 0 1 0-3 0M284.2 260.4a1.5 1.5 0 1 0 3 0a1.5 1.5 0 1 0-3 0M296.9 240.4a1.5 1.5 0 1 0 3 0a1.5 1.5 0 1 0-3 0M299 280.2a1.5 1.5 0 1 0 3 0a1.5 1.5 0 1 0-3 0M277.1 260.4a1.5 1.5 0 1 0 3 0a1.5 1.5 0 1 0-3 0"/>
<path stroke="#0000ff" d="M305.9 218.2l2 3.5-4.1 0zM311.4 238.1l2 3.5-4.1 0zM300.7 238.1l2 3.5-4.1 0zM308.3 238.1l2 3.5-4.1 0zM316.3 238.1l2 3.5-4.1 0zM326.9 218.2l2 3.5-4.1 0zM319.7 218.2l2 3.5-4.1 0zM317 238.1l2 3.5-4.1 0zM309.7 218.2l2 3.5-4.1 0zM304.1 238.1l2 3.5-4.1 0zM316.1 218.2l2 3.5-4.1 0zM305.8 238.1l2 3.5-4.1 0zM303.3 218.2l2 3.5-4.1 0zM304.4 218.2l2 3.5-4.1 0zM305 218.2l2 3.5-4.1 0zM327.5 218.2l2 3.5-4.1 0zM307.9 218.2l2 3.5-4.1 0zM309.6 218.2l2 3.5-4.1 0zM315.7 218.2l2 3.5-4.1 0zM319.5 238.1l2 3.5-4.1 0zM312.7 218.2l2 3.5-4.1 0zM304.3 218.2l2 3.5-4.1 0zM325.7 238.1l2 3.5-4.1 0zM319.2 238.1l2 3.5-4.1 0zM310.6 218.2l2 3.5-4.1 0zM300.7 238.1l2 3.5-4.1 0zM298.6 238.1l2 3.5-4.1 0zM307 238.1l2 3.5-4.1 0zM313.7 238.1l2 3.5-4.1 0zM300.1 218.2l2 3.5-4.1 0zM304.1 218.2l2 3.5-4.1 0zM316.4 218.2l2 3.5-4.1 0zM312.7 218.2l2 3.5-4.1 0zM322.5 238.1l2 3.5-4.1 0zM322 218.2l2 3.5-4.1 0zM319 218.2l2 3.5-4.1 0zM310.9 218.2l2 3.5-4.1 0zM310.9 218.2l2 3.5-4.1 0zM323 218.2l2 3.5-4.1 0zM327.3 218.2l2 3.5-4.1 0zM310.2 218.2l2 3.5-4.1 0z"/>
<path stroke="#00cd00" d="M278.1 240.4a1.5 1.5 0 1 0 3 0a1.5 1.5 0 1 0-3 0M301.4 240.4a1.5 1.5 0 1 0 3 0a1.5 1.5 0 1 0-3 0M287.9 240.4a1.5 1.5 0 1 0 3 0a1.5 1.5 0 1 0-3 0M280.3 260.4a1.5 1.5 0 1 0 3 0a1.5 1.5 0 1 0-3 0M298.4 240.4a1.5 1.5 0 1 0 3 0a1.5 1.5 0 1 0-3 0M288.3 240.4a1.5 1.5 0 1 0 3 0a1.5 1.5 0 1 0-3 0M295.2 240.4a1.5 1.5 0 1 0 3 0a1.5 1.5 0 1 0-3 0M274.9 220.6a1.5 1.5 0 1 0 3 0a1.5 1.5 0 1 0-3 0M281.4 220.6a1.5 1.5 0 1 0 3 0a1.5 1.5 0 1 0-3 0M281.5 260.4a1.5 1.5 0 1 0 3 0a1.5 1.5 0 1 0-3 0M286.5 260.4a1.5 1.5 0 1 0 3 0a1.5 1.5 0 1 0-3 0M285.8 240.4a1.5 1.5 0 1 0 3 0a1.5 1.5 0 1 0-3 0M291.8 260.4a1.5 1.5 0 1 0 3 0a1.5 1.5 0 1 0-3 0M302.9 260.4a1.5 1.5 0 1 0 3 0a1.5 1.5 0 1 0-3 0M306.4 220.6a1.5 1.5 0 1 0 3 0a1.5 1.5 0 1 0-3 0M281.7 260.4a1.5 1.5 0 1 0 3 0a1.5 1.5 0 1 0-3 0M286.9 260.4a1.5 1.5 0 1 0 3 0a1.5 1.5 0 1 0-3 0M287.9 220.6a1.5 1.5 0 1 0 3 0a1.5 1.5 0 1 0-3 0M298.1 240.4a1.5 1.5 0 1 0 3 0a1.5 1.5 0 1 0-3 0M294.7 280.2a1.5 1.5 0 1 0 3 0a1.5 1.5 0 1 0-3 0M276.3 260.4a1.5 1.5 0 1 0 3 0a1.5 1.5 0 1 0-3 0M303 240.4a1.5 1.5 0 1 0 3 0a1.5 1.5 0 1 0-3 0M299.8 260.4a1.5 1.5 0 1 0 3 0a1.5 1.5 0 1 0-3 0M294.8 240.4a1.5 1.5 0 1 0 3 0a1.5 1.5 0 1 0-3 0M286.1 240.4a1.5 1.5 0 1 0 3 0a1.5 1.5 0 1 0-3 0M295.5 260.4a1.5 1.5 0 1 0 3 0a1.5 1.5 0 1 0-3 0M292.1 240.4a1.5 1.5 0 1 0 3 0a1.5 1.5 0 1 0-3 0M286.1 220.6a1.5 1.5 0 1 0 3 0a1.5 1.5 0 1 0-3 0M286 260.4a1.5 1.5 0 1 0 3 0a1.5 1.5 0 1 0-3 0M278.8 240.4a1.5 1.5 0 1 0 3 0a1.5 1.5 0 1 0-3 0M285.1 260.4a1.5 1.5 0 1 0 3 0a1.5 1.5 0 1 0-3 0M285.9 260.4a1.5 1.5 0 1 0 3 0a1.5 1.5 0 1 0-3 0M285.6 240.4a1.5 1.5 0 1 0 3 0a1.5 1.5 0 1 0-3 0M290.2 260.4a1.5 1.5 0 1 0 3 0a1.5 1.5 0 1 0-3 0M282.7 260.4a1.5 1.5 0 1 0 3 0a1.5 1.5 0 1 0-3 0M282.8 240.4a1.5 1.5 0 1 0 3 0a1.5 1.5 0 1 0-3 0M267 240.4a1.5 1.5 0 1 0 3 0a1.5 1.5 0 1 0-3 0M287.7 240.4a1.5 1.5 0 1 0 3 0a1.5 1.5 0 1 0-3 0M287.3 240.4a1.5 1.5 0 1 0 3 0a1.5 1.5 0 1 0-3 0M302.5 260.4a1.5 1.5 0 1 0 3 0a1.5 1.5 0 1 0-3 0M292.8 280.2a1.5 1.5 0 1 0 3 0a1.5 1.5 0 1 0-3 0M289 240.4a1.5 1.5 0 1 0 3 0a1.5 1.5 0 1 0-3 0M286.6 260.4a1.5 1.5 0 1 0 3 0a1.5 1.5 0 1 0-3 0M286.6 240.4a1.5 1.5 0 1 0 3 0a1.5 1.5 0 1 0-3 0M280.8 220.6a1.5 1.5 0 1 0 3 0a1.5 1.5 0 1 0-3 0M289 240.4a1.5 1.5 0 1 0 3 0a1.5 1.5 0 1 0-3 0M295.1 260.4a1.5 1.5 0 1 0 3 0a1.5 1.5 0 1 0-3 0"/>
<path stroke="#0000ff" d="M322.7 218.2l2 3.5-4.1 0zM307.2 238.1l2 3.5-4.1 0zM296.1 238.1l2 3.5-4.1 0zM321.4 238.1l2 3.5-4.1 0zM314.9 218.2l2 3.5-4.1 0zM299.4 218.2l2 3.5-4.1 0zM318.4 238.1l2 3.5-4.1 0zM309.9 238.1l2 3.5-4.1 0zM314.8 238.1l2 3.5-4.1 0zM319.2 218.2l2 3.5-4.1 0zM314.3 218.2l2 3.5-4.1 0zM304.1 238.1l2 3.5-4.1 0zM301.4 238.1l2 3.5-4.1 0zM307.8 218.2l2 3.5-4.1 0zM313.9 238.1l2 3.5-4.1 0zM318.3 218.2l2 3.5-4.1 0zM321.5 218.2l2 3.5-4.1 0zM294.6 218.2l2 3.5-4.1 0zM307.8 218.2l2 3.5-4.1 0zM326.5 218.2l2 3.5-4.1 0zM320.8 218.2l2 3.5-4.1 0zM297.7 218.2l2 3.5-4.1 0zM310.5 238.1l2 3.5-4.1 0zM313.8 238.1l2 3.5-4.1 0zM318.1 238.1l2 3.5-4.1 0zM326.4 218.2l2 3.5-4.1 0zM302.5 238.1l2 3.5-4.1 0zM319.5 218.2l2 3.5-4.1 0zM308.4 238.1l2 3.5-4.1 0zM326.8 218.2l2 3.5-4.1 0zM310.5 218.2l2 3.5-4.1 0zM307.8 238.1l2 3.5-4.1 0zM307.4 218.2l2 3.5-4.1 0zM314.2 218.2l2 3.5-4.1 0zM312.5 238.1l2 3.5-4.1 0zM317.1 218.2l2 3.5-4.1 0zM308.3 238.1l2 3.5-4.1 0zM310.3 238.1l2 3.5-4.1 0zM313.8 238.1l2 3.5-4.1 0z"/>
<path stroke="#00cd00" d="M279.7 220.6a1.5 1.5 0 1 0 3 0a1.5 1.5 0 1 0-3 0M291.6 260.4a1.5 1.5 0 1 0 3 0a1.5 1.5 0 1 0-3 0M283.3 260.4a1.5 1.5 0 1 0 3 0a1.5 1.5 0 1 0-3 0M289.7 220.6a1.5 1.5 0 1 0 3 0a1.5 1.5 0 1 0-3 0M278.1 260.4a1.5 1.5 0 1 0 3 0a1.5 1.5 0 1 0-3 0M278.5 220.6a1.5 1.5 0 1 0 3 0a1.5 1.5 0 1 0-3 0M290.4 220.6a1.5 1.5 0 1 0 3 0a1.5 1.5 0 1 0-3 0M286.7 260.4a1.5 1.5 0 1 0 3 0a1.5 1.5 0 1 0-3 0M284.5 260.4a1.5 1.5 0 1 0 3 0a1.5 1.5 0 1 0-3 0M298.6 240.4a1.5 1.5 0 1 0 3 0a1.5 1.5 0 1 0-3 0M281.9 260.4a1.5 1.5 0 1 0 3 0a1.5 1.5 0 1 0-3 0M284.2 260.4a1.5 1.5 0 1 0 3 0a1.5 1.5 0 1 0-3 0M293.3 240.4a1.5 1.5 0 1 0 3 0a1.5 1.5 0 1 0-3 0M296.9 240.4a1.5 1.5 0 1 0 3 0a1.5 1.5 0 1 0-3 0M306.6 260.4a1.5 1.5 0 1 0 3 0a1.5 1.5 0 1 0-3 0M290.9 260.4a1.5 1.5 0 1 0 3 0a1.5 1.5 0 1 0-3 0M272.9 240.4a1.5 1.5 0 1 0 3 0a1.5 1.5 0 1 0-3 0M303 220.6a1.5 1.5 0 1 0 3 0a1.5 1.5 0 1 0-3 0M297.3 220.6a1.5 1.5 0 1 0 3 0a1.5 1.5 0 1 0-3 0M285.4 260.4a1.5 1.5 0 1 0 3 0a1.5 1.5 0 1 0-3 0M280.3 260.4a1.5 1.5 0 1 0 3 0a1.5 1.5 0 1 0-3 0M275.9 240.4a1.5 1.5 0 1 0 3 0a1.5 1.5 0 1 0-3 0M278.7 240.4a1.5 1.5 0 1 0 3 0a1.5 1.5 0 1 0-3 0M281.2 260.4a1.5 1.5 0 1 0 3 0a1.5 1.5 0 1 0-3 0M287.3 240.4a1.5 1.5 0 1 0 3 0a1.5 1.5 0 1 0-3 0M292.9 240.4a1.5 1.5 0 1 0 3 0a1.5 1.5 0 1 0-3 0M284.5 220.6a1.5 1.5 0 1 0 3 0a1.5 1.5 0 1 0-3 0M280.8 260.4a1.5 1.5 0 1 0 3 0a1.5 1.5 0 1 0-3 0M291.1 240.4a1.5 1.5 0 1 0 3 0a1.5 1.5 0 1 0-3 0M314.2 240.4a1.5 1.5 0 1 0 3 0a1.5 1.5 0 1 0-3 0M274.6 260.4a1.5 1.5 0 1 0 3 0a1.5 1.5 0 1 0-3 0M281.4 260.4a1.5 1.5 0 1 0 3 0a1.5 1.5 0 1 0-3 0M282 240.4a1.5 1.5 0 1 0 3 0a1.5 1.5 0 1 0-3 0M282.6 220.6a1.5 1.5 0 1 0 3 0a1.5 1.5 0 1 0-3 0M297.9 240.4a1.5 1.5 0 1 0 3 0a1.5 1.5 0 1 0-3 0M268.9 240.4a1.5 1.5 0 1 0 3 0a1.5 1.5 0 1 0-3 0M291.3 240.4a1.5 1.5 0 1 0 3 0a1.5 1.5 0 1 0-3 0M285.9 260.4a1.5 1.5 0 1 0 3 0a1.5 1.5 0 1 0-3 0M278.3 260.4a1.5 1.5 0 1 0 3 0a1.5 1.5 0 1 0-3 0M281.8 240.4a1.5 1.5 0 1 0 3 0a1.5 1.5 0 1 0-3 0M295.1 240.4a1.5 1.5 0 1 0 3 0a1.5 1.5 0 1 0-3 0M287.1 260.4a1.5 1.5 0 1 0 3 0a1.5 1.5 0 1 0-3 0M288.3 260.4a1.5 1.5 0 1 0 3 0a1.5 1.5 0 1 0-3 0M292.5 260.4a1.5 1.5 0 1 0 3 0a1.5 1.5 0 1 0-3 0"/>
<path stroke="#0000ff" d="M312.4 238.1l2 3.5-4.1 0zM307.8 218.2l2 3.5-4.1 0zM314.5 218.2l2 3.5-4.1 0zM313.8 238.1l2 3.5-4.1 0zM302.6 238.1l2 3.5-4.1 0zM324.6 238.1l2 3.5-4.1 0zM326.1 218.2l2 3.5-4.1 0zM300 238.1l2 3.5-4.1 0zM299.9 218.2l2 3.5-4.1 0zM322.7 218.2l2 3.5-4.1 0zM310.8 218.2l2 3.5-4.1 0zM317.2 238.1l2 3.5-4.1 0zM319.9 238.1l2 3.5-4.1 0zM320.8 218.2l2 3.5-4.1 0zM307.5 238.1l2 3.5-4.1 0zM323 218.2l2 3.5-4.1 0zM306.8 218.2l2 3.5-4.1 0zM307.6 218.2l2 3.5-4.1 0zM328.8 218.2l2 3.5-4.1 0zM302.6 218.2l2 3.5-4.1 0zM293.9 238.1l2 3.5-4.1 0zM299.7 238.1l2 3.5-4.1 0zM318.2 218.2l2 3.5-4.1 0zM304.6 218.2l2 3.5-4.1 0zM316.9 218.2l2 3.5-4.1 0zM297.1 238.1l2 3.5-4.1 0zM325.1 218.2l2 3.5-4.1 0zM288.6 218.2l2 3.5-4.1 0zM327.6 218.2l2 3.5-4.1 0zM307.8 238.1l2 3.5-4.1 0zM314.1 218.2l2 3.5-4.1 0zM309.7 238.1l2 3.5-4.1 0zM312.4 218.2l2 3.5-4.1 0zM311.4 238.1l2 3.5-4.1 0zM309.8 238.1l2 3.5-4.1 0zM311.5 238.1l2 3.5-4.1 0zM318 218.2l2 3.5-4.1 0zM311.1 218.2l2 3.5-4.1 0zM328.7 218.2l2 3.5-4.1 0zM331.7 218.2l2 3.5-4.1 0zM309.5 218.2l2 3.5-4.1 0zM327.1 218.2l2 3.5-4.1 0z"/>
<path stroke="#0000ff" d="M329.5 218.2l2 3.5-4.1 0zM310.1 238.1l2 3.5-4.1 0zM322 238.1l2 3.5-4.1 0zM316.8 218.2l2 3.5-4.1 0zM316.9 238.1l2 3.5-4.1 0zM314 238.1l2 3.5-4.1 0zM309 238.1l2 3.5-4.1 0zM304.3 238.1l2 3.5-4.1 0zM307.4 218.2l2 3.5-4.1 0zM310.3 218.2l2 3.5-4.1 0zM315.9 238.1l2 3.5-4.1 0zM307.3 238.1l2 3.5-4.1 0zM311.4 238.1l2 3.5-4.1 0zM326.5 218.2l2 3.5-4.1 0zM312.1 218.2l2 3.5-4.1 0zM308.4 238.1l2 3.5-4.1 0zM318.2 238.1l2 3.5-4.1 0zM307.1 218.2l2 3.5-4.1 0zM312.8 218.2l2 3.5-4.1 0zM301.6 218.2l2 3.5-4.1 0zM301.3 258l2 3.5-4.1 0zM300.3 218.2l2 3.5-4.1 0zM313.9 218.2l2 3.5-4.1 0zM319.6 218.2l2 3.5-4.1 0zM306.3 218.2l2 3.5-4.1 0zM309.2 238.1l2 3.5-4.1 0zM299.6 218.2l2 3.5-4.1 0zM306.6 218.2l2 3.5-4.1 0zM308.6 218.2l2 3.5-4.1 0zM310.3 218.2l2 3.5-4.1 0zM311.7 218.2l2 3.5-4.1 0zM313.2 218.2l2 3.5-4.1 0zM303.4 218.2l2 3.5-4.1 0zM308.3 218.2l2 3.5-4.1 0zM301.6 238.1l2 3.5-4.1 0zM313.8 238.1l2 3.5-4.1 0zM292.1 218.2l2 3.5-4.1 0zM312.5 238.1l2 3.5-4.1 0zM304.9 218.2l2 3.5-4.1 0zM309.9 238.1l2 3.5-4.1 0zM317.4 218.2l2 3.5-4.1 0zM324.7 218.2l2 3.5-4.1 0zM301.8 238.1l2 3.5-4.1 0zM320 218.2l2 3.5-4.1 0zM309 238.1l2 3.5-4.1 0zM299.9 218.2l2 3.5-4.1 0zM307.8 238.1l2 3.5-4.1 0zM300.9 218.2l2 3.5-4.1 0zM323.4 238.1l2 3.5-4.1 0zM296.1 218.2l2 3.5-4.1 0zM298.6 218.2l2 3.5-4.1 0zM311.8 238.1l2 3.5-4.1 0zM316.5 238.1l2 3.5-4.1 0zM306.7 218.2l2 3.5-4.1 0zM302.3 238.1l2 3.5-4.1 0zM323.6 218.2l2 3.5-4.1 0zM321.1 238.1l2 3.5-4.1 0zM302.5 218.2l2 3.5-4.1 0zM315.5 238.1l2 3.5-4.1 0zM309.1 238.1l2 3.5-4.1 0zM302.8 218.2l2 3.5-4.1 0zM327.4 218.2l2 3.5-4.1 0zM322.4 218.2l2 3.5-4.1 0zM311 218.2l2 3.5-4.1 0zM309.5 218.2l2 3.5-4.1 0zM307.9 218.2l2 3.5-4.1 0zM317 238.1l2 3.5-4.1 0zM322.5 238.1l2 3.5-4.1 0zM287.7 218.2l2 3.5-4.1 0zM298.9 218.2l2 3.5-4.1 0zM317.6 218.2l2 3.5-4.1 0zM326.4 218.2l2 3.5-4.1 0zM301.9 238.1l2 3.5-4.1 0zM299.9 238.1l2 3.5-4.1 0zM289.6 218.2l2 3.5-4.1 0zM307.3 238.1l2 3.5-4.1 0zM289 218.2l2 3.5-4.1 0zM320.1 218.2l2 3.5-4.1 0zM302.7 238.1l2 3.5-4.1 0zM313.6 238.1l2 3.5-4.1 0zM322.6 218.2l2 3.5-4.1 0zM306.4 238.1l2 3.5-4.1 0zM315.5 218.2l2 3.5-4.1 0zM319.4 238.1l2 3.5-4.1 0zM307.2 218.2l2 3.5-4.1 0zM302.3 218.2l2 3.5-4.1 0z"/>
</g>
<rect x="225.5" y="196.5" width="130.5" height="107.1" fill="none" stroke="#4c4c4c" stroke-width="1.15"/>
<path d="M230.1 303.6v4.9M247.4 303.6v4.9M264.7 303.6v4.9M282 303.6v4.9M299.3 303.6v4.9M316.6 303.6v4.9M333.9 303.6v4.9M351.2 303.6v4.9M225.5 280.2h-4.9M225.5 260.4h-4.9M225.5 240.4h-4.9M225.5 220.6h-4.9" stroke="#4c4c4c" stroke-width="1.1" fill="none"/>
<g class="t">
<text x="230.3" y="320.8">−8</text>
<text x="247.6" y="320.8">−6</text>
<text x="264.9" y="320.8">−4</text>
<text x="282.2" y="320.8">−2</text>
<text x="299.3" y="320.8">0</text>
<text x="316.6" y="320.8">2</text>
<text x="333.9" y="320.8">4</text>
<text x="351.2" y="320.8">6</text>
<text x="214" y="282.9">0</text>
<text x="214" y="263.1">1</text>
<text x="214" y="243.1">2</text>
<text x="214" y="223.2">3</text>
</g>
<g transform="translate(284.9 333.6)"><text class="l" x="0" y="0">X</text><text class="s" x="7.9" y="3.3">1</text><text class="s" x="8.9" y="-4.9">c</text></g>
<g transform="translate(200 256.9) rotate(-90)"><text class="l" x="0" y="0">X</text><text class="s" x="7.9" y="3.3">1</text><text class="s" x="8.9" y="-4.9">o</text></g>
<g fill="none" stroke-linejoin="round" stroke-width="1.25">
<path stroke="#ff0000" d="M452.4 280.2l2.1-2.1 2.1 2.1-2.1 2.1zM451.9 280.2l2.1-2.1 2.1 2.1-2.1 2.1zM459.5 280.2l2.1-2.1 2.1 2.1-2.1 2.1zM455.8 280.2l2.1-2.1 2.1 2.1-2.1 2.1zM451.7 280.2l2.1-2.1 2.1 2.1-2.1 2.1zM463 280.2l2.1-2.1 2.1 2.1-2.1 2.1zM460.6 280.2l2.1-2.1 2.1 2.1-2.1 2.1zM462.4 280.2l2.1-2.1 2.1 2.1-2.1 2.1zM445.5 280.2l2.1-2.1 2.1 2.1-2.1 2.1zM456.6 280.2l2.1-2.1 2.1 2.1-2.1 2.1zM464.8 280.2l2.1-2.1 2.1 2.1-2.1 2.1zM446.9 280.2l2.1-2.1 2.1 2.1-2.1 2.1zM449.3 280.2l2.1-2.1 2.1 2.1-2.1 2.1zM472.8 280.2l2.1-2.1 2.1 2.1-2.1 2.1zM451.2 280.2l2.1-2.1 2.1 2.1-2.1 2.1zM449 280.2l2.1-2.1 2.1 2.1-2.1 2.1zM457 280.2l2.1-2.1 2.1 2.1-2.1 2.1zM447.6 280.2l2.1-2.1 2.1 2.1-2.1 2.1zM452.1 280.2l2.1-2.1 2.1 2.1-2.1 2.1zM453.7 280.2l2.1-2.1 2.1 2.1-2.1 2.1zM445.4 280.2l2.1-2.1 2.1 2.1-2.1 2.1zM448.5 280.2l2.1-2.1 2.1 2.1-2.1 2.1zM455.7 280.2l2.1-2.1 2.1 2.1-2.1 2.1zM441.1 280.2l2.1-2.1 2.1 2.1-2.1 2.1zM446.2 280.2l2.1-2.1 2.1 2.1-2.1 2.1zM451.2 280.2l2.1-2.1 2.1 2.1-2.1 2.1zM456.1 280.2l2.1-2.1 2.1 2.1-2.1 2.1zM444.8 280.2l2.1-2.1 2.1 2.1-2.1 2.1zM451.8 280.2l2.1-2.1 2.1 2.1-2.1 2.1zM448.2 280.2l2.1-2.1 2.1 2.1-2.1 2.1zM442.4 280.2l2.1-2.1 2.1 2.1-2.1 2.1zM472.6 280.2l2.1-2.1 2.1 2.1-2.1 2.1zM458 280.2l2.1-2.1 2.1 2.1-2.1 2.1zM459.5 280.2l2.1-2.1 2.1 2.1-2.1 2.1zM440.8 280.2l2.1-2.1 2.1 2.1-2.1 2.1zM444.6 280.2l2.1-2.1 2.1 2.1-2.1 2.1zM443.9 280.2l2.1-2.1 2.1 2.1-2.1 2.1zM446.2 280.2l2.1-2.1 2.1 2.1-2.1 2.1zM461 280.2l2.1-2.1 2.1 2.1-2.1 2.1zM447.9 280.2l2.1-2.1 2.1 2.1-2.1 2.1zM455 280.2l2.1-2.1 2.1 2.1-2.1 2.1zM455.6 280.2l2.1-2.1 2.1 2.1-2.1 2.1zM459.7 280.2l2.1-2.1 2.1 2.1-2.1 2.1zM456.5 280.2l2.1-2.1 2.1 2.1-2.1 2.1zM455.3 280.2l2.1-2.1 2.1 2.1-2.1 2.1zM473.3 280.2l2.1-2.1 2.1 2.1-2.1 2.1zM444.8 280.2l2.1-2.1 2.1 2.1-2.1 2.1zM459.4 280.2l2.1-2.1 2.1 2.1-2.1 2.1zM455.1 280.2l2.1-2.1 2.1 2.1-2.1 2.1zM458 280.2l2.1-2.1 2.1 2.1-2.1 2.1zM447.8 280.2l2.1-2.1 2.1 2.1-2.1 2.1zM455.2 280.2l2.1-2.1 2.1 2.1-2.1 2.1zM460.3 280.2l2.1-2.1 2.1 2.1-2.1 2.1zM454 280.2l2.1-2.1 2.1 2.1-2.1 2.1zM464.9 280.2l2.1-2.1 2.1 2.1-2.1 2.1zM454.2 280.2l2.1-2.1 2.1 2.1-2.1 2.1zM450.9 280.2l2.1-2.1 2.1 2.1-2.1 2.1zM446 280.2l2.1-2.1 2.1 2.1-2.1 2.1zM457.7 280.2l2.1-2.1 2.1 2.1-2.1 2.1zM461.8 280.2l2.1-2.1 2.1 2.1-2.1 2.1zM451.8 280.2l2.1-2.1 2.1 2.1-2.1 2.1zM456.6 280.2l2.1-2.1 2.1 2.1-2.1 2.1zM447.8 280.2l2.1-2.1 2.1 2.1-2.1 2.1zM462.7 280.2l2.1-2.1 2.1 2.1-2.1 2.1zM445.1 280.2l2.1-2.1 2.1 2.1-2.1 2.1zM451.8 280.2l2.1-2.1 2.1 2.1-2.1 2.1zM463.5 280.2l2.1-2.1 2.1 2.1-2.1 2.1zM469.3 280.2l2.1-2.1 2.1 2.1-2.1 2.1zM437.5 280.2l2.1-2.1 2.1 2.1-2.1 2.1zM463.7 280.2l2.1-2.1 2.1 2.1-2.1 2.1zM459 280.2l2.1-2.1 2.1 2.1-2.1 2.1zM457.7 280.2l2.1-2.1 2.1 2.1-2.1 2.1zM460 280.2l2.1-2.1 2.1 2.1-2.1 2.1zM446.4 280.2l2.1-2.1 2.1 2.1-2.1 2.1zM456.1 280.2l2.1-2.1 2.1 2.1-2.1 2.1zM450.1 280.2l2.1-2.1 2.1 2.1-2.1 2.1zM460.1 280.2l2.1-2.1 2.1 2.1-2.1 2.1zM456.8 280.2l2.1-2.1 2.1 2.1-2.1 2.1zM480.1 280.2l2.1-2.1 2.1 2.1-2.1 2.1zM455.6 280.2l2.1-2.1 2.1 2.1-2.1 2.1zM459.8 280.2l2.1-2.1 2.1 2.1-2.1 2.1zM450.1 280.2l2.1-2.1 2.1 2.1-2.1 2.1zM466.1 280.2l2.1-2.1 2.1 2.1-2.1 2.1zM469.1 280.2l2.1-2.1 2.1 2.1-2.1 2.1zM451.3 280.2l2.1-2.1 2.1 2.1-2.1 2.1zM452.7 280.2l2.1-2.1 2.1 2.1-2.1 2.1zM448.1 280.2l2.1-2.1 2.1 2.1-2.1 2.1z"/>
<path stroke="#ff0000" d="M467.3 280.2l2.1-2.1 2.1 2.1-2.1 2.1zM463.2 280.2l2.1-2.1 2.1 2.1-2.1 2.1zM454.6 280.2l2.1-2.1 2.1 2.1-2.1 2.1zM458.2 280.2l2.1-2.1 2.1 2.1-2.1 2.1zM454.9 280.2l2.1-2.1 2.1 2.1-2.1 2.1zM461.4 280.2l2.1-2.1 2.1 2.1-2.1 2.1zM450 280.2l2.1-2.1 2.1 2.1-2.1 2.1zM457.2 280.2l2.1-2.1 2.1 2.1-2.1 2.1zM475.2 280.2l2.1-2.1 2.1 2.1-2.1 2.1zM454.5 280.2l2.1-2.1 2.1 2.1-2.1 2.1zM456.4 280.2l2.1-2.1 2.1 2.1-2.1 2.1zM459.1 280.2l2.1-2.1 2.1 2.1-2.1 2.1zM460.4 280.2l2.1-2.1 2.1 2.1-2.1 2.1zM450.5 280.2l2.1-2.1 2.1 2.1-2.1 2.1zM464.3 280.2l2.1-2.1 2.1 2.1-2.1 2.1zM447.2 280.2l2.1-2.1 2.1 2.1-2.1 2.1zM463.8 280.2l2.1-2.1 2.1 2.1-2.1 2.1zM476.9 280.2l2.1-2.1 2.1 2.1-2.1 2.1zM463.5 280.2l2.1-2.1 2.1 2.1-2.1 2.1zM453.8 280.2l2.1-2.1 2.1 2.1-2.1 2.1zM459.6 280.2l2.1-2.1 2.1 2.1-2.1 2.1zM459.8 280.2l2.1-2.1 2.1 2.1-2.1 2.1zM455.8 280.2l2.1-2.1 2.1 2.1-2.1 2.1zM450.3 240.4l2.1-2.1 2.1 2.1-2.1 2.1zM469.4 280.2l2.1-2.1 2.1 2.1-2.1 2.1zM441.5 280.2l2.1-2.1 2.1 2.1-2.1 2.1zM457.7 280.2l2.1-2.1 2.1 2.1-2.1 2.1zM462.1 280.2l2.1-2.1 2.1 2.1-2.1 2.1zM449.2 280.2l2.1-2.1 2.1 2.1-2.1 2.1zM455.3 280.2l2.1-2.1 2.1 2.1-2.1 2.1zM462.7 280.2l2.1-2.1 2.1 2.1-2.1 2.1zM454.9 280.2l2.1-2.1 2.1 2.1-2.1 2.1zM461.4 260.4l2.1-2.1 2.1 2.1-2.1 2.1zM463.2 280.2l2.1-2.1 2.1 2.1-2.1 2.1zM473.7 280.2l2.1-2.1 2.1 2.1-2.1 2.1zM457.2 280.2l2.1-2.1 2.1 2.1-2.1 2.1zM456.8 280.2l2.1-2.1 2.1 2.1-2.1 2.1zM473.4 280.2l2.1-2.1 2.1 2.1-2.1 2.1zM460.4 280.2l2.1-2.1 2.1 2.1-2.1 2.1zM460.8 280.2l2.1-2.1 2.1 2.1-2.1 2.1zM458.5 280.2l2.1-2.1 2.1 2.1-2.1 2.1zM475 280.2l2.1-2.1 2.1 2.1-2.1 2.1zM452.3 280.2l2.1-2.1 2.1 2.1-2.1 2.1zM447.8 280.2l2.1-2.1 2.1 2.1-2.1 2.1zM447.6 280.2l2.1-2.1 2.1 2.1-2.1 2.1z"/>
<path stroke="#00cd00" d="M477.5 220.6a1.5 1.5 0 1 0 3 0a1.5 1.5 0 1 0-3 0M489.5 240.4a1.5 1.5 0 1 0 3 0a1.5 1.5 0 1 0-3 0M470.5 220.6a1.5 1.5 0 1 0 3 0a1.5 1.5 0 1 0-3 0M484.7 240.4a1.5 1.5 0 1 0 3 0a1.5 1.5 0 1 0-3 0M478.7 260.4a1.5 1.5 0 1 0 3 0a1.5 1.5 0 1 0-3 0M458.2 220.6a1.5 1.5 0 1 0 3 0a1.5 1.5 0 1 0-3 0M486.7 240.4a1.5 1.5 0 1 0 3 0a1.5 1.5 0 1 0-3 0M486.2 240.4a1.5 1.5 0 1 0 3 0a1.5 1.5 0 1 0-3 0M480 220.6a1.5 1.5 0 1 0 3 0a1.5 1.5 0 1 0-3 0M487 220.6a1.5 1.5 0 1 0 3 0a1.5 1.5 0 1 0-3 0M486.2 280.2a1.5 1.5 0 1 0 3 0a1.5 1.5 0 1 0-3 0M472.9 260.4a1.5 1.5 0 1 0 3 0a1.5 1.5 0 1 0-3 0M480.4 260.4a1.5 1.5 0 1 0 3 0a1.5 1.5 0 1 0-3 0M478.5 280.2a1.5 1.5 0 1 0 3 0a1.5 1.5 0 1 0-3 0M478.5 240.4a1.5 1.5 0 1 0 3 0a1.5 1.5 0 1 0-3 0M473.4 240.4a1.5 1.5 0 1 0 3 0a1.5 1.5 0 1 0-3 0M472.2 260.4a1.5 1.5 0 1 0 3 0a1.5 1.5 0 1 0-3 0M469.3 240.4a1.5 1.5 0 1 0 3 0a1.5 1.5 0 1 0-3 0M474.7 260.4a1.5 1.5 0 1 0 3 0a1.5 1.5 0 1 0-3 0M468 240.4a1.5 1.5 0 1 0 3 0a1.5 1.5 0 1 0-3 0M485.3 220.6a1.5 1.5 0 1 0 3 0a1.5 1.5 0 1 0-3 0M474.9 260.4a1.5 1.5 0 1 0 3 0a1.5 1.5 0 1 0-3 0M470.9 220.6a1.5 1.5 0 1 0 3 0a1.5 1.5 0 1 0-3 0M482.9 260.4a1.5 1.5 0 1 0 3 0a1.5 1.5 0 1 0-3 0M464.9 220.6a1.5 1.5 0 1 0 3 0a1.5 1.5 0 1 0-3 0M479 240.4a1.5 1.5 0 1 0 3 0a1.5 1.5 0 1 0-3 0M494.7 220.6a1.5 1.5 0 1 0 3 0a1.5 1.5 0 1 0-3 0M477.1 260.4a1.5 1.5 0 1 0 3 0a1.5 1.5 0 1 0-3 0M478 260.4a1.5 1.5 0 1 0 3 0a1.5 1.5 0 1 0-3 0M472.2 220.6a1.5 1.5 0 1 0 3 0a1.5 1.5 0 1 0-3 0M461.4 260.4a1.5 1.5 0 1 0 3 0a1.5 1.5 0 1 0-3 0M477.1 240.4a1.5 1.5 0 1 0 3 0a1.5 1.5 0 1 0-3 0M491.5 280.2a1.5 1.5 0 1 0 3 0a1.5 1.5 0 1 0-3 0M472.1 260.4a1.5 1.5 0 1 0 3 0a1.5 1.5 0 1 0-3 0M497.9 220.6a1.5 1.5 0 1 0 3 0a1.5 1.5 0 1 0-3 0M470.6 260.4a1.5 1.5 0 1 0 3 0a1.5 1.5 0 1 0-3 0M469.2 260.4a1.5 1.5 0 1 0 3 0a1.5 1.5 0 1 0-3 0M470.8 240.4a1.5 1.5 0 1 0 3 0a1.5 1.5 0 1 0-3 0M469.3 260.4a1.5 1.5 0 1 0 3 0a1.5 1.5 0 1 0-3 0M486.2 240.4a1.5 1.5 0 1 0 3 0a1.5 1.5 0 1 0-3 0M464.2 260.4a1.5 1.5 0 1 0 3 0a1.5 1.5 0 1 0-3 0M464.3 240.4a1.5 1.5 0 1 0 3 0a1.5 1.5 0 1 0-3 0"/>
<path stroke="#ff0000" d="M442.1 280.2l2.1-2.1 2.1 2.1-2.1 2.1zM431.3 280.2l2.1-2.1 2.1 2.1-2.1 2.1zM448.3 280.2l2.1-2.1 2.1 2.1-2.1 2.1zM450 280.2l2.1-2.1 2.1 2.1-2.1 2.1zM455.6 280.2l2.1-2.1 2.1 2.1-2.1 2.1zM471.7 280.2l2.1-2.1 2.1 2.1-2.1 2.1zM472.8 280.2l2.1-2.1 2.1 2.1-2.1 2.1zM438.1 280.2l2.1-2.1 2.1 2.1-2.1 2.1zM464.5 280.2l2.1-2.1 2.1 2.1-2.1 2.1zM463.3 280.2l2.1-2.1 2.1 2.1-2.1 2.1zM467.5 280.2l2.1-2.1 2.1 2.1-2.1 2.1zM450.1 280.2l2.1-2.1 2.1 2.1-2.1 2.1zM448.2 280.2l2.1-2.1 2.1 2.1-2.1 2.1zM435.7 280.2l2.1-2.1 2.1 2.1-2.1 2.1zM446.8 280.2l2.1-2.1 2.1 2.1-2.1 2.1zM462.2 280.2l2.1-2.1 2.1 2.1-2.1 2.1zM477 280.2l2.1-2.1 2.1 2.1-2.1 2.1zM450.7 280.2l2.1-2.1 2.1 2.1-2.1 2.1zM451.9 280.2l2.1-2.1 2.1 2.1-2.1 2.1zM444.7 280.2l2.1-2.1 2.1 2.1-2.1 2.1zM450.7 280.2l2.1-2.1 2.1 2.1-2.1 2.1zM441.7 280.2l2.1-2.1 2.1 2.1-2.1 2.1zM452.3 280.2l2.1-2.1 2.1 2.1-2.1 2.1zM460.1 280.2l2.1-2.1 2.1 2.1-2.1 2.1zM462.9 280.2l2.1-2.1 2.1 2.1-2.1 2.1zM452.1 280.2l2.1-2.1 2.1 2.1-2.1 2.1zM443.6 280.2l2.1-2.1 2.1 2.1-2.1 2.1zM450.9 280.2l2.1-2.1 2.1 2.1-2.1 2.1zM439.1 280.2l2.1-2.1 2.1 2.1-2.1 2.1zM462.3 280.2l2.1-2.1 2.1 2.1-2.1 2.1zM472 280.2l2.1-2.1 2.1 2.1-2.1 2.1zM450.9 280.2l2.1-2.1 2.1 2.1-2.1 2.1zM445.9 280.2l2.1-2.1 2.1 2.1-2.1 2.1zM466.2 280.2l2.1-2.1 2.1 2.1-2.1 2.1zM452.4 280.2l2.1-2.1 2.1 2.1-2.1 2.1zM468.9 280.2l2.1-2.1 2.1 2.1-2.1 2.1zM443.5 280.2l2.1-2.1 2.1 2.1-2.1 2.1zM465 280.2l2.1-2.1 2.1 2.1-2.1 2.1zM468.7 280.2l2.1-2.1 2.1 2.1-2.1 2.1zM440.4 280.2l2.1-2.1 2.1 2.1-2.1 2.1zM455.7 280.2l2.1-2.1 2.1 2.1-2.1 2.1zM445.8 280.2l2.1-2.1 2.1 2.1-2.1 2.1z"/>
<path stroke="#00cd00" d="M479.7 240.4a1.5 1.5 0 1 0 3 0a1.5 1.5 0 1 0-3 0M459.5 240.4a1.5 1.5 0 1 0 3 0a1.5 1.5 0 1 0-3 0M489.6 220.6a1.5 1.5 0 1 0 3 0a1.5 1.5 0 1 0-3 0M474.3 220.6a1.5 1.5 0 1 0 3 0a1.5 1.5 0 1 0-3 0M471 260.4a1.5 1.5 0 1 0 3 0a1.5 1.5 0 1 0-3 0M475.7 220.6a1.5 1.5 0 1 0 3 0a1.5 1.5 0 1 0-3 0M472.9 220.6a1.5 1.5 0 1 0 3 0a1.5 1.5 0 1 0-3 0M475 260.4a1.5 1.5 0 1 0 3 0a1.5 1.5 0 1 0-3 0M490.1 260.4a1.5 1.5 0 1 0 3 0a1.5 1.5 0 1 0-3 0M467.4 220.6a1.5 1.5 0 1 0 3 0a1.5 1.5 0 1 0-3 0M482.5 260.4a1.5 1.5 0 1 0 3 0a1.5 1.5 0 1 0-3 0M469.3 220.6a1.5 1.5 0 1 0 3 0a1.5 1.5 0 1 0-3 0M478.8 240.4a1.5 1.5 0 1 0 3 0a1.5 1.5 0 1 0-3 0M465.2 260.4a1.5 1.5 0 1 0 3 0a1.5 1.5 0 1 0-3 0M466.3 240.4a1.5 1.5 0 1 0 3 0a1.5 1.5 0 1 0-3 0M475.6 220.6a1.5 1.5 0 1 0 3 0a1.5 1.5 0 1 0-3 0M476.5 220.6a1.5 1.5 0 1 0 3 0a1.5 1.5 0 1 0-3 0M473.7 260.4a1.5 1.5 0 1 0 3 0a1.5 1.5 0 1 0-3 0M486.4 240.4a1.5 1.5 0 1 0 3 0a1.5 1.5 0 1 0-3 0M473 220.6a1.5 1.5 0 1 0 3 0a1.5 1.5 0 1 0-3 0M493.7 220.6a1.5 1.5 0 1 0 3 0a1.5 1.5 0 1 0-3 0M485.3 260.4a1.5 1.5 0 1 0 3 0a1.5 1.5 0 1 0-3 0M486.6 220.6a1.5 1.5 0 1 0 3 0a1.5 1.5 0 1 0-3 0M462.9 220.6a1.5 1.5 0 1 0 3 0a1.5 1.5 0 1 0-3 0M486.8 220.6a1.5 1.5 0 1 0 3 0a1.5 1.5 0 1 0-3 0M469.4 220.6a1.5 1.5 0 1 0 3 0a1.5 1.5 0 1 0-3 0M489.9 240.4a1.5 1.5 0 1 0 3 0a1.5 1.5 0 1 0-3 0M486.7 280.2a1.5 1.5 0 1 0 3 0a1.5 1.5 0 1 0-3 0M481.6 260.4a1.5 1.5 0 1 0 3 0a1.5 1.5 0 1 0-3 0M470.7 260.4a1.5 1.5 0 1 0 3 0a1.5 1.5 0 1 0-3 0M478.6 260.4a1.5 1.5 0 1 0 3 0a1.5 1.5 0 1 0-3 0M489.3 280.2a1.5 1.5 0 1 0 3 0a1.5 1.5 0 1 0-3 0M482.1 240.4a1.5 1.5 0 1 0 3 0a1.5 1.5 0 1 0-3 0M506.2 220.6a1.5 1.5 0 1 0 3 0a1.5 1.5 0 1 0-3 0M464 260.4a1.5 1.5 0 1 0 3 0a1.5 1.5 0 1 0-3 0M464.8 220.6a1.5 1.5 0 1 0 3 0a1.5 1.5 0 1 0-3 0M472.9 220.6a1.5 1.5 0 1 0 3 0a1.5 1.5 0 1 0-3 0M466.2 260.4a1.5 1.5 0 1 0 3 0a1.5 1.5 0 1 0-3 0M472.9 220.6a1.5 1.5 0 1 0 3 0a1.5 1.5 0 1 0-3 0M470.4 260.4a1.5 1.5 0 1 0 3 0a1.5 1.5 0 1 0-3 0M477.7 260.4a1.5 1.5 0 1 0 3 0a1.5 1.5 0 1 0-3 0M477.2 220.6a1.5 1.5 0 1 0 3 0a1.5 1.5 0 1 0-3 0M469 260.4a1.5 1.5 0 1 0 3 0a1.5 1.5 0 1 0-3 0M474.1 260.4a1.5 1.5 0 1 0 3 0a1.5 1.5 0 1 0-3 0M498.6 220.6a1.5 1.5 0 1 0 3 0a1.5 1.5 0 1 0-3 0"/>
<path stroke="#ff0000" d="M438.9 280.2l2.1-2.1 2.1 2.1-2.1 2.1zM462.9 280.2l2.1-2.1 2.1 2.1-2.1 2.1zM463.3 280.2l2.1-2.1 2.1 2.1-2.1 2.1zM470.1 280.2l2.1-2.1 2.1 2.1-2.1 2.1zM442.9 280.2l2.1-2.1 2.1 2.1-2.1 2.1zM458 280.2l2.1-2.1 2.1 2.1-2.1 2.1zM457.2 280.2l2.1-2.1 2.1 2.1-2.1 2.1zM450.8 280.2l2.1-2.1 2.1 2.1-2.1 2.1zM460 280.2l2.1-2.1 2.1 2.1-2.1 2.1zM457.3 280.2l2.1-2.1 2.1 2.1-2.1 2.1zM446.8 240.4l2.1-2.1 2.1 2.1-2.1 2.1zM450 280.2l2.1-2.1 2.1 2.1-2.1 2.1zM462.4 280.2l2.1-2.1 2.1 2.1-2.1 2.1zM456.4 280.2l2.1-2.1 2.1 2.1-2.1 2.1zM455.5 240.4l2.1-2.1 2.1 2.1-2.1 2.1zM450 280.2l2.1-2.1 2.1 2.1-2.1 2.1zM439.9 280.2l2.1-2.1 2.1 2.1-2.1 2.1zM452.1 280.2l2.1-2.1 2.1 2.1-2.1 2.1zM451.9 280.2l2.1-2.1 2.1 2.1-2.1 2.1zM449.6 280.2l2.1-2.1 2.1 2.1-2.1 2.1zM453.7 280.2l2.1-2.1 2.1 2.1-2.1 2.1zM466.2 280.2l2.1-2.1 2.1 2.1-2.1 2.1zM445.3 280.2l2.1-2.1 2.1 2.1-2.1 2.1zM469.9 280.2l2.1-2.1 2.1 2.1-2.1 2.1zM455.7 280.2l2.1-2.1 2.1 2.1-2.1 2.1z"/>
<path stroke="#00cd00" d="M484.1 280.2a1.5 1.5 0 1 0 3 0a1.5 1.5 0 1 0-3 0M473.2 240.4a1.5 1.5 0 1 0 3 0a1.5 1.5 0 1 0-3 0M480.9 240.4a1.5 1.5 0 1 0 3 0a1.5 1.5 0 1 0-3 0M474 260.4a1.5 1.5 0 1 0 3 0a1.5 1.5 0 1 0-3 0M473.5 260.4a1.5 1.5 0 1 0 3 0a1.5 1.5 0 1 0-3 0M481.6 220.6a1.5 1.5 0 1 0 3 0a1.5 1.5 0 1 0-3 0M478 280.2a1.5 1.5 0 1 0 3 0a1.5 1.5 0 1 0-3 0M477.4 260.4a1.5 1.5 0 1 0 3 0a1.5 1.5 0 1 0-3 0M483.7 220.6a1.5 1.5 0 1 0 3 0a1.5 1.5 0 1 0-3 0M475.2 260.4a1.5 1.5 0 1 0 3 0a1.5 1.5 0 1 0-3 0M494.9 220.6a1.5 1.5 0 1 0 3 0a1.5 1.5 0 1 0-3 0M484.8 240.4a1.5 1.5 0 1 0 3 0a1.5 1.5 0 1 0-3 0M471.3 260.4a1.5 1.5 0 1 0 3 0a1.5 1.5 0 1 0-3 0M465.5 220.6a1.5 1.5 0 1 0 3 0a1.5 1.5 0 1 0-3 0M476 240.4a1.5 1.5 0 1 0 3 0a1.5 1.5 0 1 0-3 0M463.9 220.6a1.5 1.5 0 1 0 3 0a1.5 1.5 0 1 0-3 0M471.5 240.4a1.5 1.5 0 1 0 3 0a1.5 1.5 0 1 0-3 0M475.1 220.6a1.5 1.5 0 1 0 3 0a1.5 1.5 0 1 0-3 0M477.9 220.6a1.5 1.5 0 1 0 3 0a1.5 1.5 0 1 0-3 0M478.1 260.4a1.5 1.5 0 1 0 3 0a1.5 1.5 0 1 0-3 0M479.9 280.2a1.5 1.5 0 1 0 3 0a1.5 1.5 0 1 0-3 0M477.2 220.6a1.5 1.5 0 1 0 3 0a1.5 1.5 0 1 0-3 0M477.4 240.4a1.5 1.5 0 1 0 3 0a1.5 1.5 0 1 0-3 0M487.5 240.4a1.5 1.5 0 1 0 3 0a1.5 1.5 0 1 0-3 0M483.5 280.2a1.5 1.5 0 1 0 3 0a1.5 1.5 0 1 0-3 0M487.3 260.4a1.5 1.5 0 1 0 3 0a1.5 1.5 0 1 0-3 0"/>
<path stroke="#0000ff" d="M496.7 218.2l2 3.5-4.1 0zM513.1 258l2 3.5-4.1 0zM488.7 238.1l2 3.5-4.1 0zM495.1 238.1l2 3.5-4.1 0zM497.2 238.1l2 3.5-4.1 0zM490.9 258l2 3.5-4.1 0zM491.1 238.1l2 3.5-4.1 0zM506.5 238.1l2 3.5-4.1 0zM492.4 218.2l2 3.5-4.1 0zM503.5 238.1l2 3.5-4.1 0zM501.2 218.2l2 3.5-4.1 0zM505.3 258l2 3.5-4.1 0zM473.7 218.2l2 3.5-4.1 0zM483.1 218.2l2 3.5-4.1 0zM500 238.1l2 3.5-4.1 0zM496.7 218.2l2 3.5-4.1 0zM482 238.1l2 3.5-4.1 0zM496.1 218.2l2 3.5-4.1 0zM494.2 258l2 3.5-4.1 0zM500.2 238.1l2 3.5-4.1 0zM513.5 238.1l2 3.5-4.1 0zM496.3 258l2 3.5-4.1 0zM495.4 218.2l2 3.5-4.1 0zM503.8 218.2l2 3.5-4.1 0zM502.2 218.2l2 3.5-4.1 0zM501.6 258l2 3.5-4.1 0zM510.4 238.1l2 3.5-4.1 0zM501.3 218.2l2 3.5-4.1 0zM512 218.2l2 3.5-4.1 0zM483.9 218.2l2 3.5-4.1 0zM493.2 238.1l2 3.5-4.1 0zM497.2 218.2l2 3.5-4.1 0zM490.4 218.2l2 3.5-4.1 0zM488.9 218.2l2 3.5-4.1 0zM509 258l2 3.5-4.1 0zM503.4 238.1l2 3.5-4.1 0z"/>
<path stroke="#ff0000" d="M447.1 280.2l2.1-2.1 2.1 2.1-2.1 2.1zM449 280.2l2.1-2.1 2.1 2.1-2.1 2.1zM451.5 220.6l2.1-2.1 2.1 2.1-2.1 2.1zM460 280.2l2.1-2.1 2.1 2.1-2.1 2.1zM450.8 280.2l2.1-2.1 2.1 2.1-2.1 2.1zM470.8 280.2l2.1-2.1 2.1 2.1-2.1 2.1zM443 280.2l2.1-2.1 2.1 2.1-2.1 2.1zM453.5 280.2l2.1-2.1 2.1 2.1-2.1 2.1zM454.8 280.2l2.1-2.1 2.1 2.1-2.1 2.1zM464.8 280.2l2.1-2.1 2.1 2.1-2.1 2.1zM448.8 280.2l2.1-2.1 2.1 2.1-2.1 2.1zM456.3 280.2l2.1-2.1 2.1 2.1-2.1 2.1zM457.1 280.2l2.1-2.1 2.1 2.1-2.1 2.1zM460.5 280.2l2.1-2.1 2.1 2.1-2.1 2.1zM462.4 280.2l2.1-2.1 2.1 2.1-2.1 2.1zM453.6 280.2l2.1-2.1 2.1 2.1-2.1 2.1zM469.1 280.2l2.1-2.1 2.1 2.1-2.1 2.1zM478.1 280.2l2.1-2.1 2.1 2.1-2.1 2.1zM464.4 280.2l2.1-2.1 2.1 2.1-2.1 2.1zM453 280.2l2.1-2.1 2.1 2.1-2.1 2.1zM447.3 280.2l2.1-2.1 2.1 2.1-2.1 2.1zM451.4 280.2l2.1-2.1 2.1 2.1-2.1 2.1zM442.5 280.2l2.1-2.1 2.1 2.1-2.1 2.1zM443.7 280.2l2.1-2.1 2.1 2.1-2.1 2.1zM465.5 280.2l2.1-2.1 2.1 2.1-2.1 2.1zM467.7 280.2l2.1-2.1 2.1 2.1-2.1 2.1zM450.6 280.2l2.1-2.1 2.1 2.1-2.1 2.1zM451.8 280.2l2.1-2.1 2.1 2.1-2.1 2.1zM452.1 280.2l2.1-2.1 2.1 2.1-2.1 2.1zM443.6 280.2l2.1-2.1 2.1 2.1-2.1 2.1zM448.5 280.2l2.1-2.1 2.1 2.1-2.1 2.1zM443.6 280.2l2.1-2.1 2.1 2.1-2.1 2.1zM446.4 280.2l2.1-2.1 2.1 2.1-2.1 2.1zM459.1 280.2l2.1-2.1 2.1 2.1-2.1 2.1zM469.7 280.2l2.1-2.1 2.1 2.1-2.1 2.1zM461.7 280.2l2.1-2.1 2.1 2.1-2.1 2.1zM446.8 280.2l2.1-2.1 2.1 2.1-2.1 2.1zM453 280.2l2.1-2.1 2.1 2.1-2.1 2.1zM446.6 280.2l2.1-2.1 2.1 2.1-2.1 2.1zM465.9 280.2l2.1-2.1 2.1 2.1-2.1 2.1zM463.7 280.2l2.1-2.1 2.1 2.1-2.1 2.1z"/>
<path stroke="#00cd00" d="M468 240.4a1.5 1.5 0 1 0 3 0a1.5 1.5 0 1 0-3 0M465.3 260.4a1.5 1.5 0 1 0 3 0a1.5 1.5 0 1 0-3 0M480.4 220.6a1.5 1.5 0 1 0 3 0a1.5 1.5 0 1 0-3 0M476.4 220.6a1.5 1.5 0 1 0 3 0a1.5 1.5 0 1 0-3 0M482.9 240.4a1.5 1.5 0 1 0 3 0a1.5 1.5 0 1 0-3 0M470.7 260.4a1.5 1.5 0 1 0 3 0a1.5 1.5 0 1 0-3 0M476.4 220.6a1.5 1.5 0 1 0 3 0a1.5 1.5 0 1 0-3 0M485.7 260.4a1.5 1.5 0 1 0 3 0a1.5 1.5 0 1 0-3 0M466.8 260.4a1.5 1.5 0 1 0 3 0a1.5 1.5 0 1 0-3 0M470.7 260.4a1.5 1.5 0 1 0 3 0a1.5 1.5 0 1 0-3 0M478.5 240.4a1.5 1.5 0 1 0 3 0a1.5 1.5 0 1 0-3 0M489.3 260.4a1.5 1.5 0 1 0 3 0a1.5 1.5 0 1 0-3 0M492.5 260.4a1.5 1.5 0 1 0 3 0a1.5 1.5 0 1 0-3 0M476.5 240.4a1.5 1.5 0 1 0 3 0a1.5 1.5 0 1 0-3 0M465.2 220.6a1.5 1.5 0 1 0 3 0a1.5 1.5 0 1 0-3 0M489.7 240.4a1.5 1.5 0 1 0 3 0a1.5 1.5 0 1 0-3 0M476.7 240.4a1.5 1.5 0 1 0 3 0a1.5 1.5 0 1 0-3 0M470.6 220.6a1.5 1.5 0 1 0 3 0a1.5 1.5 0 1 0-3 0M469.9 260.4a1.5 1.5 0 1 0 3 0a1.5 1.5 0 1 0-3 0M456.3 220.6a1.5 1.5 0 1 0 3 0a1.5 1.5 0 1 0-3 0M477.1 260.4a1.5 1.5 0 1 0 3 0a1.5 1.5 0 1 0-3 0M475.5 260.4a1.5 1.5 0 1 0 3 0a1.5 1.5 0 1 0-3 0M462.9 260.4a1.5 1.5 0 1 0 3 0a1.5 1.5 0 1 0-3 0M490.7 260.4a1.5 1.5 0 1 0 3 0a1.5 1.5 0 1 0-3 0M474.2 240.4a1.5 1.5 0 1 0 3 0a1.5 1.5 0 1 0-3 0"/>
<path stroke="#0000ff" d="M512.9 258l2 3.5-4.1 0zM500.1 238.1l2 3.5-4.1 0zM502.1 258l2 3.5-4.1 0zM502.6 238.1l2 3.5-4.1 0zM488.3 218.2l2 3.5-4.1 0zM484.1 258l2 3.5-4.1 0zM503.5 238.1l2 3.5-4.1 0zM498.5 218.2l2 3.5-4.1 0zM490.4 218.2l2 3.5-4.1 0zM509.1 238.1l2 3.5-4.1 0zM495 218.2l2 3.5-4.1 0zM498 258l2 3.5-4.1 0zM491.4 218.2l2 3.5-4.1 0zM502.5 238.1l2 3.5-4.1 0zM494.2 258l2 3.5-4.1 0zM519.6 258l2 3.5-4.1 0zM492.6 238.1l2 3.5-4.1 0zM502.3 238.1l2 3.5-4.1 0zM504 258l2 3.5-4.1 0zM499.9 238.1l2 3.5-4.1 0zM498.2 238.1l2 3.5-4.1 0z"/>
<path stroke="#ff0000" d="M457.5 280.2l2.1-2.1 2.1 2.1-2.1 2.1zM447.2 280.2l2.1-2.1 2.1 2.1-2.1 2.1zM448.9 280.2l2.1-2.1 2.1 2.1-2.1 2.1zM444.5 280.2l2.1-2.1 2.1 2.1-2.1 2.1zM438.9 280.2l2.1-2.1 2.1 2.1-2.1 2.1zM456.4 240.4l2.1-2.1 2.1 2.1-2.1 2.1zM450.8 280.2l2.1-2.1 2.1 2.1-2.1 2.1zM460.3 280.2l2.1-2.1 2.1 2.1-2.1 2.1zM467.3 280.2l2.1-2.1 2.1 2.1-2.1 2.1zM460.6 280.2l2.1-2.1 2.1 2.1-2.1 2.1zM447.4 280.2l2.1-2.1 2.1 2.1-2.1 2.1zM458.6 280.2l2.1-2.1 2.1 2.1-2.1 2.1zM444.1 220.6l2.1-2.1 2.1 2.1-2.1 2.1zM448.8 280.2l2.1-2.1 2.1 2.1-2.1 2.1zM448.1 280.2l2.1-2.1 2.1 2.1-2.1 2.1zM463.1 280.2l2.1-2.1 2.1 2.1-2.1 2.1zM457.6 280.2l2.1-2.1 2.1 2.1-2.1 2.1zM470.3 280.2l2.1-2.1 2.1 2.1-2.1 2.1zM441.3 280.2l2.1-2.1 2.1 2.1-2.1 2.1zM458.9 280.2l2.1-2.1 2.1 2.1-2.1 2.1zM456.2 280.2l2.1-2.1 2.1 2.1-2.1 2.1zM454.2 280.2l2.1-2.1 2.1 2.1-2.1 2.1zM464.2 280.2l2.1-2.1 2.1 2.1-2.1 2.1zM462.8 280.2l2.1-2.1 2.1 2.1-2.1 2.1zM446.5 280.2l2.1-2.1 2.1 2.1-2.1 2.1zM462.3 280.2l2.1-2.1 2.1 2.1-2.1 2.1zM452.2 280.2l2.1-2.1 2.1 2.1-2.1 2.1zM457 280.2l2.1-2.1 2.1 2.1-2.1 2.1zM459.9 280.2l2.1-2.1 2.1 2.1-2.1 2.1zM466 280.2l2.1-2.1 2.1 2.1-2.1 2.1zM455.4 280.2l2.1-2.1 2.1 2.1-2.1 2.1zM436.4 280.2l2.1-2.1 2.1 2.1-2.1 2.1z"/>
<path stroke="#00cd00" d="M483.3 240.4a1.5 1.5 0 1 0 3 0a1.5 1.5 0 1 0-3 0M474 220.6a1.5 1.5 0 1 0 3 0a1.5 1.5 0 1 0-3 0M461.9 240.4a1.5 1.5 0 1 0 3 0a1.5 1.5 0 1 0-3 0M466.1 220.6a1.5 1.5 0 1 0 3 0a1.5 1.5 0 1 0-3 0M474.5 260.4a1.5 1.5 0 1 0 3 0a1.5 1.5 0 1 0-3 0M469.4 220.6a1.5 1.5 0 1 0 3 0a1.5 1.5 0 1 0-3 0M483.2 260.4a1.5 1.5 0 1 0 3 0a1.5 1.5 0 1 0-3 0M469 260.4a1.5 1.5 0 1 0 3 0a1.5 1.5 0 1 0-3 0M476.5 220.6a1.5 1.5 0 1 0 3 0a1.5 1.5 0 1 0-3 0M471.5 240.4a1.5 1.5 0 1 0 3 0a1.5 1.5 0 1 0-3 0M459.6 260.4a1.5 1.5 0 1 0 3 0a1.5 1.5 0 1 0-3 0M473.2 240.4a1.5 1.5 0 1 0 3 0a1.5 1.5 0 1 0-3 0M481.1 260.4a1.5 1.5 0 1 0 3 0a1.5 1.5 0 1 0-3 0M478.7 240.4a1.5 1.5 0 1 0 3 0a1.5 1.5 0 1 0-3 0M471.6 260.4a1.5 1.5 0 1 0 3 0a1.5 1.5 0 1 0-3 0M487 240.4a1.5 1.5 0 1 0 3 0a1.5 1.5 0 1 0-3 0M482.8 220.6a1.5 1.5 0 1 0 3 0a1.5 1.5 0 1 0-3 0M472.6 260.4a1.5 1.5 0 1 0 3 0a1.5 1.5 0 1 0-3 0M473.7 220.6a1.5 1.5 0 1 0 3 0a1.5 1.5 0 1 0-3 0M484.6 240.4a1.5 1.5 0 1 0 3 0a1.5 1.5 0 1 0-3 0M464.8 240.4a1.5 1.5 0 1 0 3 0a1.5 1.5 0 1 0-3 0M471.7 220.6a1.5 1.5 0 1 0 3 0a1.5 1.5 0 1 0-3 0M479.3 220.6a1.5 1.5 0 1 0 3 0a1.5 1.5 0 1 0-3 0M474.7 240.4a1.5 1.5 0 1 0 3 0a1.5 1.5 0 1 0-3 0M487 260.4a1.5 1.5 0 1 0 3 0a1.5 1.5 0 1 0-3 0M479.6 260.4a1.5 1.5 0 1 0 3 0a1.5 1.5 0 1 0-3 0M462.1 260.4a1.5 1.5 0 1 0 3 0a1.5 1.5 0 1 0-3 0"/>
<path stroke="#0000ff" d="M503.5 258l2 3.5-4.1 0zM499.1 258l2 3.5-4.1 0zM498.5 258l2 3.5-4.1 0zM501.3 258l2 3.5-4.1 0zM491.8 218.2l2 3.5-4.1 0zM492.1 258l2 3.5-4.1 0zM512.7 238.1l2 3.5-4.1 0zM502.4 218.2l2 3.5-4.1 0zM502.3 258l2 3.5-4.1 0zM491.3 218.2l2 3.5-4.1 0zM475.8 218.2l2 3.5-4.1 0zM499.7 238.1l2 3.5-4.1 0zM504 238.1l2 3.5-4.1 0zM492.3 258l2 3.5-4.1 0zM495.1 218.2l2 3.5-4.1 0zM500.5 218.2l2 3.5-4.1 0zM511.3 218.2l2 3.5-4.1 0zM500.5 238.1l2 3.5-4.1 0zM508.3 218.2l2 3.5-4.1 0zM507.7 238.1l2 3.5-4.1 0zM482.4 218.2l2 3.5-4.1 0zM492.1 258l2 3.5-4.1 0zM484.9 238.1l2 3.5-4.1 0zM485 258l2 3.5-4.1 0zM482.2 218.2l2 3.5-4.1 0zM488.1 238.1l2 3.5-4.1 0zM503.7 238.1l2 3.5-4.1 0zM499.1 218.2l2 3.5-4.1 0z"/>
<path stroke="#ff0000" d="M457.3 280.2l2.1-2.1 2.1 2.1-2.1 2.1zM457.8 280.2l2.1-2.1 2.1 2.1-2.1 2.1zM469.8 280.2l2.1-2.1 2.1 2.1-2.1 2.1zM461 280.2l2.1-2.1 2.1 2.1-2.1 2.1zM474.5 280.2l2.1-2.1 2.1 2.1-2.1 2.1zM461 280.2l2.1-2.1 2.1 2.1-2.1 2.1zM442.9 280.2l2.1-2.1 2.1 2.1-2.1 2.1zM438.2 280.2l2.1-2.1 2.1 2.1-2.1 2.1zM451.4 280.2l2.1-2.1 2.1 2.1-2.1 2.1zM455 280.2l2.1-2.1 2.1 2.1-2.1 2.1zM456.6 280.2l2.1-2.1 2.1 2.1-2.1 2.1zM474.8 280.2l2.1-2.1 2.1 2.1-2.1 2.1zM450.7 280.2l2.1-2.1 2.1 2.1-2.1 2.1zM463.6 280.2l2.1-2.1 2.1 2.1-2.1 2.1zM452 280.2l2.1-2.1 2.1 2.1-2.1 2.1zM460 280.2l2.1-2.1 2.1 2.1-2.1 2.1zM452.5 280.2l2.1-2.1 2.1 2.1-2.1 2.1zM452 280.2l2.1-2.1 2.1 2.1-2.1 2.1zM461.2 280.2l2.1-2.1 2.1 2.1-2.1 2.1zM452.7 280.2l2.1-2.1 2.1 2.1-2.1 2.1zM443.6 280.2l2.1-2.1 2.1 2.1-2.1 2.1zM457.2 280.2l2.1-2.1 2.1 2.1-2.1 2.1zM472.1 280.2l2.1-2.1 2.1 2.1-2.1 2.1zM449.9 280.2l2.1-2.1 2.1 2.1-2.1 2.1zM458.7 280.2l2.1-2.1 2.1 2.1-2.1 2.1zM459.9 280.2l2.1-2.1 2.1 2.1-2.1 2.1zM458.6 280.2l2.1-2.1 2.1 2.1-2.1 2.1zM434.5 280.2l2.1-2.1 2.1 2.1-2.1 2.1z"/>
<path stroke="#00cd00" d="M467.8 240.4a1.5 1.5 0 1 0 3 0a1.5 1.5 0 1 0-3 0M469.8 220.6a1.5 1.5 0 1 0 3 0a1.5 1.5 0 1 0-3 0M480.6 240.4a1.5 1.5 0 1 0 3 0a1.5 1.5 0 1 0-3 0M480 240.4a1.5 1.5 0 1 0 3 0a1.5 1.5 0 1 0-3 0M467.1 240.4a1.5 1.5 0 1 0 3 0a1.5 1.5 0 1 0-3 0M480.6 240.4a1.5 1.5 0 1 0 3 0a1.5 1.5 0 1 0-3 0M471.9 240.4a1.5 1.5 0 1 0 3 0a1.5 1.5 0 1 0-3 0M473.4 220.6a1.5 1.5 0 1 0 3 0a1.5 1.5 0 1 0-3 0M488.5 260.4a1.5 1.5 0 1 0 3 0a1.5 1.5 0 1 0-3 0M473.3 220.6a1.5 1.5 0 1 0 3 0a1.5 1.5 0 1 0-3 0M474.7 280.2a1.5 1.5 0 1 0 3 0a1.5 1.5 0 1 0-3 0M469.2 240.4a1.5 1.5 0 1 0 3 0a1.5 1.5 0 1 0-3 0M475.4 280.2a1.5 1.5 0 1 0 3 0a1.5 1.5 0 1 0-3 0M498.9 220.6a1.5 1.5 0 1 0 3 0a1.5 1.5 0 1 0-3 0M473.6 220.6a1.5 1.5 0 1 0 3 0a1.5 1.5 0 1 0-3 0M471.3 260.4a1.5 1.5 0 1 0 3 0a1.5 1.5 0 1 0-3 0M477 220.6a1.5 1.5 0 1 0 3 0a1.5 1.5 0 1 0-3 0M484.1 260.4a1.5 1.5 0 1 0 3 0a1.5 1.5 0 1 0-3 0M472.3 220.6a1.5 1.5 0 1 0 3 0a1.5 1.5 0 1 0-3 0M476.4 240.4a1.5 1.5 0 1 0 3 0a1.5 1.5 0 1 0-3 0M486.9 220.6a1.5 1.5 0 1 0 3 0a1.5 1.5 0 1 0-3 0M475.8 240.4a1.5 1.5 0 1 0 3 0a1.5 1.5 0 1 0-3 0M475.1 280.2a1.5 1.5 0 1 0 3 0a1.5 1.5 0 1 0-3 0M466 260.4a1.5 1.5 0 1 0 3 0a1.5 1.5 0 1 0-3 0M483.2 280.2a1.5 1.5 0 1 0 3 0a1.5 1.5 0 1 0-3 0M466 240.4a1.5 1.5 0 1 0 3 0a1.5 1.5 0 1 0-3 0M479.3 260.4a1.5 1.5 0 1 0 3 0a1.5 1.5 0 1 0-3 0M476.8 260.4a1.5 1.5 0 1 0 3 0a1.5 1.5 0 1 0-3 0M477.5 220.6a1.5 1.5 0 1 0 3 0a1.5 1.5 0 1 0-3 0M475.6 240.4a1.5 1.5 0 1 0 3 0a1.5 1.5 0 1 0-3 0M490.7 260.4a1.5 1.5 0 1 0 3 0a1.5 1.5 0 1 0-3 0"/>
<path stroke="#0000ff" d="M498.1 218.2l2 3.5-4.1 0zM507.4 258l2 3.5-4.1 0zM506.7 258l2 3.5-4.1 0zM501.3 238.1l2 3.5-4.1 0zM505.9 258l2 3.5-4.1 0zM491.8 218.2l2 3.5-4.1 0zM495.7 258l2 3.5-4.1 0zM495.3 218.2l2 3.5-4.1 0zM499.3 218.2l2 3.5-4.1 0zM495.6 238.1l2 3.5-4.1 0zM514.7 258l2 3.5-4.1 0zM510.3 218.2l2 3.5-4.1 0zM506.1 258l2 3.5-4.1 0zM508.3 218.2l2 3.5-4.1 0zM492 238.1l2 3.5-4.1 0zM493.1 218.2l2 3.5-4.1 0zM500 238.1l2 3.5-4.1 0zM496.5 238.1l2 3.5-4.1 0zM506 238.1l2 3.5-4.1 0zM499 238.1l2 3.5-4.1 0zM493.4 238.1l2 3.5-4.1 0zM487.9 258l2 3.5-4.1 0zM497.9 238.1l2 3.5-4.1 0zM499.9 258l2 3.5-4.1 0zM490.3 218.2l2 3.5-4.1 0zM511.9 238.1l2 3.5-4.1 0zM489.6 218.2l2 3.5-4.1 0zM501.8 258l2 3.5-4.1 0z"/>
<path stroke="#ff0000" d="M433.9 280.2l2.1-2.1 2.1 2.1-2.1 2.1zM462.7 280.2l2.1-2.1 2.1 2.1-2.1 2.1zM460.8 280.2l2.1-2.1 2.1 2.1-2.1 2.1zM445.5 280.2l2.1-2.1 2.1 2.1-2.1 2.1zM452.3 280.2l2.1-2.1 2.1 2.1-2.1 2.1zM452.4 280.2l2.1-2.1 2.1 2.1-2.1 2.1zM452 280.2l2.1-2.1 2.1 2.1-2.1 2.1zM464.6 280.2l2.1-2.1 2.1 2.1-2.1 2.1zM448.6 280.2l2.1-2.1 2.1 2.1-2.1 2.1zM460.5 280.2l2.1-2.1 2.1 2.1-2.1 2.1zM461.8 280.2l2.1-2.1 2.1 2.1-2.1 2.1zM465.6 280.2l2.1-2.1 2.1 2.1-2.1 2.1zM442.4 280.2l2.1-2.1 2.1 2.1-2.1 2.1zM448.8 280.2l2.1-2.1 2.1 2.1-2.1 2.1zM466.7 280.2l2.1-2.1 2.1 2.1-2.1 2.1zM447.3 280.2l2.1-2.1 2.1 2.1-2.1 2.1zM445.3 280.2l2.1-2.1 2.1 2.1-2.1 2.1zM458.5 280.2l2.1-2.1 2.1 2.1-2.1 2.1zM470.3 280.2l2.1-2.1 2.1 2.1-2.1 2.1zM462.8 280.2l2.1-2.1 2.1 2.1-2.1 2.1zM450 280.2l2.1-2.1 2.1 2.1-2.1 2.1zM453.5 280.2l2.1-2.1 2.1 2.1-2.1 2.1zM453.7 280.2l2.1-2.1 2.1 2.1-2.1 2.1zM457.3 280.2l2.1-2.1 2.1 2.1-2.1 2.1zM460.3 280.2l2.1-2.1 2.1 2.1-2.1 2.1zM448.5 280.2l2.1-2.1 2.1 2.1-2.1 2.1zM453.1 280.2l2.1-2.1 2.1 2.1-2.1 2.1zM462.9 280.2l2.1-2.1 2.1 2.1-2.1 2.1z"/>
<path stroke="#00cd00" d="M482.1 280.2a1.5 1.5 0 1 0 3 0a1.5 1.5 0 1 0-3 0M473.2 260.4a1.5 1.5 0 1 0 3 0a1.5 1.5 0 1 0-3 0M462.7 240.4a1.5 1.5 0 1 0 3 0a1.5 1.5 0 1 0-3 0M483.6 260.4a1.5 1.5 0 1 0 3 0a1.5 1.5 0 1 0-3 0M482.2 260.4a1.5 1.5 0 1 0 3 0a1.5 1.5 0 1 0-3 0M467 240.4a1.5 1.5 0 1 0 3 0a1.5 1.5 0 1 0-3 0M480.2 240.4a1.5 1.5 0 1 0 3 0a1.5 1.5 0 1 0-3 0M459.5 220.6a1.5 1.5 0 1 0 3 0a1.5 1.5 0 1 0-3 0M478.2 260.4a1.5 1.5 0 1 0 3 0a1.5 1.5 0 1 0-3 0M473.8 240.4a1.5 1.5 0 1 0 3 0a1.5 1.5 0 1 0-3 0M486 260.4a1.5 1.5 0 1 0 3 0a1.5 1.5 0 1 0-3 0M465.7 240.4a1.5 1.5 0 1 0 3 0a1.5 1.5 0 1 0-3 0M488.7 260.4a1.5 1.5 0 1 0 3 0a1.5 1.5 0 1 0-3 0M469.2 240.4a1.5 1.5 0 1 0 3 0a1.5 1.5 0 1 0-3 0M473 220.6a1.5 1.5 0 1 0 3 0a1.5 1.5 0 1 0-3 0M481.6 240.4a1.5 1.5 0 1 0 3 0a1.5 1.5 0 1 0-3 0M477.1 260.4a1.5 1.5 0 1 0 3 0a1.5 1.5 0 1 0-3 0M477.8 260.4a1.5 1.5 0 1 0 3 0a1.5 1.5 0 1 0-3 0M481.9 260.4a1.5 1.5 0 1 0 3 0a1.5 1.5 0 1 0-3 0M467.2 260.4a1.5 1.5 0 1 0 3 0a1.5 1.5 0 1 0-3 0M476.7 240.4a1.5 1.5 0 1 0 3 0a1.5 1.5 0 1 0-3 0M466.1 260.4a1.5 1.5 0 1 0 3 0a1.5 1.5 0 1 0-3 0M482.7 260.4a1.5 1.5 0 1 0 3 0a1.5 1.5 0 1 0-3 0M482 280.2a1.5 1.5 0 1 0 3 0a1.5 1.5 0 1 0-3 0"/>
<path stroke="#0000ff" d="M500.7 218.2l2 3.5-4.1 0zM498.4 258l2 3.5-4.1 0zM489.5 258l2 3.5-4.1 0zM504.9 218.2l2 3.5-4.1 0zM490.6 258l2 3.5-4.1 0zM494.5 218.2l2 3.5-4.1 0zM520 238.1l2 3.5-4.1 0zM499.8 258l2 3.5-4.1 0zM497.1 258l2 3.5-4.1 0zM496.5 218.2l2 3.5-4.1 0zM502.8 258l2 3.5-4.1 0zM511.4 258l2 3.5-4.1 0zM508.4 258l2 3.5-4.1 0zM499.7 218.2l2 3.5-4.1 0zM503.2 258l2 3.5-4.1 0zM496.3 218.2l2 3.5-4.1 0zM495.1 238.1l2 3.5-4.1 0zM505.1 258l2 3.5-4.1 0zM484.5 218.2l2 3.5-4.1 0zM479.9 238.1l2 3.5-4.1 0zM493.6 238.1l2 3.5-4.1 0zM483.3 218.2l2 3.5-4.1 0zM506.6 258l2 3.5-4.1 0zM501 258l2 3.5-4.1 0zM494.8 218.2l2 3.5-4.1 0zM491.7 238.1l2 3.5-4.1 0zM497.1 218.2l2 3.5-4.1 0zM488.1 218.2l2 3.5-4.1 0zM498.1 258l2 3.5-4.1 0zM501.4 258l2 3.5-4.1 0zM493 258l2 3.5-4.1 0zM499.4 238.1l2 3.5-4.1 0zM505 258l2 3.5-4.1 0zM498.5 238.1l2 3.5-4.1 0z"/>
<path stroke="#ff0000" d="M470.6 280.2l2.1-2.1 2.1 2.1-2.1 2.1zM451.2 280.2l2.1-2.1 2.1 2.1-2.1 2.1zM454.6 280.2l2.1-2.1 2.1 2.1-2.1 2.1zM455.6 280.2l2.1-2.1 2.1 2.1-2.1 2.1zM454 280.2l2.1-2.1 2.1 2.1-2.1 2.1zM447.1 280.2l2.1-2.1 2.1 2.1-2.1 2.1zM456.7 280.2l2.1-2.1 2.1 2.1-2.1 2.1zM469.9 280.2l2.1-2.1 2.1 2.1-2.1 2.1zM466.5 280.2l2.1-2.1 2.1 2.1-2.1 2.1zM447.3 280.2l2.1-2.1 2.1 2.1-2.1 2.1zM461.3 280.2l2.1-2.1 2.1 2.1-2.1 2.1zM459.7 280.2l2.1-2.1 2.1 2.1-2.1 2.1zM460.4 280.2l2.1-2.1 2.1 2.1-2.1 2.1zM456.5 280.2l2.1-2.1 2.1 2.1-2.1 2.1z"/>
<path stroke="#00cd00" d="M479.3 220.6a1.5 1.5 0 1 0 3 0a1.5 1.5 0 1 0-3 0M455.2 220.6a1.5 1.5 0 1 0 3 0a1.5 1.5 0 1 0-3 0M472.3 220.6a1.5 1.5 0 1 0 3 0a1.5 1.5 0 1 0-3 0M477.2 260.4a1.5 1.5 0 1 0 3 0a1.5 1.5 0 1 0-3 0M478 260.4a1.5 1.5 0 1 0 3 0a1.5 1.5 0 1 0-3 0M474.3 280.2a1.5 1.5 0 1 0 3 0a1.5 1.5 0 1 0-3 0M469 240.4a1.5 1.5 0 1 0 3 0a1.5 1.5 0 1 0-3 0M467.1 240.4a1.5 1.5 0 1 0 3 0a1.5 1.5 0 1 0-3 0M466.5 240.4a1.5 1.5 0 1 0 3 0a1.5 1.5 0 1 0-3 0M464.9 240.4a1.5 1.5 0 1 0 3 0a1.5 1.5 0 1 0-3 0M468.1 260.4a1.5 1.5 0 1 0 3 0a1.5 1.5 0 1 0-3 0M486.9 240.4a1.5 1.5 0 1 0 3 0a1.5 1.5 0 1 0-3 0M478.2 260.4a1.5 1.5 0 1 0 3 0a1.5 1.5 0 1 0-3 0M489 260.4a1.5 1.5 0 1 0 3 0a1.5 1.5 0 1 0-3 0M476.5 260.4a1.5 1.5 0 1 0 3 0a1.5 1.5 0 1 0-3 0M478.9 220.6a1.5 1.5 0 1 0 3 0a1.5 1.5 0 1 0-3 0M468.6 220.6a1.5 1.5 0 1 0 3 0a1.5 1.5 0 1 0-3 0M473.5 260.4a1.5 1.5 0 1 0 3 0a1.5 1.5 0 1 0-3 0M489.8 220.6a1.5 1.5 0 1 0 3 0a1.5 1.5 0 1 0-3 0M466.5 260.4a1.5 1.5 0 1 0 3 0a1.5 1.5 0 1 0-3 0M467.2 240.4a1.5 1.5 0 1 0 3 0a1.5 1.5 0 1 0-3 0M483.5 220.6a1.5 1.5 0 1 0 3 0a1.5 1.5 0 1 0-3 0M489.9 280.2a1.5 1.5 0 1 0 3 0a1.5 1.5 0 1 0-3 0M477.5 220.6a1.5 1.5 0 1 0 3 0a1.5 1.5 0 1 0-3 0M481.7 220.6a1.5 1.5 0 1 0 3 0a1.5 1.5 0 1 0-3 0M473.6 220.6a1.5 1.5 0 1 0 3 0a1.5 1.5 0 1 0-3 0M478.4 280.2a1.5 1.5 0 1 0 3 0a1.5 1.5 0 1 0-3 0M471.9 260.4a1.5 1.5 0 1 0 3 0a1.5 1.5 0 1 0-3 0M484.6 260.4a1.5 1.5 0 1 0 3 0a1.5 1.5 0 1 0-3 0M486.7 220.6a1.5 1.5 0 1 0 3 0a1.5 1.5 0 1 0-3 0M464.8 220.6a1.5 1.5 0 1 0 3 0a1.5 1.5 0 1 0-3 0"/>
<path stroke="#0000ff" d="M493.6 218.2l2 3.5-4.1 0zM499.1 238.1l2 3.5-4.1 0zM488.4 218.2l2 3.5-4.1 0zM496 238.1l2 3.5-4.1 0zM504 238.1l2 3.5-4.1 0zM514.6 258l2 3.5-4.1 0zM507.4 258l2 3.5-4.1 0zM504.7 238.1l2 3.5-4.1 0zM497.4 258l2 3.5-4.1 0zM491.8 238.1l2 3.5-4.1 0zM503.8 258l2 3.5-4.1 0zM493.5 218.2l2 3.5-4.1 0zM491 258l2 3.5-4.1 0zM492.1 238.1l2 3.5-4.1 0zM492.7 258l2 3.5-4.1 0zM515.2 258l2 3.5-4.1 0zM495.6 218.2l2 3.5-4.1 0zM497.3 238.1l2 3.5-4.1 0zM503.4 258l2 3.5-4.1 0zM507.2 218.2l2 3.5-4.1 0zM500.4 258l2 3.5-4.1 0zM492 258l2 3.5-4.1 0zM513.4 218.2l2 3.5-4.1 0zM506.9 238.1l2 3.5-4.1 0zM498.3 258l2 3.5-4.1 0zM488.4 258l2 3.5-4.1 0zM486.3 218.2l2 3.5-4.1 0zM494.7 258l2 3.5-4.1 0zM501.4 218.2l2 3.5-4.1 0zM487.8 238.1l2 3.5-4.1 0zM491.8 218.2l2 3.5-4.1 0zM504.1 238.1l2 3.5-4.1 0zM500.4 218.2l2 3.5-4.1 0zM510.2 258l2 3.5-4.1 0zM509.7 258l2 3.5-4.1 0zM506.7 218.2l2 3.5-4.1 0zM498.6 238.1l2 3.5-4.1 0zM498.6 258l2 3.5-4.1 0zM510.7 238.1l2 3.5-4.1 0zM515 258l2 3.5-4.1 0zM497.9 238.1l2 3.5-4.1 0z"/>
<path stroke="#00cd00" d="M465.8 240.4a1.5 1.5 0 1 0 3 0a1.5 1.5 0 1 0-3 0M489.1 260.4a1.5 1.5 0 1 0 3 0a1.5 1.5 0 1 0-3 0M475.6 240.4a1.5 1.5 0 1 0 3 0a1.5 1.5 0 1 0-3 0M468 220.6a1.5 1.5 0 1 0 3 0a1.5 1.5 0 1 0-3 0M486.1 220.6a1.5 1.5 0 1 0 3 0a1.5 1.5 0 1 0-3 0M476 260.4a1.5 1.5 0 1 0 3 0a1.5 1.5 0 1 0-3 0M482.9 240.4a1.5 1.5 0 1 0 3 0a1.5 1.5 0 1 0-3 0M462.6 220.6a1.5 1.5 0 1 0 3 0a1.5 1.5 0 1 0-3 0M469.1 240.4a1.5 1.5 0 1 0 3 0a1.5 1.5 0 1 0-3 0M469.2 240.4a1.5 1.5 0 1 0 3 0a1.5 1.5 0 1 0-3 0M474.2 260.4a1.5 1.5 0 1 0 3 0a1.5 1.5 0 1 0-3 0M473.5 220.6a1.5 1.5 0 1 0 3 0a1.5 1.5 0 1 0-3 0M479.5 240.4a1.5 1.5 0 1 0 3 0a1.5 1.5 0 1 0-3 0M490.6 260.4a1.5 1.5 0 1 0 3 0a1.5 1.5 0 1 0-3 0M494.1 220.6a1.5 1.5 0 1 0 3 0a1.5 1.5 0 1 0-3 0M469.4 260.4a1.5 1.5 0 1 0 3 0a1.5 1.5 0 1 0-3 0M474.6 240.4a1.5 1.5 0 1 0 3 0a1.5 1.5 0 1 0-3 0M475.6 260.4a1.5 1.5 0 1 0 3 0a1.5 1.5 0 1 0-3 0M485.8 260.4a1.5 1.5 0 1 0 3 0a1.5 1.5 0 1 0-3 0M482.4 220.6a1.5 1.5 0 1 0 3 0a1.5 1.5 0 1 0-3 0M464 260.4a1.5 1.5 0 1 0 3 0a1.5 1.5 0 1 0-3 0M490.7 240.4a1.5 1.5 0 1 0 3 0a1.5 1.5 0 1 0-3 0M487.5 260.4a1.5 1.5 0 1 0 3 0a1.5 1.5 0 1 0-3 0M482.5 220.6a1.5 1.5 0 1 0 3 0a1.5 1.5 0 1 0-3 0M473.8 260.4a1.5 1.5 0 1 0 3 0a1.5 1.5 0 1 0-3 0M483.2 220.6a1.5 1.5 0 1 0 3 0a1.5 1.5 0 1 0-3 0M479.8 240.4a1.5 1.5 0 1 0 3 0a1.5 1.5 0 1 0-3 0M473.8 260.4a1.5 1.5 0 1 0 3 0a1.5 1.5 0 1 0-3 0M473.7 240.4a1.5 1.5 0 1 0 3 0a1.5 1.5 0 1 0-3 0M466.5 260.4a1.5 1.5 0 1 0 3 0a1.5 1.5 0 1 0-3 0M472.8 240.4a1.5 1.5 0 1 0 3 0a1.5 1.5 0 1 0-3 0M473.6 260.4a1.5 1.5 0 1 0 3 0a1.5 1.5 0 1 0-3 0M473.3 220.6a1.5 1.5 0 1 0 3 0a1.5 1.5 0 1 0-3 0M477.9 240.4a1.5 1.5 0 1 0 3 0a1.5 1.5 0 1 0-3 0M470.4 260.4a1.5 1.5 0 1 0 3 0a1.5 1.5 0 1 0-3 0M470.5 220.6a1.5 1.5 0 1 0 3 0a1.5 1.5 0 1 0-3 0M454.7 220.6a1.5 1.5 0 1 0 3 0a1.5 1.5 0 1 0-3 0M475.4 280.2a1.5 1.5 0 1 0 3 0a1.5 1.5 0 1 0-3 0M475 240.4a1.5 1.5 0 1 0 3 0a1.5 1.5 0 1 0-3 0M490.2 220.6a1.5 1.5 0 1 0 3 0a1.5 1.5 0 1 0-3 0M480.5 260.4a1.5 1.5 0 1 0 3 0a1.5 1.5 0 1 0-3 0M476.7 260.4a1.5 1.5 0 1 0 3 0a1.5 1.5 0 1 0-3 0M474.3 220.6a1.5 1.5 0 1 0 3 0a1.5 1.5 0 1 0-3 0M474.3 240.4a1.5 1.5 0 1 0 3 0a1.5 1.5 0 1 0-3 0M468.5 220.6a1.5 1.5 0 1 0 3 0a1.5 1.5 0 1 0-3 0M476.7 260.4a1.5 1.5 0 1 0 3 0a1.5 1.5 0 1 0-3 0M482.8 220.6a1.5 1.5 0 1 0 3 0a1.5 1.5 0 1 0-3 0"/>
<path stroke="#0000ff" d="M510.4 238.1l2 3.5-4.1 0zM494.9 238.1l2 3.5-4.1 0zM483.8 218.2l2 3.5-4.1 0zM509.1 258l2 3.5-4.1 0zM502.6 218.2l2 3.5-4.1 0zM487.1 258l2 3.5-4.1 0zM506.1 218.2l2 3.5-4.1 0zM497.6 238.1l2 3.5-4.1 0zM502.5 238.1l2 3.5-4.1 0zM506.9 218.2l2 3.5-4.1 0zM502 238.1l2 3.5-4.1 0zM491.8 238.1l2 3.5-4.1 0zM489.1 218.2l2 3.5-4.1 0zM495.5 258l2 3.5-4.1 0zM501.6 238.1l2 3.5-4.1 0zM506 238.1l2 3.5-4.1 0zM509.2 218.2l2 3.5-4.1 0zM482.3 238.1l2 3.5-4.1 0zM495.5 218.2l2 3.5-4.1 0zM514.2 238.1l2 3.5-4.1 0zM508.5 238.1l2 3.5-4.1 0zM485.4 218.2l2 3.5-4.1 0zM498.2 258l2 3.5-4.1 0zM501.5 218.2l2 3.5-4.1 0zM505.8 238.1l2 3.5-4.1 0zM514.1 218.2l2 3.5-4.1 0zM490.2 258l2 3.5-4.1 0zM507.2 258l2 3.5-4.1 0zM496.1 218.2l2 3.5-4.1 0zM514.5 258l2 3.5-4.1 0zM498.2 218.2l2 3.5-4.1 0zM495.5 218.2l2 3.5-4.1 0zM495.1 218.2l2 3.5-4.1 0zM501.9 238.1l2 3.5-4.1 0zM500.2 258l2 3.5-4.1 0zM504.8 258l2 3.5-4.1 0zM496 258l2 3.5-4.1 0zM498 218.2l2 3.5-4.1 0zM501.5 238.1l2 3.5-4.1 0z"/>
<path stroke="#00cd00" d="M467.4 220.6a1.5 1.5 0 1 0 3 0a1.5 1.5 0 1 0-3 0M479.3 260.4a1.5 1.5 0 1 0 3 0a1.5 1.5 0 1 0-3 0M471 240.4a1.5 1.5 0 1 0 3 0a1.5 1.5 0 1 0-3 0M477.4 220.6a1.5 1.5 0 1 0 3 0a1.5 1.5 0 1 0-3 0M465.8 220.6a1.5 1.5 0 1 0 3 0a1.5 1.5 0 1 0-3 0M466.2 260.4a1.5 1.5 0 1 0 3 0a1.5 1.5 0 1 0-3 0M478.1 260.4a1.5 1.5 0 1 0 3 0a1.5 1.5 0 1 0-3 0M474.4 220.6a1.5 1.5 0 1 0 3 0a1.5 1.5 0 1 0-3 0M472.2 260.4a1.5 1.5 0 1 0 3 0a1.5 1.5 0 1 0-3 0M486.3 280.2a1.5 1.5 0 1 0 3 0a1.5 1.5 0 1 0-3 0M469.6 260.4a1.5 1.5 0 1 0 3 0a1.5 1.5 0 1 0-3 0M471.9 220.6a1.5 1.5 0 1 0 3 0a1.5 1.5 0 1 0-3 0M481 220.6a1.5 1.5 0 1 0 3 0a1.5 1.5 0 1 0-3 0M484.6 240.4a1.5 1.5 0 1 0 3 0a1.5 1.5 0 1 0-3 0M494.3 220.6a1.5 1.5 0 1 0 3 0a1.5 1.5 0 1 0-3 0M478.6 240.4a1.5 1.5 0 1 0 3 0a1.5 1.5 0 1 0-3 0M460.6 240.4a1.5 1.5 0 1 0 3 0a1.5 1.5 0 1 0-3 0M490.7 260.4a1.5 1.5 0 1 0 3 0a1.5 1.5 0 1 0-3 0M485 220.6a1.5 1.5 0 1 0 3 0a1.5 1.5 0 1 0-3 0M473.1 220.6a1.5 1.5 0 1 0 3 0a1.5 1.5 0 1 0-3 0M468 240.4a1.5 1.5 0 1 0 3 0a1.5 1.5 0 1 0-3 0M463.6 220.6a1.5 1.5 0 1 0 3 0a1.5 1.5 0 1 0-3 0M466.4 220.6a1.5 1.5 0 1 0 3 0a1.5 1.5 0 1 0-3 0M468.9 240.4a1.5 1.5 0 1 0 3 0a1.5 1.5 0 1 0-3 0M475 240.4a1.5 1.5 0 1 0 3 0a1.5 1.5 0 1 0-3 0M480.6 220.6a1.5 1.5 0 1 0 3 0a1.5 1.5 0 1 0-3 0M472.2 260.4a1.5 1.5 0 1 0 3 0a1.5 1.5 0 1 0-3 0M468.5 260.4a1.5 1.5 0 1 0 3 0a1.5 1.5 0 1 0-3 0M478.8 260.4a1.5 1.5 0 1 0 3 0a1.5 1.5 0 1 0-3 0M501.9 220.6a1.5 1.5 0 1 0 3 0a1.5 1.5 0 1 0-3 0M462.3 220.6a1.5 1.5 0 1 0 3 0a1.5 1.5 0 1 0-3 0M469.1 220.6a1.5 1.5 0 1 0 3 0a1.5 1.5 0 1 0-3 0M469.7 260.4a1.5 1.5 0 1 0 3 0a1.5 1.5 0 1 0-3 0M470.3 220.6a1.5 1.5 0 1 0 3 0a1.5 1.5 0 1 0-3 0M485.6 220.6a1.5 1.5 0 1 0 3 0a1.5 1.5 0 1 0-3 0M456.6 240.4a1.5 1.5 0 1 0 3 0a1.5 1.5 0 1 0-3 0M479 240.4a1.5 1.5 0 1 0 3 0a1.5 1.5 0 1 0-3 0M473.6 220.6a1.5 1.5 0 1 0 3 0a1.5 1.5 0 1 0-3 0M466 240.4a1.5 1.5 0 1 0 3 0a1.5 1.5 0 1 0-3 0M469.5 240.4a1.5 1.5 0 1 0 3 0a1.5 1.5 0 1 0-3 0M482.8 260.4a1.5 1.5 0 1 0 3 0a1.5 1.5 0 1 0-3 0M474.8 280.2a1.5 1.5 0 1 0 3 0a1.5 1.5 0 1 0-3 0M476 240.4a1.5 1.5 0 1 0 3 0a1.5 1.5 0 1 0-3 0M480.2 220.6a1.5 1.5 0 1 0 3 0a1.5 1.5 0 1 0-3 0"/>
<path stroke="#0000ff" d="M500.1 218.2l2 3.5-4.1 0zM495.5 238.1l2 3.5-4.1 0zM502.2 258l2 3.5-4.1 0zM501.5 238.1l2 3.5-4.1 0zM490.3 258l2 3.5-4.1 0zM512.3 218.2l2 3.5-4.1 0zM513.8 218.2l2 3.5-4.1 0zM487.7 238.1l2 3.5-4.1 0zM487.6 238.1l2 3.5-4.1 0zM510.4 238.1l2 3.5-4.1 0zM498.5 258l2 3.5-4.1 0zM504.9 218.2l2 3.5-4.1 0zM507.6 258l2 3.5-4.1 0zM508.5 238.1l2 3.5-4.1 0zM495.2 258l2 3.5-4.1 0zM510.7 238.1l2 3.5-4.1 0zM494.5 238.1l2 3.5-4.1 0zM495.3 258l2 3.5-4.1 0zM516.5 258l2 3.5-4.1 0zM490.3 238.1l2 3.5-4.1 0zM481.6 238.1l2 3.5-4.1 0zM487.4 258l2 3.5-4.1 0zM505.9 238.1l2 3.5-4.1 0zM492.3 258l2 3.5-4.1 0zM504.6 238.1l2 3.5-4.1 0zM484.8 238.1l2 3.5-4.1 0zM512.8 238.1l2 3.5-4.1 0zM476.3 218.2l2 3.5-4.1 0zM515.3 258l2 3.5-4.1 0zM495.5 218.2l2 3.5-4.1 0zM501.8 218.2l2 3.5-4.1 0zM497.4 218.2l2 3.5-4.1 0zM500.1 218.2l2 3.5-4.1 0zM499.1 238.1l2 3.5-4.1 0zM497.5 258l2 3.5-4.1 0zM499.2 238.1l2 3.5-4.1 0zM505.7 258l2 3.5-4.1 0zM498.8 218.2l2 3.5-4.1 0zM516.4 258l2 3.5-4.1 0zM519.4 258l2 3.5-4.1 0zM497.2 258l2 3.5-4.1 0zM514.8 258l2 3.5-4.1 0z"/>
<path stroke="#0000ff" d="M517.2 258l2 3.5-4.1 0zM497.8 238.1l2 3.5-4.1 0zM509.7 258l2 3.5-4.1 0zM504.5 238.1l2 3.5-4.1 0zM504.6 218.2l2 3.5-4.1 0zM501.7 218.2l2 3.5-4.1 0zM496.7 238.1l2 3.5-4.1 0zM492 218.2l2 3.5-4.1 0zM495.1 258l2 3.5-4.1 0zM498 218.2l2 3.5-4.1 0zM503.6 238.1l2 3.5-4.1 0zM495 238.1l2 3.5-4.1 0zM499.1 238.1l2 3.5-4.1 0zM514.2 218.2l2 3.5-4.1 0zM499.8 238.1l2 3.5-4.1 0zM496.1 238.1l2 3.5-4.1 0zM505.9 218.2l2 3.5-4.1 0zM494.8 218.2l2 3.5-4.1 0zM500.5 218.2l2 3.5-4.1 0zM489.3 258l2 3.5-4.1 0zM489 218.2l2 3.5-4.1 0zM488 218.2l2 3.5-4.1 0zM501.6 258l2 3.5-4.1 0zM507.3 258l2 3.5-4.1 0zM494 258l2 3.5-4.1 0zM496.9 238.1l2 3.5-4.1 0zM487.3 258l2 3.5-4.1 0zM494.3 218.2l2 3.5-4.1 0zM496.3 238.1l2 3.5-4.1 0zM498 258l2 3.5-4.1 0zM499.4 238.1l2 3.5-4.1 0zM500.9 238.1l2 3.5-4.1 0zM491.1 258l2 3.5-4.1 0zM496 258l2 3.5-4.1 0zM489.3 258l2 3.5-4.1 0zM501.5 258l2 3.5-4.1 0zM479.8 218.2l2 3.5-4.1 0zM500.2 258l2 3.5-4.1 0zM492.6 238.1l2 3.5-4.1 0zM497.6 218.2l2 3.5-4.1 0zM505.1 238.1l2 3.5-4.1 0zM512.4 258l2 3.5-4.1 0zM489.5 238.1l2 3.5-4.1 0zM507.7 258l2 3.5-4.1 0zM496.7 218.2l2 3.5-4.1 0zM487.6 218.2l2 3.5-4.1 0zM495.5 238.1l2 3.5-4.1 0zM488.6 258l2 3.5-4.1 0zM511.1 258l2 3.5-4.1 0zM483.8 218.2l2 3.5-4.1 0zM486.3 258l2 3.5-4.1 0zM499.5 258l2 3.5-4.1 0zM504.2 238.1l2 3.5-4.1 0zM494.4 218.2l2 3.5-4.1 0zM490 258l2 3.5-4.1 0zM511.3 258l2 3.5-4.1 0zM508.8 258l2 3.5-4.1 0zM490.2 238.1l2 3.5-4.1 0zM503.2 218.2l2 3.5-4.1 0zM496.8 258l2 3.5-4.1 0zM490.5 258l2 3.5-4.1 0zM515.1 258l2 3.5-4.1 0zM510.1 238.1l2 3.5-4.1 0zM498.7 218.2l2 3.5-4.1 0zM497.2 258l2 3.5-4.1 0zM495.6 238.1l2 3.5-4.1 0zM504.7 218.2l2 3.5-4.1 0zM510.2 258l2 3.5-4.1 0zM475.4 218.2l2 3.5-4.1 0zM486.6 238.1l2 3.5-4.1 0zM505.3 258l2 3.5-4.1 0zM514.1 258l2 3.5-4.1 0zM489.6 258l2 3.5-4.1 0zM487.6 258l2 3.5-4.1 0zM477.3 238.1l2 3.5-4.1 0zM495 258l2 3.5-4.1 0zM476.7 218.2l2 3.5-4.1 0zM507.8 238.1l2 3.5-4.1 0zM490.4 218.2l2 3.5-4.1 0zM501.3 258l2 3.5-4.1 0zM510.3 218.2l2 3.5-4.1 0zM494.1 238.1l2 3.5-4.1 0zM503.2 238.1l2 3.5-4.1 0zM507.1 258l2 3.5-4.1 0zM494.9 238.1l2 3.5-4.1 0zM490 238.1l2 3.5-4.1 0z"/>
</g>
<rect x="413" y="196.5" width="130.4" height="107.1" fill="none" stroke="#4c4c4c" stroke-width="1.15"/>
<path d="M417.8 303.6v4.9M435.1 303.6v4.9M452.4 303.6v4.9M469.7 303.6v4.9M487 303.6v4.9M504.3 303.6v4.9M521.6 303.6v4.9M538.9 303.6v4.9M413 280.2h-4.9M413 260.4h-4.9M413 240.4h-4.9M413 220.6h-4.9" stroke="#4c4c4c" stroke-width="1.1" fill="none"/>
<g class="t">
<text x="418" y="320.8">−8</text>
<text x="435.3" y="320.8">−6</text>
<text x="452.6" y="320.8">−4</text>
<text x="469.9" y="320.8">−2</text>
<text x="487" y="320.8">0</text>
<text x="504.3" y="320.8">2</text>
<text x="521.6" y="320.8">4</text>
<text x="538.9" y="320.8">6</text>
<text x="401.5" y="282.9">0</text>
<text x="401.5" y="263.1">1</text>
<text x="401.5" y="243.1">2</text>
<text x="401.5" y="223.2">3</text>
</g>
<g transform="translate(472.5 333.6)"><text class="l" x="0" y="0">X</text><text class="s" x="7.9" y="3.3">1</text><text class="s" x="8.9" y="-4.9">c</text></g>
<g transform="translate(387.8 256.9) rotate(-90)"><text class="l" x="0" y="0">X</text><text class="s" x="7.9" y="3.3">1</text><text class="s" x="8.9" y="-4.9">n</text></g>
<text class="c" x="290.3" y="156.4">(a)</text>
<text class="c" x="290.3" y="348.3">(b)</text>
</svg>
</body></html>
